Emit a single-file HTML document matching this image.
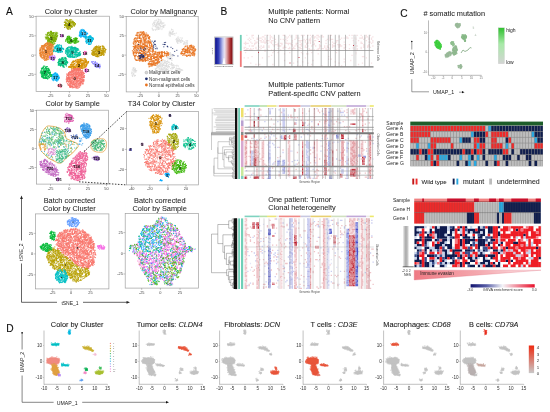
<!DOCTYPE html>
<html><head><meta charset="utf-8"><style>
html,body{margin:0;padding:0;background:#fff;width:550px;height:412px;overflow:hidden}
svg{display:block;font-family:"Liberation Sans", sans-serif;filter:blur(0.4px)}
</style></head><body>
<svg width="550" height="412" viewBox="0 0 550 412">
<text x="5.9" y="15.3" font-size="10.2" text-anchor="start" fill="#111" stroke="#111" stroke-width="0.12">A</text>
<text x="71.1" y="13.9" font-size="7.35" text-anchor="middle" fill="#222"  stroke="#222" stroke-width="0.05">Color by Cluster</text>
<rect x="36.1" y="16.2" width="73.3" height="75.2" fill="none" stroke="#a0a0a0" stroke-width="0.7"/>
<line x1="50.5" y1="91.4" x2="50.5" y2="93.2" stroke="#777" stroke-width="0.45" />
<text x="50.5" y="96.8" font-size="3.9" text-anchor="middle" fill="#444" >-25</text>
<line x1="69.4" y1="91.4" x2="69.4" y2="93.2" stroke="#777" stroke-width="0.45" />
<text x="69.4" y="96.8" font-size="3.9" text-anchor="middle" fill="#444" >0</text>
<line x1="87.9" y1="91.4" x2="87.9" y2="93.2" stroke="#777" stroke-width="0.45" />
<text x="87.9" y="96.8" font-size="3.9" text-anchor="middle" fill="#444" >25</text>
<line x1="106.5" y1="91.4" x2="106.5" y2="93.2" stroke="#777" stroke-width="0.45" />
<text x="106.5" y="96.8" font-size="3.9" text-anchor="middle" fill="#444" >50</text>
<line x1="34.3" y1="16.5" x2="36.1" y2="16.5" stroke="#777" stroke-width="0.45" />
<text x="33.7" y="17.9" font-size="3.9" text-anchor="end" fill="#444" >50</text>
<line x1="34.3" y1="35.8" x2="36.1" y2="35.8" stroke="#777" stroke-width="0.45" />
<text x="33.7" y="37.1" font-size="3.9" text-anchor="end" fill="#444" >25</text>
<line x1="34.3" y1="55.1" x2="36.1" y2="55.1" stroke="#777" stroke-width="0.45" />
<text x="33.7" y="56.5" font-size="3.9" text-anchor="end" fill="#444" >0</text>
<line x1="34.3" y1="74.3" x2="36.1" y2="74.3" stroke="#777" stroke-width="0.45" />
<text x="33.7" y="75.6" font-size="3.9" text-anchor="end" fill="#444" >-25</text>
<path stroke="#A3A500" stroke-width="9" stroke-linecap="square" transform="scale(.1)" d="M658 195h0m14 1h0m37 1h0m-45 2h0m0-1h0m37 1h0m-6 1h0m14 1h0m8-1h0m-16 3h0m-22 3h0m-16 1h0m20 0h0m-6 1h0m20 2h0m-45 0h0m26 1h0m49 1h0m-57 1h0m32 1h0m22 0h0m5-1h0m-29 3h0m22 0h0m4 0h0m-28 0h0m11 1h0m11 1h0m11 0h0m-49 1h0m15 0h0m-43 1h0m29 0h0m31 0h0m20 0h0m-89 2h0m7 1h0m39 0h0m-48 1h0m56-1h0m2 1h0m-43 1h0m71-1h0m-36 2h0m6-1h0m11 0h0m11 0h0m6 0h0m18 0h0m-89 2h0m38 0h0m9-1h0m34 1h0m3 0h0m-44 1h0m5 0h0m18-1h0m23 1h0m-14 1h0m-62 0h0m21 0h0m10 0h0m0 0h0m40 0h0m-53 2h0m48-1h0m3 1h0m-54 1h0m27 0h0m11-1h0m11 2h0m-66 1h0m36 0h0m2 0h0m-35 0h0m20 1h0m64 1h0m-95 0h0m2 0h0m12 1h0m4 1h0m47 0h0m30 0h0m-2 0h0m5 1h0m-99 0h0m57 1h0m-49 0h0m87 1h0m-95 0h0m2 1h0m78-1h0m-55 1h0m3 1h0m-1 1h0m11-1h0m-15 1h0m24 1h0m-30 0h0m14 0h0m7 1h0m-49 0h0m11 0h0m37 1h0m31-1h0m-69 1h0m19 0h0m6 0h0m0 1h0m26 0h0m28-1h0m12 1h0m8 0h0m-74 1h0m17-1h0m42 0h0m-92 2h0m6-1h0m34 1h0m14 0h0m36 0h0m-39 1h0m-41 1h0m18 0h0m8 1h0m34 0h0m-67 1h0m8-1h0m20 0h0m14 1h0m9-1h0m2 0h0m-37 2h0m-10 0h0m3 2h0m42-1h0m3 0h0m-57 1h0m12 0h0m5 1h0m82-1h0m-82 1h0m30 0h0m12 1h0m6-1h0m4 0h0m23 0h0m-63 2h0m46-1h0m8 0h0m16 1h0m-31 1h0m-27 1h0m7 0h0m18 0h0m-39 0h0m5 1h0m-16 1h0m44-1h0m8 1h0m-23 0h0m20 2h0m-6 1h0m-20 0h0m11 1h0m30-1h0m-4 2h0m-51 0h0m15 0h0m13 0h0m-4 1h0m7 0h0m16 2h0m-58 0h0m56 1h0m-71 2h0m39 0h0m-15 1h0m1 3h0m12-1h0m11 0h0m-19 4h0m-2 0h0m33 0h0m-30 2h0m14 0h0m16 1h0m-29 1h0m24 1h0m-17 2h0m-5 4h0m9 0h0m15 0h0"/>
<path stroke="#7CAE00" stroke-width="9" stroke-linecap="square" transform="scale(.1)" d="M509 312h0m2 1h0m-5 3h0m8 0h0m-11 2h0m7 1h0m4-1h0m44 5h0m-72 0h0m1 1h0m81 0h0m-53 2h0m17 0h0m-25 0h0m9 1h0m20 0h0m-58 0h0m66 0h0m-70 2h0m29-1h0m-7 1h0m67 1h0m-71 1h0m28-1h0m10 0h0m7 0h0m-54 1h0m45 1h0m0-1h0m43 0h0m6 1h0m-48 0h0m6 1h0m18 0h0m8 1h0m-80 1h0m30 0h0m19 1h0m-52 1h0m27-1h0m10 1h0m45 0h0m-83 1h0m48 0h0m6 4h0m13 0h0m8 0h0m11-1h0m-49 2h0m-53 0h0m94 1h0m-58 0h0m33 1h0m-58 1h0m94 0h0m-90 1h0m37-1h0m-12 2h0m-4 1h0m72-1h0m-110 1h0m36 0h0m16 1h0m1-1h0m1 1h0m-22 1h0m40-1h0m-57 1h0m12 2h0m19 0h0m15-1h0m28 1h0m29 0h0m-42 0h0m-36 1h0m5 0h0m21 0h0m44 2h0m-43 1h0m15-1h0m14 1h0m-88 1h0m57 0h0m30 0h0m8 1h0m-80 0h0m23 1h0m43-1h0m-70 2h0m47 0h0m27-1h0m20 0h0m3 1h0m-50 0h0m-48 2h0m26 0h0m15 0h0m-14 2h0m39-1h0m20 1h0m-56 0h0m6 0h0m51 0h0m2 0h0m-28 2h0m-22 0h0m0 0h0m-1 1h0m-62 2h0m72 1h0m-63 0h0m4 0h0m56 1h0m13 0h0m2 0h0m21-1h0m1 0h0m12 0h0m-34 2h0m5 0h0m6 0h0m-77 2h0m4 0h0m61 0h0m8-1h0m0 1h0m-34 0h0m15 1h0m-17 0h0m-21 2h0m50 0h0m-81 0h0m7 1h0m4 0h0m17-1h0m2 1h0m47 0h0m-19 0h0m43 1h0m-95 1h0m23 0h0m2 0h0m24-1h0m38 0h0m14 1h0m-88 1h0m26 0h0m4-1h0m38 0h0m11 0h0m9 0h0m-40 1h0m23 1h0m21-1h0m-50 1h0m11 0h0m24 2h0m3-1h0m-60 1h0m-3 2h0m-28 1h0m16-1h0m16 0h0m35 1h0m3 0h0m-62 0h0m72 1h0m-84 1h0m26 1h0m2-1h0m67 0h0m5 1h0m-49 0h0m15 0h0m-10 2h0m7-1h0m18 0h0m1 1h0m13-1h0m-81 1h0m20 0h0m23 0h0m34 0h0m11 1h0m-22 1h0m7 0h0m-52 0h0m37 1h0m31 0h0m-65 1h0m15 0h0m-29 0h0m9 1h0m19-1h0m-15 1h0m8 1h0m10 0h0m-29 1h0m47-1h0m-49 1h0m6 1h0m4-1h0m28 1h0m-23 1h0m14 0h0m31-1h0m-9 2h0m-58 0h0m17 1h0m63-1h0m-69 1h0m6 1h0m28 0h0m10-1h0m3 0h0m-55 2h0m47-1h0m19 0h0m5 1h0m-72 2h0m1 0h0m12-1h0m41 1h0m12 0h0m-31 2h0m20-1h0m24 0h0m-20 1h0m-49 1h0m48 0h0m-58 2h0m12 0h0m-11 0h0m12 1h0m5-1h0m6 1h0m35 1h0m17 0h0m-37 1h0m37 0h0m-39 0h0m1 1h0m-13 0h0m7 1h0m4 0h0m-15 1h0m8-1h0m34 1h0m0-1h0m-5 2h0m-57 2h0m0-1h0m13 1h0m35-1h0m-5 2h0m-26 1h0m26 1h0m-23 0h0m8 1h0m14 0h0m-3 0h0m-37 2h0m37 1h0m9 0h0m14 3h0m-42 0h0m2 1h0m25 1h0m21 1h0m-65 1h0m12 1h0m18 0h0m20 3h0m-8 2h0m-14 1h0m0 3h0m28-1h0m-42 2h0m33 0h0m-41 1h0m33 0h0m-1 1h0m9-1h0m-46 2h0m45-1h0m-12 2h0m-7 3h0m-19 0h0m5 2h0m4-1h0"/>
<path stroke="#E76BF3" stroke-width="9" stroke-linecap="square" transform="scale(.1)" d="M620 347h0m0 0h0m-10 1h0m10 2h0m10 5h0m2 1h0m-16 1h0m-2 1h0m15 1h0m-20 0h0m13 1h0m5-1h0m2 3h0m-7 3h0m-15 1h0m21 1h0m-9 4h0"/>
<path stroke="#39B600" stroke-width="9" stroke-linecap="square" transform="scale(.1)" d="M689 360h0m-9 4h0m-1 0h0m18 0h0m-20 2h0m-3 2h0m22 0h0m-7 4h0m0 0h0m-18 1h0m25 0h0m15 1h0m-21 2h0m-4 3h0m22-1h0m48 0h0m-82 1h0m4 2h0m17 0h0m2 1h0m51-1h0m17 1h0m-4 0h0m-85 2h0m15 0h0m69-1h0m-82 1h0m0 0h0m17 1h0m9-1h0m33 1h0m26-1h0m2 1h0m9-1h0m-107 1h0m9 0h0m75 0h0m17 0h0m-97 1h0m24 0h0m62 2h0m-54 0h0m40 1h0m-53 2h0m20-1h0m44 2h0m-81 1h0m2 0h0m1-1h0m3 0h0m83 0h0m-4 2h0m-71 2h0m12 0h0m41-1h0m21 1h0m4 0h0m-72 1h0m9 0h0m52 0h0m-93 0h0m88 1h0m-84 1h0m47-1h0m57 1h0m-110 0h0m13 0h0m37 1h0m37 0h0m15 0h0m7 0h0m-79 1h0m31 0h0m31 0h0m-37 1h0m2 0h0m47 0h0m-60 1h0m2 1h0m27 0h0m7 1h0m18 0h0m-18 1h0m7-1h0m9 1h0m-80 1h0m16 0h0m45-1h0m-80 2h0m95-1h0m21 1h0m-57 1h0m43 0h0m-67 2h0m19-1h0m22 1h0m-56 0h0m0 1h0m47 0h0m2 0h0m60 1h0m3-1h0m-98 1h0m30 1h0m37 0h0m-56 1h0m52 0h0m-94 0h0m48 1h0m-13 1h0m33-1h0m9 1h0m13-1h0m13 0h0m-73 1h0m67 0h0m-72 2h0m30 0h0m7 0h0m38 0h0m17 1h0m2 0h0m-69 0h0m34 0h0m11 1h0m26-1h0m-106 3h0m57 1h0m-38 1h0m2 1h0m2-1h0m21 1h0m26-1h0m-67 1h0m83 1h0m2 0h0m-74 2h0m16 0h0m8 1h0m48-1h0m-14 2h0m-39 1h0m-15 0h0m-2 1h0m52 0h0m11 0h0"/>
<path stroke="#00B0F6" stroke-width="9" stroke-linecap="square" transform="scale(.1)" d="M823 293h0m-9 6h0m-2 1h0m27-1h0m-16 1h0m12 0h0m-24 2h0m26-1h0m-26 2h0m33 2h0m-17 0h0m-8 2h0m22 0h0m-6 2h0m-26 2h0m-8 0h0m42 1h0m4 0h0m-36 3h0m2-1h0m4 1h0m24 0h0m-30 2h0m30-1h0m-2 1h0m16 1h0m-57 1h0m21-1h0m36 0h0m-39 2h0m25 0h0m19 1h0m-11 2h0m7 2h0m0 0h0m-58 2h0m3 0h0m10 1h0m57 1h0m-66 0h0m0 1h0m70 1h0m-54 0h0m9 0h0m8 0h0m6 1h0m-36 1h0m3 1h0m14 1h0m49 1h0m-63 0h0m67 1h0m-77 0h0m19 1h0m44 0h0m-50 1h0m66-1h0m-73 2h0m0 0h0m19 1h0m43 1h0m-4 1h0m-49 1h0m10-1h0m18 0h0m-30 2h0m32 1h0m-12 2h0m-28 1h0m10-1h0m36 1h0m1 0h0m15-1h0m-72 2h0m27-1h0m-22 1h0m2 1h0m14 0h0m39 1h0m-56 1h0m19 0h0m10 1h0m-17 2h0m50 1h0m-62 0h0m39 1h0m-44 1h0m17-1h0m17 1h0m-29 0h0m53 0h0m-52 1h0m56 0h0m4 2h0m-37 0h0m19 1h0m-32 1h0m29-1h0m6 0h0m10 0h0m-18 1h0m5 0h0m-7 1h0m3 1h0m13-1h0m-32 1h0m32 2h0m-14 1h0m-27 1h0m1 3h0m-257 353h0m7 2h0m-14 5h0m5 3h0m6 0h0m13 1h0m-21 2h0m6 0h0m-15 1h0m26 1h0m7 0h0m0 1h0m-40 0h0m7 1h0m31 1h0m0 1h0m1 0h0m3 0h0m-48 1h0m31 1h0m-30 1h0m9-1h0m-3 2h0m8 0h0m22 0h0m13 1h0m1 0h0m-10 1h0m-22 0h0m36 0h0m-11 1h0m-4 1h0m8 1h0m-51 3h0m40-1h0m-8 2h0m-18 1h0m32 0h0m18-1h0m-38 2h0m22 0h0m-42 0h0m22 0h0m-29 2h0m26 1h0m35 0h0m-42 2h0m9-1h0m-31 1h0m15 1h0m25 0h0m13 0h0m-48 2h0m38-1h0m27 0h0m-50 1h0m29 0h0m-25 2h0m13 0h0m-21 1h0m48 1h0m-62 1h0m68 1h0m-15 1h0m15 1h0m5 2h0m-52 1h0m9 0h0m17-1h0m-29 3h0m-2 0h0m6 1h0m-25 1h0m43 0h0m-28 1h0m13 1h0m21 0h0m-20 1h0m32 0h0m5 0h0m2-1h0m5 1h0m-41 1h0m35 1h0m-17 0h0m-47 3h0m45 1h0m-39 0h0m3 1h0m35-1h0m12 2h0m-4 0h0m-32 2h0m29 0h0m7 0h0m-41 0h0m15 1h0m10 0h0m17 2h0m4 0h0m-15 1h0m9 0h0m-36 1h0m-12 1h0m26-1h0m1 0h0m9 5h0m-30 1h0m32 3h0m6 0h0"/>
<path stroke="#00BAE0" stroke-width="9" stroke-linecap="square" transform="scale(.1)" d="M899 358h0m1 1h0m4 2h0m6 1h0m-20 2h0m4 0h0m9-1h0m-36 3h0m17 0h0m11-1h0m-5 1h0m-27 2h0m34 0h0m0 0h0m10-1h0m-54 2h0m60 0h0m-50 2h0m5-1h0m10 0h0m5 0h0m-5 4h0m20-1h0m-38 1h0m2 0h0m22 1h0m12 0h0m15 0h0m10 0h0m-69 0h0m5 1h0m45-1h0m7 0h0m11 1h0m-72 1h0m74 0h0m-39 0h0m27 1h0m-53 0h0m39 2h0m24 1h0m13 0h0m-24 1h0m-55 1h0m79 1h0m-72 0h0m65 1h0m-43 0h0m5 0h0m24 1h0m-51 1h0m23 0h0m-12 1h0m19-1h0m9 1h0m28 0h0m-17 2h0m19 0h0m-38 1h0m38 2h0m-16 0h0m0 1h0m15-1h0m-33 1h0m-36 2h0m21 0h0m19-1h0m-20 2h0m24 0h0m29 0h0m-59 1h0m27 1h0m11 0h0m-19 1h0m2 0h0m-9 2h0m4 0h0m7-1h0m-34 2h0m17 0h0m-12 1h0m21-1h0m17 1h0m2 1h0m17-1h0m-65 5h0m50-1h0m5 1h0m7-1h0m-44 1h0m24 1h0m5 0h0m13 0h0m-40 0h0m7 1h0m7-1h0m31 1h0m-55 0h0m45 0h0m-20 1h0m-33 2h0m6-1h0m44 1h0m2 1h0m-58 3h0m12 1h0m45 0h0m-19 1h0m3 0h0m-16 1h0m-16 2h0m50 1h0m-41 1h0m7 1h0m16-1h0m-8 3h0m19 0h0m-44 2h0m47-1h0m-44 4h0m14-1h0m6 1h0m25 4h0m-18 3h0m0 1h0m5 0h0m7 3h0m-22 0h0m3 1h0m5 0h0"/>
<path stroke="#EA8331" stroke-width="9" stroke-linecap="square" transform="scale(.1)" d="M473 425h0m2 3h0m-11 2h0m32 0h0m-14 1h0m16 0h0m-1 2h0m1 0h0m-45 2h0m13-1h0m9 0h0m-17 2h0m18 1h0m2-1h0m5 1h0m19-1h0m7 2h0m-38 1h0m21-1h0m-22 2h0m40 1h0m-51 0h0m11 1h0m32 1h0m3 0h0m-48 1h0m17-1h0m2 0h0m1 1h0m36 0h0m-36 0h0m34 1h0m11-1h0m6 1h0m-82 0h0m65 1h0m2 0h0m1 0h0m-35 1h0m6 0h0m15 0h0m14 0h0m10 1h0m-71 0h0m61 1h0m15 1h0m-83 1h0m55 1h0m24-1h0m-84 1h0m5 1h0m9 0h0m11 1h0m-45 1h0m15-1h0m26 0h0m1 1h0m-31 1h0m26-1h0m22 0h0m24 1h0m0 0h0m22 0h0m-101 0h0m33 0h0m48 0h0m-59 1h0m64 0h0m-63 2h0m0 0h0m-34 1h0m29-1h0m23 1h0m-29 0h0m34 1h0m20 0h0m5 0h0m17 0h0m-98 0h0m15 1h0m2 0h0m93 0h0m-97 1h0m49 0h0m11 0h0m-12 0h0m8 1h0m-54 0h0m50 1h0m16-1h0m16 0h0m0 0h0m-89 2h0m6 0h0m21 0h0m82 1h0m-89 1h0m65 0h0m-92 0h0m1 1h0m16 0h0m23-1h0m27 1h0m28 0h0m-76 2h0m86 0h0m9-1h0m2 0h0m-92 1h0m28 1h0m7 1h0m7-1h0m4 1h0m7-1h0m6 1h0m-34 2h0m47 0h0m-94 1h0m51-1h0m24 0h0m-80 2h0m10 0h0m25 0h0m-10 1h0m53-1h0m-88 2h0m16 0h0m51 0h0m28-1h0m7 1h0m8-1h0m-96 2h0m52 0h0m43-1h0m-83 2h0m35 0h0m27-1h0m28 0h0m-35 1h0m11 0h0m-84 2h0m34 0h0m-43 0h0m30 1h0m74-1h0m15 1h0m-94 1h0m49 0h0m-43 0h0m46 0h0m7 1h0m27 0h0m-78 1h0m35 1h0m10-1h0m25 1h0m-29 1h0m26-1h0m15 0h0m-89 1h0m49 1h0m1-1h0m6 0h0m1 0h0m6 1h0m-68 1h0m14-1h0m77 0h0m21 1h0m-134 1h0m27-1h0m51 1h0m12-1h0m8 0h0m1 0h0m3 0h0m-65 4h0m58 0h0m39-1h0m-132 2h0m18 0h0m27-1h0m24 0h0m5 0h0m16 1h0m-90 0h0m44 1h0m5 0h0m27-1h0m19 0h0m-95 2h0m8-1h0m34 1h0m24 0h0m5 0h0m56-1h0m-103 2h0m73-1h0m25 1h0m-99 1h0m84-1h0m2 0h0m-107 1h0m34 0h0m40 1h0m-13 1h0m4 1h0m-62 1h0m88 1h0m-97 0h0m2 1h0m133-1h0m-51 2h0m38 0h0m8 0h0m-107 0h0m28 1h0m16-1h0m-18 2h0m37-1h0m27 0h0m-63 1h0m9 1h0m-55 1h0m26 0h0m16-1h0m36 0h0m25 1h0m18-1h0m14 0h0m-141 2h0m15 0h0m50 1h0m49-1h0m-87 1h0m86 0h0m24 0h0m-59 1h0m25 0h0m-17 1h0m48 1h0m-93 1h0m19-1h0m33 1h0m11-1h0m-82 1h0m48 1h0m32-1h0m-52 1h0m14 1h0m7-1h0m-46 2h0m90 0h0m-105 0h0m23 0h0m21 1h0m2 0h0m33-1h0m-55 1h0m20 0h0m21 0h0m20 0h0m-35 1h0m4 0h0m49 0h0m-73 1h0m-26 2h0m60-1h0m19 0h0m-87 2h0m17-1h0m4 1h0m29-1h0m-18 1h0m54 1h0m-25 0h0m2 1h0m-64 0h0m0 1h0m22 0h0m-22 0h0m4 1h0m11-1h0m65 1h0m27-1h0m13 0h0m3 1h0m2 0h0m-99 0h0m39 0h0m32 0h0m22 0h0m-118 2h0m76-1h0m45 0h0m-117 1h0m48 1h0m21-1h0m-77 2h0m9-1h0m34 0h0m52 0h0m-90 2h0m0-1h0m22 0h0m48 0h0m15 1h0m-45 1h0m71-1h0m-73 2h0m20-1h0m-52 2h0m16-1h0m69 1h0m-93 0h0m89 1h0m17-1h0m-53 1h0m13 1h0m13-1h0m35 1h0m-81 0h0m7 0h0m22 1h0m-65 1h0m39 0h0m28-1h0m-11 1h0m48 1h0m-30 0h0m20 1h0m-78 0h0m7 1h0m32 0h0m69 0h0m-106 2h0m82-1h0m-92 2h0m9 0h0m45-1h0m8 0h0m20 0h0m24 0h0m3 1h0m12 0h0m-123 0h0m50 1h0m52 0h0m-91 2h0m82-1h0m7 1h0m-101 0h0m3 1h0m25-1h0m9 1h0m34 0h0m19 0h0m12-1h0m-72 1h0m11 1h0m44 0h0m-13 1h0m45 0h0m-108 1h0m21 0h0m-32 0h0m50 2h0m-26 1h0m-24 1h0m34 0h0m4-1h0m18 1h0m14 1h0m-8 1h0m12-1h0m10 0h0m-81 1h0m71 0h0m1 0h0m13 0h0m-56 2h0m-23 0h0m32 1h0m49-1h0m-79 2h0m83-1h0m24 1h0m-108 1h0m102 0h0m5-1h0m-75 2h0m13 0h0m1 0h0m16-1h0m21 1h0m-30 2h0m-56 1h0m38-1h0m67 0h0m-76 2h0m38-1h0m25 1h0m9 0h0m-64 1h0m-25 1h0m61-1h0m7 1h0m-45 0h0m66 0h0m-90 2h0m12 0h0m1-1h0m73 0h0m-46 2h0m30-1h0m8 0h0m7 0h0m-59 2h0m29 0h0m15-1h0m-50 2h0m0 0h0m-23 1h0m27 1h0m59-1h0m-58 1h0m18 0h0m48 1h0m-1 1h0m-86 0h0m82 1h0m-65 0h0m27 1h0m1 0h0m-39 2h0m34-1h0m41 2h0m-48 0h0m43 1h0m-55 0h0m21 1h0m13-1h0m27 2h0m-20 0h0m-21 2h0m-27 2h0m20 0h0m15 2h0m8 0h0m-31 1h0m3 0h0m17 1h0m-13 5h0m7-1h0m-18 3h0"/>
<path stroke="#00BFC4" stroke-width="9" stroke-linecap="square" transform="scale(.1)" d="M594 448h0m-19 1h0m23 1h0m-18 1h0m-13 2h0m14-1h0m4 1h0m29 0h0m-4 2h0m-44 1h0m19 2h0m13 0h0m-28 1h0m-7 1h0m9 0h0m-13 1h0m54 1h0m-40 3h0m43-1h0m-50 1h0m-6 1h0m5 1h0m-15 0h0m36 0h0m2 2h0m27 1h0m-49 0h0m49 1h0m-63 0h0m22 1h0m25-1h0m-45 1h0m0 2h0m34-1h0m27 3h0m-42 0h0m2 0h0m12 0h0m-3 1h0m16 0h0m-54 1h0m38 1h0m34-1h0m-22 1h0m0 1h0m19-1h0m-6 1h0m5 0h0m-72 1h0m73 0h0m-31 2h0m19-1h0m4 0h0m-21 1h0m5 0h0m7 0h0m26 0h0m3 1h0m-77 0h0m12 0h0m31 0h0m35 0h0m4 0h0m-8 1h0m4 1h0m-72 1h0m31-1h0m18 1h0m14 0h0m-48 1h0m-21 2h0m87 1h0m-27 0h0m4 1h0m-48 0h0m16 1h0m10-1h0m5 0h0m15 1h0m-44 1h0m34-1h0m34 1h0m-46 1h0m7 0h0m-29 1h0m0 1h0m19-1h0m15 0h0m28 0h0m-34 2h0m-53 1h0m39-1h0m19 0h0m7 1h0m-31 1h0m11-1h0m8 1h0m11 0h0m3 1h0m-17 0h0m-20 1h0m-32 2h0m46 1h0m28 1h0m-49 2h0m4 0h0m24-1h0m-59 2h0m24 0h0m27 0h0m6 0h0m23 1h0m-38 0h0m3 1h0m6-1h0m-41 1h0m18 1h0m23 0h0m-27 2h0m27 0h0m15 0h0m23 0h0m-51 1h0m17 0h0m35-1h0m-20 1h0m-69 1h0m20 1h0m12 0h0m49 2h0m-37 2h0m13-1h0m-17 2h0m46-1h0m-19 1h0m-17 1h0m21 2h0m-18 1h0"/>
<path stroke="#00C1A3" stroke-width="9" stroke-linecap="square" transform="scale(.1)" d="M718 462h0m-6 4h0m-10 2h0m-13 1h0m33 1h0m-34 2h0m26 1h0m13-1h0m-31 1h0m23 0h0m29 0h0m1 0h0m3 1h0m-46 0h0m5 0h0m15 1h0m16 0h0m1 0h0m-69 2h0m3-1h0m61 1h0m-50 1h0m30 0h0m2 0h0m16 0h0m11 1h0m14 0h0m-85 1h0m12 0h0m60-1h0m8 1h0m-83 1h0m42-1h0m20 0h0m7 0h0m14 1h0m-78 0h0m42 1h0m19 0h0m18 0h0m-35 2h0m11-1h0m14 1h0m21-1h0m-95 1h0m31 0h0m20 1h0m17-1h0m10 0h0m5 0h0m19 1h0m-107 0h0m1 0h0m2 1h0m50-1h0m-48 2h0m46 0h0m37-1h0m10 1h0m-42 2h0m26-1h0m12 1h0m17 0h0m-76 1h0m51 0h0m10 0h0m1 0h0m16-1h0m-76 1h0m64 0h0m6 1h0m-105 1h0m98 0h0m-108 0h0m31 1h0m-20 1h0m64 2h0m19 0h0m26 0h0m-94 0h0m13 1h0m21 0h0m28 0h0m-75 0h0m8 1h0m65-1h0m-40 1h0m8 1h0m62-1h0m-58 2h0m3-1h0m17 0h0m29 0h0m-106 2h0m48-1h0m17 1h0m59-1h0m-71 2h0m75 0h0m-54 2h0m22-1h0m-96 2h0m66-1h0m35 1h0m7 0h0m6-1h0m-100 2h0m9-1h0m4 0h0m5 1h0m25-1h0m18 1h0m24 0h0m-103 0h0m64 0h0m-55 1h0m84 0h0m-73 1h0m44 0h0m-31 2h0m11 0h0m57 0h0m0-1h0m-97 1h0m37 0h0m11 1h0m3 0h0m8-1h0m51 2h0m-108 0h0m56 1h0m-48 2h0m11-1h0m54 1h0m-44 1h0m19 0h0m53-1h0m37 0h0m-64 1h0m-70 2h0m59 0h0m-68 0h0m8 0h0m13 0h0m72 0h0m0 0h0m8 0h0m-106 1h0m34 1h0m7 0h0m16 0h0m42 0h0m13 0h0m-89 1h0m23-1h0m33 0h0m-54 2h0m3-1h0m45 1h0m3 0h0m2-1h0m21 1h0m-49 0h0m10 1h0m40 1h0m20 0h0m-64 1h0m58-1h0m13 1h0m-61 0h0m28 0h0m47 0h0m2 0h0m-116 2h0m63-1h0m11 0h0m-90 2h0m133 0h0m-122 1h0m2 0h0m12 0h0m107 1h0m-140 0h0m64 0h0m65 1h0m15-1h0m-116 2h0m57-1h0m49 0h0m-135 1h0m102 1h0m4 1h0m23 0h0m-104 2h0m22 0h0m4-1h0m92 0h0m-130 3h0m35-1h0m5 1h0m100 0h0m-85 1h0m61 0h0m2 0h0m-41 1h0m-31 1h0m66-1h0m-105 2h0m1-1h0m41 1h0m58-1h0m30 1h0m-110 0h0m16 0h0m45 0h0m29 1h0m10 0h0m-69 1h0m17 0h0m16-1h0m-54 2h0m3 0h0m61-1h0m6 1h0m26 0h0m-53 0h0m53 1h0m-119 1h0m78 0h0m-94 0h0m31 1h0m10-1h0m18 0h0m38 0h0m-59 2h0m28-1h0m31 0h0m22 0h0m18 0h0m-35 1h0m2 0h0m-93 2h0m3-1h0m22 0h0m91 0h0m8 0h0m-107 1h0m5 1h0m50 0h0m-41 0h0m55 0h0m34 0h0m-106 1h0m99 0h0m-69 2h0m70 0h0m7 0h0m-69 1h0m-36 0h0m11 0h0m71 1h0m14-1h0m7 1h0m-45 0h0m33 0h0m-83 3h0m21 0h0m65 0h0m-114 0h0m18 0h0m11 1h0m55-1h0m18 0h0m-100 2h0m10 0h0m36-1h0m1 0h0m5 0h0m47 0h0m1 1h0m-99 0h0m11 1h0m23 1h0m58-1h0m5 0h0m-90 1h0m10 1h0m13 1h0m16 0h0m28 1h0m-3 0h0m-41 1h0m2 0h0m8 1h0m26-1h0m-56 2h0m17 0h0m29 0h0m34 0h0m-76 0h0m27 0h0m16 1h0m-27 0h0m22 1h0m-31 1h0m29 0h0m10 0h0m7 1h0m0 1h0m16-1h0"/>
<path stroke="#C09B00" stroke-width="9" stroke-linecap="square" transform="scale(.1)" d="M988 458h0m-21 1h0m54 1h0m9 0h0m-3 1h0m-22 3h0m0 2h0m20 0h0m-65 0h0m22 0h0m25 0h0m-54 1h0m12 0h0m1 0h0m9 1h0m61 0h0m3 0h0m-86 0h0m12 0h0m37 0h0m4 1h0m-42 0h0m9 1h0m25-1h0m36 1h0m-42 0h0m-31 2h0m-6 0h0m8 1h0m30 0h0m-14 0h0m11 0h0m38 1h0m-60 2h0m19-1h0m8 0h0m-51 1h0m50 1h0m2 0h0m3 1h0m-45 2h0m24 0h0m63 0h0m-80 0h0m46 1h0m37 0h0m-104 2h0m1 0h0m30-1h0m-18 1h0m32 1h0m45 0h0m8 0h0m8 0h0m-66 0h0m64 0h0m-85 2h0m85 0h0m-93 0h0m45 1h0m-46 1h0m4-1h0m45 0h0m42 0h0m-77 1h0m60 1h0m5-1h0m1 1h0m23 0h0m-45 1h0m3-1h0m-76 2h0m64-1h0m32 0h0m-31 2h0m5 0h0m25 0h0m-97 1h0m16 0h0m9 1h0m11 0h0m-38 2h0m49-1h0m81 1h0m-120 0h0m26 0h0m22 0h0m47 0h0m-42 2h0m61-1h0m-61 2h0m2 0h0m1 0h0m-35 0h0m0 0h0m3 1h0m89-1h0m-106 1h0m27 1h0m12-1h0m-15 1h0m10 0h0m5 0h0m2 0h0m29 2h0m27-1h0m-59 1h0m29 0h0m-74 2h0m14 1h0m9 0h0m6-1h0m3 1h0m29 0h0m26 0h0m-111 0h0m6 1h0m72 0h0m3-1h0m18 1h0m13 0h0m6-1h0m-105 1h0m51 0h0m8 0h0m61 0h0m2 1h0m-37 1h0m14-1h0m-8 1h0m13 0h0m-103 2h0m75-1h0m-24 1h0m2 1h0m67 0h0m-80 1h0m-39 2h0m28 0h0m84 0h0m-69 0h0m25 1h0m-64 0h0m13 1h0m1 0h0m4-1h0m42 1h0m37-1h0m-93 1h0m16 1h0m72-1h0m-51 2h0m5 0h0m45 0h0m3 0h0m-105 0h0m112 0h0m-92 1h0m5 0h0m42 1h0m60 0h0m-110 1h0m30 0h0m8-1h0m3 0h0m11 1h0m23-1h0m9 0h0m4 0h0m-93 1h0m28 1h0m54 0h0m14 0h0m-113 1h0m94 0h0m-81 1h0m77-1h0m-19 1h0m18 1h0m-83 1h0m8 0h0m90-1h0m-34 1h0m18 1h0m-2 1h0m45-1h0m-109 2h0m4 0h0m51-1h0m17 1h0m21 0h0m11-1h0m-112 2h0m20 1h0m36 0h0m17 0h0m4 1h0m-21 2h0m24-1h0m13 1h0m-109 1h0m21-1h0m23 1h0m5 0h0m51 0h0m-88 1h0m26 0h0m10-1h0m45 1h0m22 0h0m-86 0h0m33 1h0m-59 0h0m9 1h0m13-1h0m37 0h0m18 0h0m-66 2h0m4 0h0m56 0h0m25 0h0m11-1h0m-2 2h0m8-1h0m-105 2h0m17-1h0m46 0h0m-69 2h0m98-1h0m-68 2h0m14-1h0m3 0h0m2 1h0m48 0h0m22 0h0m-122 1h0m25 0h0m21-1h0m14 0h0m34 0h0m-87 2h0m18 1h0m8 0h0m-27 1h0m25-1h0m30 0h0m50 1h0m-85 1h0m73 0h0m-48 0h0m6 1h0m8-1h0m25 1h0m-51 1h0m14 0h0m-27 1h0m16-1h0m37 1h0m38-1h0m-100 1h0m66 0h0m5 0h0m-78 2h0m41-1h0m7 1h0m-44 0h0m104 0h0m-27 1h0m1 0h0m-35 3h0m21-1h0m-45 3h0m24 0h0m1 1h0m-12 2h0m-9 0h0m15 0h0m3 1h0m-10 1h0m19 0h0m-10 2h0m-2 1h0m17 0h0"/>
<path stroke="#FF62BC" stroke-width="9" stroke-linecap="square" transform="scale(.1)" d="M849 514h0m-1 1h0m-4 0h0m14 1h0m5 2h0m-9 2h0m-16 5h0m13 6h0m10 1h0m-25 1h0m2-1h0m18 1h0m-7 1h0m-3 2h0m18-1h0m-29 3h0m19 0h0m-11 1h0m9 0h0m4 5h0m-11 3h0m0-1h0"/>
<path stroke="#C77CFF" stroke-width="9" stroke-linecap="square" transform="scale(.1)" d="M523 558h0m23-1h0m-19 3h0m-3 1h0m14 2h0m-40 0h0m2 1h0m-2 1h0m23 2h0m1 0h0m-14 1h0m-9 1h0m46 0h0m-21 2h0m28-1h0m-43 2h0m11-1h0m3 1h0m-26 0h0m18 1h0m25 0h0m0 1h0m13 0h0m-58 1h0m39-1h0m1 1h0m-25 0h0m32 2h0m9 1h0m-16 0h0m-8 2h0m17 0h0m-20 0h0m23 1h0m-21 2h0m-13 0h0m18 0h0m-32 1h0m47 1h0m-17 1h0m-10 3h0m-7 2h0m6 2h0m18-1h0m-28 2h0m27 2h0m-22 1h0m17 2h0m-5 5h0m0 0h0m4 0h0m12-1h0m-4 3h0"/>
<path stroke="#00BF7D" stroke-width="9" stroke-linecap="square" transform="scale(.1)" d="M651 574h0m-11 0h0m-19 2h0m35 1h0m-30 3h0m-5 1h0m0 0h0m6 0h0m27-1h0m-12 2h0m15 1h0m1 1h0m3 0h0m-48 0h0m7 1h0m28 1h0m-22 1h0m-27 2h0m-2 1h0m38 0h0m22 0h0m-11 2h0m-26 1h0m-28 1h0m23-1h0m52 0h0m-73 1h0m19 0h0m0 0h0m-25 2h0m17 0h0m27 0h0m-26 2h0m27-1h0m22 1h0m-29 0h0m-20 2h0m25 0h0m-36 3h0m11-1h0m-16 2h0m43 0h0m12 0h0m5 1h0m7-1h0m4 0h0m4 1h0m-54 2h0m0 1h0m12 0h0m33 0h0m-58 0h0m0 2h0m22 0h0m-35 2h0m16 1h0m20 0h0m-33 0h0m7 2h0m21-1h0m31 1h0m-8 1h0m1 0h0m4 0h0m17-1h0m-71 2h0m14-1h0m8 0h0m53 0h0m-79 2h0m16 0h0m13-1h0m55 0h0m-19 2h0m-22 1h0m0-1h0m0 1h0m40 0h0m0 0h0m4 0h0m-53 2h0m7 0h0m-36 1h0m81 0h0m-47 0h0m28 0h0m0 1h0m24-1h0m0 1h0m-99 0h0m7 0h0m49 2h0m-15 1h0m17 0h0m22 0h0m-26 0h0m32 1h0m2-1h0m-41 1h0m38 1h0m-73 1h0m65-1h0m-74 1h0m21 0h0m34 1h0m-14 1h0m24 0h0m-60 1h0m26-1h0m41 1h0m-51 1h0m51 0h0m21-1h0m-79 2h0m11-1h0m8 1h0m3 0h0m41 0h0m-63 0h0m42 0h0m-25 2h0m34 1h0m-29 1h0m33-1h0m-63 2h0m12 0h0m-4 1h0m31-1h0m18 1h0m-60 0h0m30 1h0m23 1h0m12 0h0m9 0h0m-56 0h0m7 1h0m11-1h0m35 1h0m9-1h0m-79 1h0m15 2h0m14 0h0m50 1h0m-78 1h0m56 0h0m12 0h0m8 0h0m-55 2h0m-25 1h0m46-1h0m1 1h0m32-1h0m-29 2h0m-41 1h0m23 0h0m-22 1h0m39 0h0m-27 1h0m21 1h0m-21 2h0m2 0h0m-1 0h0m17 0h0m3 2h0m39 1h0m-27 2h0m1-1h0m-2 1h0m-1 1h0m-2 5h0m0 2h0m11 2h0"/>
<path stroke="#D89000" stroke-width="9" stroke-linecap="square" transform="scale(.1)" d="M831 586h0m14 1h0m-36 2h0m47 0h0m-44 1h0m39 1h0m5 0h0m-50 1h0m3-1h0m-13 1h0m-14 2h0m14 2h0m9 0h0m43-1h0m-85 3h0m14-1h0m11 0h0m-13 1h0m12 3h0m44-1h0m27 1h0m6 0h0m-47 0h0m4 1h0m29-1h0m-32 2h0m0 0h0m4 0h0m-67 0h0m109 1h0m-43 0h0m-18 1h0m10 0h0m11 0h0m8 0h0m6 1h0m18 0h0m-58 0h0m-45 1h0m5 1h0m24-1h0m7 0h0m13 1h0m6-1h0m-3 1h0m0 0h0m17 1h0m-59 1h0m14-1h0m68 0h0m-111 1h0m15 1h0m-18 0h0m40 1h0m6 0h0m31 0h0m28 1h0m28-1h0m-123 1h0m116 0h0m9 1h0m-125 0h0m3 1h0m18-1h0m19 1h0m76 0h0m29 0h0m-104 1h0m2-1h0m10 0h0m0 0h0m11 0h0m51 0h0m-77 2h0m40 0h0m24-1h0m38 1h0m-96 0h0m13 1h0m70 0h0m-143 1h0m11-1h0m-12 1h0m55 0h0m101 1h0m-30 1h0m33 0h0m-147 1h0m1-1h0m32 1h0m26 1h0m42 0h0m-60 1h0m17-1h0m1 1h0m8-1h0m53 0h0m-133 2h0m60 0h0m64-1h0m35 1h0m-164 1h0m44 0h0m93 0h0m-69 0h0m7 0h0m68 2h0m3-1h0m6 0h0m-80 2h0m54-1h0m35 0h0m-122 2h0m18 0h0m94 0h0m-94 1h0m31 0h0m11-1h0m19 0h0m-56 1h0m41 0h0m4 0h0m7 1h0m49-1h0m-77 2h0m12-1h0m8 1h0m19-1h0m6 1h0m-32 0h0m-72 2h0m94-1h0m32 0h0m-47 1h0m13 1h0m-61 1h0m1-1h0m-58 1h0m62 0h0m92 1h0m-128 1h0m43-1h0m-75 1h0m82 0h0m-65 3h0m3-1h0m53 1h0m0-1h0m55 1h0m-110 0h0m36 1h0m25 0h0m-64 1h0m11-1h0m48 0h0m3 0h0m31 0h0m5 1h0m22 0h0m9-1h0m-74 1h0m37 0h0m-112 2h0m6 0h0m2 0h0m64 0h0m17-1h0m29 0h0m-10 2h0m1-1h0m2 0h0m-59 1h0m57 1h0m49-1h0m3 1h0m-35 0h0m7 0h0m25 1h0m-159 1h0m4-1h0m25 0h0m29 0h0m14 0h0m18 0h0m69 1h0m-161 0h0m69 0h0m48 1h0m26 0h0m-127 1h0m16-1h0m53 1h0m29-1h0m13 0h0m28 1h0m-97 1h0m14-1h0m16 1h0m19 1h0m11-1h0m-32 1h0m37 0h0m-31 2h0m10-1h0m4 1h0m3-1h0m-94 2h0m125-1h0m19 1h0m-136 1h0m64 0h0m2-1h0m15 1h0m6 0h0m-93 0h0m37 0h0m29 1h0m40 0h0m-46 0h0m7 1h0m71 0h0m-161 1h0m60-1h0m39 0h0m-65 2h0m9-1h0m38 0h0m15 1h0m20 0h0m17 0h0m19-1h0m6 1h0m-44 1h0m34-1h0m13 1h0m-141 0h0m3 1h0m20-1h0m-12 2h0m98 0h0m-136 0h0m4 1h0m49 0h0m24 0h0m1-1h0m51 0h0m-129 1h0m18 0h0m4 0h0m9 1h0m50 0h0m43 0h0m-81 0h0m2 1h0m59-1h0m-105 2h0m9 0h0m1-1h0m91 1h0m12 0h0m38 0h0m-152 1h0m15 0h0m45-1h0m60 0h0m-121 1h0m24 0h0m38 1h0m2-1h0m56 1h0m5 0h0m45-1h0m-121 2h0m42-1h0m19 0h0m12 0h0m5 1h0m31 0h0m8-1h0m-142 2h0m18-1h0m13 0h0m10 0h0m38 1h0m-88 1h0m45-1h0m76 0h0m-135 1h0m31 0h0m67 0h0m8 0h0m-59 2h0m15-1h0m9 1h0m-51 1h0m69-1h0m61 1h0m-103 0h0m104 1h0m-88 0h0m25 0h0m51 1h0m-68 0h0m77 1h0m-80 1h0m41 0h0m9-1h0m-71 3h0m3-1h0m41 1h0m12 0h0m-76 1h0m12-1h0m10 1h0m16 0h0m31-1h0m9 1h0m3 0h0m21 1h0m1 0h0m-46 0h0m8 1h0m-42 0h0m41 1h0m38-1h0m-74 1h0m50 1h0m31 1h0m-46 1h0m4-1h0m19 1h0m-83 1h0m12-1h0m7 1h0m6 0h0m40 3h0m-43 0h0m39 0h0m-20 1h0m17 0h0m-36 2h0m32-1h0m9 0h0m17 1h0m-18 0h0m10 0h0m-45 2h0m12-1h0m5 0h0m6 0h0m1 1h0m10-1h0m16 0h0m3 0h0m-37 2h0m41 1h0"/>
<path stroke="#9590FF" stroke-width="9" stroke-linecap="square" transform="scale(.1)" d="M936 615h0m-16 2h0m35 0h0m-35 1h0m-1 2h0m-3 0h0m12 0h0m19 1h0m6-1h0m-28 1h0m31 2h0m-1 0h0m0 1h0m-4 2h0m-3 1h0m14 2h0m12 2h0m-49 2h0m6 0h0m30 0h0m-25 2h0m37 0h0m-31 2h0m5 1h0m33-1h0m-48 2h0m16 0h0m6 0h0m7 1h0m5 0h0m7 1h0m-23 0h0m-13 1h0m62 1h0m-31 0h0m26 1h0m-12 1h0m1-1h0m13 1h0m-41 0h0m35 1h0m-26 1h0m22-1h0m-25 1h0m2 1h0m-17 2h0m8-1h0m21 0h0m7 1h0m-26 1h0m-9 1h0m22 2h0m9 0h0m16 1h0m3 0h0m-50 3h0m53 0h0m-36 1h0m5-1h0m-13 2h0m8 0h0m4 2h0m27-1h0m6 0h0m-49 2h0m1-1h0m26 1h0m6 1h0m14-1h0m-46 2h0m18-1h0m-6 2h0m27 0h0m5 0h0m-28 0h0m31 1h0m2 0h0m-37 2h0m33-1h0m-21 1h0m20 0h0m-36 2h0m9 2h0m9 0h0m-16 0h0m21 0h0m12 1h0m1 8h0"/>
<path stroke="#FA62DB" stroke-width="9" stroke-linecap="square" transform="scale(.1)" d="M858 687h0m3 0h0m1 5h0m7 1h0m-4 1h0m10 0h0m-26 3h0m19 0h0m-2 7h0m-4 1h0m-1 1h0m-11 1h0m-1 1h0m33 2h0m-28 2h0m16 0h0m4 0h0m-12 1h0m-4 5h0m0 0h0m9 2h0m-4 2h0"/>
<path stroke="#00BB4E" stroke-width="9" stroke-linecap="square" transform="scale(.1)" d="M440 659h0m-2 4h0m11 0h0m21 2h0m2 1h0m-9 1h0m-27 3h0m-7 2h0m24-1h0m14 2h0m-35 1h0m4 2h0m19 0h0m-23 4h0m23 0h0m-41 2h0m10 0h0m33 0h0m-30 0h0m59 1h0m-25 1h0m22 0h0m-58 1h0m39 0h0m9-1h0m-55 1h0m28 1h0m24 0h0m0 1h0m-7 0h0m-33 2h0m-15 2h0m15 0h0m27 1h0m31-1h0m-21 1h0m-34 1h0m49 0h0m10 1h0m-10 0h0m6 2h0m-44 1h0m22 2h0m-51 1h0m52-1h0m-6 1h0m6 0h0m15 2h0m-33 0h0m35 1h0m2 0h0m-75 1h0m45 0h0m21 1h0m12-1h0m5 0h0m-58 2h0m16-1h0m44 0h0m-32 1h0m-12 2h0m16 0h0m-35 1h0m18-1h0m32 0h0m-60 2h0m16-1h0m37 1h0m-30 1h0m7-1h0m20 0h0m-64 2h0m65 0h0m8 0h0m-16 1h0m35 0h0m-70 1h0m1 1h0m10 0h0m25 0h0m-58 1h0m32-1h0m-26 2h0m30 1h0m-22 0h0m59 1h0m-34 1h0m16 0h0m23-1h0m-58 1h0m19 0h0m-5 1h0m27 0h0m5 0h0m8 1h0m10 0h0m-85 1h0m29 0h0m12 0h0m3-1h0m39 1h0m-66 1h0m47 0h0m-27 0h0m3 0h0m8 0h0m44 1h0m5 0h0m-90 2h0m22 0h0m7-1h0m41 1h0m7 0h0m0 0h0m-89 1h0m16 0h0m8-1h0m20 1h0m0-1h0m41 1h0m13-1h0m-54 1h0m21 1h0m4-1h0m18 1h0m-50 1h0m15 0h0m41 0h0m-75 1h0m29 1h0m33 0h0m-73 1h0m8-1h0m49 1h0m-44 1h0m8 1h0m7-1h0m-14 1h0m9 1h0m67-1h0m-73 1h0m19 0h0m24 1h0m12 0h0m8 0h0m12 1h0m-87 2h0m27-1h0m15 0h0m0 1h0m41-1h0m-78 1h0m0 0h0m13 0h0m12 1h0m1 0h0m1-1h0m-10 2h0m29 0h0m31-1h0m-52 1h0m19 0h0m-11 2h0m17 1h0m39 0h0m5 1h0m-91 0h0m25 0h0m14 1h0m8 0h0m26-1h0m-62 1h0m40 0h0m31 1h0m-49 0h0m-43 1h0m37 0h0m52 1h0m-55 1h0m63-1h0m-93 3h0m12 0h0m33-1h0m30 0h0m22 1h0m5 0h0m-90 0h0m5 1h0m15-1h0m64 0h0m-90 2h0m41-1h0m-25 2h0m19 0h0m7 0h0m26 1h0m-42 0h0m28 2h0m13 1h0m-27 1h0m46 0h0m-81 1h0m43 0h0m37-1h0m-81 3h0m56 0h0m28-1h0m-96 2h0m65 0h0m31 0h0m-59 0h0m33 1h0m15 0h0m9 0h0m-86 2h0m4-1h0m9 1h0m18 0h0m-33 1h0m8 1h0m4-1h0m19 1h0m-31 3h0m34 0h0m-19 1h0m32-1h0m-10 1h0m-21 2h0m41 0h0m17-1h0m-46 3h0m43 0h0m-51 1h0m17 0h0m29 0h0m-56 1h0m33-1h0m1 0h0m-28 1h0m21 1h0m-20 0h0m25 1h0m-15 0h0m4 0h0m26 2h0m-26 1h0m14 0h0m11 3h0m-1 1h0"/>
<path stroke="#F8766D" stroke-width="9" stroke-linecap="square" transform="scale(.1)" d="M783 683h0m3 1h0m-37 1h0m21-1h0m12 0h0m4 1h0m14 0h0m-30 2h0m20-1h0m-46 1h0m19 1h0m13-1h0m8 1h0m-35 1h0m10 0h0m46 0h0m-54 1h0m39-1h0m-58 2h0m59 0h0m-57 0h0m40 2h0m11-1h0m11 0h0m-28 1h0m34 2h0m-45 2h0m5 0h0m-46 0h0m24 0h0m50 0h0m13 0h0m-55 2h0m22 0h0m31 1h0m-45 0h0m23 0h0m19 1h0m-78 2h0m60 0h0m5 1h0m-69 0h0m7 1h0m43 0h0m-26 0h0m41 1h0m5 0h0m10 0h0m22 0h0m-48 1h0m17 0h0m24-1h0m-73 1h0m8 1h0m4 0h0m75-1h0m-100 2h0m62-1h0m-52 1h0m7 1h0m15 0h0m34 0h0m-57 1h0m89-1h0m-103 1h0m32 2h0m29-1h0m-72 1h0m18 0h0m5 1h0m6-1h0m26 1h0m52-1h0m-118 2h0m17 0h0m67 1h0m-58 0h0m42 2h0m26-1h0m13 1h0m18 0h0m7 1h0m-108 0h0m-15 2h0m11-1h0m19 1h0m41-1h0m31 1h0m-49 1h0m46 0h0m-104 1h0m25 0h0m22 0h0m8 0h0m-59 1h0m4-1h0m4 0h0m2 1h0m41 0h0m61-1h0m-123 2h0m30 0h0m22-1h0m64 1h0m15-1h0m1 1h0m-48 0h0m19 0h0m44 1h0m-136 0h0m58 0h0m13 0h0m15 0h0m33 1h0m-93 1h0m57-1h0m45 0h0m7 1h0m-125 1h0m119-1h0m-141 2h0m87 0h0m19 1h0m26-1h0m6 1h0m-75 1h0m23 0h0m20 0h0m2 0h0m19-1h0m-123 2h0m45-1h0m66 0h0m-44 1h0m12 0h0m69 0h0m1 0h0m-121 2h0m18 0h0m7-1h0m76 1h0m24-1h0m-158 2h0m11 1h0m55-1h0m46 0h0m18 1h0m-130 1h0m49-1h0m19 1h0m61-1h0m-109 1h0m59 1h0m6 0h0m13 0h0m6-1h0m4 0h0m19 1h0m24-1h0m-167 2h0m22 0h0m80-1h0m0 1h0m30 0h0m15-1h0m-99 1h0m16 0h0m40 1h0m13-1h0m-110 2h0m51 0h0m81-1h0m-139 1h0m13 1h0m5-1h0m33 0h0m27 1h0m12 0h0m-73 0h0m43 1h0m17-1h0m10 1h0m9 0h0m33 0h0m15-1h0m6 1h0m-104 0h0m9 1h0m36 0h0m27 0h0m-85 1h0m68-1h0m29 0h0m26 1h0m9 0h0m-138 1h0m37-1h0m39 1h0m-47 1h0m77 0h0m12 0h0m11 0h0m-122 1h0m95-1h0m-81 2h0m86 0h0m10 0h0m-32 1h0m-84 1h0m4-1h0m7 0h0m5 0h0m-30 1h0m51 1h0m90 0h0m-155 0h0m16 1h0m2 0h0m45 0h0m5-1h0m69 1h0m9-1h0m29 1h0m-166 0h0m51 0h0m65 1h0m3-1h0m-44 2h0m32-1h0m1 0h0m5 1h0m-114 1h0m76 0h0m65-1h0m-140 2h0m91 0h0m24 0h0m50 1h0m-127 1h0m52-1h0m60 1h0m3-1h0m9 1h0m-100 1h0m18-1h0m5 1h0m46 0h0m-101 0h0m40 1h0m41-1h0m1 1h0m-69 1h0m38-1h0m41 1h0m33-1h0m-84 2h0m28-1h0m-91 2h0m42 1h0m87-1h0m-150 2h0m96-1h0m-63 2h0m30 0h0m5-1h0m12 1h0m22-1h0m70 0h0m4 0h0m-101 1h0m6 0h0m35 0h0m26 0h0m-113 2h0m83-1h0m7 0h0m27 1h0m13 0h0m-72 1h0m5 0h0m34 0h0m40 0h0m5 0h0m-113 1h0m44-1h0m9 1h0m5 0h0m-61 1h0m9 0h0m85 0h0m-143 1h0m14-1h0m27 1h0m2-1h0m43 1h0m56 0h0m12-1h0m-126 1h0m-15 2h0m2 0h0m28 0h0m121-1h0m1 0h0m4 0h0m2 1h0m-160 0h0m84 0h0m51 1h0m0-1h0m10 0h0m-155 1h0m101 0h0m28 0h0m35 0h0m-159 2h0m11 0h0m5-1h0m5 1h0m2-1h0m1 1h0m14 0h0m12-1h0m37 1h0m16 0h0m-89 1h0m75 0h0m-90 0h0m88 1h0m60-1h0m-159 1h0m29 1h0m44-1h0m-69 1h0m20 1h0m9-1h0m53 1h0m43-1h0m-100 1h0m5 1h0m34 0h0m43 0h0m25-1h0m-108 1h0m42 2h0m41-1h0m4 0h0m14 1h0m12-1h0m-132 1h0m12 1h0m24-1h0m18 0h0m0 1h0m2-1h0m13 0h0m63 1h0m1-1h0m-134 1h0m11 0h0m34 0h0m11 1h0m52-1h0m14 0h0m15 0h0m-122 2h0m9-1h0m58 0h0m4 0h0m6 1h0m27-1h0m-121 2h0m10 0h0m15 0h0m128 0h0m-79 1h0m25-1h0m32 0h0m18 1h0m-158 1h0m34 0h0m60 0h0m19 0h0m-74 1h0m41 1h0m5-1h0m69 1h0m16 0h0m2-1h0m-156 1h0m11 0h0m111 0h0m-91 2h0m30-1h0m100 1h0m-164 1h0m21-1h0m2 1h0m6-1h0m26 1h0m60-1h0m19 1h0m2 0h0m-141 0h0m18 0h0m47 0h0m-64 1h0m36 0h0m-43 2h0m31 0h0m73 0h0m55 0h0m3-1h0m-131 1h0m48 0h0m55 1h0m37 0h0m-26 1h0m30-1h0m-116 2h0m49 0h0m-70 1h0m14-1h0m51 1h0m51 0h0m14-1h0m-153 2h0m66 0h0m2 0h0m12-1h0m6 0h0m59 1h0m10-1h0m-112 1h0m60 1h0m3 0h0m13 0h0m28-1h0m0 0h0m-39 2h0m43 0h0m7-1h0m-160 1h0m149 2h0m-159 0h0m29 1h0m58-1h0m21 1h0m20-1h0m-107 2h0m13 0h0m14-1h0m18 1h0m29 0h0m12 0h0m31-1h0m35 1h0m-163 1h0m157-1h0m-164 1h0m35 0h0m76 0h0m30 1h0m-106 1h0m30 0h0m-52 0h0m17 0h0m-15 2h0m9 0h0m35-1h0m86 1h0m-123 1h0m22 0h0m89 0h0m5 0h0m5 0h0m1 0h0m16 0h0m-163 0h0m5 0h0m42 1h0m26 0h0m0-1h0m36 0h0m12 0h0m22 1h0m-78 0h0m32 0h0m66 1h0m-120 0h0m40 1h0m19 0h0m10-1h0m10 1h0m11 0h0m5 0h0m1 0h0m17-1h0m1 0h0m10 0h0m-170 1h0m70 1h0m26 0h0m3-1h0m11 0h0m38 1h0m-102 0h0m21 0h0m28 0h0m-48 2h0m33-1h0m-11 2h0m1 0h0m36 0h0m36 1h0m3-1h0m-100 2h0m94-1h0m-119 2h0m20-1h0m17 0h0m13 1h0m63-1h0m20 1h0m-101 1h0m93 0h0m-79 0h0m61 1h0m15 1h0m-110 1h0m5 0h0m19 1h0m47 0h0m0 0h0m-63 1h0m74 0h0m29 0h0m-95 0h0m96 1h0m-106 0h0m53 0h0m42 0h0m28 0h0m-151 2h0m40 0h0m40-1h0m52 1h0m23-1h0m-130 2h0m89-1h0m7 1h0m-66 1h0m18 0h0m-69 1h0m56-1h0m86 1h0m12-1h0m-103 1h0m17 0h0m16 1h0m24-1h0m-68 2h0m57 0h0m14 0h0m39-1h0m-105 2h0m65-1h0m-97 1h0m19 0h0m25 0h0m6 1h0m8-1h0m-24 1h0m13 0h0m29 1h0m-38 0h0m11 0h0m59 0h0m-111 2h0m12 0h0m43-1h0m19 1h0m47 0h0m-4 2h0m-126 1h0m108-1h0m-58 2h0m-25 0h0m48 1h0m-48 0h0m32 0h0m24 0h0m18 0h0m-90 2h0m1 0h0m0-1h0m10 0h0m49 1h0m-48 0h0m81 0h0m15 0h0m4 1h0m-77 0h0m28 0h0m12 1h0m44 1h0m-107 1h0m1 1h0m11-1h0m-14 1h0m19 2h0m29-1h0m43 0h0m-10 2h0m20 0h0m-29 1h0m-74 0h0m66 0h0m-44 2h0m-15 1h0m13 1h0m10 0h0m28-1h0m-29 1h0m1 0h0m5 1h0m28 0h0m11-1h0m0 1h0m-74 1h0m9-1h0m17 1h0m25 0h0m10-1h0m-35 1h0m55 1h0m12-1h0m-87 1h0m3 0h0m-6 3h0m3-1h0m28 1h0m35 0h0m32-1h0m-80 1h0m-11 1h0m31 1h0m54 0h0m-47 2h0m-10 1h0m23 0h0m4 2h0m3 0h0m-40 0h0m59 1h0m-12 1h0m6 0h0"/>
<path stroke="#FF6C91" stroke-width="9" stroke-linecap="square" transform="scale(.1)" d="M602 838h0m-8 5h0m8 3h0m5 1h0m-14 2h0m13 0h0m-9 2h0m-11 2h0m-4 1h0m-4 1h0m29 1h0m4 1h0m-19 1h0m-1 0h0m2 0h0m-12 2h0m18 1h0m-14 0h0m12 4h0m2 1h0m-9 2h0m24-1h0m-4 5h0m-3 1h0"/>
<text x="69.2" y="26.1" font-size="4.3" text-anchor="middle" fill="#111" font-weight="bold">4</text>
<text x="51.5" y="39.9" font-size="4.3" text-anchor="middle" fill="#111" font-weight="bold">5</text>
<text x="61.8" y="37.1" font-size="4.3" text-anchor="middle" fill="#111" font-weight="bold">16</text>
<text x="71.5" y="42.1" font-size="4.3" text-anchor="middle" fill="#111" font-weight="bold">6</text>
<text x="83.5" y="35.4" font-size="4.3" text-anchor="middle" fill="#111" font-weight="bold">13</text>
<text x="89.5" y="41.8" font-size="4.3" text-anchor="middle" fill="#111" font-weight="bold">11</text>
<text x="46.0" y="52.6" font-size="4.3" text-anchor="middle" fill="#111" font-weight="bold">1</text>
<text x="59.0" y="50.8" font-size="4.3" text-anchor="middle" fill="#111" font-weight="bold">10</text>
<text x="72.5" y="54.1" font-size="4.3" text-anchor="middle" fill="#111" font-weight="bold">9</text>
<text x="99.0" y="53.8" font-size="4.3" text-anchor="middle" fill="#111" font-weight="bold">3</text>
<text x="85.0" y="54.6" font-size="4.3" text-anchor="middle" fill="#111" font-weight="bold">18</text>
<text x="52.6" y="59.6" font-size="4.3" text-anchor="middle" fill="#111" font-weight="bold">15</text>
<text x="62.8" y="64.1" font-size="4.3" text-anchor="middle" fill="#111" font-weight="bold">8</text>
<text x="79.0" y="66.6" font-size="4.3" text-anchor="middle" fill="#111" font-weight="bold">2</text>
<text x="97.0" y="66.6" font-size="4.3" text-anchor="middle" fill="#111" font-weight="bold">14</text>
<text x="87.0" y="72.2" font-size="4.3" text-anchor="middle" fill="#111" font-weight="bold">12</text>
<text x="45.0" y="73.6" font-size="4.3" text-anchor="middle" fill="#111" font-weight="bold">7</text>
<text x="55.5" y="79.0" font-size="4.3" text-anchor="middle" fill="#111" font-weight="bold">17</text>
<text x="74.7" y="79.6" font-size="4.3" text-anchor="middle" fill="#111" font-weight="bold">0</text>
<text x="60.0" y="87.4" font-size="4.3" text-anchor="middle" fill="#111" font-weight="bold">19</text>
<text x="163.8" y="13.9" font-size="7.35" text-anchor="middle" fill="#222"  stroke="#222" stroke-width="0.05">Color by Malignancy</text>
<rect x="126.2" y="16.5" width="72.0" height="75.4" fill="none" stroke="#a0a0a0" stroke-width="0.7"/>
<line x1="140.3" y1="91.9" x2="140.3" y2="93.7" stroke="#777" stroke-width="0.45" />
<text x="140.3" y="97.3" font-size="3.9" text-anchor="middle" fill="#444" >-25</text>
<line x1="158.9" y1="91.9" x2="158.9" y2="93.7" stroke="#777" stroke-width="0.45" />
<text x="158.9" y="97.3" font-size="3.9" text-anchor="middle" fill="#444" >0</text>
<line x1="177.6" y1="91.9" x2="177.6" y2="93.7" stroke="#777" stroke-width="0.45" />
<text x="177.6" y="97.3" font-size="3.9" text-anchor="middle" fill="#444" >25</text>
<line x1="196.5" y1="91.9" x2="196.5" y2="93.7" stroke="#777" stroke-width="0.45" />
<text x="196.5" y="97.3" font-size="3.9" text-anchor="middle" fill="#444" >50</text>
<line x1="124.4" y1="16.5" x2="126.2" y2="16.5" stroke="#777" stroke-width="0.45" />
<text x="123.8" y="17.9" font-size="3.9" text-anchor="end" fill="#444" >50</text>
<line x1="124.4" y1="35.8" x2="126.2" y2="35.8" stroke="#777" stroke-width="0.45" />
<text x="123.8" y="37.1" font-size="3.9" text-anchor="end" fill="#444" >25</text>
<line x1="124.4" y1="55.1" x2="126.2" y2="55.1" stroke="#777" stroke-width="0.45" />
<text x="123.8" y="56.5" font-size="3.9" text-anchor="end" fill="#444" >0</text>
<line x1="124.4" y1="74.3" x2="126.2" y2="74.3" stroke="#777" stroke-width="0.45" />
<text x="123.8" y="75.6" font-size="3.9" text-anchor="end" fill="#444" >-25</text>
<path stroke="#dcdcdc" stroke-width="9" stroke-linecap="square" transform="scale(.1)" d="M1581 190h0m4 6h0m7 1h0m10 0h0m-39 3h0m46 4h0m-49 1h0m29 4h0m-44 0h0m35 1h0m-22 1h0m28 3h0m27 1h0m-36 3h0m26 1h0m2 1h0m-67 1h0m40-1h0m-27 4h0m61 0h0m-37 1h0m-33 1h0m29 0h0m35 0h0m3 1h0m-66 1h0m80 1h0m-37 0h0m12 1h0m41-1h0m-19 2h0m-85 0h0m11 1h0m27-1h0m63 1h0m-38 1h0m23 0h0m-38 1h0m-53 1h0m80 1h0m11 0h0m-23 1h0m-28 0h0m14 1h0m12 0h0m-51 2h0m22-1h0m4 1h0m15-1h0m-24 2h0m29 0h0m3 1h0m-9 1h0m-14 2h0m-26 0h0m-19 2h0m92 0h0m-58 1h0m5 0h0m7 1h0m-19 1h0m97 0h0m-113 2h0m55-1h0m38 1h0m-37 1h0m56-1h0m-46 1h0m1 1h0m37 0h0m-6 1h0m-71 1h0m39 4h0m30-1h0m-104 2h0m11-1h0m17 0h0m4 0h0m19 1h0m-19 0h0m75 0h0m-57 2h0m59-1h0m-7 1h0m-79 1h0m3 3h0m0-1h0m57 1h0m5 0h0m8 0h0m12 0h0m-33 1h0m-34 1h0m14 4h0m16 0h0m-28 2h0m66 0h0m-57 2h0m51-1h0m-48 2h0m-22 1h0m15 1h0m11 0h0m-21 0h0m17 0h0m5 1h0m-67 0h0m99 3h0m-98 1h0m48 3h0m26 1h0m4-1h0m114 4h0m-130 2h0m-46 2h0m49-1h0m-64 2h0m38-1h0m57 0h0m101 0h0m-148 1h0m-19 1h0m176 1h0m-12 1h0m-162 1h0m-23 0h0m0 2h0m168 8h0m35 1h0m-9 3h0m0 3h0m-33 1h0m36 0h0m-20 2h0m-10 2h0m6 1h0m19-1h0m-18 1h0m-9 3h0m5-1h0m10 1h0m-7 0h0m-11 1h0m2 1h0m67 2h0m-69 1h0m26 2h0m1 0h0m20 0h0m-35 1h0m-1 1h0m44 1h0m-41 0h0m11 1h0m20-1h0m-51 4h0m26 2h0m12 0h0m4 3h0m-1 0h0m-29 2h0m0 0h0m48 4h0m-56 4h0m13 3h0m-5 3h0m81 6h0m-2 10h0m23 0h0m-23 3h0m39 0h0m5 0h0m-58 3h0m17 0h0m9 7h0m-27 1h0m33 2h0m-37 2h0m16 2h0m17 1h0m21 0h0m-50 1h0m29 0h0m24 0h0m-45 0h0m18 0h0m-18 3h0m3 0h0m24 1h0m-15 0h0m4 1h0m22 0h0m17 1h0m34 0h0m-40 0h0m50 2h0m5 0h0m-72 0h0m3 1h0m-38 0h0m8 1h0m-3 1h0m28 1h0m-34 1h0m28 0h0m34 1h0m-45 2h0m85 0h0m-48 0h0m-51 2h0m-3 1h0m34 0h0m39 1h0m-28 1h0m32 0h0m11 2h0m-50 0h0m-31 3h0m34 1h0m62-1h0m-27 3h0m24 0h0m-1 1h0m-79 1h0m-12 3h0m65 2h0m10 0h0m-11 2h0m34 0h0m-40 1h0m39 1h0m-23 1h0m-13 2h0m22 6h0m10 3h0m-168 75h0m3 2h0m-17 9h0m16 0h0m7 2h0m7 5h0m-16 1h0m-11 2h0m16 0h0m9 5h0m8 1h0m-5 1h0m-13 3h0m-27 4h0m20 2h0m25 2h0m-34 3h0m-16 0h0m36 0h0m-31 3h0m33 1h0m-38 0h0m-1 3h0m26 2h0m-13 2h0m17 2h0m-20 4h0m13 1h0m25-1h0m-11 2h0m-29 1h0m28 0h0m-3 0h0m4 1h0m-8 2h0m-1 1h0m18 7h0m-68 4h0m69 1h0m-100 3h0m23 0h0m-43 2h0m78-1h0m-26 1h0m-38 3h0m62-1h0m-47 1h0m-21 2h0m65 0h0m-6 1h0m-14 1h0m-62 0h0m17 0h0m57 0h0m-54 2h0m35 2h0m23-1h0m20 0h0m-109 2h0m111 0h0m-111 0h0m19 1h0m-8 1h0m56 2h0m36 0h0m-26 0h0m-68 3h0m2 0h0m5 0h0m5 0h0m23 0h0m23-1h0m47 1h0m-105 0h0m46 1h0m80-1h0m-160 2h0m159 0h0m-134 0h0m6 0h0m29 2h0m60 0h0m-15 0h0m57 1h0m4 0h0m-55 2h0m-57 0h0m64 1h0m-69 0h0m30 1h0m88-1h0m-73 1h0m-38 3h0m25 0h0m3 2h0m65 0h0m-80 2h0m-47 1h0m33-1h0m17 1h0m39-1h0m24 0h0m9 1h0m-128 2h0m55-1h0m109 1h0m-142 0h0m122 1h0m1-1h0m-115 2h0m9-1h0m104 1h0m13-1h0m-129 1h0m88 2h0m55-1h0m29 1h0m-186 1h0m73 1h0m9-1h0m60 1h0m-158 1h0m103-1h0m110 1h0m-186 0h0m28 0h0m8 0h0m5 0h0m32 1h0m65 0h0m20 0h0m-162 1h0m29 0h0m41 0h0m-74 1h0m18-1h0m19 1h0m24 0h0m2-1h0m77 1h0m-155 0h0m23 0h0m54 0h0m119 0h0m-197 1h0m13 0h0m1 0h0m38 1h0m61 2h0m57-1h0m1 0h0m-143 2h0m0 1h0m9 0h0m62 0h0m113 0h0m-119 1h0m-42 0h0m65 0h0m-59 2h0m67 0h0m-119 1h0m2 0h0m77 1h0m6-1h0m32 0h0m-115 2h0m0 1h0m5 0h0m91-1h0m-109 1h0m200 0h0m-178 2h0m132-1h0m3 2h0m21 0h0m-16 0h0m19 1h0m-407 1h0m310 0h0m89 0h0m-61 0h0m-67 1h0m-269 2h0m276 0h0m25 0h0m48-1h0m42 0h0m-95 1h0m8 1h0m88 1h0m-402 0h0m3 1h0m263 0h0m3 0h0m29-1h0m162 1h0m-220 1h0m160 1h0m-378 0h0m308 0h0m132 1h0m-228 0h0m78 1h0m64-1h0m86 0h0m-457 2h0m282 0h0m148 0h0m-177 1h0m124-1h0m63 1h0m26 0h0m-449 0h0m200 1h0m4 0h0m228-1h0m-174 1h0m2 1h0m4 0h0m64 0h0m45-1h0m32 1h0m20 0h0m-120 0h0m7 1h0m4-1h0m-43 2h0m40 0h0m0 2h0m-318 0h0m209 0h0m65 1h0m19 0h0m173 0h0m-458 0h0m268 1h0m46-1h0m-346 2h0m25-1h0m327 1h0m115-1h0m-198 2h0m68-1h0m162 1h0m-476 0h0m273 1h0m41 0h0m17 0h0m83 0h0m45-1h0m5 1h0m-207 0h0m31 0h0m26 1h0m134-1h0m-456 1h0m1 0h0m2 1h0m323 0h0m47 0h0m-382 1h0m233-1h0m91 0h0m-50 1h0m24 0h0m131 1h0m-183 0h0m65 0h0m18 1h0m169 0h0m-475 1h0m1 1h0m2 0h0m426 0h0m-414 0h0m252 1h0m43-1h0m35 0h0m119 0h0m-170 1h0m10 1h0m-308 1h0m10-1h0m294 0h0m-288 1h0m287 0h0m7 0h0m147 1h0m-485 2h0m36 1h0m245 0h0m9 0h0m177 0h0m-448 1h0m11 2h0m453-1h0m-21 4h0m15 1h0m9 0h0m-23 1h0m17 2h0m-442 1h0m403 0h0m-419 0h0m451 0h0m-471 4h0m-6 0h0m12 1h0m10 6h0m-21 1h0m18 3h0m-1 7h0m13 4h0m-27 0h0m7 0h0m28 5h0m-26 1h0m17 1h0m5 0h0m-28 2h0m22 1h0m-18 5h0"/>
<path stroke="#E8731F" stroke-width="9" stroke-linecap="square" transform="scale(.1)" d="M1402 318h0m31-1h0m1 2h0m-19 2h0m9 0h0m19 1h0m-67 2h0m11 0h0m23-1h0m21 1h0m-40 3h0m15 0h0m19-1h0m-49 3h0m56 0h0m30 0h0m-96 2h0m65 2h0m14 0h0m-28 1h0m9 2h0m-47 0h0m61 4h0m10 0h0m-56 1h0m43 1h0m33 0h0m-59 1h0m26 0h0m25 0h0m-28 1h0m8 1h0m-31 0h0m21 0h0m-66 4h0m54 0h0m32-1h0m-78 1h0m29 1h0m13-1h0m-21 1h0m-12 2h0m16 0h0m76 0h0m9 0h0m-125 0h0m77 0h0m16 0h0m33 1h0m-82 1h0m54 0h0m10 0h0m-106 0h0m6 0h0m84 3h0m27 0h0m-105 1h0m28-1h0m-25 1h0m51 0h0m22 1h0m25 0h0m-84 1h0m66 0h0m-32 3h0m33 1h0m3 4h0m17 0h0m-82 1h0m5 0h0m42 0h0m-46 0h0m46 1h0m49 0h0m7 0h0m-116 0h0m59 0h0m14 0h0m36 1h0m3-1h0m-31 2h0m34 0h0m-59 1h0m52 0h0m-117 0h0m23 2h0m40 0h0m-13 1h0m-33 2h0m94-1h0m-84 3h0m-46 0h0m7 1h0m37 1h0m85 0h0m-128 0h0m25 1h0m-35 0h0m28 1h0m25-1h0m88 1h0m-93 0h0m7 0h0m95 0h0m-127 2h0m49 0h0m20-1h0m25 1h0m-61 0h0m50 1h0m8 0h0m-23 2h0m-92 0h0m140 0h0m11 1h0m-29 1h0m-120 0h0m96 2h0m-11 0h0m13 0h0m-33 1h0m44 2h0m46 2h0m-163 1h0m21 0h0m8 0h0m7 3h0m37 0h0m-1 1h0m41 0h0m-102 1h0m60 0h0m40 1h0m1 0h0m-99 0h0m28 0h0m16 1h0m45 0h0m-33 0h0m36 1h0m-71 0h0m35 0h0m63 2h0m17-1h0m16 1h0m-103 1h0m80-1h0m3 1h0m-112 1h0m15-1h0m23 1h0m9-1h0m13 1h0m23 0h0m-49 1h0m37 0h0m49 0h0m-111 0h0m-25 2h0m23-1h0m85 1h0m-123 1h0m15 0h0m18-1h0m115 1h0m-135 1h0m11 1h0m23 0h0m28 0h0m30 0h0m57 1h0m-159 0h0m60 1h0m94-1h0m-94 3h0m71 0h0m-17 0h0m33 0h0m-35 2h0m22-1h0m28 1h0m-166 0h0m48 1h0m22 0h0m76-1h0m9 1h0m4 0h0m8 0h0m-119 1h0m22-1h0m99 0h0m2 0h0m-62 1h0m18 1h0m-104 0h0m66 1h0m-29 1h0m-50 0h0m14 0h0m26 0h0m54 1h0m37 1h0m-148 0h0m76 1h0m-74 2h0m105 0h0m3 0h0m-88 0h0m135 0h0m18 1h0m-77 1h0m62 1h0m-38 1h0m-116 0h0m69 0h0m92 0h0m17 0h0m-46 1h0m-48 2h0m51 0h0m-95 2h0m67 0h0m-57 1h0m41 0h0m4 1h0m-82 1h0m84 0h0m80 0h0m-177 1h0m181-1h0m-72 2h0m47 1h0m-123 1h0m125-1h0m-123 2h0m30 0h0m91 0h0m-102 0h0m14 1h0m49 0h0m461 0h0m-490 1h0m31 1h0m16-1h0m-91 1h0m65 1h0m72-1h0m387 0h0m5 2h0m-558 0h0m6 2h0m31-1h0m21 0h0m44 1h0m65-1h0m382 1h0m8 0h0m20 0h0m-416 0h0m395 0h0m-558 1h0m113 0h0m32 0h0m400 1h0m-538 1h0m112 0h0m408 0h0m-503 0h0m38 1h0m48 0h0m2 0h0m10 0h0m24-1h0m10 0h0m353 1h0m14 0h0m-508 0h0m32 0h0m15 0h0m28 0h0m2 0h0m77 1h0m-116 0h0m448 1h0m44-1h0m7 1h0m13 0h0m-577 1h0m19-1h0m22 0h0m32 1h0m52 0h0m394 0h0m83 0h0m-532 1h0m49-1h0m17 1h0m40-1h0m-80 1h0m13 1h0m473-1h0m-589 1h0m6 1h0m49-1h0m6 1h0m18-1h0m27 0h0m479 0h0m-567 2h0m4-1h0m58 1h0m13 0h0m3 0h0m36-1h0m4 0h0m11 1h0m-132 1h0m11-1h0m75 1h0m7-1h0m81 0h0m-121 2h0m2 0h0m17-1h0m107 0h0m414 1h0m-492 1h0m23-1h0m52 0h0m-98 1h0m453 0h0m-517 2h0m1 0h0m12-1h0m474 0h0m50 1h0m37-1h0m-592 2h0m57 0h0m104 0h0m398 0h0m-558 0h0m7 1h0m72-1h0m65 1h0m385-1h0m40 0h0m14 0h0m-545 2h0m52 0h0m1-1h0m483 1h0m11 0h0m-579 1h0m142-1h0m18 1h0m426 0h0m-512 1h0m8-1h0m73 1h0m380 1h0m55-1h0m-507 2h0m1-1h0m11 1h0m435-1h0m-509 2h0m40-1h0m21 1h0m64 0h0m-121 1h0m6 0h0m38-1h0m53 0h0m-52 2h0m456 0h0m9 0h0m-537 1h0m55-1h0m52 1h0m53 0h0m331 0h0m51-1h0m44 0h0m-593 2h0m581 0h0m-570 1h0m149 0h0m389 0h0m46 0h0m-550 0h0m140 1h0m309 1h0m15 0h0m21-1h0m-482 1h0m80 0h0m436 1h0m39 0h0m9 0h0m-613 0h0m138 1h0m37-1h0m13 1h0m307-1h0m-481 2h0m35 0h0m39 0h0m17 0h0m430 0h0m-436 0h0m62 0h0m332 0h0m42 1h0m73 0h0m-581 0h0m70 1h0m16-1h0m39 0h0m330 1h0m79-1h0m5 1h0m-542 1h0m509 0h0m40-1h0m40 1h0m-456 1h0m328-1h0m23 0h0m77 0h0m-436 1h0m42 1h0m297 0h0m-493 0h0m122 1h0m396-1h0m8 0h0m57 0h0m40 0h0m-79 2h0m-420 0h0m398 0h0m32 0h0m45 1h0m-447 0h0m337 0h0m2 0h0m-480 2h0m53-1h0m9 0h0m441 1h0m10 0h0m10-1h0m24 0h0m-407 2h0m7 0h0m1 0h0m0-1h0m402 1h0m3 0h0m-527 1h0m71 0h0m89 0h0m328 0h0m20 0h0m69 0h0m-600 1h0m16-1h0m162 1h0m327 0h0m64-1h0m-511 1h0m32 1h0m-40 1h0m16-1h0m-91 2h0m72 0h0m135-1h0m337 0h0m4 0h0m17 0h0m66 1h0m-549 0h0m31 0h0m491 0h0m15 0h0m-437 1h0m365 0h0m-494 2h0m456-1h0m-474 1h0m119 1h0m55-1h0m400 0h0m0 0h0m-509 1h0m19 1h0m386-1h0m30 1h0m88-1h0m-607 2h0m11 0h0m109 0h0m59-1h0m333 0h0m0 0h0m27 1h0m-547 0h0m91 1h0m34 0h0m484 0h0m-457 0h0m1 0h0m48 0h0m24 0h0m284 0h0m12 0h0m-491 2h0m53-1h0m16 0h0m117 1h0m74-1h0m-130 2h0m153 0h0m175-1h0m26 1h0m51 0h0m-507 1h0m47 0h0m65-1h0m19 0h0m98 1h0m49-1h0m183 1h0m32 0h0m18 0h0m-289 0h0m241 0h0m19 0h0m-347 1h0m72 1h0m274 0h0m20 0h0m4-1h0m3 1h0m-525 1h0m210 0h0m234 0h0m1-1h0m-487 2h0m96 0h0m60 0h0m42 0h0m144 0h0m175 0h0m12-1h0m63 1h0m11-1h0m13 1h0m-472 0h0m95 1h0m47 0h0m2-1h0m249 0h0m8 0h0m1 1h0m45-1h0m-532 1h0m209 0h0m35 0h0m7 1h0m170 0h0m48-1h0m37 0h0m-560 1h0m223 0h0m86 0h0m224 1h0m57 0h0m-570 0h0m16 0h0m22 1h0m13-1h0m36 0h0m5 0h0m21 0h0m107 0h0m17 1h0m267 0h0m-515 0h0m17 0h0m74 0h0m59 1h0m56-1h0m58 0h0m6 1h0m8-1h0m59 0h0m192 0h0m15 0h0m17 1h0m28 0h0m-353 1h0m2 0h0m63-1h0m-310 1h0m42 0h0m11 0h0m55 1h0m6-1h0m142 0h0m31 1h0m-217 1h0m470-1h0m61 0h0m-601 1h0m26 0h0m193 0h0m41 1h0m81 0h0m143-1h0m-488 2h0m103-1h0m224 1h0m28 0h0m-281 1h0m45 0h0m77-1h0m22 1h0m44 0h0m2-1h0m59 1h0m187-1h0m-502 1h0m45 0h0m19 1h0m62-1h0m-103 2h0m0 0h0m180 0h0m76-1h0m26 0h0m1 0h0m33 1h0m142 0h0m2-1h0m17 1h0m60-1h0m15 0h0m-581 1h0m164 0h0m9 1h0m43 0h0m270-1h0m7 0h0m-410 1h0m12 0h0m6 1h0m228-1h0m147 0h0m33 0h0m8 1h0m96-1h0m-534 1h0m208 1h0m47 0h0m3-1h0m5 1h0m136-1h0m32 0h0m97 1h0m-556 0h0m34 0h0m3 0h0m24 1h0m6 0h0m88 0h0m55 0h0m19 0h0m196-1h0m6 1h0m103 0h0m17-1h0m-366 2h0m5 0h0m84 0h0m19 0h0m162-1h0m74 0h0m11 0h0m5 0h0m18 1h0m-587 1h0m207-1h0m45 1h0m268 0h0m-542 1h0m197 0h0m6-1h0m43 0h0m85 0h0m0 1h0m19-1h0m-220 2h0m36 0h0m426 0h0m-386 0h0m9 1h0m24-1h0m-105 1h0m94 0h0m26 0h0m-175 1h0m73 0h0m28 1h0m104 0h0m-129 1h0m10 0h0m334 0h0m104 0h0m-608 0h0m112 0h0m34 1h0m164 0h0m43 0h0m-221 1h0m58-1h0m375 1h0m48-1h0m-476 2h0m55-1h0m87 1h0m251 1h0m34 0h0m-473 0h0m29 1h0m34-1h0m2 0h0m337 1h0m4-1h0m17 1h0m-497 1h0m66-1h0m17 0h0m172 0h0m77 1h0m174 0h0m66-1h0m-387 1h0m127 1h0m222 0h0m6 0h0m16-1h0m16 0h0m-583 2h0m64-1h0m39 1h0m142-1h0m93 0h0m207 1h0m-475 0h0m33 1h0m8-1h0m119 0h0m37 1h0m11 0h0m6-1h0m1 0h0m37 1h0m-308 1h0m514 0h0m12-1h0m-531 2h0m11-1h0m1 0h0m147 0h0m67 0h0m38 1h0m256 0h0m33 0h0m35-1h0m-543 1h0m29 1h0m12 0h0m41-1h0m36 0h0m132 0h0m19 1h0m281-1h0m-559 1h0m99 1h0m58-1h0m124 0h0m-320 2h0m129-1h0m16 1h0m2 0h0m44 0h0m61-1h0m16 1h0m287 0h0m-511 0h0m224 0h0m257 1h0m-490 1h0m40 0h0m14 0h0m86 0h0m20 0h0m31 0h0m23 0h0m-243 1h0m251 0h0m29 0h0m2-1h0m-232 1h0m20 1h0m92 0h0m10 0h0m344-1h0m-393 2h0m4-1h0m9 0h0m132 0h0m2 0h0m3 1h0m-279 1h0m31 0h0m131-1h0m51 0h0m-163 1h0m155 1h0m23 0h0m13 0h0m33-1h0m-201 1h0m150 0h0m27 1h0m6-1h0m3 1h0m-227 0h0m28 0h0m131 0h0m29 0h0m40 0h0m4 0h0m-208 2h0m16-1h0m53 1h0m118-1h0m-138 1h0m118 0h0m46 1h0m-215 1h0m28-1h0m23 1h0m150-1h0m-127 2h0m74 0h0m59 0h0m-135 1h0m0-1h0m63 0h0m19 1h0m52 0h0m2-1h0m7 0h0m-265 2h0m72 0h0m44 0h0m10 0h0m66-1h0m10 0h0m13 0h0m5 0h0m-143 2h0m19 0h0m-11 1h0m72-1h0m3 0h0m0 1h0m41-1h0m-82 1h0m44 1h0m56 0h0m-180 0h0m8 1h0m12-1h0m189 0h0m-173 1h0m89 1h0m-125 0h0m0 0h0m65 0h0m81 0h0m47 0h0m24 0h0m-126 2h0m62 0h0m38 0h0m-101 1h0m135-1h0m-265 1h0m84 1h0m29-1h0m81 0h0m-61 2h0m-86 0h0m143 0h0m1 0h0m-86 1h0m-11 1h0m1 1h0m79-1h0m-29 2h0m84-1h0m37 0h0m-264 2h0m30-1h0m57 1h0m67-1h0m42 0h0m36 0h0m3 1h0m-139 1h0m65 0h0m-57 1h0m61 0h0m45 0h0m2-1h0m12 0h0m-131 1h0m59 0h0m12 1h0m47 0h0m-155 1h0m6-1h0m85 0h0m13 1h0m53 0h0m25-1h0m-230 2h0m68 0h0m67 0h0m61-1h0m-147 2h0m68 0h0m112 0h0m-195 1h0m87 0h0m-70 0h0m47 0h0m100 0h0m71 1h0m-273 1h0m101-1h0m-73 1h0m14 1h0m19-1h0m-49 2h0m3 0h0m22-1h0m13 1h0m46-1h0m0 1h0m105 0h0m-134 1h0m35 0h0m8 0h0m-100 1h0m66-1h0m19 0h0m164 0h0m-236 2h0m81 0h0m23-1h0m57 1h0m74 0h0m-46 0h0m-141 1h0m83 1h0m10-1h0m4 1h0m28 0h0m33 0h0m-151 0h0m38 0h0m65 0h0m45 0h0m-184 2h0m16 0h0m17 0h0m144 0h0m-175 1h0m38 0h0m13 0h0m127 2h0m-122 1h0m91-1h0m-37 2h0m-2 0h0m-79 1h0m103 0h0m48 0h0m-85 1h0m99 0h0m-72 2h0m11 0h0m-15 0h0m76 1h0m-69 0h0m9 1h0m45 0h0m-33 2h0m18 0h0m-70 0h0m99 1h0m-20 1h0m-31 3h0m43 0h0m-49 1h0m38 1h0m-9 0h0m13 0h0m2 0h0m-27 2h0m-64 1h0m20 1h0m8 0h0m44-1h0m1 0h0m-11 1h0m-59 2h0m42 0h0m26-1h0m-56 1h0m53 0h0m-14 2h0m31 0h0m-79 1h0m22-1h0m34 2h0m-66 0h0m42 0h0m-39 1h0m47 1h0m-52 0h0m24 1h0m64 0h0m-80 0h0m37 1h0m0 0h0m15 0h0m-27 1h0m22 0h0m-34 2h0m23 1h0m-4 1h0m30-1h0m-57 2h0m17 1h0m8 0h0m2-1h0m-34 1h0m25 0h0m15 1h0m11 0h0m19 1h0m-4 1h0m-11 0h0m-32 6h0m-4 2h0m13 1h0m-31 6h0m6-1h0"/>
<path stroke="#1F2F6E" stroke-width="9" stroke-linecap="square" transform="scale(.1)" d="M1555 411h0m-34 1h0m24-1h0m-1 6h0m112 7h0m-12 2h0m-109 2h0m7 15h0m6 0h0m83 1h0m-78 1h0m91 0h0m5-1h0m-263 1h0m263 1h0m-112 12h0m-1 3h0m22 0h0m115 2h0m1 1h0m-36 4h0m40 1h0m32 4h0m-173 3h0m-90 4h0m122 0h0m-163 1h0m148 6h0m173-1h0m-156 2h0m-115 1h0m76 1h0m-121 2h0m25 4h0m-56 4h0m388 3h0m-325 0h0m304 11h0m-350 18h0m57 8h0m-36 5h0m1 2h0m0 1h0m310 0h0m-322 3h0m28 2h0m-27 1h0m26 0h0m-43 1h0m349 1h0m-343 1h0m13 0h0m11 1h0m358 2h0m-354 0h0m-16 3h0m27-1h0m-1 2h0m-6 1h0m9 0h0m-46 0h0m34 1h0m16 2h0m-27 1h0m-13 1h0m5 1h0m29-1h0m-3 4h0m-5 2h0m-21 1h0m-6 1h0m5 3h0m296 4h0m-308 1h0m7 1h0m19 3h0"/>
<circle cx="146.4" cy="72.6" r="1.4" fill="#d8d8d8" stroke="#888" stroke-width="0.35"/>
<circle cx="146.4" cy="78.8" r="1.4" fill="#1F2F6E"/>
<circle cx="146.4" cy="85.0" r="1.4" fill="#E8731F"/>
<text x="149.0" y="74.3" font-size="4.7" text-anchor="start" fill="#333" >Malignant cells</text>
<text x="149.0" y="80.5" font-size="4.7" text-anchor="start" fill="#333" >Non-malignant cells</text>
<text x="149.0" y="86.7" font-size="4.7" text-anchor="start" fill="#333" >Normal epithelial cells</text>
<text x="72.6" y="106.0" font-size="7.35" text-anchor="middle" fill="#222"  stroke="#222" stroke-width="0.05">Color by Sample</text>
<rect x="36.4" y="110.2" width="72.0" height="73.9" fill="none" stroke="#a0a0a0" stroke-width="0.7"/>
<line x1="50.5" y1="184.1" x2="50.5" y2="185.9" stroke="#777" stroke-width="0.45" />
<text x="50.5" y="189.5" font-size="3.9" text-anchor="middle" fill="#444" >-25</text>
<line x1="69.4" y1="184.1" x2="69.4" y2="185.9" stroke="#777" stroke-width="0.45" />
<text x="69.4" y="189.5" font-size="3.9" text-anchor="middle" fill="#444" >0</text>
<line x1="87.9" y1="184.1" x2="87.9" y2="185.9" stroke="#777" stroke-width="0.45" />
<text x="87.9" y="189.5" font-size="3.9" text-anchor="middle" fill="#444" >25</text>
<line x1="106.5" y1="184.1" x2="106.5" y2="185.9" stroke="#777" stroke-width="0.45" />
<text x="106.5" y="189.5" font-size="3.9" text-anchor="middle" fill="#444" >50</text>
<line x1="34.6" y1="110.5" x2="36.4" y2="110.5" stroke="#777" stroke-width="0.45" />
<text x="34.0" y="111.8" font-size="3.9" text-anchor="end" fill="#444" >50</text>
<line x1="34.6" y1="129.5" x2="36.4" y2="129.5" stroke="#777" stroke-width="0.45" />
<text x="34.0" y="130.8" font-size="3.9" text-anchor="end" fill="#444" >25</text>
<line x1="34.6" y1="148.5" x2="36.4" y2="148.5" stroke="#777" stroke-width="0.45" />
<text x="34.0" y="149.8" font-size="3.9" text-anchor="end" fill="#444" >0</text>
<line x1="34.6" y1="167.5" x2="36.4" y2="167.5" stroke="#777" stroke-width="0.45" />
<text x="34.0" y="168.8" font-size="3.9" text-anchor="end" fill="#444" >-25</text>
<path d="M39.6,139.8 L42.1,132.6 C44,129 46,126 48.5,125.9 L54.2,126.5 L60.3,128.3 L64.5,132 L66.3,138.6 L77.3,143.5 C78.5,145 78.3,146.5 77.9,147.1 L72.4,153.2 L66.3,158 L61.5,162.9 C59,163.5 57.5,163 56.6,162.3 L48.1,158 L40.9,150.8 L39,144.7Z" fill="none" stroke="#E8A040" stroke-width="0.8" stroke-linejoin="round"/>
<path d="M91,144 C91,139 98,138 104,139 C108,141 107,150 103,152 C97,153 91,151 91,147Z" fill="none" stroke="#E8A040" stroke-width="0.7"/>
<path stroke="#E05FB0" stroke-width="9" stroke-linecap="square" transform="scale(.1)" d="M668 1133h0m5 6h0m-16 3h0m30 1h0m-3 3h0m11-1h0m5 2h0m-46 1h0m47 1h0m-10 2h0m-27 1h0m13 0h0m32 0h0m6 1h0m-31 0h0m8 1h0m10 0h0m8 1h0m8 1h0m-7 2h0m-55 2h0m12-1h0m-2 2h0m32 0h0m2 0h0m12 0h0m3-1h0m8 1h0m-43 0h0m18 1h0m20 3h0m0 1h0m-3 1h0m3 0h0m-59 3h0m1 0h0m30 0h0m25 0h0m-67 1h0m39 1h0m19 1h0m-43 0h0m11 2h0m52-1h0m-56 1h0m8 0h0m12 0h0m22 1h0m-53 1h0m58 0h0m-74 1h0m21 1h0m65 0h0m-57 1h0m8 0h0m49 2h0m-59 0h0m10 0h0m57 2h0m-17 1h0m-49 2h0m-6 3h0m20 0h0m1 1h0m-1 1h0m-2 1h0m-32 2h0m48 2h0m1 0h0m-34 1h0m36 0h0m-24 1h0m47 0h0m-72 2h0m36 1h0m5 0h0m1 1h0m40 1h0m-17 2h0m12 1h0m-85 1h0m62 1h0m-48 0h0m19 0h0m18 1h0m5 1h0m1-1h0m2 0h0m-29 2h0m29 0h0m5 0h0m-16 1h0m2 0h0m-50 1h0m57 1h0m16-1h0m9 1h0m-56 1h0m15-1h0m21 0h0m-59 2h0m0 0h0m40 1h0m9-1h0m-29 2h0m-6 3h0m25 9h0m1-1h0"/>
<path stroke="#3C9EEA" stroke-width="9" stroke-linecap="square" transform="scale(.1)" d="M839 1229h0m24 7h0m-24 2h0m2 0h0m29 1h0m9 0h0m-16 1h0m-17 3h0m26 1h0m-34 1h0m42 1h0m-53 0h0m46 1h0m-47 1h0m-12 1h0m15 1h0m25-1h0m24 0h0m-12 1h0m12 1h0m14 0h0m-71 2h0m17 1h0m3 0h0m53 0h0m-66 1h0m59-1h0m7 0h0m-79 2h0m36 0h0m-22 0h0m29 0h0m38 1h0m-76 0h0m5 1h0m18-1h0m21 1h0m-56 0h0m25 0h0m4 1h0m3-1h0m-26 2h0m1-1h0m28 1h0m56 0h0m-89 1h0m18 0h0m8 0h0m37 1h0m-54 0h0m1 1h0m45-1h0m-35 2h0m47 0h0m-35 1h0m55 0h0m-92 0h0m75 1h0m13 0h0m-55 1h0m4-1h0m10 1h0m22 1h0m5 0h0m1 1h0m-68 0h0m60 1h0m26 0h0m-45 1h0m17-1h0m-11 3h0m32-1h0m6 0h0m-91 1h0m58 1h0m-24 0h0m10 1h0m-23 1h0m44 1h0m-40 0h0m9 1h0m-14 2h0m12 0h0m45 1h0m-26 0h0m4 1h0m30 0h0m-84 1h0m20 1h0m17 0h0m38-1h0m-52 1h0m15 1h0m3 0h0m7 0h0m16-1h0m-26 1h0m25 0h0m-4 2h0m26 1h0m5 0h0m-10 1h0m19 0h0m-91 0h0m21 0h0m31 1h0m38 0h0m-26 1h0m12 0h0m-67 2h0m9-1h0m26 1h0m5-1h0m25 0h0m19 1h0m-80 0h0m26 1h0m25 0h0m36-1h0m-80 3h0m-21 1h0m30 0h0m19-1h0m-52 1h0m8 1h0m49 0h0m6 0h0m-23 0h0m-29 2h0m8 1h0m6-1h0m6 1h0m71-1h0m-55 2h0m13 0h0m24 0h0m-23 0h0m-33 2h0m-13 1h0m47-1h0m10 0h0m6 2h0m16-1h0m-78 1h0m8 1h0m-19 0h0m16 3h0m76 0h0m-67 3h0m13 1h0m62 0h0m-99 1h0m38-1h0m36 1h0m-49 0h0m47 2h0m26 0h0m-54 1h0m19 0h0m8 0h0m-63 1h0m52 0h0m1 0h0m-53 2h0m5-1h0m63 1h0m-29 1h0m10 0h0m26 0h0m-18 0h0m17 1h0m-67 1h0m10-1h0m12 2h0m35-1h0m20 0h0m-65 1h0m44 0h0m-35 2h0m18 1h0m-23 1h0m28 0h0m33 2h0m-85 0h0m58 0h0m12 1h0m13-1h0m-82 2h0m39 0h0m43 0h0m2 2h0m-36 2h0m26 0h0m-22 1h0m7 0h0m14-1h0m2 0h0m-68 2h0m34 0h0m40 0h0m-59 1h0m55 2h0m-51 0h0m-19 2h0m54-1h0m11 1h0m-41 0h0m18 0h0m-22 1h0m27 0h0m-2 1h0m15 2h0m-36 1h0m2-1h0m7 2h0m7 0h0m-32 2h0m45-1h0m-48 2h0m15 1h0m-2 0h0m34 0h0m16 0h0m5 1h0m-69 1h0m28 1h0m-25 1h0m7-1h0m53 1h0m-15 0h0m-6 2h0m-32 1h0m8-1h0m41 0h0m-23 2h0m-26 2h0m9 1h0m3-1h0m14 1h0m2 0h0m-10 0h0m5 0h0m-14 2h0m4 1h0m7 1h0m21 0h0m-35 1h0m43-1h0m-12 2h0m0-1h0m-52 3h0m19 0h0m33 2h0m-4 0h0m-16 2h0m12 0h0m-18 2h0m30 0h0m-93 2h0m4 3h0m15 0h0m56 1h0m-5 1h0m-46 14h0m-13 2h0m-7 5h0m9 8h0m-9 1h0m29 20h0m-36 3h0m9 3h0m-9 3h0m27 5h0"/>
<path stroke="#3AA9D8" stroke-width="9" stroke-linecap="square" transform="scale(.1)" d="M582 1281h0m-39 15h0m-49 0h0m-10 10h0m68 3h0m-61 4h0m-64 14h0m205 0h0m-110 7h0m110 3h0m-90 3h0m59 0h0m-54 3h0m-19 2h0m63 4h0m7 5h0m25 10h0m-132 7h0m4 3h0m-72 1h0m55 0h0m-8 2h0m-60 10h0m23 2h0m184 1h0m-118 10h0m105 2h0m-8 2h0m17 1h0m49 0h0m-72 2h0m-169 2h0m220 1h0m-38 2h0m-204 0h0m11 3h0m25 1h0m268 0h0m-110 3h0m-5 0h0m-127 1h0m-68 1h0m193 1h0m-18 3h0m50 2h0m-73 2h0m37 0h0m134 1h0m-210 3h0m-26 5h0m96 1h0m55 1h0m-196 0h0m225 2h0m-146 2h0m197 1h0m-217 1h0m-94 2h0m116 5h0m186-1h0m-230 8h0m123 5h0m63 2h0m29 1h0m-51 1h0m-73 10h0m184 1h0m-94 6h0m31 21h0m-267 7h0m28 2h0m71 41h0m-10 14h0m21 21h0"/>
<path stroke="#9AC25A" stroke-width="9" stroke-linecap="square" transform="scale(.1)" d="M564 1272h0m-27 0h0m-7 8h0m-2 4h0m-75 2h0m44 6h0m75 0h0m9 0h0m-87 2h0m67 9h0m-27 2h0m93 3h0m-163 9h0m141 4h0m-158 4h0m108 2h0m72 4h0m-5 3h0m-48 2h0m37 2h0m-10 2h0m-8 4h0m-76 5h0m-18 0h0m100 4h0m23 1h0m-191 7h0m162 6h0m-9 1h0m-90 12h0m125 7h0m-101 1h0m67 1h0m-166 2h0m215 0h0m-176 1h0m67 2h0m27 6h0m21 1h0m362 3h0m19 0h0m-462 1h0m-22 2h0m230 6h0m-257 2h0m14 1h0m202 1h0m-171 2h0m20-1h0m501 2h0m-51 2h0m11 2h0m-341 6h0m352 2h0m-36 1h0m-527 2h0m564 1h0m-360 2h0m18 3h0m350 0h0m-499 3h0m519 0h0m-516 5h0m480 1h0m77 6h0m-548 4h0m37 10h0m439 7h0m-507 1h0m216 6h0m242-1h0m-167 2h0m272-1h0m-77 3h0m34 1h0m-378 7h0m413 2h0m-68 1h0m68 2h0m-314 6h0m-3 11h0m-21 38h0m-210 13h0m48 8h0"/>
<path stroke="#2FAF9E" stroke-width="9" stroke-linecap="square" transform="scale(.1)" d="M508 1272h0m8 13h0m73 0h0m-48 4h0m10 6h0m-15 3h0m-71 2h0m141 10h0m12 7h0m-150 2h0m56 2h0m-77 1h0m71 7h0m50 8h0m28 8h0m-134 5h0m-47 7h0m196 2h0m-19 2h0m63 7h0m-136 7h0m50 0h0m-74 4h0m-14 7h0m16 4h0m99 9h0m6 4h0m-178 4h0m243 2h0m-215 2h0m-14 3h0m52 1h0m93 3h0m133-1h0m-131 2h0m19 3h0m-189 1h0m331 2h0m-246 3h0m39 6h0m41 5h0m48 3h0m-203 4h0m180 4h0m-26 3h0m5 12h0m5 9h0m124 0h0m-42 16h0m9 0h0m-36 5h0m-3 8h0m-72 5h0m55 0h0m-27 2h0m21 0h0m10 4h0m15 2h0m12 0h0m-50 7h0m-39 2h0m40 1h0m44 0h0m-46 3h0m67-1h0m-51 4h0m-36 1h0m62 9h0m9 1h0m-189 0h0m100 6h0m97 3h0m-47 5h0m58 2h0m-46 2h0m-36 0h0m61 4h0m-83 2h0m50 0h0m7 1h0m34 11h0m-9 2h0m-48 2h0m33 0h0m-14 0h0m6 1h0m-67 2h0m17 7h0m46 6h0m-34 22h0m18 4h0"/>
<path stroke="#55C08A" stroke-width="9" stroke-linecap="square" transform="scale(.1)" d="M571 1276h0m-94 6h0m40 3h0m23 1h0m-15 7h0m44 1h0m-88 22h0m65 1h0m-26 1h0m36 2h0m8 4h0m35 11h0m-6 2h0m-95 3h0m98 0h0m-93 3h0m-28 14h0m-43 4h0m100 4h0m-76 1h0m62 3h0m12 3h0m105 2h0m-173 13h0m166 2h0m6-1h0m-124 2h0m18 1h0m56 3h0m-73 5h0m45 0h0m-105 0h0m-17 6h0m136 0h0m19 1h0m-26 3h0m73 1h0m-62 5h0m3 1h0m-50 4h0m-88 2h0m199-1h0m-104 7h0m11 1h0m-16 1h0m-59 1h0m138 3h0m163 8h0m-237 6h0m153 7h0m80 18h0m-124 1h0m-104 2h0m-9 4h0m-58 1h0m159 20h0m-7 4h0m46 5h0m-28 1h0m0 5h0m-49 0h0m19 0h0m20 1h0m-53 2h0m99-1h0m-117 2h0m25 0h0m4 5h0m77 4h0m-39 1h0m-44 2h0m11 1h0m-12 3h0m72 1h0m10 5h0m-94 4h0m52 0h0m-27 1h0m-125 5h0m199 0h0m24-1h0m-233 2h0m26 3h0m90 3h0m20 1h0m51-1h0m17 6h0m-42 1h0m35 1h0m4 2h0m-7 2h0m-57 1h0m39 3h0m24 2h0m-58 1h0m20 1h0m-43 0h0m49 2h0m-30 0h0m57 0h0m-65 3h0m-8 1h0m29 1h0m5-1h0m25 5h0m-50 1h0m27 6h0m-40 1h0m-13 1h0m52 0h0m-5 1h0m-22 2h0m-29 4h0m30 4h0m37 5h0"/>
<path stroke="#D98BD0" stroke-width="9" stroke-linecap="square" transform="scale(.1)" d="M506 1482h0m-13 3h0m27-1h0m-8 4h0m46-1h0m-76 5h0m5 2h0m7-1h0m30 0h0m-6 2h0m35 1h0m-65 1h0m49 2h0m0 0h0m1 1h0m4 6h0m-58 2h0m46 3h0m-40 1h0m22 0h0m46 2h0m-43 2h0m5 4h0m-16 0h0m37 0h0m-60 2h0m27 1h0m-24 1h0m39 2h0m18 0h0m-29 1h0m22 3h0m-30 4h0m-7 0h0m40 1h0m19 2h0m-30 3h0m-1 4h0m12 1h0m10 1h0m-28 1h0m-32 2h0m0 1h0m12 0h0"/>
<path stroke="#3DBB7A" stroke-width="9" stroke-linecap="square" transform="scale(.1)" d="M538 1272h0m28 3h0m-59 5h0m46 6h0m-72 7h0m109 9h0m-104 8h0m57-1h0m-48 10h0m37 2h0m58 8h0m-170 4h0m130 0h0m-55 7h0m66 0h0m-64 3h0m129 28h0m-30 2h0m-124 6h0m148 0h0m4 4h0m-16 3h0m-8 5h0m-128 1h0m43 1h0m85 0h0m40 1h0m-216 1h0m18 0h0m128 5h0m99 0h0m-185 2h0m34 4h0m121 0h0m-93 4h0m-93 7h0m103 1h0m-74 7h0m108 0h0m-90 1h0m-10 3h0m103 0h0m22-1h0m-24 8h0m50 1h0m-29 2h0m71 5h0m-137 34h0m176 14h0m-92 3h0m28 0h0m-4 2h0m-83 7h0m92 0h0m-63 2h0m29 7h0m-50 2h0m34 0h0m-8 3h0m70-1h0m-58 6h0m79 2h0m-127 2h0m79 4h0m-71 10h0m63-1h0m40 0h0m-73 7h0m6 2h0m-19 1h0m-16 6h0m105 2h0m-5 5h0m-162 1h0m103 0h0m-27 3h0m73 5h0m-70 5h0m30 7h0m-28 1h0m-22 6h0m33 1h0m-33 6h0m-11 0h0m37 7h0m-36 2h0m47 6h0m11 4h0m-29 0h0m-15 7h0m30 2h0"/>
<path stroke="#E8A33D" stroke-width="9" stroke-linecap="square" transform="scale(.1)" d="M645 1322h0m-1 37h0m92 64h0m-88 11h0m42 0h0m-236 3h0m-52 1h0m28 0h0m298 1h0m-290 2h0m-39 0h0m16 0h0m2 0h0m9 0h0m0 0h0m-21 2h0m35 0h0m283 1h0m-320 1h0m36 0h0m220 1h0m-232 0h0m31 4h0m-54 1h0m206 0h0m-217 2h0m7 0h0m43 1h0m7 2h0m210-1h0m-202 10h0m-55 2h0m46 2h0m131 0h0m87 0h0m-227 2h0m4-1h0m-39 6h0m25 0h0m22 7h0m255 0h0m-248 1h0m247-1h0m-303 1h0m40 4h0m-31 1h0m41 4h0m-44 0h0m40 3h0m-4 3h0m3 3h0m271 27h0m-242 5h0m205 19h0m-161 16h0m-9 24h0m25 9h0"/>
<path stroke="#6CC06A" stroke-width="9" stroke-linecap="square" transform="scale(.1)" d="M475 1272h0m98 16h0m-10 2h0m-97 5h0m109 2h0m26 5h0m-26 1h0m-42 3h0m44 0h0m9-1h0m0 6h0m-96 2h0m109 5h0m4 1h0m9-1h0m-140 6h0m24 0h0m120 1h0m-157 5h0m42 1h0m-23 2h0m3 2h0m109 1h0m24 1h0m-68 14h0m-3 3h0m-93 0h0m109 0h0m69 7h0m-9 1h0m-176 3h0m165 7h0m12 3h0m-108 3h0m91 0h0m-184 6h0m85 0h0m79 2h0m-183 11h0m219 2h0m-173 6h0m172 1h0m-102 2h0m72 3h0m-45 3h0m93 2h0m80 0h0m-23 2h0m-11 0h0m-117 1h0m37 2h0m-192 8h0m125 1h0m13 2h0m46 2h0m-75 4h0m-37 1h0m100 1h0m-27 1h0m-141 2h0m42 0h0m150 0h0m134 3h0m-136 0h0m-101 3h0m107 2h0m-73 13h0m102 1h0m-89 1h0m135 4h0m29 15h0m-123 13h0m66 0h0m53 21h0m-271 16h0m245 2h0m-129 31h0m-62 13h0"/>
<path stroke="#9A6ACB" stroke-width="9" stroke-linecap="square" transform="scale(.1)" d="M676 1276h0m0 5h0m-11 2h0m26 0h0m-24 1h0m29 1h0m-15 3h0m-25 5h0m7 0h0m-8 2h0m1-1h0m37 1h0m10 2h0m-49 0h0m29 4h0m8 1h0m6-1h0m-9 2h0m2 0h0m6 3h0m-26 0h0m16 2h0m18-1h0m-4 1h0m-16 2h0m10 0h0m12 1h0m-39 0h0m40 1h0m-27 3h0m5 0h0m2 1h0m3 1h0m10 0h0m-38 4h0m28-1h0"/>
<path stroke="#3A4FA8" stroke-width="9" stroke-linecap="square" transform="scale(.1)" d="M763 1349h0m-28 2h0m24 4h0m-47 0h0m6 15h0m52 3h0m-53 2h0m25 0h0m7 0h0m2 8h0m25 1h0m-21 1h0m-7 0h0m0 3h0"/>
<path stroke="#6C8FD8" stroke-width="9" stroke-linecap="square" transform="scale(.1)" d="M772 1351h0m-20 4h0m8-1h0m-24 11h0m32 0h0m1 0h0m-14 2h0m-17 5h0m8 1h0m-23 15h0"/>
<path stroke="#44B87A" stroke-width="9" stroke-linecap="square" transform="scale(.1)" d="M967 1396h0m54 1h0m-34 3h0m8 1h0m-43 0h0m0 3h0m56 0h0m25 1h0m-87 1h0m16 0h0m55 1h0m17 0h0m-8 2h0m-84 1h0m44-1h0m-56 3h0m92 1h0m17-1h0m-103 1h0m17 1h0m-30 2h0m33 0h0m45 0h0m-48 2h0m54 0h0m10 1h0m-96 1h0m45 1h0m22-1h0m-19 1h0m22 2h0m-45 0h0m37 0h0m24 0h0m-88 3h0m12-1h0m40 0h0m18 1h0m-72 0h0m18 1h0m65 0h0m12 1h0m-28 2h0m-64 2h0m96 0h0m-91 2h0m95-1h0m-3 1h0m-60 2h0m58 0h0m2 0h0m5 0h0m5 0h0m-83 1h0m100-1h0m-66 2h0m69-1h0m-61 3h0m15 0h0m28 0h0m2-1h0m-103 1h0m30 1h0m64-1h0m19 0h0m-108 1h0m40 1h0m29 0h0m28 1h0m-65 1h0m10-1h0m57 0h0m-66 6h0m-33 1h0m1 0h0m16 1h0m-32 1h0m85 1h0m-49 1h0m4 1h0m75 0h0m-91 1h0m13 0h0m17-1h0m40 2h0m-47 4h0m11 0h0m16 0h0m13 2h0m-50 0h0m82 0h0m-113 2h0m29 0h0m46 0h0m-75 2h0m117 0h0m3 0h0m-108 0h0m60 1h0m-53 1h0m101 0h0m-65 2h0m31 1h0m-62 2h0m8 0h0m21 0h0m7 1h0m4-1h0m-6 2h0m24 0h0m-34 2h0m8-1h0m44 1h0m4 1h0m-81 1h0m5 0h0m6 3h0m26 0h0m-45 3h0m15 2h0m60 0h0m5-1h0m-70 2h0m7 0h0m6 1h0m49-1h0m-71 2h0m71 3h0m-6 2h0m-39 1h0m52 0h0m-75 4h0m23 1h0m12 3h0m29 0h0m5 1h0m-15 1h0"/>
<path stroke="#8C5FB5" stroke-width="9" stroke-linecap="square" transform="scale(.1)" d="M951 1563h0m9 0h0m14 0h0m-2 1h0m-11 2h0m1 0h0m19-1h0m-41 4h0m31 0h0m-19 1h0m12 0h0m7 1h0m-30 0h0m16 3h0m-23 0h0m12 0h0m11 1h0m29-1h0m-50 1h0m27 1h0m27 0h0m-45 3h0m25-1h0m15 1h0m-42 0h0m-21 1h0m66 1h0m-13 1h0m-21 1h0m29 0h0m4 2h0m-47 2h0m15 2h0m27 0h0m-45 2h0m26 0h0m-20 1h0m46 1h0m-2 2h0m-22 0h0m23 1h0m-30 1h0m12 0h0m-23 1h0m3-1h0m5 1h0m19-1h0m11 2h0m2 0h0m-20 4h0m12 0h0m-6 3h0"/>
<path stroke="#EE5E95" stroke-width="9" stroke-linecap="square" transform="scale(.1)" d="M853 1505h0m-9 6h0m-40 6h0m-2 0h0m2 4h0m-4 1h0m47 2h0m-21 1h0m-9 3h0m44 0h0m-74 2h0m27 1h0m40-1h0m11 0h0m-75 1h0m2 1h0m48 1h0m0 0h0m-20 2h0m27 1h0m23 0h0m-42 0h0m16 1h0m-64 1h0m27 1h0m60-1h0m-74 2h0m17 0h0m-16 0h0m41 1h0m-13 0h0m-31 1h0m70 1h0m0 0h0m-35 2h0m-25 2h0m-15 0h0m29 1h0m20 1h0m-67 0h0m97 2h0m-93 0h0m7 0h0m70 1h0m-8 2h0m-36 0h0m17 0h0m34 1h0m13 0h0m-98 1h0m66 0h0m-38 2h0m37-1h0m-40 1h0m25 1h0m-55 1h0m24 0h0m3 0h0m69 2h0m3 0h0m-108 1h0m32 0h0m-36 0h0m27 1h0m25-1h0m16 1h0m-17 0h0m68 1h0m-12 0h0m-32 1h0m4 1h0m-54 0h0m34 0h0m28 0h0m-60 2h0m77 0h0m-65 0h0m61 1h0m3 1h0m20 0h0m-113 1h0m-8 2h0m42 0h0m-49 1h0m50 0h0m24 0h0m4 0h0m51 0h0m-105 0h0m32 2h0m46 1h0m-31 2h0m-87 2h0m6 0h0m79-1h0m11 0h0m14 1h0m-78 1h0m64 0h0m-25 1h0m10-1h0m39 0h0m-80 2h0m15 1h0m15-1h0m16 0h0m41 1h0m0 2h0m-130 0h0m14 0h0m54 0h0m6 1h0m42-1h0m-66 2h0m-24 1h0m5-1h0m116 1h0m0 0h0m-133 0h0m17 1h0m13 0h0m9-1h0m79 1h0m-101 2h0m19 0h0m8 0h0m0 0h0m9 2h0m33 0h0m-42 1h0m87 0h0m-37 0h0m22 0h0m-13 1h0m13 3h0m-79 0h0m38 1h0m34-1h0m-88 1h0m1 0h0m-31 1h0m46 1h0m54 1h0m1 0h0m25 0h0m8-1h0m-30 2h0m-118 0h0m36 1h0m64-1h0m35 0h0m-48 2h0m-39 0h0m4 1h0m90 0h0m-144 2h0m64-1h0m70 0h0m-133 2h0m20 0h0m57 1h0m-82 1h0m10 1h0m45-1h0m59 2h0m-105 1h0m114-1h0m-83 2h0m1-1h0m89 1h0m-86 1h0m37 0h0m-32 4h0m-44 2h0m24 0h0m19-1h0m25 1h0m23 0h0m45-1h0m-144 1h0m87 1h0m46 0h0m-132 2h0m3 0h0m51-1h0m16 0h0m6 2h0m22 0h0m39-1h0m0 1h0m-28 0h0m-71 2h0m-30 0h0m30 1h0m-25 1h0m4-1h0m5 1h0m9-1h0m12 0h0m39 0h0m41 0h0m-98 2h0m27 0h0m25 0h0m-91 1h0m129-1h0m35 0h0m0 0h0m-159 2h0m110-1h0m-98 2h0m45 0h0m81-1h0m21 0h0m-139 2h0m90-1h0m10 0h0m7 0h0m0 2h0m-16 1h0m20 0h0m-130 1h0m106 1h0m19-1h0m-126 2h0m54 0h0m62 0h0m-122 1h0m10 1h0m62-1h0m12 0h0m14 2h0m50 0h0m-130 0h0m53 0h0m16 1h0m19-1h0m-109 2h0m69-1h0m9 0h0m36 1h0m-29 1h0m17-1h0m29 0h0m39 1h0m0 0h0m-45 1h0m-119 4h0m115 0h0m-100 0h0m17 1h0m47-1h0m1 0h0m18 0h0m-47 2h0m10-1h0m80 1h0m-54 2h0m-55 1h0m31 0h0m48 0h0m23 1h0m-118 0h0m19 1h0m50 0h0m32 0h0m19 0h0m6 0h0m-131 0h0m85 0h0m-105 1h0m8 1h0m78 0h0m9 1h0m-46 0h0m118 0h0m-132 1h0m72 0h0m-19 1h0m32 1h0m-123 0h0m12 0h0m46 1h0m13-1h0m81 1h0m11 0h0m-120 0h0m17 1h0m19 0h0m25 1h0m-99 0h0m12 0h0m103 0h0m40 0h0m-155 2h0m41 0h0m47-1h0m28 1h0m25 0h0m-141 0h0m128 1h0m-66 0h0m-10 1h0m15 1h0m5 1h0m57-1h0m12 1h0m-157 0h0m71 1h0m24 0h0m1 1h0m12-1h0m-104 1h0m44 0h0m128 2h0m-42 1h0m3 0h0m-41 2h0m-10 1h0m52 0h0m-45 0h0m21 0h0m12 1h0m28 1h0m-115 0h0m23 1h0m21 0h0m30 0h0m-77 2h0m142-1h0m-173 2h0m122-1h0m52 0h0m-21 1h0m-123 1h0m82 0h0m-110 2h0m85 1h0m5-1h0m-83 2h0m30 0h0m53 1h0m37-1h0m-127 2h0m139 0h0m-82 1h0m4-1h0m15 0h0m26 1h0m-100 2h0m9-1h0m118 1h0m35-1h0m-167 1h0m9 0h0m75 0h0m95 0h0m-135 1h0m53 0h0m60 0h0m-144 1h0m43 0h0m67 0h0m13 1h0m2 0h0m2 0h0m-106 0h0m44 1h0m62-1h0m-109 3h0m1 1h0m53 0h0m84 0h0m-131 0h0m-22 1h0m13 0h0m8 1h0m-20 3h0m129 0h0m9 0h0m-93 0h0m66 1h0m44-1h0m5 1h0m-53 0h0m8 1h0m21-1h0m19 1h0m-173 0h0m117 0h0m9 0h0m44 0h0m-85 1h0m29 0h0m17 0h0m45 1h0m-183 0h0m75 1h0m105 0h0m-31 2h0m-152 1h0m42 0h0m0-1h0m87 1h0m37-1h0m12 1h0m-43 0h0m21 1h0m-119 0h0m22 0h0m55 1h0m39-1h0m-9 3h0m34-1h0m-173 2h0m51-1h0m82 0h0m-94 2h0m56 1h0m62 0h0m-133 1h0m5 0h0m30-1h0m-28 2h0m13 0h0m15-1h0m13 1h0m-50 0h0m12 0h0m104 1h0m-114 0h0m31 1h0m15 0h0m-41 0h0m144 0h0m-149 2h0m40-1h0m8 1h0m11 0h0m58 1h0m-65 1h0m3 0h0m-42 0h0m38 2h0m1-1h0m39 0h0m22 1h0m10 0h0m-117 1h0m3 0h0m1-1h0m71 0h0m21 0h0m16 1h0m-108 0h0m-10 1h0m16 1h0m135-1h0m-130 1h0m69 0h0m19 1h0m3-1h0m-86 2h0m-14 3h0m119 0h0m-82 1h0m64 0h0m5-1h0m-118 1h0m106 0h0m30 2h0m-147 0h0m4 1h0m27-1h0m37 1h0m73-1h0m12 0h0m-97 1h0m12 0h0m-3 2h0m10 0h0m16-1h0m31 2h0m7 0h0m-71 0h0m33 1h0m-44 1h0m51 0h0m23-1h0m-72 2h0m32 0h0m9 0h0m18-1h0m-45 1h0m15 0h0m13 1h0m-86 1h0m16 0h0m124-1h0m-137 1h0m94 1h0m53-1h0m-113 2h0m87 1h0m-40 1h0m13 0h0m-67 0h0m28 0h0m38 2h0m37-1h0m1 1h0m-68 0h0m17 0h0m10 0h0m-59 2h0m51 0h0m-66 1h0m41 2h0m10 0h0m61-1h0m18 1h0m5-1h0m-54 2h0m31 0h0m-104 1h0m33 1h0m27-1h0m18 0h0m29 1h0m-106 2h0m5-1h0m28 1h0m2 0h0m29-1h0m30 1h0m7 1h0m-51 0h0m19 0h0m21 0h0m5 1h0m-85 0h0m29 0h0m14 1h0m7 0h0m5 0h0m64 0h0m-23 1h0m-20 1h0m-18 0h0m-24 2h0m10 0h0m-46 0h0m114 1h0m-48 0h0m47 1h0m2 0h0m-22 1h0m-112 0h0m12 1h0m0 0h0m31 0h0m1 1h0m18 0h0m1 0h0m57 2h0m-7 2h0m-110 1h0m24-1h0m5 1h0m45-1h0m-51 3h0m68 0h0m-60 2h0m57 0h0m20 1h0m-23 1h0m-35 1h0m42 0h0m-61 1h0m13 1h0m14 1h0m9 0h0m1 0h0m12 3h0m-23 1h0m7 2h0m4 0h0"/>
<path stroke="#C063C0" stroke-width="9" stroke-linecap="square" transform="scale(.1)" d="M449 1592h0m-2 4h0m2 0h0m5 5h0m2 0h0m13 1h0m-30 1h0m3 0h0m3 5h0m-3 1h0m22 1h0m-47 1h0m49 0h0m-20 0h0m-7 1h0m31 1h0m2 0h0m-28 0h0m-5 3h0m-37 1h0m12 0h0m20 0h0m43 0h0m-72 1h0m70 1h0m-75 1h0m39 1h0m40 0h0m28-1h0m0 2h0m-37 1h0m-54 2h0m-6 5h0m86 0h0m-4 2h0m-89 0h0m37 1h0m11-1h0m68 1h0m-81 0h0m52 0h0m-63 2h0m18-1h0m13 1h0m8 1h0m36 1h0m21 0h0m1 1h0m-32 1h0m-85 1h0m101 0h0m-108 1h0m28 1h0m49 1h0m16 1h0m-91 0h0m49 1h0m-39 1h0m41-1h0m-49 3h0m4-1h0m50 1h0m51-1h0m18 1h0m-112 2h0m8 0h0m5 0h0m106 0h0m-38 1h0m43-1h0m-73 1h0m-51 1h0m23 1h0m79 0h0m31-1h0m-137 2h0m8-1h0m31 2h0m18-1h0m-62 2h0m5-1h0m127 1h0m-89 2h0m-34 1h0m51 0h0m11 0h0m-72 0h0m34 1h0m41 0h0m-56 0h0m24 1h0m2 0h0m-22 2h0m34-1h0m22 1h0m-7 2h0m-25 0h0m8 1h0m12-1h0m75 1h0m-86 1h0m-13 1h0m33 1h0m15 0h0m16 0h0m-95 1h0m22 0h0m84 0h0m-87 1h0m7-1h0m83 1h0m-48 0h0m19 1h0m11 0h0m55 0h0m-137 2h0m-17 0h0m77 1h0m13-1h0m-69 2h0m61-1h0m9 0h0m22 1h0m-29 0h0m19 0h0m12 0h0m20 1h0m-48 1h0m-49 0h0m30 1h0m6 1h0m1 0h0m-20 1h0m93 1h0m-118 1h0m60 1h0m-11 1h0m2-1h0m60 1h0m-92 1h0m76-1h0m19 1h0m-4 3h0m16 0h0m-99 0h0m1 0h0m16 0h0m-36 2h0m50-1h0m11 1h0m48 0h0m0 0h0m-125 1h0m30 0h0m51-1h0m28 1h0m6-1h0m-120 2h0m49-1h0m-47 2h0m98 0h0m14-1h0m13 0h0m6 0h0m-85 1h0m-46 1h0m34 1h0m52 0h0m60 0h0m-148 1h0m110 1h0m24 0h0m-101 0h0m110 1h0m-137 0h0m34 1h0m97 0h0m-126 1h0m62 0h0m39 0h0m-58 1h0m48 1h0m13 0h0m-99 0h0m76 1h0m-85 0h0m43 0h0m103 0h0m-87 2h0m42 1h0m-39 1h0m33 0h0m10 0h0m18-1h0m-84 2h0m16-1h0m78 0h0m-102 1h0m9 1h0m8-1h0m85 1h0m-89 0h0m87 1h0m-58 2h0m-47 1h0m31-1h0m30 2h0m29 1h0m19 0h0m-84 2h0m61-1h0m-60 2h0m-33 1h0m39 0h0m69 1h0m-9 1h0m-87 1h0m108 0h0m-1 0h0m-109 2h0m10 0h0m25 0h0m-9 1h0m-16 2h0m112-1h0m-60 2h0m26-1h0m8 1h0m30-1h0m-95 1h0m22 1h0m16 0h0m-26 2h0m30 0h0m-45 0h0m64 1h0m-15 2h0m-18 3h0m0 2h0m-11 0h0m-28 1h0m44 1h0m22 0h0m-58 3h0m12-1h0m41 0h0m38 0h0m-45 1h0m15 0h0m-36 2h0m47 0h0m14 1h0m-64 1h0m43 0h0m13 1h0m-45 0h0m39 0h0m24 0h0m-76 2h0m-1 0h0m24 3h0m1 2h0m-5 1h0m7 1h0m23 0h0m-4 2h0m-13 1h0"/>
<path stroke="#B657C8" stroke-width="9" stroke-linecap="square" transform="scale(.1)" d="M576 1778h0m9 2h0m-9 3h0m2 1h0m7 0h0m3 0h0m-9 1h0m5 3h0m4 1h0m-12 1h0m21 2h0m-5 0h0m-27 1h0m1 2h0m19 0h0m-9 1h0m-11 1h0m5 3h0m13 2h0m-5 4h0m6 0h0m-6 3h0"/>
<text x="68.8" y="119.9" font-size="3.8" text-anchor="middle" fill="#111" font-weight="bold">T30</text>
<text x="67.5" y="132.0" font-size="3.8" text-anchor="middle" fill="#111" font-weight="bold">T28</text>
<text x="86.0" y="132.5" font-size="3.8" text-anchor="middle" fill="#111" font-weight="bold">T18</text>
<text x="75.0" y="139.0" font-size="3.8" text-anchor="middle" fill="#111" font-weight="bold">T19</text>
<text x="96.5" y="160.0" font-size="3.8" text-anchor="middle" fill="#111" font-weight="bold">T20</text>
<text x="76.5" y="168.3" font-size="3.8" text-anchor="middle" fill="#111" font-weight="bold">T34</text>
<text x="50.0" y="170.0" font-size="3.8" text-anchor="middle" fill="#111" font-weight="bold">T26</text>
<text x="58.5" y="181.0" font-size="3.8" text-anchor="middle" fill="#111" font-weight="bold">T31</text>
<text x="161.5" y="106.0" font-size="7.35" text-anchor="middle" fill="#222"  stroke="#222" stroke-width="0.05">T34 Color by Cluster</text>
<rect x="126.6" y="111.6" width="72.0" height="73.3" fill="none" stroke="#a0a0a0" stroke-width="0.7"/>
<line x1="131.7" y1="184.9" x2="131.7" y2="186.7" stroke="#777" stroke-width="0.45" />
<text x="131.7" y="190.3" font-size="3.9" text-anchor="middle" fill="#444" >-40</text>
<line x1="149.8" y1="184.9" x2="149.8" y2="186.7" stroke="#777" stroke-width="0.45" />
<text x="149.8" y="190.3" font-size="3.9" text-anchor="middle" fill="#444" >-20</text>
<line x1="167.9" y1="184.9" x2="167.9" y2="186.7" stroke="#777" stroke-width="0.45" />
<text x="167.9" y="190.3" font-size="3.9" text-anchor="middle" fill="#444" >0</text>
<line x1="186.0" y1="184.9" x2="186.0" y2="186.7" stroke="#777" stroke-width="0.45" />
<text x="186.0" y="190.3" font-size="3.9" text-anchor="middle" fill="#444" >20</text>
<line x1="124.8" y1="128.6" x2="126.6" y2="128.6" stroke="#777" stroke-width="0.45" />
<text x="124.2" y="129.9" font-size="3.9" text-anchor="end" fill="#444" >20</text>
<line x1="124.8" y1="149.4" x2="126.6" y2="149.4" stroke="#777" stroke-width="0.45" />
<text x="124.2" y="150.8" font-size="3.9" text-anchor="end" fill="#444" >0</text>
<line x1="124.8" y1="169.5" x2="126.6" y2="169.5" stroke="#777" stroke-width="0.45" />
<text x="124.2" y="170.8" font-size="3.9" text-anchor="end" fill="#444" >-20</text>
<path stroke="#D89000" stroke-width="9" stroke-linecap="square" transform="scale(.1)" d="M1533 1148h0m26 1h0m4 1h0m3 1h0m20 0h0m-50 1h0m45 1h0m-5 1h0m-52 2h0m6-1h0m9 1h0m33 2h0m4 1h0m27 2h0m-79 1h0m44 0h0m-9 2h0m35 1h0m-70 1h0m-11 0h0m12 0h0m23 0h0m8 1h0m26-1h0m16 1h0m-35 0h0m18 1h0m8-1h0m-30 2h0m-39 1h0m53-1h0m-29 2h0m56-1h0m-84 1h0m88 4h0m-79 0h0m48 1h0m4 0h0m-40 0h0m66 0h0m5 1h0m-103 2h0m12 2h0m64 0h0m-48 0h0m-6 1h0m94 0h0m-131 2h0m18-1h0m60 1h0m21 0h0m-54 2h0m25 1h0m25 0h0m0 0h0m-48 0h0m53 1h0m-80 0h0m42 3h0m22 0h0m10 1h0m33 0h0m-102 0h0m1 0h0m19 3h0m9-1h0m24 0h0m6 0h0m10 3h0m-13 0h0m-23 2h0m17 2h0m5 1h0m7 0h0m-69 2h0m33 0h0m10 0h0m-4 1h0m5 1h0m50-1h0m-46 2h0m53 0h0m-65 3h0m48-1h0m3 0h0m-60 2h0m80 1h0m-102 4h0m1-1h0m-18 2h0m9-1h0m16 1h0m28 0h0m25 1h0m9 0h0m17 1h0m12-1h0m-11 1h0m5 1h0m-101 1h0m97-1h0m-13 5h0m-59 1h0m29-1h0m-36 2h0m-24 0h0m30 1h0m68 0h0m20 1h0m-109 2h0m44 0h0m31 0h0m14 1h0m2 0h0m-86 1h0m10 0h0m17 1h0m0 0h0m-33 2h0m61 0h0m38-1h0m-50 2h0m0-1h0m51 0h0m-38 2h0m53-1h0m-92 3h0m55 1h0m-85 1h0m65 0h0m21 0h0m3 0h0m-62 1h0m-26 1h0m55 0h0m19 1h0m-59 0h0m37 2h0m25-1h0m21 1h0m-77 1h0m27 0h0m28-1h0m16 0h0m-52 2h0m-34 3h0m46 0h0m20-1h0m-64 2h0m78 1h0m-89 2h0m25-1h0m90 1h0m-103 1h0m5 0h0m33 1h0m-36 1h0m1 0h0m23 0h0m34 0h0m28 1h0m-55 0h0m1 1h0m13-1h0m6 1h0m-1 2h0m20 0h0m14 0h0m-85 2h0m38 0h0m-13 1h0m20 1h0m2-1h0m-21 2h0m3 0h0m-31 3h0m11-1h0m39 1h0m18 0h0m-29 1h0m-28 1h0m3-1h0m69 0h0m-79 2h0m63 1h0m9 0h0m-34 2h0m31 0h0m-11 2h0m19 0h0m4 2h0m-51 1h0m35 0h0m-33 3h0m57 0h0m-91 2h0m42 0h0m3 1h0m33-1h0m-52 2h0m49-1h0m-66 1h0m80 3h0m-76 1h0m31 0h0m5 0h0m26 1h0m13 2h0m-62 1h0m22 0h0m19 0h0m14 1h0m-25 0h0m1 1h0m-42 1h0m1 2h0m16 0h0m46 3h0m-44 2h0m22 5h0m21-1h0m-56 2h0m44 0h0m-49 2h0m15 1h0m5 0h0m25 2h0m18 0h0m-45 1h0m32 2h0m-42 1h0m38 0h0m-26 1h0m36 1h0m-37 2h0m2 0h0m35 0h0m-14 1h0m-9 1h0m-34 1h0m11 2h0m25 1h0"/>
<path stroke="#6A50B0" stroke-width="9" stroke-linecap="square" transform="scale(.1)" d="M1701 1146h0m-2 1h0m4 0h0m-8 3h0m-6 1h0m6 1h0m0 2h0m14 5h0m-17 0h0m16 0h0m-13 2h0"/>
<path stroke="#00BFC4" stroke-width="9" stroke-linecap="square" transform="scale(.1)" d="M1743 1243h0m-11 2h0m4 2h0m10 5h0m17 2h0m-23 2h0m2 0h0m10 1h0m-29 1h0m36 0h0m-30 2h0m25-1h0m11 0h0m-31 3h0m14-1h0m-22 3h0m35 1h0m-31 0h0m29 2h0m15-1h0m-40 1h0m16 0h0m24 1h0m-14 1h0m6 0h0m-44 1h0m-4 0h0m1 0h0m7 3h0m1 1h0m24 1h0m10-1h0m-25 2h0m43 2h0m-14 1h0m-40 2h0m-6 2h0m34-1h0m30 0h0m-57 2h0m18 0h0m-17 0h0m45 2h0m-52 2h0m39 2h0m-32 1h0m28 2h0m-23 2h0m22-1h0m-34 2h0m10 1h0m-4 2h0"/>
<path stroke="#A3A500" stroke-width="9" stroke-linecap="square" transform="scale(.1)" d="M1735 1334h0m22 2h0m-3 1h0m-2 1h0m-26 2h0m15-1h0m-52 2h0m63 0h0m-60 1h0m11 0h0m26 0h0m-28 1h0m53 0h0m-65 1h0m4 1h0m33 0h0m15-1h0m13 1h0m-36 2h0m48 0h0m-76 1h0m21 0h0m-4 1h0m-6 4h0m12 1h0m38 1h0m16 0h0m-39 2h0m-14 1h0m34-1h0m21 0h0m-73 2h0m36 1h0m-59 2h0m40 2h0m13 0h0m30 1h0m-82 2h0m55-1h0m13 1h0m15 0h0m-83 0h0m52 1h0m46-1h0m-13 1h0m-45 2h0m55 2h0m-89 1h0m26-1h0m42 2h0m20 0h0m-36 3h0m2 0h0m15 1h0m19-1h0m-50 2h0m32 0h0m-67 3h0m34 0h0m17 2h0m30 1h0m-70 1h0m32-1h0m8 1h0m17-1h0m-35 3h0m-42 0h0m26 0h0m48 0h0m30 1h0m-81 1h0m62 5h0m-17 0h0m7 0h0m-69 2h0m101 0h0m-79 1h0m39 0h0m0 0h0m22 1h0m5 2h0m-49 1h0m67-1h0m-99 2h0m49-1h0m9 2h0m7 0h0m-80 2h0m67-1h0m-43 2h0m49-1h0m-58 2h0m2 3h0m12-1h0m49 0h0m7 1h0m14 0h0m12 1h0m-64 1h0m13 0h0m50 0h0m-47 2h0m6-1h0m30 1h0m-85 1h0m89 0h0m-10 1h0m5 2h0m-81 1h0m14 0h0m28 1h0m50 0h0m-63 1h0m-22 0h0m31 0h0m-32 2h0m-5 0h0m-7 2h0m50 2h0m0-1h0m-2 1h0m10 1h0m46-1h0m-18 1h0m-32 3h0m-8 2h0m47 0h0m-23 1h0m23 0h0m-87 2h0m47-1h0m-49 1h0m10 1h0m87 1h0m-70 1h0m-26 1h0m-8 1h0m31 1h0m6 0h0m45 0h0m3 0h0m-9 0h0m-14 1h0m-52 2h0m83 0h0m-57 1h0m19-1h0m-50 2h0m4 0h0m-11 0h0m60 1h0m41 2h0m-95 0h0m48 2h0m2 0h0m9 0h0m-39 1h0m34 4h0m3 0h0m9 1h0m-32 0h0m-19 1h0m25 1h0m19 3h0m40 1h0m-51 3h0m28 2h0m-9 1h0m17-1h0m-21 2h0m7-1h0m-26 2h0m47 0h0m-36 1h0m-3 4h0m17 0h0m-21 1h0m-16 1h0m4 0h0m-7 4h0m28 0h0m17 0h0m-40 2h0m9 1h0m26 1h0m-16 2h0m24 0h0m-21 2h0m0-1h0m10 3h0m-22 4h0m9 6h0"/>
<path stroke="#00C08B" stroke-width="9" stroke-linecap="square" transform="scale(.1)" d="M1885 1376h0m-10 3h0m11 4h0m22 1h0m-38 5h0m22 3h0m16 1h0m-31 2h0m49 1h0m-3 1h0m1-1h0m-66 2h0m12 1h0m19-1h0m5 2h0m-56 0h0m24 0h0m50 1h0m-32 1h0m54 2h0m-4 0h0m-21 1h0m12 1h0m9 1h0m-57 2h0m3-1h0m-27 2h0m30-1h0m-1 3h0m11-1h0m57 2h0m5 1h0m-44 2h0m-68 1h0m40 1h0m12 1h0m19-1h0m-10 8h0m-11 0h0m18 2h0m9 2h0m-58 1h0m61-1h0m-41 3h0m58 2h0m18 0h0m-90 1h0m19-1h0m-25 1h0m8 0h0m42 1h0m-70 1h0m96 0h0m5 1h0m11 0h0m-106 0h0m107 0h0m-102 2h0m44 0h0m-10 1h0m29 1h0m28 0h0m-67 1h0m2-1h0m25 0h0m-32 3h0m34 0h0m-66 1h0m84 0h0m8 2h0m-82 1h0m70 1h0m10-1h0m-84 1h0m29 1h0m76-1h0m-103 1h0m19 0h0m15 1h0m25 1h0m24 0h0m-76 2h0m-12 0h0m54 1h0m16-1h0m13 1h0m30-1h0m-113 2h0m77-1h0m-77 2h0m18 3h0m75 1h0m22 0h0m-49 1h0m-5 1h0m-46 1h0m46 0h0m-54 2h0m32 2h0m15 2h0m43 2h0m-3 2h0m-80 1h0m73 2h0m-12 1h0m4 0h0m20-1h0m-20 3h0m7 0h0m-29 3h0m-12 3h0m14 2h0m9 2h0m4 3h0m-20 1h0"/>
<path stroke="#9B6BA0" stroke-width="9" stroke-linecap="square" transform="scale(.1)" d="M1421 1430h0m8 5h0m-15 2h0m6 3h0m7 0h0m-15 2h0m11 2h0m6 4h0m-6 2h0m-7 0h0m12 1h0"/>
<path stroke="#5048B0" stroke-width="9" stroke-linecap="square" transform="scale(.1)" d="M1305 1487h0m-6 4h0m12-1h0m2 2h0m-11 3h0m-6 3h0m-3 2h0m16-1h0m3 2h0m1 2h0m-15 2h0"/>
<path stroke="#F8766D" stroke-width="9" stroke-linecap="square" transform="scale(.1)" d="M1624 1394h0m-52 4h0m10 1h0m67 2h0m-6 2h0m-73 2h0m41 0h0m27 0h0m1 1h0m-10 3h0m-67 2h0m40 0h0m53 1h0m-112 1h0m43 0h0m49 0h0m5 1h0m-24 1h0m46 0h0m-103 0h0m17 1h0m-2 1h0m76 2h0m-83 1h0m91 3h0m5-1h0m-34 2h0m45 0h0m-140 1h0m26 1h0m-24 1h0m36 0h0m67 1h0m25 2h0m-96 1h0m85 2h0m-115 0h0m91 0h0m19 1h0m-90 1h0m16 1h0m4-1h0m37 1h0m30-1h0m-111 2h0m122 0h0m-1 1h0m-36 0h0m48 0h0m12 1h0m9 1h0m8 0h0m-117 1h0m29 0h0m47 0h0m40 0h0m-9 2h0m-36 0h0m40 1h0m-89 1h0m-65 1h0m93 0h0m71-1h0m-89 2h0m61-1h0m31 1h0m-134 0h0m37 0h0m1 0h0m-57 1h0m104 1h0m-105 1h0m100 1h0m21-1h0m-104 2h0m30 0h0m95-1h0m-99 2h0m45 0h0m56 1h0m2 0h0m-193 3h0m27 0h0m57 1h0m74 0h0m-155 0h0m81 1h0m42 0h0m-14 1h0m19 0h0m8 1h0m-155 0h0m89 0h0m33 1h0m-93 1h0m84 0h0m20-1h0m1 1h0m-122 0h0m155 0h0m46 0h0m-153 1h0m-11 2h0m2 0h0m-38 0h0m61 3h0m59 0h0m22 0h0m78 0h0m-127 2h0m25 2h0m8-1h0m37 0h0m32 0h0m-197 2h0m63 0h0m89 3h0m32-1h0m-138 3h0m38 1h0m75 0h0m-158 1h0m228-1h0m-111 2h0m77-1h0m-15 2h0m-34 2h0m36 0h0m-47 1h0m76 2h0m-186 2h0m35 0h0m13-1h0m-69 1h0m2 0h0m150 0h0m1 1h0m-136 0h0m144 1h0m-167 1h0m219-1h0m-244 1h0m162 0h0m-154 1h0m41 0h0m12 0h0m26 0h0m-94 2h0m74-1h0m20 1h0m-101 0h0m13 1h0m6 0h0m258 0h0m-219 1h0m222 0h0m-162 1h0m46-1h0m26 0h0m45 2h0m36 0h0m-91 0h0m10 0h0m0 0h0m84 0h0m-264 1h0m27 1h0m-25 0h0m97 0h0m6 0h0m2 2h0m-11 0h0m8 1h0m127 0h0m-184 0h0m205 0h0m-197 2h0m17 0h0m147 0h0m-201 0h0m-17 1h0m168 1h0m12 0h0m20-1h0m13 2h0m28-1h0m-221 2h0m178-1h0m55 1h0m-99 1h0m37-1h0m-178 1h0m118 1h0m17-1h0m-44 2h0m4 0h0m154-1h0m-160 1h0m-61 2h0m76-1h0m-99 2h0m66 0h0m-101 1h0m174 0h0m15 0h0m17-1h0m34 1h0m35 0h0m-269 2h0m49 0h0m15-1h0m75 0h0m70 0h0m28 1h0m-18 0h0m-165 1h0m52 1h0m114-1h0m24 1h0m-131 1h0m40 2h0m47 0h0m-50 1h0m83 1h0m35-1h0m-268 2h0m160-1h0m30 0h0m29 1h0m-185 1h0m43 0h0m18-1h0m-8 2h0m49-1h0m109 1h0m-63 0h0m-155 1h0m56 1h0m15 0h0m24-1h0m9 1h0m76 0h0m-211 1h0m38 1h0m53 0h0m185 0h0m-252 0h0m12 0h0m244 0h0m0 1h0m-240 1h0m53-1h0m189 0h0m-232 1h0m57 1h0m-60 1h0m125 0h0m123 0h0m-221 2h0m159-1h0m3 1h0m-29 1h0m34 1h0m-228 1h0m162 1h0m15-1h0m94 0h0m-222 1h0m43 1h0m-120 0h0m149 0h0m114 0h0m1 0h0m-202 1h0m179 1h0m44 0h0m-174 1h0m46 0h0m66-1h0m30 0h0m34 1h0m-254 1h0m139 0h0m72-1h0m-165 2h0m33-1h0m132 0h0m-102 1h0m-71 2h0m46 1h0m65-1h0m20 0h0m-193 2h0m181 0h0m-124 0h0m26 0h0m126 0h0m39 0h0m11 1h0m15 2h0m-164 2h0m-56 0h0m18 0h0m51 0h0m48 1h0m89-1h0m-262 1h0m94 0h0m-9 3h0m183 1h0m-155 0h0m192 1h0m-82 0h0m12 2h0m27 0h0m26-1h0m-27 2h0m-225 0h0m23 2h0m147 0h0m-110 0h0m5 1h0m32 0h0m-135 1h0m139-1h0m67 1h0m6-1h0m56 1h0m-216 1h0m-4 0h0m120 1h0m3 0h0m7 1h0m2-1h0m-83 1h0m202 0h0m-172 2h0m-88 1h0m13-1h0m101 1h0m8 2h0m-6 1h0m41-1h0m-141 2h0m32 0h0m74 1h0m131 0h0m-219 3h0m146 0h0m-49 0h0m48 0h0m72 1h0m-129 0h0m77 0h0m77 1h0m-200 1h0m-92 1h0m18 0h0m44 0h0m48-1h0m155 1h0m-131 1h0m10 0h0m-162 0h0m174 1h0m58-1h0m13 1h0m-95 0h0m-141 1h0m30 1h0m238 1h0m-52 1h0m-203 1h0m237 0h0m-168 1h0m145 1h0m-152 1h0m182 0h0m-64 1h0m-13 2h0m33 0h0m-170 2h0m237-1h0m-195 2h0m61 1h0m21 0h0m124 1h0m-198 1h0m161-1h0m43 1h0m-282 1h0m263 0h0m-208 1h0m42 0h0m142 0h0m0 0h0m-77 1h0m-156 1h0m-7 1h0m72 0h0m16 0h0m44-1h0m46 0h0m103 1h0m-32 1h0m27-1h0m-93 2h0m82 1h0m-280 1h0m23-1h0m62 0h0m26 0h0m67 0h0m-170 1h0m7 0h0m50 0h0m199 0h0m7 1h0m-205 0h0m21 1h0m5-1h0m-65 2h0m255-1h0m-231 2h0m8 0h0m15 0h0m-83 3h0m276-1h0m-265 1h0m149 1h0m51 0h0m31 0h0m-224 0h0m74 0h0m44 1h0m72 0h0m54-1h0m6 0h0m12 0h0m-173 1h0m72 0h0m2 1h0m-59 2h0m56-1h0m-131 1h0m6 1h0m4 0h0m4-1h0m86 0h0m164 0h0m-289 1h0m17 1h0m209-1h0m-219 2h0m226-1h0m40 1h0m-276 1h0m216 1h0m4-1h0m10 1h0m-96 1h0m67-1h0m81 0h0m-285 2h0m12-1h0m167 1h0m-172 1h0m53 0h0m12 0h0m89 0h0m55 0h0m39 0h0m-200 0h0m12 0h0m86 0h0m78 0h0m49 1h0m-262 1h0m18-1h0m206 1h0m-219 0h0m193 1h0m-192 0h0m137 1h0m103 0h0m-7 0h0m-262 1h0m82 0h0m12 1h0m116 1h0m79 0h0m-124 3h0m72-1h0m42 0h0m11 0h0m-257 2h0m105-1h0m83 0h0m66 1h0m-267 1h0m72 0h0m145 0h0m-112 3h0m55 0h0m59 0h0m10 0h0m-215 0h0m250 1h0m-189 1h0m68-1h0m20 1h0m-28 0h0m71 1h0m-224 1h0m171 0h0m20 0h0m48-1h0m-97 3h0m122 1h0m8-1h0m-208 1h0m30 1h0m37 0h0m92 0h0m-160 0h0m160 2h0m-137 0h0m1 0h0m-68 1h0m6 1h0m14 1h0m10 0h0m20-1h0m60 1h0m90-1h0m-205 1h0m27 2h0m10-1h0m121 0h0m85 0h0m-241 2h0m94-1h0m65 1h0m1-1h0m12 2h0m-152 1h0m102-1h0m88 1h0m-184 0h0m77 0h0m65 1h0m-52 1h0m147 0h0m-51 0h0m-206 2h0m129 0h0m-92 3h0m29-1h0m15 0h0m5 1h0m2 0h0m16-1h0m20 0h0m79 1h0m-88 0h0m4 2h0m29-1h0m18 0h0m22 1h0m22-1h0m5 0h0m-8 1h0m-25 1h0m50 1h0m-173 1h0m68-1h0m6 1h0m60 0h0m-19 1h0m-45 0h0m-103 3h0m47 0h0m16 0h0m-63 2h0m167 0h0m-64 3h0m-77 0h0m186 0h0m-227 2h0m50-1h0m79 1h0m52 1h0m-112 1h0m37 1h0m-58 0h0m23 0h0m9 1h0m-57 0h0m68 1h0m-19 1h0m58 0h0m34-1h0m-105 2h0m44-1h0m35 1h0m48-1h0m-172 2h0m90-1h0m32 1h0m-86 0h0m6 0h0m34 0h0m3 0h0m46 0h0m-100 1h0m-30 2h0m12 0h0m75 0h0m39 0h0m51 1h0m-161 2h0m54-1h0m36 1h0m47 2h0m4 1h0m12 0h0m-97 2h0m43 0h0m-29 1h0m73-1h0m-59 1h0m30 0h0m23 2h0m-59 1h0m44-1h0m2 1h0m-1 2h0m13 1h0m10 0h0m2-1h0m24 0h0m-95 1h0m17 3h0m-23 2h0m86 0h0m-119 1h0m57 0h0m24 1h0m28 1h0m-98 0h0m-7 2h0m32 0h0m-37 1h0m29 0h0m-8 2h0m0 0h0m36 3h0m19 1h0m-27 2h0m3 0h0m-3 1h0m-5 4h0m23 1h0m-7 0h0"/>
<path stroke="#39B600" stroke-width="9" stroke-linecap="square" transform="scale(.1)" d="M1781 1598h0m-13 3h0m25 0h0m-20 1h0m33 1h0m5 3h0m-30 1h0m26 0h0m-54 1h0m10 0h0m37 6h0m17 1h0m-22 0h0m47 2h0m-71 1h0m-5 2h0m34 1h0m-47 2h0m57-1h0m-38 1h0m64 0h0m-86 2h0m53 0h0m27 1h0m-36 2h0m-44 2h0m47-1h0m-51 2h0m6 0h0m-27 4h0m18-1h0m57 2h0m28-1h0m-71 1h0m70 0h0m8 1h0m-27 0h0m46 1h0m-89 1h0m-1 2h0m-8 1h0m96 1h0m-78 1h0m57-1h0m-27 1h0m27 0h0m-3 1h0m-53 2h0m71-1h0m-60 2h0m63 0h0m-105 0h0m44 1h0m-3 0h0m2 0h0m-51 3h0m5 0h0m34 1h0m28 0h0m3 0h0m17 0h0m33-1h0m-128 1h0m70 1h0m11-1h0m53 1h0m2 1h0m-140 0h0m41 0h0m6 1h0m22 0h0m-63 1h0m25 1h0m24-1h0m8 2h0m26-1h0m20 1h0m-38 1h0m37 0h0m22 2h0m-59 0h0m29 1h0m-86 2h0m47 0h0m3 0h0m-46 2h0m42-1h0m13 0h0m43 1h0m-78 0h0m94 1h0m-97 0h0m89 1h0m-124 0h0m58 1h0m2-1h0m65 0h0m-63 2h0m67 1h0m-61 1h0m35 0h0m-18 1h0m35-1h0m20 0h0m-131 1h0m42 1h0m31 2h0m-42 1h0m-29 2h0m76 0h0m1-1h0m-59 2h0m8-1h0m55 0h0m1 1h0m19 0h0m-40 1h0m7-1h0m28 0h0m28 1h0m-131 2h0m45-1h0m57 0h0m-59 2h0m58 0h0m-89 0h0m38 1h0m15-1h0m18 1h0m31-1h0m10 2h0m-95 1h0m67-1h0m-85 2h0m32 0h0m1 0h0m73-1h0m-97 2h0m6 0h0m-24 1h0m33 2h0m31 0h0m-71 1h0m4 1h0m87 0h0m-53 1h0m51 2h0m22 0h0m8-1h0m-77 3h0m-21 1h0m-3 0h0m84 1h0m-73 0h0m77 1h0m18 0h0m-34 4h0m-72 0h0m24 0h0m44 1h0m37 0h0m-62 1h0m14 1h0m-29 2h0m44 1h0m-65 3h0m44-1h0m-33 2h0m25-1h0m50 1h0m-57 0h0m3 1h0m-3 0h0m27 0h0m36 0h0m-52 2h0m31 0h0m23 0h0m-29 0h0m4 1h0m-66 3h0m6 0h0m62 0h0m-21 3h0m-27 0h0m27 1h0m-14 1h0m-23 1h0m7 1h0m-1 1h0m4 2h0m-6 3h0"/>
<path stroke="#00A9FF" stroke-width="9" stroke-linecap="square" transform="scale(.1)" d="M1682 1733h0m-23 1h0m18 0h0m-15 0h0m17 0h0m3 0h0m-17 1h0m-8 2h0m29 5h0m8 0h0m-45 0h0m20 1h0m5 0h0m14 1h0m-3 0h0m3 1h0m-17 0h0m7 0h0m-25 2h0m38 2h0m-32 1h0m8 1h0m1 0h0m24 1h0m-30 3h0m3 0h0m10 1h0m-14 1h0m1 0h0m7 1h0m5 2h0m-11 1h0m10 0h0m0 0h0m11 10h0m2 0h0m-81 24h0m6 8h0m7 0h0m-8 1h0m10 0h0m-12 0h0m-6 1h0m-2 2h0m16 1h0m2 0h0"/>
<text x="156.0" y="125.1" font-size="4.3" text-anchor="middle" fill="#111" font-weight="bold">1</text>
<text x="170.0" y="117.1" font-size="4.3" text-anchor="middle" fill="#111" font-weight="bold">8</text>
<text x="176.0" y="129.1" font-size="4.3" text-anchor="middle" fill="#111" font-weight="bold">6</text>
<text x="174.0" y="142.6" font-size="4.3" text-anchor="middle" fill="#111" font-weight="bold">2</text>
<text x="190.0" y="146.1" font-size="4.3" text-anchor="middle" fill="#111" font-weight="bold">4</text>
<text x="142.2" y="146.0" font-size="4.3" text-anchor="middle" fill="#111" font-weight="bold">5</text>
<text x="130.5" y="151.4" font-size="4.3" text-anchor="middle" fill="#111" font-weight="bold">7</text>
<text x="160.2" y="158.6" font-size="4.3" text-anchor="middle" fill="#111" font-weight="bold">0</text>
<text x="180.0" y="169.6" font-size="4.3" text-anchor="middle" fill="#111" font-weight="bold">3</text>
<text x="167.4" y="176.6" font-size="4.3" text-anchor="middle" fill="#111" font-weight="bold">5</text>
<path d="M126.6,111.6 L83,152.5 M79,181.8 L126.6,184.9" stroke="#333" stroke-width="0.95" stroke-dasharray="1.5,1.5" fill="none"/>
<text x="69.4" y="202.6" font-size="7.35" text-anchor="middle" fill="#222"  stroke="#222" stroke-width="0.05">Batch corrected</text>
<text x="69.4" y="211.2" font-size="7.35" text-anchor="middle" fill="#222"  stroke="#222" stroke-width="0.05">Color by Cluster</text>
<rect x="35.5" y="213.9" width="73.4" height="75.0" fill="none" stroke="#a0a0a0" stroke-width="0.7"/>
<line x1="52.6" y1="288.9" x2="52.6" y2="290.7" stroke="#777" stroke-width="0.45" />
<text x="52.6" y="294.3" font-size="3.9" text-anchor="middle" fill="#444" >-25</text>
<line x1="71.0" y1="288.9" x2="71.0" y2="290.7" stroke="#777" stroke-width="0.45" />
<text x="71.0" y="294.3" font-size="3.9" text-anchor="middle" fill="#444" >0</text>
<line x1="90.5" y1="288.9" x2="90.5" y2="290.7" stroke="#777" stroke-width="0.45" />
<text x="90.5" y="294.3" font-size="3.9" text-anchor="middle" fill="#444" >25</text>
<line x1="33.7" y1="233.4" x2="35.5" y2="233.4" stroke="#777" stroke-width="0.45" />
<text x="33.1" y="234.8" font-size="3.9" text-anchor="end" fill="#444" >25</text>
<line x1="33.7" y1="253.9" x2="35.5" y2="253.9" stroke="#777" stroke-width="0.45" />
<text x="33.1" y="255.2" font-size="3.9" text-anchor="end" fill="#444" >0</text>
<line x1="33.7" y1="274.8" x2="35.5" y2="274.8" stroke="#777" stroke-width="0.45" />
<text x="33.1" y="276.2" font-size="3.9" text-anchor="end" fill="#444" >-25</text>
<path stroke="#F8766D" stroke-width="9" stroke-linecap="square" transform="scale(.1)" d="M740 2283h0m15 1h0m-23 5h0m-17 1h0m47 0h0m6-1h0m-63 2h0m51 1h0m-43 1h0m78 0h0m-83 1h0m11 0h0m7 0h0m9 0h0m-33 2h0m54-1h0m-6 2h0m22-1h0m-115 1h0m20 1h0m43 0h0m55 1h0m50 0h0m-119 1h0m2-1h0m29 0h0m8 0h0m-64 2h0m-31 0h0m25 0h0m50 0h0m-64 1h0m68 0h0m53 0h0m-143 1h0m13 1h0m44 0h0m12-1h0m35 0h0m17 1h0m35 0h0m39-1h0m-188 3h0m24 0h0m-22 1h0m16 1h0m-28 1h0m35 0h0m109 0h0m29 1h0m20 0h0m-126 0h0m75 0h0m36 0h0m12 0h0m-49 2h0m-124 0h0m41 1h0m61 0h0m48 1h0m-109 0h0m62 1h0m-110 0h0m50 1h0m154 0h0m-149 1h0m24 0h0m69 1h0m30-1h0m-192 2h0m30-1h0m9 0h0m86 0h0m7 0h0m1 0h0m58 1h0m-175 0h0m24 0h0m11 0h0m16 1h0m18-1h0m27 0h0m13 0h0m50 0h0m34 0h0m2 1h0m-117 0h0m19 1h0m1-1h0m89 0h0m-222 2h0m32-1h0m14 0h0m65 1h0m-102 1h0m211 0h0m9 0h0m-96 1h0m93-1h0m-180 2h0m4 0h0m160-1h0m32 1h0m-244 1h0m36 0h0m157 0h0m47-1h0m-256 1h0m166 1h0m67-1h0m22 1h0m-9 1h0m-239 1h0m35-1h0m80 0h0m29 0h0m34 0h0m-20 1h0m32 1h0m6-1h0m37 0h0m9 1h0m-188 1h0m89 0h0m32-1h0m85 2h0m-219 0h0m103 1h0m53-1h0m44 1h0m-234 1h0m14 0h0m147-1h0m26 0h0m13 0h0m-178 2h0m94-1h0m14 1h0m44 0h0m17 0h0m-199 1h0m1 0h0m85 0h0m9 0h0m8-1h0m21 1h0m20-1h0m-125 2h0m54-1h0m13 1h0m36 0h0m40 0h0m47-1h0m-218 2h0m90 0h0m21-1h0m55 0h0m99 0h0m-263 1h0m32 0h0m52 0h0m59 0h0m-134 1h0m36 0h0m39 0h0m37 1h0m102 0h0m-193 0h0m90 1h0m-41 0h0m107 1h0m89 0h0m18 0h0m-61 0h0m48 1h0m-289 0h0m54 1h0m40-1h0m103 1h0m75 0h0m2 0h0m-201 0h0m13 1h0m16-1h0m74 1h0m89-1h0m18 0h0m7 0h0m-290 2h0m32-1h0m3 1h0m105-1h0m11 1h0m-123 0h0m91 1h0m110 0h0m22-1h0m16 0h0m-233 2h0m75-1h0m34 0h0m159 0h0m-114 1h0m-78 1h0m80 0h0m-173 2h0m2 0h0m3 0h0m14 0h0m24-1h0m60 1h0m78-1h0m35 0h0m-241 1h0m28 0h0m235 1h0m4-1h0m-251 2h0m51 0h0m26-1h0m7 1h0m221 0h0m-312 0h0m34 0h0m71 1h0m145-1h0m18 0h0m-170 2h0m64-1h0m12 0h0m118 1h0m5 0h0m-210 1h0m14-1h0m81 0h0m47 1h0m56-1h0m-290 2h0m70-1h0m31 0h0m17 0h0m58 1h0m10 0h0m81 0h0m12 0h0m-199 0h0m190 1h0m-246 0h0m23 0h0m13 0h0m156 1h0m75 0h0m-24 1h0m5 0h0m13-1h0m-288 2h0m55 0h0m78 0h0m95 0h0m-184 1h0m47 0h0m37-1h0m-135 2h0m11 0h0m15-1h0m19 0h0m23 0h0m202 1h0m11 0h0m-259 0h0m16 0h0m53 1h0m5 0h0m6 0h0m90 0h0m74 0h0m46-1h0m-245 1h0m34 0h0m64 0h0m7 1h0m14 0h0m-170 1h0m122 0h0m33 0h0m4 0h0m58 0h0m42-1h0m19 1h0m-215 1h0m56 0h0m117 0h0m14-1h0m-143 2h0m20-1h0m58 0h0m14 0h0m-211 2h0m19-1h0m53 0h0m-22 2h0m127 0h0m26 0h0m42 0h0m93-1h0m-314 1h0m8 0h0m78 1h0m123 0h0m62 0h0m13-1h0m-67 2h0m27-1h0m47 1h0m-303 1h0m128 0h0m50 0h0m33-1h0m36 1h0m-203 1h0m143 0h0m87-1h0m4 1h0m38 0h0m-272 0h0m2 0h0m30 0h0m25 0h0m17 1h0m28-1h0m17 0h0m32 0h0m24 1h0m25-1h0m-183 2h0m71-1h0m-79 2h0m72-1h0m59 0h0m10 1h0m70-1h0m6 1h0m44-1h0m-269 1h0m38 0h0m108 1h0m64-1h0m4 0h0m52 1h0m7 0h0m-283 1h0m42-1h0m77 0h0m71 0h0m35 1h0m-206 1h0m31-1h0m19 0h0m116 0h0m29 1h0m44-1h0m29 1h0m5-1h0m-311 2h0m9-1h0m12 1h0m31-1h0m42 1h0m85 0h0m70-1h0m48 1h0m8 0h0m-281 1h0m11 0h0m18-1h0m37 0h0m62 0h0m-193 2h0m40-1h0m35 1h0m217-1h0m-145 1h0m54 1h0m28 0h0m14-1h0m2 0h0m-222 1h0m25 0h0m36 0h0m8 0h0m94 1h0m41 0h0m120 0h0m-18 0h0m-259 1h0m5 0h0m-29 2h0m55 0h0m60-1h0m89 1h0m38 0h0m-224 1h0m160 0h0m1-1h0m-194 1h0m57 1h0m1-1h0m21 0h0m52 0h0m74 0h0m56 0h0m26 0h0m-166 1h0m63 1h0m121 0h0m-281 0h0m9 0h0m75 1h0m41 0h0m30-1h0m106 1h0m4-1h0m18 1h0m9-1h0m-334 2h0m109 0h0m108-1h0m21 1h0m50-1h0m42 1h0m-321 1h0m56-1h0m27 0h0m115 0h0m11 0h0m126 1h0m-354 0h0m62 1h0m130-1h0m1 0h0m23 0h0m66 0h0m51 1h0m-329 1h0m228 0h0m52 0h0m1 0h0m26 0h0m-305 0h0m222 1h0m41-1h0m13 1h0m27 0h0m44-1h0m-256 2h0m44-1h0m14 0h0m61 1h0m3-1h0m7 1h0m-202 1h0m96-1h0m1 0h0m59 0h0m126 1h0m-254 0h0m30 1h0m41 0h0m2-1h0m12 0h0m162 0h0m12 1h0m-263 0h0m11 0h0m3 1h0m40-1h0m96 0h0m63 1h0m1-1h0m24 1h0m27-1h0m-302 1h0m111 0h0m68 0h0m8 0h0m27 0h0m76 0h0m-278 1h0m122 0h0m77 0h0m76 0h0m56 0h0m-364 2h0m15 0h0m95 0h0m21-1h0m47 0h0m33 0h0m39 1h0m98 0h0m14 0h0m-346 1h0m51 0h0m12 0h0m47-1h0m58 0h0m55 1h0m27-1h0m39 1h0m4 0h0m49-1h0m-241 1h0m107 1h0m77 0h0m34-1h0m-325 1h0m10 0h0m135 0h0m61 1h0m12-1h0m45 1h0m69-1h0m-315 2h0m16-1h0m40 1h0m82-1h0m148 1h0m36-1h0m-309 1h0m32 0h0m116 1h0m7-1h0m41 0h0m10 1h0m43-1h0m68 0h0m-360 1h0m92 0h0m56 0h0m57 0h0m64 0h0m7 0h0m71 0h0m-269 1h0m72 0h0m13 0h0m114 0h0m48 0h0m-264 2h0m27 0h0m98-1h0m89 1h0m77 0h0m-249 1h0m7-1h0m26 0h0m69 1h0m19 0h0m47 0h0m73-1h0m32 0h0m-341 1h0m5 0h0m32 0h0m16 1h0m53-1h0m97 1h0m27 0h0m99-1h0m-333 1h0m120 0h0m93 0h0m14 1h0m36 0h0m15-1h0m41 0h0m33 0h0m-345 1h0m191 1h0m21-1h0m34 1h0m-233 0h0m32 1h0m9-1h0m176 1h0m83 0h0m25 0h0m-283 0h0m9 1h0m6 0h0m40-1h0m88 1h0m13 0h0m84-1h0m-139 1h0m13 0h0m38 0h0m14 1h0m6-1h0m-194 1h0m181 0h0m95 0h0m-278 1h0m110 1h0m86-1h0m91 1h0m-326 1h0m52-1h0m78 1h0m65 0h0m47-1h0m10 0h0m-202 2h0m74-1h0m3 0h0m20 1h0m90-1h0m45 0h0m46 0h0m15 0h0m-218 2h0m23-1h0m94 0h0m83 1h0m3-1h0m-333 2h0m31-1h0m112 0h0m121 0h0m-157 1h0m138 1h0m37 0h0m28 0h0m1 1h0m7-1h0m21 1h0m-298 0h0m44 0h0m14 0h0m18 1h0m156-1h0m67 1h0m3-1h0m-331 1h0m213 1h0m46 0h0m36-1h0m-193 2h0m107-1h0m7 1h0m27-1h0m22 1h0m20-1h0m2 1h0m3-1h0m-291 2h0m103 0h0m165 0h0m45-1h0m-286 1h0m89 1h0m90 0h0m8-1h0m34 1h0m-166 1h0m20 0h0m63 0h0m75 0h0m79 0h0m28-1h0m-325 1h0m17 1h0m44 0h0m101-1h0m-131 1h0m21 0h0m72 0h0m116 1h0m7-1h0m30 1h0m20-1h0m-325 2h0m22-1h0m62 0h0m11 1h0m9 0h0m69 0h0m2-1h0m23 0h0m17 0h0m33 0h0m106 1h0m-368 0h0m65 1h0m19 0h0m80-1h0m78 0h0m94 0h0m27 1h0m11-1h0m-363 2h0m20-1h0m174 0h0m3 0h0m48 0h0m42 1h0m-270 0h0m186 0h0m57 0h0m55 1h0m1-1h0m39 1h0m-335 1h0m60 0h0m81 0h0m66 0h0m74 0h0m25-1h0m41 1h0m-287 1h0m69 0h0m30 0h0m129-1h0m9 0h0m4 0h0m-214 2h0m193-1h0m41 0h0m-244 1h0m154 1h0m15-1h0m-237 2h0m6 0h0m68 0h0m93 0h0m38-1h0m-241 2h0m18-1h0m30 1h0m101-1h0m66 0h0m31 1h0m6 0h0m114 0h0m-273 0h0m92 2h0m106 0h0m24-1h0m36 1h0m11 0h0m-373 0h0m73 1h0m0 0h0m26 0h0m72 0h0m10 0h0m1 0h0m36 0h0m65 0h0m82-1h0m-262 2h0m30 0h0m23 0h0m70-1h0m-215 2h0m96 0h0m97-1h0m105 0h0m-269 1h0m18 1h0m40 0h0m9-1h0m7 1h0m17 0h0m72 0h0m80 0h0m14 0h0m28 0h0m23 0h0m-295 0h0m18 1h0m102 0h0m-162 1h0m9-1h0m65 1h0m51-1h0m70 1h0m40 0h0m19-1h0m109 0h0m-347 2h0m11-1h0m97 0h0m117 1h0m36 0h0m93 0h0m-325 0h0m227 1h0m65-1h0m-238 2h0m52-1h0m51 0h0m-155 2h0m154-1h0m27 1h0m101 0h0m14 1h0m-313 0h0m117 1h0m17 0h0m37 0h0m108-1h0m1 1h0m51-1h0m-353 1h0m223 0h0m39 0h0m-251 1h0m3 0h0m29 0h0m10 0h0m5 1h0m55 0h0m27 0h0m58-1h0m90 0h0m-282 1h0m80 1h0m63 0h0m147 0h0m31-1h0m6 0h0m-321 2h0m8 0h0m150-1h0m-73 1h0m11 0h0m187 0h0m-187 1h0m52 0h0m30 0h0m113 1h0m55-1h0m-352 1h0m20 0h0m184 1h0m61 0h0m83 0h0m-325 0h0m3 1h0m122 0h0m70-1h0m28 1h0m6 0h0m33-1h0m5 1h0m28-1h0m-308 2h0m19-1h0m24 1h0m55-1h0m31 1h0m43-1h0m38 0h0m74 0h0m-236 1h0m30 0h0m236 0h0m19 1h0m-281 1h0m35-1h0m54 0h0m14 1h0m44 0h0m22-1h0m33 0h0m59 0h0m-254 1h0m42 0h0m94 0h0m150 0h0m-237 2h0m14 0h0m71-1h0m115 1h0m17-1h0m11 1h0m1 0h0m-312 0h0m53 1h0m64 0h0m188-1h0m-310 2h0m14 0h0m151-1h0m34 1h0m21 0h0m77-1h0m35 0h0m-314 1h0m33 1h0m17-1h0m200 0h0m9 1h0m13 0h0m-304 0h0m47 0h0m2 0h0m62 0h0m38 1h0m43-1h0m46 1h0m60 0h0m-277 0h0m4 1h0m69-1h0m38 0h0m87 1h0m89-1h0m8 1h0m2 0h0m14-1h0m-291 1h0m42 0h0m-24 2h0m42-1h0m46 1h0m15 0h0m108 0h0m14 0h0m23 0h0m-256 0h0m150 1h0m3-1h0m43 0h0m-272 1h0m46 1h0m33-1h0m40 1h0m38-1h0m84 0h0m20 0h0m61 1h0m36-1h0m-213 2h0m108 0h0m-202 1h0m66-1h0m43 0h0m86 1h0m17 0h0m76 0h0m-135 1h0m-201 1h0m156 0h0m10-1h0m26 1h0m98-1h0m40 1h0m-228 0h0m28 1h0m-116 0h0m11 1h0m27-1h0m10 1h0m281-1h0m13 0h0m-363 2h0m60 0h0m301 0h0m1-1h0m-349 1h0m43 1h0m197 0h0m19 0h0m-179 2h0m0-1h0m9 0h0m11 0h0m59 1h0m18-1h0m14 0h0m137 1h0m-335 0h0m29 1h0m21-1h0m54 1h0m25 0h0m7 0h0m62-1h0m2 1h0m29-1h0m44 0h0m80 1h0m-321 1h0m9-1h0m243 0h0m-281 1h0m153 0h0m46 1h0m3 0h0m50 0h0m-205 1h0m41-1h0m57 0h0m1 1h0m-66 0h0m142 0h0m7 0h0m-154 2h0m21 0h0m111 0h0m69 0h0m-148 0h0m67 1h0m39 0h0m112-1h0m-218 2h0m2 0h0m55 0h0m13-1h0m36 0h0m71 1h0m2-1h0m-232 1h0m13 0h0m61 1h0m20-1h0m-116 2h0m223 0h0m4 0h0m-222 1h0m239-1h0m55 1h0m-281 0h0m23 0h0m2 0h0m41 1h0m4-1h0m23 1h0m45-1h0m156 0h0m-339 1h0m96 0h0m29 0h0m115 0h0m58 0h0m46 1h0m-187 1h0m98 0h0m-228 1h0m3 0h0m163-1h0m26 1h0m41-1h0m49 1h0m-302 0h0m5 1h0m25-1h0m48 1h0m21 0h0m134-1h0m26 0h0m33 1h0m-254 0h0m4 0h0m5 1h0m147 0h0m107 0h0m-243 1h0m1-1h0m74 0h0m60 0h0m33 1h0m1 0h0m18 0h0m-226 0h0m192 1h0m15-1h0m-216 2h0m150-1h0m22 1h0m31 0h0m18-1h0m58 0h0m41 1h0m-300 0h0m18 0h0m26 0h0m29 0h0m8 0h0m185 1h0m-239 0h0m9 0h0m134 0h0m16 1h0m8 0h0m3 0h0m31 0h0m29-1h0m-218 2h0m137-1h0m38 0h0m44 1h0m-242 1h0m69-1h0m1 1h0m133 0h0m-100 0h0m-41 2h0m15 0h0m158 0h0m-261 1h0m30 0h0m7-1h0m53 1h0m96 0h0m54-1h0m31 1h0m-112 1h0m-70 0h0m1 0h0m16 0h0m57 1h0m6-1h0m113 1h0m30-1h0m-208 1h0m1 0h0m29 0h0m53 1h0m28-1h0m11 1h0m-146 0h0m26 1h0m14 0h0m37 0h0m42-1h0m-217 1h0m36 0h0m10 0h0m172 0h0m42 0h0m-146 1h0m23 1h0m6 0h0m7-1h0m25 1h0m-104 1h0m17-1h0m8 0h0m19 1h0m31 0h0m111-1h0m-202 1h0m23 1h0m151-1h0m90 0h0m-329 2h0m8 0h0m40-1h0m27 1h0m144 0h0m30-1h0m40 1h0m22 0h0m33-1h0m-322 2h0m50 0h0m64 0h0m36 0h0m28 0h0m81 0h0m51-1h0m-308 2h0m7-1h0m17 1h0m180 0h0m26 0h0m49-1h0m-281 1h0m39 0h0m55 0h0m3 1h0m18-1h0m174 1h0m19 0h0m-298 0h0m213 1h0m4 0h0m-213 1h0m182 0h0m9-1h0m44 1h0m38-1h0m33 1h0m-268 0h0m59 1h0m71 0h0m3 0h0m60 0h0m-108 1h0m-83 1h0m10-1h0m63 1h0m112 0h0m15-1h0m-226 2h0m44 0h0m76 0h0m65 0h0m14 0h0m-160 1h0m5 0h0m24-1h0m10 1h0m59 0h0m138 0h0m-230 0h0m28 1h0m127-1h0m12 0h0m1 1h0m20 0h0m-197 0h0m17 1h0m207-1h0m-261 1h0m299 0h0m-248 1h0m20 1h0m7 0h0m78 0h0m32 0h0m6 0h0m10 0h0m31 0h0m-206 1h0m4 0h0m87-1h0m57 0h0m-176 1h0m78 1h0m60-1h0m35 0h0m47 0h0m-161 2h0m26-1h0m114 1h0m21 0h0m17-1h0m61 1h0m-212 1h0m27 0h0m98 0h0m-183 1h0m216-1h0m-16 2h0m57-1h0m12 1h0m-312 0h0m225 0h0m7 1h0m7 0h0m32-1h0m-246 1h0m98 0h0m3 1h0m34-1h0m7 0h0m76 0h0m47 0h0m-212 2h0m239 0h0m-279 0h0m98 1h0m15 0h0m95 1h0m-211 1h0m73-1h0m120 1h0m-193 0h0m92 0h0m34 0h0m18 1h0m67 0h0m-157 1h0m52 0h0m67-1h0m77 0h0m-179 1h0m32 1h0m-77 1h0m61 0h0m26-1h0m-27 2h0m24-1h0m4 0h0m37 1h0m-76 0h0m43 0h0m42 1h0m10 0h0m-113 1h0m73 0h0m-167 0h0m57 0h0m67 1h0m15 0h0m94-1h0m21 1h0m-245 0h0m285 0h0m-277 2h0m139 0h0m3 0h0m36 0h0m108 0h0m-163 1h0m125-1h0m-251 2h0m116-1h0m99 1h0m-141 1h0m95 0h0m-24 1h0m74 0h0m-214 1h0m208 0h0m13-1h0m-220 2h0m147 0h0m13 0h0m13 0h0m94-1h0m-267 1h0m6 0h0m117 0h0m14 0h0m-58 2h0m2 0h0m50-1h0m17 0h0m1 0h0m1 0h0m91 0h0m13 0h0m-167 1h0m69 0h0m-117 1h0m88 1h0m21 0h0m41-1h0m78 1h0m12 0h0m-246 0h0m51 1h0m39-1h0m123 1h0m-205 0h0m3 0h0m5 0h0m8 1h0m45-1h0m39 1h0m70 0h0m39-1h0m-160 2h0m15-1h0m18 1h0m65 0h0m58-1h0m-200 1h0m55 1h0m47-1h0m142 0h0m3 0h0m-154 1h0m38 0h0m17 0h0m8 1h0m36-1h0m-74 1h0m64 1h0m-120 0h0m51 0h0m22 0h0m-63 2h0m43 0h0m49 0h0m61 0h0m-250 0h0m1 1h0m91-1h0m1 0h0m18 1h0m16 0h0m49-1h0m-34 1h0m51 0h0m-35 1h0m12 1h0m8-1h0m-179 1h0m91 1h0m-26 0h0m114 1h0m-135 1h0m94 0h0m18-1h0m16 1h0m78 0h0m-228 1h0m5 0h0m7-1h0m63 1h0m68-1h0m27 1h0m-106 1h0m116-1h0m9 0h0m39 1h0m-150 1h0m66-1h0m23 0h0m55 1h0m-198 0h0m2 1h0m49 0h0m13 0h0m-67 1h0m69 0h0m-51 1h0m168 0h0m-101 1h0m31-1h0m4 0h0m-33 2h0m28 0h0m-109 0h0m194 1h0m-9 0h0m-81 1h0m63 0h0m-195 1h0m21 2h0m50 0h0m162-1h0m-233 1h0m21 1h0m128-1h0m89 0h0m-205 1h0m11 0h0m-46 2h0m56-1h0m46 0h0m139 0h0m-129 1h0m11 1h0m16 0h0m52-1h0m-84 2h0m3-1h0m3 1h0m73 0h0m40-1h0m-10 1h0m-6 1h0m-213 1h0m42 1h0m5-1h0m8 1h0m29 0h0m25 1h0m0 0h0m79 0h0m45-1h0m-197 1h0m48 1h0m110 0h0m33 0h0m8 0h0m-195 0h0m39 0h0m83 1h0m15 0h0m33 0h0m-174 1h0m39 1h0m82 0h0m-107 0h0m30 0h0m33 0h0m98 1h0m-159 1h0m107-1h0m-102 2h0m6 0h0m10 1h0m0-1h0m19 0h0m64 0h0m82 1h0m2-1h0m-171 1h0m36 1h0m46-1h0m10 0h0m27 0h0m18 1h0m4 0h0m-161 0h0m61 1h0m119-1h0m17 0h0m-105 1h0m88 1h0m-140 1h0m14 0h0m46 0h0m9 0h0m60-1h0m23 0h0m-53 2h0m13 0h0m1-1h0m30 0h0m14 1h0m-185 1h0m17 0h0m-15 1h0m14 1h0m46 0h0m45 0h0m72 0h0m4-1h0m-122 2h0m100-1h0m-59 1h0m22 0h0m48 0h0m-176 1h0m2 1h0m161 0h0m-109 0h0m61 1h0m-126 0h0m126 1h0m48-1h0m-29 2h0m-140 1h0m11 0h0m52-1h0m8 0h0m14 1h0m2-1h0m85 1h0m-25 2h0m-140 0h0m66 0h0m69 1h0m-104 1h0m29-1h0m12 0h0m47 0h0m18 0h0m43 1h0m-169 0h0m21 1h0m102-1h0m43 0h0m-158 2h0m143 0h0m-98 0h0m0 0h0m18 0h0m17 1h0m32 0h0m7 0h0m27 1h0m6 0h0m-167 0h0m68 0h0m21 1h0m71-1h0m-97 2h0m64 0h0m33-1h0m-116 2h0m38-1h0m42 1h0m-33 0h0m41 0h0m52 0h0m-176 2h0m103 0h0m-95 0h0m60 1h0m6 0h0m78-1h0m3 0h0m-146 1h0m57 1h0m-5 2h0m35 1h0m9-1h0m34 1h0m-110 1h0m132-1h0m-47 2h0m-90 0h0m18 1h0m76-1h0m8 1h0m11 0h0m-82 1h0m9-1h0m19 1h0m-62 0h0m47 1h0m63-1h0m23 1h0m-144 1h0m42-1h0m20 0h0m-64 2h0m36-1h0m16 0h0m51 0h0m53 0h0m-102 1h0m29 1h0m34 0h0m11 2h0m-64 0h0m25 2h0m21-1h0m-23 1h0m-62 1h0m27 2h0m63-1h0m12 0h0m-69 1h0m44 0h0m20 0h0m-10 1h0m-75 1h0m59 2h0m5 0h0m-10 3h0m1 0h0m-15 1h0m-27 1h0m18 0h0m3 1h0m39 0h0m-64 1h0m64-1h0m-48 1h0m11 3h0m29-1h0m3 1h0m13 0h0m-10 4h0m-36 0h0m15 1h0m18 0h0m-9 2h0m13 0h0m-30 2h0"/>
<path stroke="#B8A000" stroke-width="9" stroke-linecap="square" transform="scale(.1)" d="M548 2469h0m-17 10h0m10 3h0m-28 8h0m19 0h0m-23 2h0m21 0h0m5 0h0m10 0h0m30 1h0m-79 1h0m26 0h0m-30 0h0m43 0h0m-19 1h0m35 0h0m-63 2h0m9 0h0m24 2h0m2 0h0m-20 1h0m28 1h0m19 1h0m4 0h0m-21 2h0m33-1h0m7 2h0m10 0h0m-48 1h0m0-1h0m26 1h0m20-1h0m-95 2h0m28-1h0m-4 1h0m83 0h0m-39 1h0m22 1h0m-46 0h0m42 1h0m21 0h0m-63 0h0m-54 1h0m9 0h0m59 1h0m14 0h0m-27 0h0m54 2h0m-32 1h0m30 1h0m-83 2h0m72-1h0m-66 2h0m47 0h0m-68 1h0m61 1h0m-11 0h0m38 0h0m19 0h0m-95 1h0m64 1h0m25 0h0m15 0h0m4 1h0m-85 0h0m16 2h0m-41 0h0m85 0h0m11 0h0m-109 3h0m5 0h0m-9 1h0m8-1h0m88 0h0m29 2h0m-65 0h0m16 1h0m-69 1h0m65-1h0m35 1h0m-104 1h0m8 1h0m0 0h0m66-1h0m43 1h0m13-1h0m-61 3h0m32 0h0m8 0h0m-70 1h0m40-1h0m10 0h0m-48 1h0m58 1h0m-86 1h0m105 0h0m-6 0h0m-64 3h0m29 0h0m-86 1h0m162 1h0m-127 0h0m25 1h0m65 0h0m22-1h0m-137 3h0m53 0h0m30-1h0m10 1h0m4 0h0m30 0h0m14 2h0m-131 1h0m96 2h0m-94 0h0m14 0h0m11 1h0m26-1h0m14 0h0m9 1h0m22-1h0m26 1h0m-134 0h0m51 0h0m38 0h0m37 1h0m-41 1h0m-91 0h0m156 1h0m-134 0h0m30 1h0m47 1h0m-103 0h0m125 0h0m26 1h0m-133 0h0m5 0h0m23 1h0m-28 0h0m30 0h0m21 1h0m2-1h0m-70 2h0m117 0h0m51-1h0m-173 2h0m74-1h0m-37 2h0m15 0h0m84 0h0m16-1h0m3 1h0m5 0h0m-86 2h0m57 0h0m-109 1h0m43 0h0m4 0h0m14-1h0m30 0h0m77 0h0m-149 1h0m3 1h0m78 0h0m-122 1h0m30 0h0m25-1h0m26 1h0m16 0h0m25-1h0m5 0h0m12 0h0m-136 2h0m94-1h0m-48 1h0m85 0h0m7 1h0m46 0h0m-68 1h0m27-1h0m1 1h0m51-1h0m-169 2h0m35 1h0m52 0h0m1-1h0m4 1h0m53-1h0m33 0h0m-197 1h0m148 1h0m14 0h0m-127 1h0m96-1h0m30 0h0m18 1h0m-99 1h0m48-1h0m-56 2h0m-83 0h0m29 1h0m70 1h0m-81 0h0m5 1h0m23 0h0m42 1h0m7-1h0m15 0h0m25 1h0m34-1h0m-160 1h0m188 1h0m6 1h0m-98 0h0m9 0h0m33 0h0m3 0h0m63 0h0m-194 2h0m128 0h0m-107 1h0m13 0h0m44 0h0m103-1h0m-68 2h0m66 0h0m-184 2h0m1-1h0m10 1h0m36 0h0m1-1h0m37 1h0m-25 0h0m66 0h0m44 0h0m-107 2h0m9 0h0m13-1h0m0 1h0m63 1h0m9 0h0m36 0h0m-58 1h0m-50 1h0m32 0h0m29-1h0m24 3h0m-111 1h0m62-1h0m-123 2h0m3 0h0m5 0h0m6-1h0m24 1h0m9-1h0m-21 1h0m49 1h0m152 0h0m-102 1h0m8 0h0m26-1h0m8 1h0m47-1h0m-192 1h0m33 0h0m67 0h0m26 0h0m35 0h0m37 1h0m-191 1h0m6-1h0m22 1h0m159-1h0m3 0h0m-153 1h0m62 0h0m78 0h0m-160 2h0m40-1h0m122 1h0m19-1h0m-170 1h0m9 1h0m0-1h0m65 0h0m7 0h0m-48 1h0m31 1h0m16-1h0m65 0h0m-129 1h0m83 1h0m-103 0h0m-26 1h0m9 1h0m24-1h0m127 1h0m-167 1h0m103 0h0m106-1h0m-187 1h0m18 1h0m45 0h0m51-1h0m86 1h0m-195 1h0m5 1h0m2-1h0m39 1h0m-38 0h0m50 0h0m-68 1h0m-27 2h0m115 0h0m43 1h0m43-1h0m-153 1h0m47 1h0m26 0h0m17-1h0m-101 2h0m22 0h0m25 0h0m105-1h0m-189 1h0m129 1h0m-74 1h0m25-1h0m107 0h0m39 1h0m-172 1h0m68 0h0m73 0h0m-196 0h0m33 1h0m84-1h0m16 1h0m103 0h0m-226 0h0m167 1h0m60 0h0m-17 0h0m-220 2h0m53 0h0m69 0h0m8 1h0m2 0h0m27-1h0m51 0h0m-180 2h0m10-1h0m6 1h0m66 0h0m66-1h0m-152 2h0m199 0h0m-30 0h0m4 1h0m9 0h0m32 0h0m-217 0h0m133 0h0m22 1h0m26-1h0m-129 3h0m164 0h0m-223 0h0m165 0h0m56 1h0m-221 1h0m37 0h0m169 0h0m23-1h0m-153 3h0m86-1h0m25 1h0m-161 1h0m26 0h0m31-1h0m8 0h0m56 1h0m4 0h0m-6 0h0m54 1h0m21-1h0m-218 1h0m8 1h0m96 0h0m12 0h0m73-1h0m23 1h0m-201 0h0m0 0h0m9 1h0m115 0h0m37 0h0m15 1h0m14 1h0m2 0h0m30 0h0m-119 1h0m4-1h0m24 1h0m22 0h0m-160 1h0m17-1h0m61 2h0m14-1h0m69 0h0m80 1h0m-139 0h0m14 1h0m113 0h0m-23 1h0m-175 1h0m68-1h0m19 1h0m14 0h0m29-1h0m13 1h0m-178 1h0m29 0h0m72 0h0m156-1h0m-246 1h0m72 0h0m16 1h0m24-1h0m-102 2h0m95-1h0m109 1h0m-230 0h0m128 1h0m73 0h0m22 0h0m5 0h0m-199 1h0m119-1h0m83 0h0m-180 2h0m2-1h0m102 1h0m57-1h0m46 0h0m-225 2h0m63-1h0m26 1h0m31 0h0m11 0h0m53 0h0m-118 1h0m40-1h0m33 1h0m59-1h0m-165 2h0m105 0h0m29-1h0m50 0h0m-216 1h0m28 1h0m58-1h0m91 0h0m13 0h0m40 1h0m21 0h0m-200 0h0m62 2h0m59-1h0m-172 2h0m8-1h0m38 1h0m108 0h0m25-1h0m36 0h0m26 1h0m-131 1h0m36-1h0m-106 1h0m98 1h0m-144 1h0m131 0h0m107 0h0m-40 1h0m-18 0h0m-147 1h0m40 1h0m33 0h0m44-1h0m7 0h0m58 0h0m-136 2h0m35 0h0m129-1h0m-228 1h0m52 0h0m7 0h0m100 0h0m-46 1h0m16 0h0m44 1h0m51-1h0m-241 2h0m12 0h0m25-1h0m141 0h0m-99 1h0m84 0h0m-121 2h0m113 0h0m136 0h0m-227 0h0m3 0h0m43 1h0m-57 1h0m68-1h0m15 1h0m14 0h0m4 0h0m165 0h0m-51 0h0m-197 2h0m2 0h0m130 0h0m-184 2h0m13-1h0m77 0h0m5 1h0m133 0h0m-218 0h0m25 1h0m200-1h0m-251 1h0m59 0h0m36 1h0m75 0h0m3-1h0m11 0h0m140 1h0m17-1h0m-328 1h0m3 0h0m154 1h0m117-1h0m-211 2h0m60 0h0m18 0h0m27 0h0m22 0h0m43 0h0m93-1h0m-285 1h0m13 0h0m88 0h0m3 1h0m96 0h0m-110 0h0m71 1h0m135 0h0m-340 0h0m106 0h0m218 0h0m-262 1h0m20 1h0m133-1h0m37 0h0m-241 2h0m35-1h0m89 0h0m108 1h0m22-1h0m23 2h0m-262 0h0m51 1h0m10 0h0m24-1h0m112 1h0m108-1h0m-325 1h0m239 0h0m24 1h0m-160 1h0m42 0h0m18-1h0m14 0h0m150 0h0m-259 1h0m165 0h0m45 1h0m33-1h0m-281 3h0m179-1h0m86 0h0m12 0h0m-277 2h0m14 0h0m57 0h0m9 0h0m207-1h0m-205 1h0m13 0h0m21 3h0m71-1h0m34 1h0m5 0h0m-223 1h0m35 0h0m13-1h0m40 1h0m25 0h0m2 0h0m46 0h0m28 0h0m79-1h0m-265 2h0m25-1h0m45 0h0m146 1h0m4 0h0m0 0h0m19-1h0m34 0h0m-273 1h0m33 0h0m36 1h0m1 0h0m173-1h0m52 0h0m-250 1h0m79 1h0m83 0h0m97-1h0m-236 1h0m38 1h0m109-1h0m-107 2h0m66 0h0m13-1h0m31 0h0m84 1h0m-301 0h0m23 1h0m102-1h0m42 1h0m44 0h0m13 0h0m-197 1h0m63-1h0m3 0h0m48 0h0m90 1h0m19 0h0m-225 0h0m28 1h0m12 0h0m6 0h0m-29 1h0m210 0h0m20 0h0m10 0h0m-267 0h0m93 1h0m47 0h0m14 0h0m-128 2h0m94-1h0m25 0h0m50 1h0m-71 1h0m27 0h0m12 0h0m91 0h0m18 0h0m-173 1h0m144 1h0m13 0h0m-231 0h0m181 0h0m3 0h0m8 0h0m67 1h0m-268 1h0m44 0h0m93-1h0m123 1h0m22 0h0m-225 1h0m0 0h0m140-1h0m44 1h0m-185 1h0m86 0h0m10-1h0m114 0h0m-120 2h0m35-1h0m-74 1h0m111 0h0m-183 1h0m65 1h0m108-1h0m64 1h0m-150 0h0m155 0h0m-215 1h0m7 0h0m161 1h0m42-1h0m-125 2h0m-69 0h0m113 0h0m49 1h0m-189 1h0m17-1h0m62 0h0m3 0h0m-88 2h0m193 0h0m33-1h0m-176 1h0m62 0h0m94 1h0m16 0h0m4 0h0m-237 1h0m123 0h0m28-1h0m7 0h0m-113 1h0m119 1h0m81 0h0m-229 0h0m67 1h0m26-1h0m116 1h0m-175 1h0m83 0h0m47-1h0m-150 1h0m11 1h0m73-1h0m15 0h0m10 1h0m35-1h0m-162 2h0m59 0h0m2-1h0m-20 2h0m35-1h0m60 0h0m-91 2h0m43-1h0m46 1h0m25 0h0m6-1h0m63 1h0m-196 1h0m173-1h0m-166 1h0m40 1h0m4-1h0m16 0h0m2 1h0m10 0h0m46-1h0m39 1h0m28-1h0m8 0h0m-193 1h0m53 1h0m41-1h0m7 1h0m-84 1h0m39-1h0m66 0h0m-167 2h0m36 0h0m0-1h0m32 1h0m55-1h0m80 1h0m-78 1h0m109 0h0m-220 0h0m197 0h0m26 0h0m-31 1h0m-145 1h0m4 0h0m-7 1h0m91 1h0m-126 1h0m5-1h0m200 1h0m-121 0h0m120 1h0m-199 0h0m10 1h0m3 0h0m56-1h0m22 0h0m16 0h0m22 0h0m-135 2h0m33 1h0m-2 1h0m12-1h0m85 0h0m53 1h0m-118 1h0m3 0h0m107 0h0m12 0h0m-139 1h0m46-1h0m24 0h0m63 0h0m-40 2h0m-95 1h0m58 0h0m15 0h0m76-1h0m1 1h0m-168 1h0m95 0h0m2 0h0m4 0h0m59 0h0m-24 2h0m-117 1h0m144-1h0m-139 2h0m103-1h0m-20 1h0m-54 1h0m-27 1h0m10 0h0m9 1h0m28 0h0m87-1h0m-116 2h0m106 0h0m-91 1h0m57 0h0m4-1h0m29 0h0m-106 1h0m56 1h0m-75 1h0m-30 0h0m19 0h0m-11 2h0m14 0h0m6 0h0m59 1h0m-63 2h0m-12 1h0m7-1h0m41 0h0m30 0h0m-6 2h0m6 0h0m22-1h0m37 1h0m-139 0h0m4 0h0m19 1h0m-11 0h0m59 3h0m-16 0h0m75 1h0m-133 2h0m48 0h0m34 2h0m38 2h0m-87 1h0m-4 0h0m39 1h0m-27 1h0m40 1h0m-2 2h0m-21 0h0m-32 1h0m12 0h0m29 0h0m37 2h0m0 0h0m-56 3h0m-8 1h0m25-1h0m41 1h0m1 0h0m-31 1h0m-2 0h0m20 0h0m-39 3h0m-31 1h0m47 0h0m-6 2h0m-29 1h0m28 1h0m19 2h0m-34 0h0m9 5h0m2 2h0"/>
<path stroke="#619CFF" stroke-width="9" stroke-linecap="square" transform="scale(.1)" d="M720 2177h0m-8 2h0m15-1h0m1 0h0m-8 6h0m27 1h0m14-1h0m-20 3h0m15 2h0m-24 1h0m7-1h0m-18 1h0m0 1h0m34 2h0m-21 3h0m-41 0h0m39 1h0m37-1h0m-38 1h0m-30 2h0m52 0h0m26 0h0m-52 1h0m27-1h0m-39 1h0m21 1h0m17-1h0m-6 1h0m23 1h0m-83 0h0m50 1h0m9 0h0m17 0h0m-56 0h0m33 0h0m30 0h0m14 1h0m-60 0h0m37 2h0m19 0h0m-93 1h0m26-1h0m16 1h0m48-1h0m2 0h0m-64 1h0m18 0h0m14 0h0m3 1h0m35 0h0m-38 1h0m-12 0h0m2 0h0m-60 1h0m14 1h0m9 0h0m20-1h0m-47 2h0m6 1h0m7 0h0m11 0h0m87 0h0m-81 2h0m16-1h0m-33 2h0m67 0h0m4-1h0m-81 1h0m1 1h0m53-1h0m11 1h0m44-1h0m-37 2h0m-11 1h0m37-1h0m-86 2h0m51 0h0m-64 1h0m20 1h0m-22 0h0m27 0h0m36 1h0m-16 0h0m50 1h0m-40 1h0m66 1h0m-93 0h0m71 0h0m-49 2h0m36-1h0m30 1h0m-45 0h0m-38 1h0m51 0h0m7 1h0m22-1h0m-114 2h0m91 0h0m18 1h0m-81 1h0m31 0h0m5 0h0m-49 1h0m29 0h0m-21 2h0m50 0h0m34-1h0m-86 4h0m21-1h0m37 0h0m-23 2h0m17 0h0m0-1h0m16 1h0m21 0h0m-76 2h0m-33 1h0m102 0h0m-89 1h0m37 0h0m-35 2h0m59-1h0m-67 2h0m100-1h0m-72 1h0m-9 2h0m13 1h0m64 0h0m-5 1h0m2 1h0m-82 1h0m0 0h0m4 1h0m42-1h0m-39 2h0m46 1h0m-26 1h0m-23 1h0m15 2h0m55-1h0m3 2h0m-74 1h0m20-1h0m1 1h0m2 0h0m-4 0h0m43 0h0m-20 3h0m22 0h0m-33 0h0m28 1h0m0 0h0m7 4h0"/>
<path stroke="#00BA38" stroke-width="9" stroke-linecap="square" transform="scale(.1)" d="M516 2311h0m-9 7h0m4 1h0m3 0h0m11 0h0m14 2h0m-22 2h0m22 1h0m-8 0h0m-17 2h0m18 0h0m-20 2h0m29 0h0m-36 1h0m47 0h0m-38 2h0m-19 2h0m14 0h0m-6 0h0m2 0h0m1 1h0m9 3h0m20 2h0m5 1h0m-20 2h0m-9 0h0m40 1h0m-15 0h0m7 3h0m-32 2h0m11 0h0m22-1h0m-18 4h0m19 0h0m3 0h0m-6 1h0m0 0h0m5 4h0m1 1h0m-40 1h0m9 0h0m33 1h0m-47 1h0m23-1h0m-15 2h0m16-1h0m6 3h0m-6 2h0m13 0h0m8 0h0m-47 0h0m50 1h0m-24 0h0m2 1h0m1-1h0m2 1h0m2 2h0m6-1h0m-31 1h0m11 1h0m22 2h0m-21 3h0m-10 1h0m33 1h0m-24 1h0m-18 1h0m7 0h0m28 0h0m-18 1h0m8 0h0m18 0h0m-40 2h0m7 0h0m-10 0h0m6 1h0m5 0h0m11 3h0m0 2h0m7 2h0m-3 1h0m8 2h0m11 0h0m-21 1h0m4 0h0m15 2h0m-29 2h0m21 6h0m-69 29h0m-10 0h0m12 1h0m5 2h0m-13 1h0m-8 1h0m18 1h0m-39 0h0m4 1h0m40 1h0m-17 3h0m-26 1h0m15 0h0m-25 3h0m80-1h0m-70 2h0m36 0h0m20 0h0m-16 1h0m-51 1h0m72-1h0m18 0h0m-68 2h0m15-1h0m18 0h0m-47 1h0m9 0h0m30 1h0m15-1h0m-52 2h0m-10 0h0m70 1h0m-36 0h0m-30 2h0m11 0h0m72 0h0m-55 1h0m4 1h0m3 0h0m-52 1h0m60 0h0m14 1h0m-71 2h0m4 1h0m61-1h0m19 1h0m-87 0h0m93 1h0m-75 0h0m22 1h0m8-1h0m43 0h0m-56 1h0m-44 1h0m94 1h0m-14 1h0m12 1h0m-87 1h0m15 0h0m22-1h0m1 1h0m51-1h0m10 0h0m-90 1h0m56 1h0m4 0h0m-70 0h0m33 1h0m3-1h0m46 0h0m-72 2h0m5 0h0m90 0h0m-92 2h0m-5 1h0m54-1h0m47 1h0m-63 1h0m34 0h0m-76 0h0m27 0h0m42 1h0m24 0h0m-82 1h0m22 0h0m24 1h0m15-1h0m39 0h0m-42 2h0m26 1h0m-49 1h0m2 0h0m-27 1h0m-14 1h0m2-1h0m74 0h0m4 1h0m-86 2h0m64-1h0m-55 1h0m14 1h0m10-1h0m32 0h0m7 0h0m20 1h0m-68 1h0m58-1h0m18 0h0m-76 2h0m19 1h0m-10 1h0m75-1h0m-97 2h0m57 1h0m-32 1h0m62-1h0m-44 1h0m3 1h0m-7 1h0m30 1h0m-18 1h0m39 0h0m-83 2h0m22 0h0m23-1h0m9 0h0m-25 2h0m24-1h0m-47 1h0m59 2h0m-38 2h0m1 1h0m19-1h0m-25 3h0m13-1h0m-4 2h0m6 0h0m15 1h0m-12 2h0m9-1h0m-9 2h0"/>
<path stroke="#F564E3" stroke-width="9" stroke-linecap="square" transform="scale(.1)" d="M1007 2451h0m3 2h0m-17 3h0m6-1h0m-5 2h0m-12 2h0m10-1h0m-14 2h0m15-1h0m5 1h0m17-1h0m20 0h0m-58 3h0m2 0h0m51-1h0m-15 5h0m-33 0h0m14 1h0m5 1h0m43 0h0m-31 0h0m-6 2h0m-12 0h0m23 0h0m30 2h0m-14 2h0m-24 1h0m11 0h0m-3 1h0m-34 0h0m59 1h0m-56 2h0m-7 1h0m19 1h0m33-1h0m-46 2h0m27 0h0m27 1h0m-29 1h0m13 0h0m16 0h0m-17 4h0m17 1h0m-1 1h0m-8 2h0m-13 0h0m-21 1h0"/>
<path stroke="#00BFC4" stroke-width="9" stroke-linecap="square" transform="scale(.1)" d="M591 2696h0m45 2h0m-31 0h0m41 4h0m-41 1h0m29 0h0m-37 3h0m52 1h0m-68 2h0m65-1h0m-33 3h0m-39 2h0m18 0h0m58 0h0m3 2h0m-80 1h0m5 0h0m22-1h0m14 2h0m3-1h0m30 0h0m-1 2h0m-75 1h0m4 0h0m43-1h0m30 1h0m-75 2h0m42 1h0m22-1h0m7 0h0m-28 2h0m3-1h0m-42 1h0m14 1h0m66-1h0m-74 1h0m2 2h0m-14 0h0m17 2h0m25-1h0m28 1h0m17 1h0m-90 1h0m8 0h0m52 0h0m27 1h0m-93 0h0m12 1h0m47 1h0m43 0h0m-98 1h0m4 0h0m95 1h0m-102 1h0m27-1h0m62 2h0m-69 1h0m24 0h0m-50 3h0m23 0h0m76-1h0m-93 2h0m25-1h0m20 1h0m10-1h0m-57 1h0m58 0h0m-11 1h0m32 1h0m-75 0h0m5 0h0m37 1h0m50 1h0m-75 1h0m-28 1h0m73-1h0m23 0h0m-32 1h0m22 0h0m-86 1h0m17 0h0m37 0h0m15 1h0m-46 1h0m23 2h0m41-1h0m27 0h0m-59 1h0m14 0h0m15 0h0m-82 2h0m60 0h0m48-1h0m1 0h0m-72 1h0m26 1h0m3 0h0m34 0h0m-97 1h0m31 0h0m9 0h0m-25 1h0m19 1h0m4 0h0m38-1h0m14 0h0m26 0h0m-50 2h0m2 0h0m2 1h0m14-1h0m14 1h0m-100 1h0m49 1h0m33-1h0m28 0h0m7 1h0m-113 0h0m4 0h0m39 0h0m16 1h0m17 0h0m-35 0h0m60 1h0m-72 0h0m-10 2h0m7-1h0m27 1h0m42-1h0m19 1h0m-26 1h0m-40 0h0m13 0h0m-50 1h0m16 1h0m36-1h0m26 1h0m19 0h0m-64 1h0m-30 1h0m86 0h0m18 0h0m-96 2h0m6 0h0m63-1h0m-81 2h0m66 0h0m-12 1h0m18-1h0m-84 1h0m80 1h0m9-1h0m-61 2h0m40-1h0m10 0h0m-81 2h0m25-1h0m39 1h0m6 0h0m-13 2h0m9-1h0m44 0h0m9 1h0m-118 0h0m6 1h0m83 1h0m-87 1h0m27-1h0m13 0h0m54 2h0m16 0h0m-17 0h0m-96 2h0m69 0h0m-29 1h0m75-1h0m-96 2h0m8-1h0m10 1h0m31 1h0m24 0h0m18 0h0m-44 1h0m15 0h0m15-1h0m-71 1h0m4 1h0m83 0h0m-78 1h0m74 1h0m-71 1h0m-10 0h0m36 0h0m-25 2h0m-5 0h0m1 1h0m18-1h0m32 0h0m11 0h0m-83 1h0m3 0h0m38 0h0m36 0h0m2 1h0m5-1h0m-81 2h0m77 1h0m-79 1h0m28 1h0m58 2h0m-38 1h0m17 0h0m32 0h0m-61 0h0m-24 1h0m9 0h0m57 1h0m-19 1h0m28 2h0m-32 1h0m8-1h0m24 1h0m-10 1h0m-60 1h0m66 2h0m-60 1h0m16 0h0m25-1h0m12 0h0m-4 1h0m-39 2h0m55-1h0m-8 1h0m7 1h0m-65 1h0m22 2h0m14 1h0m19 1h0m-43 0h0m7 0h0m8 1h0m-22 1h0m-2 0h0m4 0h0m53 0h0"/>
<circle cx="77.5" cy="247.8" r="0.9" fill="#333"/><circle cx="65.5" cy="265" r="0.7" fill="#333"/><circle cx="61.5" cy="277.5" r="0.7" fill="#333"/><circle cx="73" cy="222" r="0.6" fill="#333"/>
<text x="159.8" y="202.6" font-size="7.35" text-anchor="middle" fill="#222"  stroke="#222" stroke-width="0.05">Batch corrected</text>
<text x="159.7" y="211.2" font-size="7.35" text-anchor="middle" fill="#222"  stroke="#222" stroke-width="0.05">Color by Sample</text>
<rect x="125.2" y="213.4" width="73.4" height="74.7" fill="none" stroke="#a0a0a0" stroke-width="0.7"/>
<line x1="141.7" y1="288.1" x2="141.7" y2="289.9" stroke="#777" stroke-width="0.45" />
<text x="141.7" y="293.5" font-size="3.9" text-anchor="middle" fill="#444" >-25</text>
<line x1="160.4" y1="288.1" x2="160.4" y2="289.9" stroke="#777" stroke-width="0.45" />
<text x="160.4" y="293.5" font-size="3.9" text-anchor="middle" fill="#444" >0</text>
<line x1="180.0" y1="288.1" x2="180.0" y2="289.9" stroke="#777" stroke-width="0.45" />
<text x="180.0" y="293.5" font-size="3.9" text-anchor="middle" fill="#444" >25</text>
<line x1="123.4" y1="232.6" x2="125.2" y2="232.6" stroke="#777" stroke-width="0.45" />
<text x="122.8" y="233.9" font-size="3.9" text-anchor="end" fill="#444" >25</text>
<line x1="123.4" y1="253.4" x2="125.2" y2="253.4" stroke="#777" stroke-width="0.45" />
<text x="122.8" y="254.8" font-size="3.9" text-anchor="end" fill="#444" >0</text>
<line x1="123.4" y1="274.0" x2="125.2" y2="274.0" stroke="#777" stroke-width="0.45" />
<text x="122.8" y="275.4" font-size="3.9" text-anchor="end" fill="#444" >-25</text>
<path stroke="#F564E3" stroke-width="9" stroke-linecap="square" transform="scale(.1)" d="M1648 2191h0m-34 4h0m-5 26h0m-28 7h0m112 8h0m-27 8h0m6 2h0m36 4h0m-122 3h0m-132 11h0m156 5h0m39 1h0m-188 1h0m60 4h0m39 4h0m157 3h0m-193 5h0m246 11h0m-272 1h0m238 4h0m-302 3h0m305 1h0m25 1h0m-305 3h0m219 8h0m-157 4h0m100 1h0m81 0h0m-41 1h0m100 2h0m20 4h0m-31 4h0m-232 2h0m248 0h0m-66 1h0m-7 0h0m18 1h0m85 3h0m-121 0h0m125 4h0m-105 2h0m-63 1h0m57 3h0m97 0h0m-62 4h0m34 2h0m-121 6h0m31 4h0m140 0h0m-194 2h0m37 1h0m-6 2h0m-82 1h0m261-1h0m-8 2h0m-8 4h0m9 0h0m-142 3h0m-33 2h0m165 0h0m-113 1h0m-37 1h0m76 0h0m77 1h0m-92 4h0m16 0h0m-98 2h0m10 0h0m86 1h0m35 1h0m52 0h0m-161 3h0m141 0h0m-52 2h0m-76 1h0m159 0h0m-133 1h0m52 2h0m-118 2h0m57 1h0m91 0h0m-307 1h0m370 4h0m-74 2h0m-4 1h0m-65 2h0m68-1h0m-105 2h0m169 0h0m-161 3h0m35 3h0m66 1h0m-9 1h0m-99 0h0m120 0h0m-220 2h0m-182 3h0m464 1h0m-112 2h0m-111 1h0m15-1h0m73 0h0m-13 3h0m49-1h0m-97 1h0m15 2h0m16 7h0m166 1h0m-144 1h0m-259 0h0m51 0h0m218 0h0m-304 2h0m328-1h0m83 0h0m-167 4h0m-330 0h0m52 1h0m262 0h0m9 2h0m21 0h0m162 1h0m-488 1h0m34 0h0m-70 0h0m369 0h0m18 10h0m66 0h0m85 1h0m-1 1h0m-78 2h0m-191 2h0m85-1h0m-51 1h0m76 1h0m105 0h0m77-1h0m-352 2h0m268 1h0m97 1h0m-139 0h0m-429 1h0m505 1h0m41 1h0m-224 2h0m162 2h0m-173 1h0m40 0h0m187 0h0m-54 0h0m-155 1h0m-11 1h0m11 1h0m145 1h0m-2 1h0m-49 1h0m-90 1h0m101 0h0m167 0h0m-144 2h0m37 2h0m-132 0h0m11 0h0m8 0h0m197 1h0m-143 2h0m-80 1h0m168 2h0m-225 3h0m246-1h0m-30 2h0m-47 1h0m-143 1h0m13 2h0m126 2h0m135 0h0m-179 0h0m37 4h0m-118 1h0m-48 0h0m189 1h0m-55 0h0m92 1h0m-31 3h0m68 0h0m-70 2h0m-73 1h0m21 1h0m-309 1h0m338 1h0m-306 5h0m202 0h0m30-1h0m-9 1h0m113 1h0m-253 0h0m136 1h0m75-1h0m-143 2h0m57-1h0m-326 3h0m275 0h0m7 1h0m34 0h0m-317 1h0m408-1h0m-23 2h0m67 1h0m-17 0h0m20 1h0m46-1h0m-197 2h0m18 1h0m84 0h0m-81 1h0m50 0h0m-17 2h0m101 1h0m-17 3h0m-165 0h0m197 0h0m-123 3h0m2 1h0m26 1h0m7-1h0m8 0h0m79 2h0m-217 2h0m224 0h0m-113 2h0m29 1h0m26 0h0m70 1h0m-161 1h0m-11 1h0m184-1h0m-39 2h0m-168 2h0m153 3h0m-135 2h0m82 2h0m-113 0h0m-163 6h0m-6 1h0m176 1h0m-39 1h0m111 2h0m-191 1h0m-46 3h0m324-1h0m-297 3h0m-107 2h0m301 2h0m-54 1h0m175 3h0m-11 3h0m-187 5h0m195 0h0m-86 6h0m-124 2h0m229 2h0m-198 1h0m1 0h0m201 3h0m-186 1h0m91 1h0m-97 3h0m174 0h0m20 0h0m-367 2h0m223 7h0m-280 2h0m389 0h0m-362 4h0m382-1h0m-387 3h0m149 0h0m-8 2h0m72 10h0m-97 7h0m-46 6h0m268 5h0m37 5h0m-258 2h0m212 5h0m-130 1h0m-75 9h0m197 6h0m-189 11h0m-22 0h0m-105 7h0m212 1h0m-13 3h0m-194 4h0m62 3h0m-58 12h0m239 1h0m-168 8h0m170 16h0m-140 7h0m133 5h0m56 8h0m-111 5h0m61 2h0m-51 5h0m12 1h0m63 0h0m7 0h0m-23 3h0m-178 13h0m156 2h0m-164 20h0"/>
<path stroke="#35A2FF" stroke-width="9" stroke-linecap="square" transform="scale(.1)" d="M1629 2181h0m18 0h0m-19 5h0m-60 18h0m85 13h0m-31 11h0m5 3h0m-52 13h0m4 8h0m128 10h0m-229 3h0m57 13h0m174 9h0m-237 1h0m-2 0h0m-41 2h0m320 1h0m-321 2h0m97 1h0m-99 1h0m96 0h0m-26 2h0m68 0h0m40 0h0m-36 1h0m-46 2h0m231 1h0m-315 1h0m151 4h0m116 2h0m-231 1h0m43 1h0m54-1h0m-48 2h0m75 0h0m-82 2h0m240 2h0m-342 2h0m166 0h0m68-1h0m88 1h0m-265 0h0m30 1h0m91-1h0m-21 6h0m-72 1h0m65 1h0m-147 0h0m201 2h0m-182 4h0m107 1h0m-26 3h0m-86 1h0m305 1h0m-199 0h0m-99 2h0m45 2h0m4 1h0m69 1h0m-140 1h0m75 2h0m-54 2h0m84 0h0m-23 1h0m-56 1h0m172 1h0m-84 1h0m37 3h0m-151 1h0m43 3h0m309 0h0m-375 3h0m37 0h0m169 0h0m-173 2h0m9 0h0m101 0h0m50 0h0m22 0h0m78 1h0m-184 2h0m-33 2h0m53 2h0m0 0h0m79 6h0m-101 1h0m-100 1h0m42 0h0m126 0h0m255 0h0m-155 1h0m-276 2h0m104 0h0m1 1h0m58 1h0m98 0h0m-150 1h0m96 0h0m-163 2h0m149 0h0m-84 0h0m-29 2h0m-50 0h0m-33 2h0m71-1h0m96 1h0m-126 1h0m107 1h0m-55 1h0m3 6h0m64 0h0m-127 3h0m39 0h0m57 0h0m11 1h0m20 1h0m-113 4h0m162 0h0m-2 2h0m240 4h0m-425 0h0m-15 2h0m193 0h0m-134 0h0m80 2h0m-153 0h0m86 0h0m93 6h0m-105 2h0m40-1h0m94 0h0m-76 2h0m77 2h0m228-1h0m-381 1h0m76 3h0m-119 1h0m62 0h0m74 1h0m56 2h0m-21 1h0m275-1h0m-223 3h0m-202 1h0m170 1h0m-188 1h0m101 0h0m-57 1h0m-22 1h0m105 3h0m79 0h0m81-1h0m-274 1h0m-1 2h0m143 1h0m27 1h0m-192 1h0m134 1h0m-87 5h0m70 0h0m-175 2h0m-32 2h0m227 0h0m24-1h0m-57 2h0m128 1h0m-177 1h0m28 3h0m52 0h0m-87 1h0m-46 1h0m88 1h0m-63 1h0m68 2h0m100 0h0m6 0h0m319-1h0m-600 1h0m102 0h0m48 1h0m159 0h0m292 0h0m-446 1h0m51-1h0m88 3h0m-37 5h0m-113 1h0m466 0h0m-396 1h0m-67 2h0m-41 0h0m1 0h0m3 2h0m17 0h0m76 0h0m321 0h0m26 2h0m-424 1h0m-62 2h0m302 2h0m-238 3h0m-103 0h0m10 0h0m226 1h0m36 0h0m-54 0h0m362 0h0m-333 4h0m-40 1h0m41 1h0m-148 2h0m37 0h0m146-1h0m-153 2h0m135 0h0m254 7h0m-353 1h0m94 0h0m244 0h0m38-1h0m-276 2h0m146 3h0m-186 2h0m-130 4h0m251 5h0m-251 2h0m249 10h0m37 0h0m-168 0h0m71 2h0m-94 8h0m-53 2h0m147 8h0m-56 12h0m188 7h0m-66 2h0m-123 2h0m64 2h0m73 8h0m98 5h0m-29 0h0m-272 3h0m66 0h0m178-1h0m-50 2h0m-227 10h0m-25 1h0m316 6h0m-43 3h0m-198 5h0m304 15h0m8 12h0m-258 5h0m-92 3h0m127 7h0m93 4h0m-94 3h0m-171 3h0m243 1h0m132-1h0m-356 8h0m366 8h0m-395 2h0m27 0h0m84 2h0m275 7h0m-146 2h0m17 0h0m84 3h0m-81 1h0m7 0h0m-51 6h0m1 1h0m28 0h0m-187 5h0m297 4h0m-208 3h0m-111 2h0m174 2h0m11 1h0m-52 3h0m154 0h0m28 2h0m-279 2h0m-15 5h0m133 2h0m139 2h0m-43 1h0m-192 2h0m103 0h0m13 7h0m36 1h0m66-1h0m-122 2h0m-54 4h0m175 8h0m-126 8h0m-57 18h0m130 2h0m-31 3h0m-77 7h0m-8 12h0m142 0h0m-57 2h0m-147 13h0"/>
<path stroke="#FF61C3" stroke-width="9" stroke-linecap="square" transform="scale(.1)" d="M1626 2180h0m-21 2h0m-13 6h0m23 9h0m41 0h0m18 14h0m-64 2h0m4 5h0m-20 0h0m89 16h0m-135 8h0m162 2h0m-152 1h0m4 2h0m143 1h0m-223 10h0m246 0h0m-72 4h0m-31 4h0m0 3h0m-13 9h0m-35 5h0m12 12h0m190 3h0m-237 10h0m165 1h0m-28 3h0m-209 5h0m204 3h0m14 6h0m-6 3h0m12 4h0m100 4h0m-75 7h0m47 0h0m-88 6h0m-118 1h0m229 0h0m-24 1h0m-68 6h0m87 1h0m-86 0h0m-23 1h0m70 1h0m-91 3h0m-75 2h0m51 0h0m5 1h0m23 1h0m158 3h0m-47 4h0m-35 6h0m41 1h0m38 0h0m-100 2h0m-307 1h0m247 1h0m153 1h0m-110 2h0m88 4h0m-142 2h0m61 4h0m-30 2h0m46-1h0m-86 9h0m203 1h0m-32 6h0m7 1h0m-59 0h0m-60 3h0m78 1h0m24 0h0m-127 0h0m-38 2h0m17 0h0m24 1h0m112-1h0m-72 2h0m-26 6h0m68 0h0m-81 3h0m15 0h0m-239 4h0m259-1h0m12 1h0m-82 2h0m171 0h0m-431 1h0m265-1h0m-274 2h0m284 2h0m100 1h0m59-1h0m-274 1h0m178 1h0m14 0h0m85 0h0m41 2h0m-503 4h0m332 1h0m-39 1h0m157 1h0m-58 3h0m-94 3h0m-39 3h0m164-1h0m-385 3h0m459 1h0m-175 4h0m101-1h0m-211 1h0m283 1h0m-109 0h0m49 0h0m-95 7h0m65 2h0m41 2h0m-1 0h0m-27 3h0m-40 1h0m43 1h0m151 0h0m-254 2h0m162 0h0m-472 0h0m393 2h0m62-1h0m-32 2h0m-426 0h0m419 2h0m117 0h0m20 2h0m-71 2h0m-270 5h0m186 0h0m-85 1h0m13 2h0m91 1h0m89 1h0m3 2h0m-459 0h0m297 4h0m130 5h0m-346 2h0m-160 1h0m67 0h0m268 1h0m113-1h0m-18 3h0m-193 2h0m245 0h0m-383 1h0m158 1h0m61 0h0m-236 2h0m54-1h0m325 0h0m23 1h0m-313 2h0m-157 1h0m299 0h0m-240 2h0m107 0h0m132 1h0m56 0h0m-319 2h0m354 0h0m20 2h0m89 0h0m-178 1h0m154-1h0m-231 2h0m252 1h0m-467 1h0m126-1h0m-72 2h0m1 0h0m26 1h0m-82 0h0m195 3h0m269 0h0m-462 1h0m481 1h0m-423 0h0m405 2h0m-13 3h0m-123 3h0m-181 2h0m-76 1h0m232 3h0m-269 2h0m176-1h0m25 4h0m126 1h0m87-1h0m-366 2h0m82 0h0m143-1h0m92 1h0m26 0h0m-409 1h0m2 2h0m361 2h0m-356 3h0m48 4h0m63 1h0m295 1h0m-211 0h0m205 0h0m-295 2h0m8 0h0m61 2h0m-173 2h0m24 0h0m0 0h0m201 2h0m209 1h0m-152 1h0m116 1h0m-310 4h0m80 2h0m-22 1h0m-95 0h0m46 2h0m-115 2h0m91 0h0m-63 3h0m124 6h0m104-1h0m-206 2h0m-37 1h0m156 0h0m248-1h0m-319 1h0m46 1h0m-90 2h0m-25 1h0m193 2h0m183 2h0m11-1h0m-387 1h0m55 2h0m338 0h0m-330 1h0m112 0h0m11 1h0m234 0h0m-415 1h0m161 2h0m-46 0h0m275 0h0m-317 1h0m-93 2h0m119 0h0m1 1h0m235 0h0m-304 4h0m-52 2h0m216 5h0m-178 1h0m387 2h0m-262 2h0m262 0h0m-319 2h0m56 0h0m-137 4h0m26 0h0m118 1h0m253-1h0m-354 2h0m-19 1h0m138 8h0m-153 1h0m116 2h0m49-1h0m-166 1h0m297 2h0m-168 1h0m242 3h0m-300 3h0m90 3h0m-17 0h0m-48 3h0m-81 1h0m110 0h0m154 1h0m-208 2h0m-72 0h0m387 1h0m-370 1h0m129 0h0m-28 3h0m-48 5h0m-52 3h0m119-1h0m-97 3h0m3 0h0m93 0h0m-64 6h0m32-1h0m-58 4h0m87 0h0m-93 1h0m57 2h0m11 4h0m-43 3h0m150 8h0m89 2h0m-170 6h0m173 2h0m6 1h0m-164 6h0m-54 6h0m187 7h0m-110 1h0m-105 2h0m-3 1h0m156 11h0m-23 1h0m92 1h0m-121 4h0m126 3h0m-167 2h0m-49 12h0m6 2h0m207 4h0m-42 23h0m-121 3h0m133 5h0m-7 5h0"/>
<path stroke="#00BFC4" stroke-width="9" stroke-linecap="square" transform="scale(.1)" d="M1620 2172h0m42 10h0m2 20h0m-77 5h0m85 0h0m-67 11h0m28 11h0m41 4h0m38 2h0m-123 4h0m-49 9h0m84 0h0m46 2h0m-110 2h0m78 0h0m-65 4h0m182 1h0m-249 7h0m-63 1h0m92 1h0m-61 5h0m46 6h0m-82 9h0m52 0h0m12 1h0m25-1h0m-12 2h0m59 0h0m-108 2h0m56 1h0m78 3h0m-165 1h0m100 2h0m-62 1h0m15-1h0m-19 3h0m302-1h0m-287 1h0m220 0h0m-138 3h0m-118 2h0m300 0h0m-282 2h0m-42 2h0m60 0h0m165 2h0m-117 2h0m-96 8h0m125 2h0m-131 2h0m25 3h0m129-1h0m-1 2h0m-81 1h0m23 1h0m-119 3h0m7 0h0m322 0h0m-244 3h0m23 0h0m248 0h0m-232 1h0m138 1h0m-242 1h0m113-1h0m-48 1h0m-18 2h0m-62 2h0m10 3h0m113 3h0m-38 1h0m68 0h0m35 2h0m3-1h0m-187 1h0m89 0h0m65 0h0m184 1h0m-275 3h0m-39 0h0m44 2h0m-34 4h0m103 0h0m-165 1h0m64 0h0m52 0h0m49 1h0m46 1h0m-148 1h0m15 1h0m155 2h0m-139 2h0m97 0h0m22 3h0m-83 1h0m-23 6h0m-30 2h0m137 3h0m202 2h0m-241 2h0m239 1h0m29 0h0m-343 2h0m140-1h0m-204 1h0m45 0h0m-65 3h0m198 4h0m-148 5h0m268 0h0m-207 3h0m-121 1h0m144-1h0m305 3h0m-216 5h0m-161 1h0m61 2h0m73-1h0m-183 2h0m-17 2h0m-12 1h0m157-1h0m-143 2h0m73 0h0m-63 1h0m116 2h0m35 0h0m45 1h0m-123 1h0m13 0h0m-3 0h0m45 2h0m-115 1h0m105 0h0m-110 2h0m-1 1h0m31-1h0m156 5h0m-17 0h0m-138 2h0m380 2h0m-431 2h0m3 5h0m23 0h0m29 1h0m-52 1h0m243 3h0m-106 2h0m-62 3h0m302 3h0m127 3h0m-436 1h0m64 1h0m-104 2h0m57 0h0m-20 2h0m147 1h0m-62 0h0m60 4h0m-13 0h0m-208 6h0m97 2h0m86 1h0m-240 0h0m-26 1h0m644 2h0m-567 2h0m509 0h0m-192 2h0m173 1h0m-425 1h0m-67 1h0m466-1h0m-385 1h0m-2 2h0m-33 0h0m137 0h0m355 1h0m-344 2h0m-102 2h0m65 0h0m-246 2h0m410 1h0m-217 2h0m-123 2h0m112-1h0m375 2h0m-348 1h0m204 1h0m-118 1h0m325 0h0m-438 0h0m20 0h0m104 0h0m-150 2h0m-19 1h0m12 1h0m41-1h0m-138 2h0m250 0h0m-6 4h0m184 8h0m2 5h0m43-1h0m-394 3h0m425 2h0m-372 11h0m234 0h0m45 3h0m35 2h0m-330 6h0m292 4h0m2 4h0m-38 4h0m-177 7h0m-17 2h0m-129 1h0m429 8h0m-24 12h0m-206 4h0m144 14h0m-298 5h0m186 3h0m184 1h0m-151 1h0m-240 4h0m124 5h0m222 0h0m50 7h0m-233 1h0m234 3h0m-171 3h0m-77 5h0m1 8h0m48 1h0m-102 4h0m9 13h0m235 1h0m-150 6h0m-151 1h0m303 5h0m-329 4h0m52 4h0m-56 1h0m198 8h0m-93 7h0m-34 7h0m-50 3h0m124 0h0m179 0h0m-221 1h0m-70 5h0m171 7h0m-94 1h0m-46 1h0m272 3h0m-111 25h0m-91 9h0m-84 0h0m98 1h0m-57 2h0m-8 3h0m201 5h0m-162 6h0m114 3h0m-85 1h0m-21 5h0m-20 0h0m18 15h0m-41 0h0m152 7h0m-104 1h0m156 2h0m-11 5h0m-186 3h0m178 8h0"/>
<path stroke="#C77CFF" stroke-width="9" stroke-linecap="square" transform="scale(.1)" d="M1618 2183h0m24 17h0m-54 9h0m20 11h0m-19 4h0m2 0h0m28 4h0m-64 4h0m123-1h0m26 18h0m-55 2h0m-93 0h0m68 1h0m-19 1h0m-58 6h0m-70 1h0m30 1h0m-25 4h0m232 3h0m-214 3h0m-25 4h0m281-1h0m-310 4h0m58 2h0m12 2h0m232 0h0m-94 2h0m3 1h0m-24 0h0m4 2h0m34 8h0m40 0h0m-89 4h0m6 2h0m-173 14h0m3 1h0m205 8h0m-111 3h0m-14 3h0m18 18h0m57 5h0m-168 1h0m336 2h0m-284 2h0m-11 2h0m58 2h0m134 7h0m70 3h0m14-1h0m-289 7h0m212 6h0m-124 13h0m12 0h0m86 10h0m132 9h0m-265 12h0m99 0h0m82-1h0m-128 3h0m-155 1h0m231 3h0m-252 1h0m106 2h0m345 1h0m-187 0h0m128 0h0m-423 6h0m-1 4h0m482 9h0m-180 2h0m-214 1h0m58 8h0m93 0h0m-279 3h0m22 0h0m45 1h0m-2 4h0m334 2h0m-388 3h0m141 5h0m-37 4h0m369-1h0m-481 8h0m491 0h0m88 4h0m-15 3h0m-563 4h0m15 4h0m292 0h0m-14 0h0m255 1h0m-528 12h0m17 3h0m453 1h0m-455 1h0m247 0h0m-105 1h0m-76 6h0m417 4h0m-267 5h0m-21 2h0m26-1h0m176 4h0m27 0h0m-43 1h0m-93 2h0m56 4h0m-217 7h0m291 4h0m-180 2h0m-157 2h0m336-1h0m-103 1h0m-202 8h0m-60 5h0m342 1h0m-313 1h0m380-1h0m-384 6h0m20 5h0m339 2h0m-355 2h0m-32 1h0m331 0h0m-122 1h0m144 6h0m-78 3h0m86 13h0m-274 1h0m207-1h0m-36 9h0m157 3h0m-304 2h0m104 4h0m101 5h0m-158 12h0m170 11h0m-52 2h0m-77 2h0m191-1h0m-189 3h0m6 10h0m87 5h0m-215 15h0m144 1h0m-163 4h0m152 7h0m-140 7h0m19 2h0m19 5h0m-10 1h0m193 6h0m-97 1h0m128 4h0m-154 1h0m135 1h0m-141 5h0m-38 0h0m88 1h0m-91 2h0m-22 3h0m-14 2h0m212 0h0m-209 1h0m144 0h0m30 4h0m93 4h0m-110 2h0m-146 1h0m-27 2h0m117 3h0m31 2h0m-67 3h0m34 5h0m-45 1h0m193 4h0m-39 16h0m-40 19h0m-6 7h0m24 0h0m21 4h0m-45 12h0"/>
<path stroke="#00A9FF" stroke-width="9" stroke-linecap="square" transform="scale(.1)" d="M1628 2174h0m40 52h0m-42 11h0m-21 8h0m11 7h0m130 2h0m-189 0h0m-27 2h0m149-1h0m-234 6h0m102 3h0m30 1h0m-9 3h0m39 0h0m-11 5h0m42 0h0m42 0h0m-173 5h0m-52 0h0m213 7h0m-126 1h0m210 17h0m-53 1h0m37-1h0m-155 20h0m58 1h0m40 4h0m-79 3h0m-48 9h0m146 12h0m-99 1h0m-146 1h0m64 17h0m51 0h0m53 1h0m-144 11h0m3 4h0m46 8h0m155 7h0m-231 7h0m133 3h0m-182 5h0m269 2h0m-146 1h0m-38 8h0m131 14h0m-21 13h0m132 1h0m-420 8h0m256 1h0m321 1h0m-471 0h0m476 1h0m-124 1h0m54 9h0m-206 2h0m248 1h0m-566 5h0m419-1h0m-224 4h0m397 2h0m-324 2h0m34 4h0m244-1h0m39 2h0m-87 3h0m-70 7h0m-249 4h0m441 4h0m-588 3h0m177 1h0m252 0h0m-27 4h0m-202 6h0m-108 11h0m362 3h0m-14 2h0m-260 3h0m279 11h0m-334 7h0m28 1h0m239 0h0m29 4h0m-121 11h0m101 3h0m-90 1h0m-216 3h0m367 2h0m-324 3h0m257 2h0m-60 0h0m-242 5h0m350 1h0m-40 1h0m-317 3h0m154 2h0m75 6h0m-175 3h0m277 3h0m-215 7h0m-118 1h0m290 1h0m-289 2h0m226 1h0m-124 2h0m187 5h0m-265 7h0m201 9h0m78 0h0m-219 1h0m223 4h0m-1 4h0m101 3h0m-171 3h0m29 23h0m-193 7h0m-36 6h0m164 6h0m132 0h0m28 4h0m-67 1h0m-76 9h0m-27 19h0m150 11h0m-272 2h0m191 0h0m-12 0h0m-150 4h0m123 2h0m-29 3h0m25 9h0m-80 5h0m119 0h0m-191 1h0m254 8h0m-172 0h0m111 1h0m8 1h0m41-1h0m10 6h0m-183 8h0m163 14h0m-48 12h0m-109 3h0m-8 4h0m-29 8h0m168 1h0m27 2h0"/>
<path stroke="#7CAE00" stroke-width="9" stroke-linecap="square" transform="scale(.1)" d="M1589 2194h0m23 17h0m-26 8h0m117 12h0m21 12h0m-11 9h0m-79 1h0m-104 1h0m-67 3h0m60 1h0m156-1h0m-173 2h0m27 1h0m-42 3h0m194 7h0m48 6h0m37 5h0m-1 4h0m-93 2h0m59 8h0m-66 1h0m-169 5h0m49 7h0m93 2h0m-148 2h0m53 2h0m248 1h0m-159 1h0m-201 13h0m136 1h0m52 14h0m39 0h0m-8 9h0m-87 6h0m-134 9h0m152 0h0m61 19h0m-40 20h0m-42 2h0m-154 6h0m266 3h0m93 5h0m-160 5h0m97 4h0m-68 5h0m44 2h0m-179 2h0m-131 11h0m-42 5h0m520 2h0m-533 1h0m147 8h0m16 0h0m54 1h0m242 9h0m-161 2h0m297 0h0m-547 1h0m469 3h0m-277 5h0m-69 1h0m278 2h0m-304 4h0m403 10h0m-406 5h0m-34 0h0m234 3h0m94 0h0m85 2h0m-438 4h0m462 1h0m-123 2h0m-377 11h0m492 1h0m-301 4h0m-64 8h0m296 7h0m-267 4h0m-84 6h0m238 3h0m162 5h0m-202 2h0m32 4h0m74 3h0m-81 0h0m73 2h0m65 2h0m-107 1h0m1 2h0m18 0h0m89-1h0m-70 1h0m33 1h0m-306 2h0m334 1h0m-39 7h0m-342 2h0m235 0h0m57 8h0m10 4h0m118 0h0m-91 4h0m8 4h0m14 0h0m30 0h0m-104 0h0m64 3h0m-87 2h0m101 3h0m-24 3h0m-17 0h0m-107 2h0m35-1h0m60 2h0m38-1h0m-69 3h0m-249 3h0m294 0h0m68 1h0m-4 1h0m-388 0h0m288 4h0m57 2h0m-140 1h0m47 2h0m83 5h0m-77 2h0m-5 2h0m107 0h0m-4 4h0m-202 1h0m60 1h0m84 3h0m-46 3h0m33 0h0m9 0h0m-87 2h0m140-1h0m-88 2h0m62 0h0m-21 0h0m16 1h0m-218 2h0m-14 2h0m266 1h0m-84 1h0m28-1h0m43 0h0m14 2h0m-47 1h0m31 5h0m15 2h0m12 0h0m-61 0h0m10 2h0m-53 1h0m101 0h0m-38 6h0m77 0h0m-39 1h0m-35 6h0m-59 2h0m139 0h0m-349 1h0m131 0h0m122 2h0m-24 1h0m104-1h0m-21 5h0m-156 2h0m169 3h0m11 0h0m-98 1h0m83 2h0m-94 0h0m35 1h0m85-1h0m-268 5h0m124 0h0m73-1h0m-159 3h0m172 1h0m30 0h0m27-1h0m-100 1h0m18 7h0m-271 2h0m55-1h0m179 1h0m-23 1h0m67 0h0m43 1h0m-162 2h0m-2 4h0m147 0h0m-135 5h0m-48 5h0m131 1h0m-220 2h0m-9 0h0m128 0h0m121 3h0m-64 7h0m-86 1h0m-30 1h0m242 1h0m-3 1h0m-237 2h0m124 3h0m34 1h0m-188 3h0m35 3h0m-61 7h0m198 13h0m-111 1h0m17 6h0m93 0h0m-152 8h0m14 0h0m-2 6h0m159 6h0m-143 2h0m91 2h0m-127 6h0m179 8h0"/>
<path stroke="#00BA38" stroke-width="9" stroke-linecap="square" transform="scale(.1)" d="M1587 2183h0m63 11h0m4 12h0m-83 3h0m-8 8h0m14 2h0m-17 15h0m-16 25h0m-7 12h0m151 10h0m49 6h0m-34 0h0m-11 8h0m-79 2h0m4 7h0m102 0h0m53 0h0m-348 2h0m169 5h0m40 13h0m-57 11h0m140 3h0m75 4h0m-148 2h0m-251 18h0m378 2h0m-295 3h0m83 5h0m-43 11h0m284 1h0m-332 6h0m-69 5h0m49 2h0m175 0h0m32 0h0m56 7h0m51 9h0m41 1h0m-185 3h0m90 4h0m-25 4h0m-33 14h0m-200 9h0m-40 2h0m-59 2h0m283-1h0m-324 2h0m-3 5h0m546 6h0m-448 1h0m-48 4h0m225 7h0m192 2h0m-469 2h0m588 1h0m-311 2h0m321 0h0m-292 7h0m-70 5h0m113 1h0m59 3h0m212 0h0m-7 2h0m-332 7h0m-55 2h0m276 1h0m-247 1h0m291 5h0m-26 0h0m62 1h0m-88 12h0m-166 2h0m-288 1h0m457 7h0m0 2h0m-382 5h0m66 1h0m193 3h0m-111 3h0m-44 6h0m-126 2h0m364 4h0m-11 2h0m17 4h0m-292 1h0m134-1h0m136 2h0m-361 6h0m161 3h0m296 1h0m-78 0h0m-192 5h0m-155 3h0m55 1h0m-38 5h0m180 4h0m63 2h0m-119 7h0m-132 17h0m385 1h0m-213 2h0m228 1h0m-65 1h0m58 5h0m-186 7h0m-135 9h0m185 7h0m-191 10h0m-47 4h0m203 1h0m-213 2h0m125-1h0m191 5h0m-21 10h0m31 0h0m50 9h0m-34 4h0m13 4h0m-258 7h0m78 9h0m-149 2h0m94 1h0m229-1h0m-49 3h0m-214 2h0m138 8h0m-206 7h0m35 1h0m281 10h0m-95 2h0m-209 4h0m23 2h0m225 1h0m-66 9h0m-1 3h0m50 12h0m36 2h0m-210 2h0m31 3h0m131 1h0m-153 3h0m183-1h0m-122 15h0m80 24h0m10 4h0m37 5h0"/>
<path stroke="#39B600" stroke-width="9" stroke-linecap="square" transform="scale(.1)" d="M1612 2183h0m-37 44h0m112 4h0m-84 4h0m151 25h0m-297 0h0m159 1h0m103 2h0m-186 3h0m89 1h0m-73 1h0m95 1h0m38 9h0m-135 0h0m-80 8h0m306-1h0m-334 2h0m291 3h0m-107 2h0m-57 2h0m108 5h0m-179 0h0m246 10h0m-62 6h0m-235 2h0m84 8h0m-68 2h0m239 3h0m-108 19h0m-151 3h0m268 7h0m-169 6h0m74 1h0m-176 2h0m253 3h0m-102 8h0m227 2h0m-305 5h0m196 4h0m23 5h0m37 21h0m-270 4h0m-44 3h0m162 0h0m-32 0h0m120 3h0m83 0h0m68 7h0m-161 1h0m-346 10h0m20 1h0m285 5h0m108 5h0m1 10h0m-300 2h0m187 1h0m249 0h0m-167 1h0m165 2h0m-552 5h0m36 1h0m465 2h0m52 1h0m-597 2h0m4 1h0m60 1h0m564 0h0m-561 3h0m354 0h0m-152 3h0m171 1h0m-375 7h0m542 5h0m-1 1h0m-278 0h0m-238 2h0m113 5h0m-124 8h0m362 1h0m27 0h0m-239 3h0m198 6h0m-316 20h0m416 1h0m-116 1h0m-284 3h0m192 1h0m-245 4h0m309-1h0m1 2h0m98-1h0m-347 2h0m21 0h0m112 7h0m44 4h0m-159 3h0m187 3h0m21 2h0m-25 6h0m49 1h0m-59 0h0m207 2h0m-105 12h0m-114 3h0m224 4h0m-273 5h0m266 4h0m-72 2h0m85 0h0m-430 2h0m260 1h0m-240 0h0m224 1h0m73 2h0m-306 6h0m70 0h0m235 4h0m92 5h0m-368 1h0m30-1h0m167 1h0m150 4h0m-66 4h0m-213 2h0m209 4h0m-83 1h0m-51 10h0m-16 0h0m-81 4h0m-90 11h0m264 2h0m140 3h0m-175 2h0m-212 2h0m73 0h0m253 0h0m-142 19h0m198 1h0m-349 11h0m172 0h0m-55 2h0m-112 7h0m139 11h0m-67 1h0m102 0h0m-92 6h0m97 6h0m-87 3h0m166 0h0m-160 7h0m-20 2h0m246 0h0m-21 4h0m14 0h0m-69 10h0m-178 4h0m137 6h0m54 9h0m-242 6h0m216 2h0m-43 1h0m-169 5h0m47 0h0m30 3h0m79 4h0m-94 2h0m111 3h0m19 2h0m-109 2h0m136 3h0m-40 3h0m-117 3h0m151 0h0m-146 2h0m20 0h0m-5 3h0m0 5h0"/>
<path stroke="#E76BF3" stroke-width="9" stroke-linecap="square" transform="scale(.1)" d="M1614 2170h0m24 18h0m-50 18h0m-12 33h0m20 3h0m121 3h0m-34 2h0m-90 4h0m-56 10h0m-64 8h0m-9 2h0m7 2h0m238 2h0m-3 6h0m20 5h0m-3 2h0m38 5h0m-14 5h0m38 2h0m-138 2h0m14 2h0m97 6h0m-46 2h0m-188 2h0m112 1h0m98 3h0m17-1h0m44 1h0m-170 2h0m49 3h0m-68 2h0m183 2h0m-344 9h0m223 4h0m-206 9h0m23 5h0m-46 18h0m372 0h0m-311 3h0m-71 11h0m138 4h0m235 1h0m-150 7h0m42 0h0m22 4h0m56 2h0m-268 8h0m93 2h0m-162 3h0m312 4h0m-41 4h0m21 21h0m112 5h0m-119 10h0m184 3h0m-241 2h0m-19 2h0m185 2h0m-129 2h0m-20 2h0m40 0h0m80 1h0m72 0h0m-226 7h0m219 2h0m43 4h0m21 2h0m-329 5h0m343 0h0m-127 1h0m-142 8h0m200 4h0m-510 1h0m469 1h0m27 2h0m-526 2h0m222 0h0m58 0h0m-11 1h0m318 4h0m-354 0h0m308 0h0m-481 1h0m474 1h0m-351 2h0m11-1h0m-19 2h0m-88 1h0m128 1h0m310 0h0m-462 2h0m1 0h0m265 0h0m193 2h0m-465 0h0m55 4h0m62 1h0m209-1h0m43 0h0m-347 4h0m364 3h0m-382 2h0m134 0h0m-66 2h0m119 5h0m-128 0h0m5 0h0m-88 3h0m23 1h0m130-1h0m73 2h0m-58 4h0m-151 2h0m72 0h0m123 3h0m-173 0h0m-17 2h0m165 1h0m-135 2h0m8-1h0m179 1h0m209 0h0m-318 2h0m118 4h0m133 5h0m59 0h0m-312 2h0m169 0h0m-217 4h0m208-1h0m-120 2h0m242-1h0m-275 1h0m97 4h0m-67 2h0m-113 0h0m5 1h0m365 0h0m-383 1h0m169 0h0m-18 2h0m193 0h0m-88 1h0m-152 3h0m-22 2h0m39 0h0m236 1h0m-178 3h0m188 0h0m-37 1h0m-338 2h0m178 2h0m191 1h0m48 2h0m-282 1h0m22 3h0m-107 1h0m122 1h0m-56 1h0m36 1h0m-110 0h0m6 1h0m72 0h0m136 1h0m-127 0h0m85 1h0m-132 1h0m-54 0h0m128 1h0m-83 1h0m-1 3h0m32 4h0m287 0h0m-183 2h0m-203 2h0m341 0h0m-10 1h0m-169 1h0m-74 8h0m105 1h0m-162 1h0m343 1h0m-381 1h0m175 1h0m-5 2h0m-170 1h0m130 1h0m29 0h0m97 1h0m-141 2h0m6 0h0m56 3h0m-113 2h0m55-1h0m252 1h0m-304 4h0m113 1h0m27-1h0m-171 3h0m65 1h0m269 1h0m-324 0h0m150 1h0m-172 1h0m25 1h0m75 1h0m196 2h0m-89 1h0m142 0h0m-297 3h0m42 3h0m-32 1h0m-12 5h0m231 3h0m-186 2h0m6 4h0m3 0h0m16 1h0m41 0h0m-126 1h0m128 2h0m-122 1h0m280 3h0m64 5h0m-240 0h0m123 2h0m-247 1h0m43 4h0m314 1h0m-322 5h0m31 2h0m98 0h0m-100 14h0m250 5h0m-164 2h0m146 1h0m-73 2h0m-165 2h0m2 0h0m195 7h0m-235 4h0m128 5h0m78 0h0m4 3h0m-97 1h0m151 1h0m-154 2h0m82 0h0m-136 2h0m-38 7h0m32 3h0m160 2h0m29 34h0m15 1h0m-180 7h0m-9 4h0m197 0h0m-36 3h0m10 12h0"/>
<path d="M21.5,302.3 L21.5,198 M21.5,302.3 L128,302.3" stroke="#222" stroke-width="0.7" fill="none"/>
<path d="M21.5,195.5 L20.1,199 L22.9,199Z M130,302.3 L126.5,300.9 L126.5,303.7Z" fill="#222"/>
<rect x="57.00" y="299.50" width="26.00" height="6.00" fill="#fff" />
<text x="70.0" y="304.9" font-size="5.0" text-anchor="middle" fill="#222" >tSNE_1</text>
<rect x="18.50" y="240.50" width="6.00" height="23.00" fill="#fff" />
<text x="23.3" y="252.0" font-size="5.0" text-anchor="middle" fill="#222" transform="rotate(-90 23.3 252.0)">tSNE_2</text>
<text x="220.5" y="15.4" font-size="10.2" text-anchor="start" fill="#111" stroke="#111" stroke-width="0.12">B</text>
<text x="268.3" y="14.2" font-size="7.35" text-anchor="start" fill="#222"  stroke="#222" stroke-width="0.05">Multiple patients: Normal</text>
<text x="268.3" y="22.7" font-size="7.35" text-anchor="start" fill="#222"  stroke="#222" stroke-width="0.05">No CNV pattern</text>
<text x="268.3" y="87.4" font-size="7.35" text-anchor="start" fill="#222"  stroke="#222" stroke-width="0.05">Multiple patients:Tumor</text>
<text x="268.3" y="95.6" font-size="7.35" text-anchor="start" fill="#222"  stroke="#222" stroke-width="0.05">Patient-specific CNV pattern</text>
<text x="268.3" y="202.0" font-size="7.35" text-anchor="start" fill="#222"  stroke="#222" stroke-width="0.05">One patient: Tumor</text>
<text x="268.3" y="210.4" font-size="7.35" text-anchor="start" fill="#222"  stroke="#222" stroke-width="0.05">Clonal heterogeneity</text>
<defs><linearGradient id="gk" x1="0" x2="1" y1="0" y2="0"><stop offset="0" stop-color="#0c108a"/><stop offset="0.2" stop-color="#3440b8"/><stop offset="0.45" stop-color="#c4c8f0"/><stop offset="0.55" stop-color="#e8e0ee"/><stop offset="0.65" stop-color="#e0b0b4"/><stop offset="0.85" stop-color="#b03838"/><stop offset="1" stop-color="#7a0a10"/></linearGradient></defs>
<rect x="214.6" y="37.0" width="18.4" height="27.6" fill="none" stroke="#bbb" stroke-width="0.9"/>
<rect x="215.1" y="37.6" width="17.4" height="26.5" fill="url(#gk)"/>
<path d="M222.6 64.1 L223.7 58 L224.3 58 L225.4 64.1Z" fill="#fff"/>
<text x="212.6" y="51.0" font-size="2.4" text-anchor="middle" fill="#555" transform="rotate(-90 212.6 51)">Count</text>
<text x="223.8" y="67.0" font-size="2.1" text-anchor="middle" fill="#444" >Modified Expression</text>
<path stroke="#f6e2e4" stroke-width="13" transform="scale(.1)" d="M2462 354h13m39 0h26m104 0h13m13 0h13m13 0h13m117 0h26m39 0h13m52 0h13m39 0h13m13 0h13m26 0h13m12 0h13m13 0h13m26 0h26m26 0h13m65 0h26m169 0h13m13 0h13m13 0h13m13 0h13m26 0h13m39 0h13m26 0h13m-1195 14h13m91 0h26m52 0h26m130 0h13m13 0h13m13 0h13m39 0h13m52 0h13m77 0h13m13 0h26m13 0h26m13 0h26m52 0h13m78 0h13m65 0h13m143 0h13m26 0h26m39 0h13m-1247 13h13m26 0h13m26 0h13m13 0h26m26 0h13m39 0h13m13 0h13m130 0h13m78 0h13m13 0h13m103 0h13m26 0h13m13 0h13m117 0h13m104 0h13m13 0h13m13 0h26m26 0h13m13 0h26m26 0h39m13 0h13m26 0h13m13 0h13m-1247 13h13m13 0h13m52 0h26m26 0h13m13 0h13m39 0h13m39 0h13m39 0h13m13 0h13m13 0h13m78 0h13m78 0h13m13 0h13m13 0h26m64 0h13m78 0h13m13 0h39m65 0h13m143 0h13m65 0h13m39 0h13m13 0h13m-1234 13h13m39 0h13m39 0h26m13 0h13m13 0h39m13 0h26m104 0h13m13 0h13m39 0h13m52 0h52m13 0h13m26 0h26m25 0h26m91 0h13m26 0h13m52 0h26m143 0h13m39 0h13m65 0h13m52 0h13m-1286 14h13m39 0h13m39 0h26m26 0h65m26 0h26m26 0h13m91 0h13m52 0h13m65 0h13m39 0h13m13 0h13m12 0h13m13 0h13m65 0h13m104 0h13m26 0h13m65 0h13m104 0h13m39 0h13m65 0h26m13 0h13m-1299 13h52m26 0h13m13 0h26m13 0h13m52 0h13m13 0h13m26 0h13m52 0h13m13 0h26m26 0h65m39 0h26m26 0h13m39 0h26m12 0h13m26 0h13m104 0h13m65 0h26m195 0h13m39 0h26m78 0h13m-1273 13h13m78 0h13m169 0h13m13 0h39m26 0h13m52 0h13m13 0h26m26 0h13m26 0h26m39 0h13m51 0h26m39 0h13m91 0h13m13 0h13m39 0h39m26 0h26m26 0h13m39 0h13m78 0h13m39 0h13m-1208 13h13m13 0h26m39 0h13m13 0h13m13 0h13m39 0h13m39 0h13m26 0h39m26 0h13m65 0h13m13 0h13m13 0h13m26 0h13m26 0h13m13 0h13m25 0h13m26 0h13m26 0h26m26 0h13m13 0h13m39 0h39m26 0h39m26 0h13m91 0h26m52 0h13m26 0h26m26 0h13m-1299 13h26m91 0h13m26 0h13m13 0h26m39 0h13m130 0h39m26 0h13m26 0h13m39 0h26m39 0h26m116 0h13m39 0h13m13 0h26m26 0h13m52 0h13m39 0h26m65 0h26m52 0h13m13 0h13m26 0h13m13 0h13m-1273 14h13m13 0h26m13 0h13m13 0h13m13 0h13m39 0h13m156 0h13m39 0h13m39 0h26m13 0h39m39 0h26m65 0h13m77 0h26m13 0h26m13 0h13m26 0h13m130 0h13m39 0h13m26 0h26m13 0h13m26 0h13m-1169 13h26m13 0h39m39 0h13m13 0h13m39 0h13m13 0h13m26 0h13m13 0h13m52 0h13m104 0h13m52 0h13m91 0h39m12 0h13m13 0h26m65 0h26m13 0h13m52 0h13m13 0h13m52 0h13m78 0h13m13 0h13m-935 13h13m78 0h13m-299 13h13m260 0h13m39 0h13m104 0h13m104 0h13m90 0h13m234 0h13m182 0h13m-727 13h13m169 0h13m26 0h26m90 0h13m364 0h13m-857 14h13m792 0h13m-1013 13h13m156 0h13m584 0h13m325 0h26m-1208 13h13m26 0h13m130 0h13m416 0h13m597 0h13m-390 13h13m13 0h13m117 0h13m-610 13h13m272 0h13m364 0h13m-545 14h13m39 0h13m311 0h13m78 0h13m-948 13h13m416 0h13m130 0h13m298 0h13m221 0h13m78 0h13m-1169 13h13m13 0h26m117 0h13m376 0h13m455 0h13m-623 13h13m13 0h13m207 0h13m117 0h13m52 0h13"/>
<rect x="353.10" y="34.80" width="3.40" height="31.80" fill="#d8d8d8" opacity="0.7"/>
<path stroke="#8e8e8e" stroke-width="0.6" fill="none" d="M258.5 34.8V66.6M267.1 34.8V66.6M274.4 34.8V66.6M278.8 34.8V66.6M284.8 34.8V66.6M291.9 34.8V66.6M297.9 34.8V66.6M302.7 34.8V66.6M307.6 34.8V66.6M312.9 34.8V66.6M321.2 34.8V66.6M328.3 34.8V66.6M330.5 34.8V66.6M335.3 34.8V66.6M339.1 34.8V66.6M345.5 34.8V66.6M364.8 34.8V66.6M369.3 34.8V66.6"/>
<line x1="243.6" y1="50.5" x2="373.5" y2="50.5" stroke="#8a8a8a" stroke-width="0.7" />
<line x1="243.6" y1="66.9" x2="373.5" y2="66.9" stroke="#7a7a7a" stroke-width="1.1" />
<rect x="239.90" y="34.90" width="1.80" height="16.00" fill="#6fcfb7" />
<rect x="239.90" y="50.90" width="1.80" height="16.00" fill="#f07a7a" />
<text x="376.8" y="51.0" font-size="2.8" text-anchor="middle" fill="#555" transform="rotate(90 376.8 51)">Reference Cells</text>
<rect x="289.50" y="62.50" width="1.00" height="1.00" fill="#c04050" />
<rect x="298.50" y="57.00" width="1.00" height="1.00" fill="#c04050" />
<rect x="353.00" y="45.00" width="1.00" height="1.00" fill="#c04050" />
<rect x="318.70" y="41.00" width="1.00" height="1.00" fill="#c04050" />
<rect x="258.00" y="52.00" width="1.00" height="1.00" fill="#c04050" />
<rect x="244.60" y="105.20" width="15.20" height="1.60" fill="#7fd3c0" />
<rect x="259.80" y="105.20" width="7.20" height="1.60" fill="#b8e0a8" />
<rect x="267.00" y="105.20" width="9.60" height="1.60" fill="#ece47a" />
<rect x="276.60" y="105.20" width="2.40" height="1.60" fill="#e8e8e8" />
<rect x="279.00" y="105.20" width="21.60" height="1.60" fill="#f08a86" />
<rect x="300.60" y="105.20" width="9.90" height="1.60" fill="#c8c8e0" />
<rect x="310.50" y="105.20" width="21.00" height="1.60" fill="#e8d070" />
<rect x="331.50" y="105.20" width="14.80" height="1.60" fill="#d0e0c0" />
<rect x="346.30" y="105.20" width="19.70" height="1.60" fill="#c0a8d8" />
<rect x="366.00" y="105.20" width="3.80" height="1.60" fill="#ececec" />
<rect x="369.80" y="105.20" width="4.00" height="1.60" fill="#ede86a" />
<rect x="241.00" y="108.00" width="2.50" height="9.50" fill="#efe06a" />
<rect x="241.00" y="117.50" width="2.50" height="2.90" fill="#e8e8e8" />
<rect x="241.00" y="120.40" width="2.50" height="5.90" fill="#b9a0d0" />
<rect x="241.00" y="126.30" width="2.50" height="5.70" fill="#f0b8c8" />
<rect x="241.00" y="132.00" width="2.50" height="3.00" fill="#888888" />
<rect x="241.00" y="135.00" width="2.50" height="5.80" fill="#f07a6a" />
<rect x="241.00" y="140.80" width="2.50" height="26.20" fill="#d7a8d0" />
<rect x="241.00" y="167.00" width="2.50" height="8.90" fill="#c8e89a" />
<rect x="241.00" y="175.90" width="2.50" height="3.10" fill="#7fd3c0" />
<rect x="238.20" y="108.00" width="1.80" height="71.00" fill="#6fcfb7" />
<rect x="235.00" y="108.00" width="2.30" height="71.00" fill="#111" />
<path fill="none" stroke="#666" stroke-width="0.3" d="M213.4 108.6H235M214.0 110.2H235M215.3 111.8H235M212.3 113.0H235M213.5 114.8H235M217.2 116.2H235M216.4 117.7H235M215.4 119.2H235M215.4 120.4H235M214.8 122.3H235M215.6 124.1H235M216.0 125.3H235M213.7 126.9H235M216.5 128.0H235M215.8 129.5H235M215.8 131.4H235M212.2 108.6V132.5M211.3 132.30H235M211.3 132.75H235M211.3 133.20H235M211.3 133.65H235M211.3 134.10H235M211.3 134.55H235M211.3 135.00H235"/>
<path fill="none" stroke="#555" stroke-width="0.3" d="M235.0 136.4H234.0V137.1H235.0M234.0 136.7H233.6V137.8H235.0M235.0 139.9H234.0V140.7H235.0M235.0 141.4H234.0V142.1H235.0M235.0 142.8H234.1V143.5H235.0M234.0 141.7H233.0V143.2H234.1M234.0 140.3H232.3V142.5H233.0M232.3 141.4H231.7V144.2H235.0M235.0 139.2H231.4V142.8H231.7M235.0 138.5H230.8V141.0H231.4M233.6 137.3H229.6V139.8H230.8M229.6 138.5H229.4V145.0H235.0M235.0 145.7H233.9V146.4H235.0M235.0 147.8H233.9V148.5H235.0M235.0 147.1H233.6V148.2H233.9M233.9 146.0H232.8V147.6H233.6M235.0 149.3H234.0V150.0H235.0M235.0 151.4H233.9V152.1H235.0M233.9 151.8H233.5V152.8H235.0M235.0 153.6H233.9V154.3H235.0M233.9 153.9H233.6V155.0H235.0M233.5 152.3H232.4V154.5H233.6M235.0 150.7H232.1V153.4H232.4M235.0 157.9H234.0V158.6H235.0M235.0 159.3H234.0V160.0H235.0M234.0 158.2H233.0V159.6H234.0M235.0 157.1H232.5V158.9H233.0M235.0 156.4H232.2V158.0H232.5M235.0 161.4H233.9V162.2H235.0M235.0 164.3H234.0V165.0H235.0M235.0 165.7H234.1V166.5H235.0M234.0 164.7H233.2V166.1H234.1M235.0 163.6H232.7V165.4H233.2M235.0 162.9H232.4V164.5H232.7M233.9 161.8H231.6V163.7H232.4M235.0 160.7H231.1V162.7H231.6M232.2 157.2H228.7V161.7H231.1M235.0 155.7H228.4V159.5H228.7M232.1 152.0H226.0V157.6H228.4M234.0 149.6H224.5V154.8H226.0M224.5 152.2H224.0V167.2H235.0M232.8 146.8H222.7V159.7H224.0M229.4 141.7H218.0V153.3H222.7M235.0 168.6H234.1V169.3H235.0M235.0 170.0H233.9V170.8H235.0M234.1 169.0H233.2V170.4H233.9M235.0 167.9H232.5V169.7H233.2M218.0 147.5H217.8V168.8H232.5M235.0 171.5H234.0V172.2H235.0M235.0 172.9H233.9V173.6H235.0M234.0 171.8H233.1V173.3H233.9M233.1 172.5H232.6V174.3H235.0M217.8 158.1H214.1V173.4H232.6M235.0 176.5H234.0V177.2H235.0M235.0 177.9H234.0V178.6H235.0M234.0 176.9H233.0V178.3H234.0M235.0 175.8H232.7V177.6H233.0M235.0 175.1H232.2V176.7H232.7M214.1 165.8H213.8V175.9H232.2"/>
<line x1="211.5" y1="132.8" x2="211.5" y2="150.0" stroke="#555" stroke-width="0.3" />
<path stroke="#e5a7ac" stroke-width="13" transform="scale(.1)" d="M2498 1086h13m627 0h13m91 0h26m-130 13h13m470 0h13m-379 13h13m-248 13h13m-13 13h13m105 0h13m91 0h26m261 0h13m-1044 13h13m731 0h26m353 0h13m-379 13h13m-770 13h13m627 0h13m91 0h13m65 0h13m288 0h13m-379 13h13m353 0h13m-392 13h26m353 0h13m-1057 13h13m430 0h13m209 0h26m353 0h13m-1057 12h13m652 0h13m-678 13h13m652 0h13m65 0h13m-756 13h13m652 13h13m-13 13h13m65 0h13m-78 26h13m-248 13h13m209 0h13m-757 13h13m509 0h13m-78 13h13m287 0h13m431 0h13m-470 13h26m52 0h13m353 0h13m-809 12h13m339 0h13m-313 13h26m274 0h13m-13 13h13m-796 13h13m26 0h13m509 0h13m105 0h13m261 0h26m91 0h13m13 0h13m118 0h26m-1266 13h26m26 0h13m26 0h13m13 0h13m744 0h13m183 0h39m66 0h13m52 0h13m-1240 13h13m26 0h13m26 0h26m692 0h13m52 0h13m79 0h26m78 0h26m144 0h13m-1162 13h39m53 0h13m613 0h13m144 0h13m78 0h13m13 0h39m39 0h26m53 0h13m-1253 13h13m39 0h13m379 0h13m235 0h13m274 0h13m78 0h13m13 0h13m131 0h26m-1266 13h26m26 0h13m39 0h26m666 0h13m157 0h13m78 0h13m13 0h13m-1096 13h26m144 0h13m391 0h13m379 0h13m78 0h26m26 0h13m39 0h26m53 0h26m-1266 13h13m78 0h13m588 0h13m91 0h26m52 0h13m79 0h26m65 0h52m131 0h13m-1240 12h13m78 0h26m836 0h13m91 0h39m66 0h13m65 0h13m-1266 13h26m666 0h13m352 0h13m13 0h13m144 0h13m-1253 13h26m26 0h13m26 0h13m79 0h13m235 0h13m248 0h13m91 0h13m170 0h13m104 0h13m52 0h13m66 0h26m-1266 13h13m78 0h13m13 0h13m40 0h13m509 0h13m91 0h26m157 0h13m78 0h65m105 0h13m-1240 13h13m26 0h13m52 0h13m562 0h13m91 0h26m157 0h13m78 0h52m53 0h13m-1188 13h13m39 0h13m26 0h13m13 0h26m27 0h13m626 0h13m235 0h13m13 0h13m26 0h13m-1018 13h13m679 0h13m248 0h39m131 0h13m-1201 13h13m52 0h13m53 0h13m770 0h13m78 0h13m39 0h13m-1109 13h13m666 0h13m261 0h26m91 0h26m13 0h13m105 0h13m-1253 13h26m26 0h13m52 0h13m562 0h13m274 0h13m65 0h26m170 0h13m-1266 13h26m940 0h13m78 0h39m-1044 12h13m914 0h13m91 0h13m157 0h13m-209 13h65m-939 13h13m926 0h13m118 0h13m-1149 13h13m588 0h13m391 0h13m105 0h13m-822 13h13m274 0h13m378 0h13m118 0h13m-1136 13h13m301 0h13m352 0h13m300 0h26m105 0h26m-157 13h13m118 0h13m-1136 13h13m301 0h13m-327 13h13m992 0h13m105 0h13m-1083 13h13m770 0h13m-783 13h13m926 0h13m118 0h13"/>
<path stroke="#eec4c8" stroke-width="13" transform="scale(.1)" d="M2590 1086h13m78 0h13m326 0h13m287 0h13m209 0h13m66 0h13m13 0h13m39 0h13m-1214 13h13m79 0h26m404 0h13m144 0h13m52 0h26m52 0h13m131 0h13m39 0h39m-1057 13h13m509 0h13m52 0h13m40 0h13m26 0h13m26 0h13m13 0h13m65 0h13m66 0h13m26 0h13m52 0h39m79 0h26m-1149 13h13m300 0h13m314 0h13m39 0h13m39 0h26m52 0h13m131 0h13m39 0h39m66 0h13m26 0h13m-1227 13h13m39 0h13m809 0h13m170 0h13m26 0h13m39 0h39m-1030 13h13m287 0h13m104 0h13m105 0h13m169 0h13m274 0h13m-1122 13h13m274 0h13m105 0h13m104 0h13m105 0h13m91 0h13m65 0h13m353 0h13m-822 13h13m13 0h26m13 0h13m13 0h13m39 0h13m222 0h13m196 0h13m117 0h13m-1109 13h13m196 0h13m300 0h13m105 0h13m91 0h13m65 0h13m40 0h13m287 0h13m-1188 13h13m496 0h26m39 0h13m53 0h13m117 0h13m39 0h13m248 0h13m-1096 13h13m627 0h13m39 0h13m117 0h13m27 0h13m52 0h13m-940 12h13m627 0h13m104 0h13m52 0h13m53 0h13m222 0h13m52 0h13m-1201 13h13m222 0h13m52 0h13m144 0h13m117 0h13m40 0h13m104 0h13m65 0h13m275 0h13m13 0h13m-1162 13h13m627 0h13m91 0h13m-757 13h13m183 0h13m313 0h13m79 0h13m13 0h13m104 0h13m52 0h13m105 0h13m13 0h13m13 0h13m118 0h13m-1005 13h13m378 0h13m79 0h13m13 0h13m104 0h13m-770 13h13m209 0h13m39 0h13m235 0h13m105 0h13m91 0h26m52 0h13m248 0h13m-1109 13h26m509 0h13m105 0h13m91 0h13m65 0h13m13 0h13m92 0h13m91 0h13m79 0h13m-1162 13h26m183 0h13m379 0h13m26 0h13m104 0h13m39 0h39m144 0h13m-926 13h26m169 0h13m248 0h13m92 0h13m91 0h26m52 0h13m-874 13h13m170 0h13m378 0h13m196 0h13m65 0h26m-665 13h13m405 0h13m104 0h13m-574 12h13m209 0h13m365 0h13m52 0h13m261 0h13m-1096 13h13m79 0h13m143 0h13m483 0h13m52 0h13m222 0h13m-1096 13h13m105 0h13m91 0h13m222 0h13m222 0h13m78 0h13m39 0h26m-887 13h13m65 0h13m26 0h26m40 0h13m104 0h13m118 0h26m261 0h13m65 0h26m222 0h13m13 0h13m13 0h13m13 0h13m26 0h26m79 0h13m-1148 13h13m26 0h26m235 0h26m261 0h13m65 0h26m170 0h13m52 0h13m39 0h26m66 0h13m-1214 13h13m52 0h13m39 0h26m27 0h26m235 0h13m274 0h13m65 0h13m248 0h13m39 0h26m26 0h26m-1187 13h26m26 0h13m105 0h13m261 0h13m143 0h13m105 0h13m65 0h13m65 0h13m183 0h13m39 0h13m-1122 13h13m78 0h39m27 0h26m522 0h13m39 0h13m13 0h26m52 0h13m170 0h13m39 0h26m26 0h26m-1122 13h13m53 0h13m26 0h26m143 0h13m92 0h13m261 0h13m78 0h13m52 0h13m209 0h52m13 0h26m53 0h13m-1201 13h13m26 0h26m14 0h13m39 0h13m235 0h26m261 0h13m65 0h26m52 0h13m144 0h13m39 0h26m13 0h13m79 0h13m-1214 13h13m26 0h13m52 0h13m40 0h26m182 0h13m40 0h26m196 0h13m52 0h13m91 0h13m26 0h13m40 0h13m65 0h13m104 0h26m26 0h39m-1200 12h13m118 0h13m26 0h26m235 0h26m261 0h13m65 0h26m235 0h13m39 0h26m26 0h13m-1057 13h26m27 0h26m235 0h26m65 0h13m144 0h13m104 0h26m248 0h13m26 0h26m26 0h13m-1070 13h26m14 0h13m13 0h13m261 0h13m196 0h13m52 0h13m78 0h13m261 0h13m13 0h26m40 0h13m39 0h13m-1227 13h13m26 0h13m66 0h13m39 0h13m235 0h26m261 0h13m261 0h13m52 0h13m91 0h26m-1187 13h13m26 0h13m52 0h13m14 0h13m26 0h26m156 0h13m66 0h26m261 0h13m91 0h13m222 0h13m52 0h13m26 0h13m79 0h13m-1253 13h13m157 0h13m130 0h13m92 0h26m261 0h13m65 0h13m261 0h13m157 0h13m-1253 13h26m26 0h13m66 0h13m13 0h26m248 0h26m235 0h13m13 0h13m13 0h13m39 0h13m222 0h13m65 0h26m26 0h13m-1174 13h26m105 0h13m26 0h13m248 0h26m261 0h13m209 0h13m78 0h13m39 0h26m13 0h13m118 0h13m-1266 13h13m39 0h13m52 0h39m14 0h26m104 0h13m118 0h26m130 0h13m118 0h13m274 0h13m52 0h13m170 0h13m-1135 13h13m26 0h26m248 0h13m78 0h13m105 0h13m52 0h13m352 0h13m13 0h26m105 0h13m-1136 13h26m27 0h39m78 0h13m131 0h26m65 0h13m157 0h13m13 0h13m91 0h13m196 0h13m52 0h39m-1135 12h26m91 0h26m27 0h26m13 0h13m209 0h26m235 0h13m13 0h13m326 0h13m26 0h26m92 0h13m39 0h13m-1162 13h13m40 0h26m248 0h13m143 0h13m105 0h13m52 0h13m65 0h13m105 0h26m117 0h13m92 0h13m-1240 13h13m104 0h13m40 0h13m91 0h13m144 0h26m652 0h13m118 0h13m-1083 13h26m235 0h26m52 0h13m313 0h13m261 0h13m131 0h26m-1162 13h13m53 0h13m248 0h13m274 0h13m91 0h13m274 0h13m-965 13h26m26 0h13m209 0h13m235 0h26m65 0h13m91 0h13m-822 13h13m26 0h13m40 0h26m248 0h13m261 0h13m169 0h13m209 0h13m13 0h13m40 0h13m-1044 13h26m143 0h13m92 0h13m652 0h26m105 0h26m-1122 13h13m13 0h26m143 0h13m79 0h26m78 0h13m13 0h13m144 0h26m365 0h13m13 0h13m-965 13h13m522 0h13m52 0h13m326 0h13m66 0h26m13 0h13m-1083 13h13m417 0h13m40 0h13m39 0h26m274 0h13m91 0h13m118 0h13"/>
<path stroke="#cacdf0" stroke-width="13" transform="scale(.1)" d="M2694 1086h13m13 0h13m91 0h13m327 0h13m104 0h26m-835 13h13m92 0h13m104 0h13m78 0h13m26 0h26m444 0h13m-483 13h26m431 0h39m53 0h13m-562 13h13m562 0h39m-901 13h13m274 0h26m379 0h13m39 0h26m-483 13h26m27 0h13m391 0h26m105 0h13m13 0h13m-796 13h13m156 0h26m444 0h13m-744 13h13m14 0h13m221 0h26m431 0h13m-470 13h26m431 0h26m-496 13h39m105 0h13m313 0h39m-678 13h13m117 0h13m39 0h26m262 0h13m156 0h39m-496 12h26m105 0h13m78 0h13m222 0h26m92 0h13m-588 13h26m444 0h13m-483 13h26m222 0h13m92 0h13m-705 13h13m326 0h26m431 0h26m-483 13h26m431 0h26m-417 13h13m156 0h26m209 0h13m-796 13h13m92 0h13m195 0h26m235 0h13m183 0h13m-600 13h13m131 0h13m430 0h26m-744 13h13m248 0h26m744 0h13m-900 13h13m352 0h13m275 0h39m169 0h13m-848 13h13m861 0h13m-926 12h13m91 0h13m196 0h13m653 0h13m39 0h13m-1214 13h13m105 0h13m39 0h13m117 0h13m379 0h13m39 0h13m79 0h13m104 0h13m-927 13h13m875 0h13m-770 13h13m352 0h26m118 0h13m65 0h13m105 0h13m-731 13h26m352 0h39m196 0h13m26 0h13m27 0h13m78 0h13m-796 13h26m13 0h13m326 0h39m366 0h26m235 0h13m-1057 13h13m39 0h13m235 0h13m65 0h39m366 0h13m-796 13h26m352 0h39m196 0h13m157 0h13m-796 13h26m39 0h13m13 0h13m274 0h39m27 0h13m143 0h13m-613 13h13m378 0h26m27 0h13m-457 13h26m352 0h13m13 0h13m183 0h13m170 0h13m-966 12h26m144 0h26m196 0h13m143 0h39m105 0h13m78 0h13m353 0h13m-1162 13h26m287 0h13m222 0h26m379 0h13m-966 13h26m522 0h13m-561 13h13m170 0h13m352 0h26m209 0h13m-796 13h26m157 0h13m365 0h26m196 0h13m157 0h13m104 0h13m-1083 13h26m522 0h39m53 0h13m300 0h13m-966 13h26m535 0h26m196 0h13m53 0h13m91 0h13m-966 13h26m157 0h13m65 0h13m157 0h13m13 0h13m91 0h26m183 0h26m92 0h13m-901 13h13m157 0h26m91 0h13m27 0h13m65 0h13m130 0h13m13 0h13m196 0h13m157 0h13m-966 13h26m144 0h26m26 0h13m313 0h13m79 0h13m104 0h26m-783 13h26m157 0h13m13 0h13m222 0h13m91 0h39m196 0h13m-796 12h13m157 0h26m78 0h13m13 0h13m14 0h13m91 0h13m104 0h26m-404 13h26m365 0h26m40 0h13m-327 13h13m235 0h26m301 0h13m52 0h13m-783 13h13m352 0h13m13 0h13m27 0h13m274 0h26m26 0h13m-1018 13h13m600 0h26m248 0h13m53 0h26m26 0h13m-692 13h13m26 0h13m222 0h39m327 0h13m26 0h13m-418 13h13m13 0h13m314 0h26m26 0h13m-966 13h13m131 0h13m378 0h13m13 0h26m53 0h13m-235 13h13m117 0h26m-587 13h13m574 0h26m-443 13h13m391 0h13m40 0h13m535 0h13m26 0h13"/>
<path stroke="#e5e6f8" stroke-width="13" transform="scale(.1)" d="M2707 1086h13m118 0h13m561 0h13m-144 13h13m131 13h13m-600 13h13m208 13h13m405 13h13m-196 26h13m-365 13h13m-352 90h13m208 13h26m431 0h13m-470 26h13m-195 51h13m26 39h13m104 0h13m274 0h13m366 0h13m-809 39h13m13 0h13m496 13h13m-117 13h13m-418 13h13m352 0h13m0 13h13m-169 12h13m-235 13h13m378 0h13m301 0h13m-340 13h26m366 0h13m-953 13h13m548 0h13m366 0h13m-418 13h13m-287 13h13m261 13h13m653 0h13m-679 13h13m-548 13h13m535 0h13m-13 13h26m-417 13h13m-170 12h13m548 0h13m118 0h13m235 0h13m-418 13h13m274 0h13m-130 26h13m-639 13h13m52 0h13m209 65h13m156 0h13m392 0h13"/>
<path stroke="#ca4f5a" stroke-width="13" transform="scale(.1)" d="M2942 1099h13m65 129h13m-496 13h13m-13 26h13m392 26h13m-26 13h13m679 0h13m-692 13h13m-509 39h13m379 12h13m91 0h13m457 0h13m-587 13h13m469 155h13m-313 26h13m287 13h13m-783 13h13m757 0h13m-783 13h13m679 0h13m65 0h13m-796 13h13m1084 0h13m-392 13h13m52 0h13m288 0h13m-614 13h13m287 0h13m-13 12h13m-313 26h13m222 26h13m248 0h13m-26 13h13m26 0h13m-26 13h26m-535 13h13m209 0h26m131 0h13m104 0h13m-1070 26h13m470 0h26m-418 13h13m366 0h13"/>
<path stroke="#f6e2e4" stroke-width="13" transform="scale(.1)" d="M3503 1099h13m26 13h13m-52 13h13m0 13h13m-274 116h13m52 0h13m-835 26h13m105 129h13m691 0h13m274 13h13m-730 13h13m-326 13h13m287 0h13m-13 13h13m-13 13h13m-327 13h13m1 13h13m574 25h13m444 0h13m-1057 13h13m965 39h13m-939 13h13m913 26h13m-691 13h13m678 25h13m-704 13h13m274 13h13m-561 26h13m535 13h13m-300 13h13m274 13h13m378 26h13"/>
<path stroke="#b0b4e8" stroke-width="13" transform="scale(.1)" d="M2694 1112h13m-13 13h13m574 0h26m-613 13h13m574 26h13m-13 77h13m-13 13h26m-13 52h13m-26 26h26m-496 26h13m-13 12h13m-13 13h13m549 0h13m-105 52h13m0 13h13m157 26h13m-183 13h13m157 0h13m-196 25h13m170 0h13m-796 13h13m587 0h13m-613 13h26m574 0h26m-626 13h13m587 0h13m287 0h26m-926 13h13m587 0h13m300 0h13m-926 13h26m574 0h26m-626 13h26m-26 13h13m91 0h13m26 0h26m614 0h13m-196 13h13m-522 13h26m26 0h13m627 0h13m-705 13h26m26 0h26m614 0h13m-196 12h26m157 13h13m-796 13h13m365 0h13m-234 13h13m221 0h13m-261 13h26m209 0h13m-391 13h13m718 0h13m-744 13h26m117 0h26m222 0h13m-26 13h13m392 0h13m-796 13h13m391 0h13m366 0h13m-796 13h13m378 0h13m222 0h13m-326 13h13m457 0h13"/>
<path stroke="#dc8a91" stroke-width="13" transform="scale(.1)" d="M2942 1112h13m666 52h13m-692 64h13m78 0h13m-13 13h13m-13 13h13m575 0h13m-1057 13h13m-53 78h13m-91 13h13m470 0h26m-431 12h13m405 0h13m718 13h13m-757 13h26m718 0h13m-1162 13h26m940 0h13m-966 13h13m457 0h13m105 0h13m261 0h26m261 0h13m-692 13h13m105 0h13m391 0h13m144 0h13m-692 13h13m105 0h13m274 0h13m261 0h13m-1175 13h13m862 0h13m104 0h13m-1005 13h13m875 0h13m78 0h13m170 0h13m-574 13h13m274 0h13m-888 13h13m457 0h13m666 0h13m-1214 12h13m26 0h13m588 0h13m274 0h13m248 0h13m-1201 13h13m26 0h26m849 0h26m104 0h13m144 0h13m-300 13h13m78 0h26m-979 13h13m849 0h13m-888 13h13m770 0h13m79 0h13m261 0h13m-1149 13h13m575 0h13m261 0h26m104 0h13m-143 13h26m65 0h13m183 0h13m-574 13h13m274 0h13m78 0h13m157 0h13m-679 13h13m222 0h13m235 0h13m-104 13h13m117 0h13m79 0h13m-1149 13h13m39 0h13m679 0h13m170 0h13m248 0h26m-457 12h13m144 0h13m91 0h13m157 0h13m-457 13h26m144 0h13m261 0h26m-470 26h13m248 0h13m183 13h13m-183 13h13m157 13h13m-300 13h13m-13 13h13m274 0h13m-300 13h13m274 0h13m-757 13h13"/>
<path stroke="#b91423" stroke-width="13" transform="scale(.1)" d="M2577 1177h13m-53 39h13m-13 12h13m979 13h26m-1018 13h13m470 0h13m-91 52h13m-26 13h13m679 0h13m-222 26h13m-574 13h13m548 0h26m-587 25h13m548 0h26m183 194h13m0 13h13m-1110 52h13m1084 0h13m-627 12h13m509 39h13m-52 52h13m26 13h13m-1109 13h13m91 0h39m-143 13h13"/>
<path stroke="#c2313e" stroke-width="13" transform="scale(.1)" d="M2577 1190h13m926 51h13m-600 52h13m679 0h13m-1188 77h26m953 0h13m-118 142h13m-13 13h13m-313 26h13m-496 39h13m1071 13h13m-13 13h13m-1097 13h26m1058 13h13m-1097 12h26m679 26h13m-235 13h13m483 0h26m0 13h13m-535 13h13m-13 13h13m470 0h13m13 13h13m-39 13h13m13 0h13m-1005 13h13m-13 13h13m13 0h13m366 0h13"/>
<path stroke="#d36c76" stroke-width="13" transform="scale(.1)" d="M2942 1241h13m65 0h13m144 0h13m313 0h13m-574 104h13m470 0h13m248 0h13m-1162 13h13m288 0h13m39 0h13m796 0h13m-861 12h13m822 0h26m-822 13h13m796 0h13m-874 13h26m835 0h13m-692 65h13m-13 13h13m105 0h13m-131 38h13m-13 13h13m-13 13h13m287 13h13m366 0h13m-692 26h13m601 0h13m52 0h13m-692 13h13m588 0h13m-1097 13h13m470 0h13m222 0h13m366 0h13m-1097 13h13m679 0h13m65 0h13m-313 13h13m209 0h13m0 13h13m-26 12h13m0 26h13m-13 13h13m-248 13h13m209 0h13m248 0h13m13 0h13m-287 13h13m248 0h13m-287 13h26m248 0h13m13 13h13m-156 13h13m104 0h13m-600 13h13m-483 13h13m105 0h13"/>
<path stroke="#6269d2" stroke-width="13" transform="scale(.1)" d="M3360 1358h13"/>
<path stroke="#969be1" stroke-width="13" transform="scale(.1)" d="M3373 1358h13m-26 12h13m-79 39h13m-26 13h13m0 13h13m-26 13h13m-13 13h13m0 13h13m-26 13h13m0 13h13m-13 25h13m340 39h13m-13 13h13m-379 13h13m-522 26h26m26 0h13m1 13h13m443 0h13m-26 13h13m-522 12h13m39 0h13m-13 13h26m-156 13h13m131 0h13m-170 13h13m130 0h13m-156 13h26m-13 13h13m131 0h13m-170 26h26m-13 13h13m287 0h13m287 0h26m-626 13h13m287 0h13m-326 13h26"/>
<path stroke="#7c82da" stroke-width="13" transform="scale(.1)" d="M3373 1370h13m248 194h13m-353 207h13m-13 13h26"/>
<path stroke="#888" stroke-width="0.5" fill="none" d="M254.2 108.0V179.0M259 108.0V179.0M268.5 108.0V179.0M275.6 108.0V179.0M280.3 108.0V179.0M286.3 108.0V179.0M293.9 108.0V179.0M299.2 108.0V179.0M304.6 108.0V179.0M309.4 108.0V179.0M314.3 108.0V179.0M322.5 108.0V179.0M325.4 108.0V179.0M330 108.0V179.0M333 108.0V179.0M337.8 108.0V179.0M339.7 108.0V179.0M348.3 108.0V179.0M356.8 108.0V179.0M359.6 108.0V179.0M368.1 108.0V179.0M372.6 108.0V179.0"/>
<rect x="329.80" y="108.00" width="2.90" height="71.00" fill="#b8b8b8" opacity="0.5"/>
<line x1="244.6" y1="116.6" x2="373.8" y2="116.6" stroke="#8c8c8c" stroke-width="0.6" />
<line x1="244.6" y1="120.0" x2="373.8" y2="120.0" stroke="#8c8c8c" stroke-width="0.5" />
<line x1="244.6" y1="127.3" x2="373.8" y2="127.3" stroke="#8c8c8c" stroke-width="0.8" />
<line x1="244.6" y1="129.7" x2="373.8" y2="129.7" stroke="#8c8c8c" stroke-width="0.5" />
<line x1="244.6" y1="133.2" x2="373.8" y2="133.2" stroke="#7a7a7a" stroke-width="1.9" />
<line x1="244.6" y1="140.4" x2="373.8" y2="140.4" stroke="#8c8c8c" stroke-width="0.6" />
<line x1="244.6" y1="166.5" x2="373.8" y2="166.5" stroke="#8c8c8c" stroke-width="1.4" />
<line x1="244.6" y1="171.0" x2="373.8" y2="171.0" stroke="#8c8c8c" stroke-width="0.5" />
<line x1="244.6" y1="175.2" x2="373.8" y2="175.2" stroke="#8c8c8c" stroke-width="0.6" />
<text x="376.9" y="144.5" font-size="2.8" text-anchor="middle" fill="#555" transform="rotate(90 376.9 144.5)">Observation Cells</text>
<text x="309.6" y="183.2" font-size="2.8" text-anchor="middle" fill="#555" >Genomic Region</text>
<rect x="244.60" y="215.60" width="15.20" height="1.60" fill="#7fd3c0" />
<rect x="259.80" y="215.60" width="7.20" height="1.60" fill="#b8e0a8" />
<rect x="267.00" y="215.60" width="9.60" height="1.60" fill="#ece47a" />
<rect x="276.60" y="215.60" width="2.40" height="1.60" fill="#e8e8e8" />
<rect x="279.00" y="215.60" width="21.60" height="1.60" fill="#f08a86" />
<rect x="300.60" y="215.60" width="9.90" height="1.60" fill="#c8c8e0" />
<rect x="310.50" y="215.60" width="21.00" height="1.60" fill="#e8d070" />
<rect x="331.50" y="215.60" width="14.80" height="1.60" fill="#d0e0c0" />
<rect x="346.30" y="215.60" width="19.70" height="1.60" fill="#c0a8d8" />
<rect x="366.00" y="215.60" width="3.80" height="1.60" fill="#ececec" />
<rect x="369.80" y="215.60" width="4.00" height="1.60" fill="#ede86a" />
<rect x="241.00" y="218.40" width="2.20" height="70.60" fill="#6fcfb7" />
<rect x="238.20" y="218.40" width="1.80" height="70.60" fill="#6fcfb7" />
<rect x="233.60" y="218.40" width="3.60" height="70.60" fill="#111" />
<path fill="none" stroke="#222" stroke-width="0.3" d="M237.0 219.1H236.2V219.4H237.0M237.0 220.0H236.2V220.3H237.0M237.0 219.7H235.8V220.2H236.2M236.2 219.3H235.5V219.9H235.8M237.0 218.8H235.1V219.6H235.5M237.0 218.5H234.9V219.2H235.1M237.0 220.9H236.2V221.2H237.0M237.0 221.5H236.2V221.8H237.0M236.2 221.0H235.7V221.6H236.2M237.0 222.7H236.2V223.0H237.0M237.0 222.4H235.9V222.8H236.2M237.0 222.1H235.6V222.6H235.9M235.7 221.3H234.8V222.3H235.6M237.0 220.6H234.6V221.8H234.8M237.0 223.3H236.2V223.5H237.0M237.0 224.4H236.1V224.7H237.0M237.0 224.1H235.9V224.6H236.1M237.0 223.8H235.6V224.4H235.9M236.2 223.4H235.1V224.1H235.6M235.1 223.8H234.9V225.0H237.0M234.6 221.2H233.4V224.4H234.9M234.9 218.9H232.1V222.8H233.4M237.0 225.9H236.2V226.2H237.0M237.0 225.6H236.0V226.0H236.2M237.0 225.3H235.7V225.8H236.0M237.0 226.5H236.1V226.8H237.0M237.0 227.1H236.2V227.4H237.0M236.1 226.6H235.7V227.2H236.2M235.7 226.9H235.5V227.7H237.0M235.5 227.3H235.1V228.0H237.0M235.1 227.6H234.9V228.3H237.0M235.7 225.6H234.3V227.9H234.9M237.0 228.8H236.2V229.1H237.0M236.2 229.0H235.9V229.4H237.0M237.0 228.5H235.6V229.2H235.9M237.0 229.7H236.2V230.0H237.0M237.0 230.3H236.1V230.6H237.0M237.0 231.8H236.2V232.1H237.0M237.0 231.5H235.8V231.9H236.2M237.0 232.7H236.2V233.0H237.0M237.0 232.4H235.9V232.8H236.2M235.8 231.7H235.3V232.6H235.9M237.0 231.2H235.0V232.2H235.3M237.0 230.9H234.8V231.7H235.0M236.1 230.5H234.3V231.3H234.8M236.2 229.9H234.0V230.9H234.3M235.6 228.9H233.5V230.4H234.0M234.3 226.8H232.0V229.6H233.5M232.1 220.8H228.7V228.2H232.0M237.0 233.5H236.1V233.8H237.0M237.0 234.4H236.2V234.7H237.0M237.0 234.1H235.9V234.6H236.2M237.0 235.0H236.1V235.3H237.0M237.0 235.6H236.2V235.9H237.0M237.0 237.1H236.2V237.4H237.0M237.0 236.8H235.9V237.2H236.2M237.0 236.5H235.6V237.0H235.9M237.0 236.2H235.4V236.7H235.6M236.2 235.8H235.1V236.5H235.4M235.1 236.1H234.7V237.7H237.0M236.1 235.2H234.4V236.9H234.7M235.9 234.4H234.0V236.0H234.4M236.1 233.7H233.7V235.2H234.0M237.0 238.0H236.2V238.3H237.0M237.0 238.6H236.1V238.8H237.0M236.2 238.1H235.7V238.7H236.1M233.7 234.4H232.8V238.4H235.7M237.0 233.3H232.5V236.4H232.8M237.0 240.0H236.2V240.3H237.0M237.0 239.7H235.8V240.2H236.2M237.0 239.4H235.6V239.9H235.8M237.0 240.6H236.1V240.9H237.0M237.0 241.5H236.2V241.8H237.0M237.0 241.2H235.9V241.6H236.2M236.1 240.8H235.5V241.4H235.9M235.6 239.7H234.8V241.1H235.5M234.8 240.4H234.5V242.1H237.0M237.0 239.1H234.1V241.2H234.5M237.0 242.4H236.2V242.7H237.0M237.0 243.0H236.2V243.3H237.0M237.0 243.8H236.2V244.1H237.0M237.0 243.6H235.9V244.0H236.2M236.2 243.1H235.4V243.8H235.9M236.2 242.5H235.0V243.4H235.4M237.0 245.0H236.1V245.3H237.0M237.0 244.7H235.9V245.2H236.1M237.0 244.4H235.6V244.9H235.9M235.6 244.7H235.3V245.6H237.0M235.0 243.0H233.9V245.2H235.3M234.1 240.2H232.7V244.1H233.9M237.0 245.9H236.2V246.2H237.0M232.7 242.1H232.4V246.1H236.2M237.0 246.8H236.2V247.1H237.0M237.0 247.4H236.2V247.7H237.0M236.2 246.9H235.6V247.5H236.2M237.0 246.5H235.3V247.2H235.6M237.0 248.0H236.1V248.3H237.0M235.3 246.9H234.9V248.1H236.1M232.4 244.1H231.6V247.5H234.9M237.0 248.8H236.2V249.1H237.0M237.0 248.6H235.8V249.0H236.2M237.0 249.7H236.2V250.0H237.0M237.0 249.4H235.8V249.9H236.2M235.8 248.8H235.3V249.7H235.8M237.0 250.3H236.2V250.6H237.0M237.0 250.9H236.2V251.2H237.0M236.2 250.5H235.7V251.1H236.2M237.0 251.5H236.1V251.8H237.0M237.0 252.4H236.1V252.7H237.0M237.0 252.1H235.8V252.5H236.1M236.1 251.6H235.5V252.3H235.8M237.0 253.0H236.1V253.3H237.0M237.0 253.8H236.1V254.1H237.0M237.0 253.6H235.9V254.0H236.1M236.1 253.1H235.5V253.8H235.9M235.5 252.0H234.4V253.4H235.5M235.7 250.8H233.9V252.7H234.4M237.0 254.7H236.1V255.0H237.0M237.0 254.4H235.9V254.9H236.1M233.9 251.7H233.3V254.7H235.9M235.3 249.2H232.3V253.2H233.3M232.3 251.2H232.1V255.3H237.0M237.0 256.2H236.2V256.5H237.0M237.0 255.9H235.9V256.3H236.2M237.0 255.6H235.6V256.1H235.9M237.0 256.8H236.2V257.1H237.0M237.0 257.4H236.2V257.7H237.0M236.2 256.9H235.6V257.5H236.2M237.0 258.0H236.1V258.3H237.0M235.6 257.2H235.3V258.1H236.1M235.6 255.9H234.5V257.7H235.3M237.0 258.6H236.2V258.8H237.0M237.0 259.4H236.2V259.7H237.0M237.0 259.1H236.0V259.6H236.2M236.2 258.7H235.4V259.4H236.0M237.0 260.0H236.2V260.3H237.0M237.0 260.6H236.2V260.9H237.0M236.2 260.2H235.6V260.8H236.2M235.6 260.5H235.3V261.2H237.0M235.4 259.0H234.6V260.8H235.3M237.0 261.5H236.1V261.8H237.0M237.0 262.1H236.1V262.4H237.0M236.1 261.6H235.6V262.2H236.1M237.0 263.3H236.2V263.6H237.0M237.0 263.0H235.9V263.4H236.2M237.0 262.7H235.6V263.2H235.9M235.6 261.9H235.0V262.9H235.6M234.6 259.9H233.4V262.4H235.0M237.0 264.7H236.1V265.0H237.0M237.0 264.4H235.8V264.9H236.1M237.0 265.6H236.1V265.9H237.0M237.0 265.3H235.9V265.8H236.1M235.8 264.7H235.1V265.5H235.9M237.0 264.1H234.9V265.1H235.1M237.0 266.2H236.1V266.5H237.0M237.0 266.8H236.2V267.1H237.0M236.1 266.3H235.6V266.9H236.2M235.6 266.6H235.3V267.4H237.0M237.0 267.7H236.2V268.0H237.0M237.0 268.3H236.1V268.6H237.0M236.2 267.8H235.7V268.4H236.1M235.7 268.1H235.5V268.8H237.0M235.3 267.0H234.5V268.5H235.5M234.9 264.6H233.6V267.7H234.5M237.0 263.8H233.2V266.2H233.6M233.4 261.2H230.3V265.0H233.2M234.5 256.8H229.1V263.1H230.3M229.1 259.9H228.9V269.1H237.0M232.1 253.3H226.4V264.5H228.9M231.6 245.8H224.5V258.9H226.4M232.5 234.8H222.9V252.3H224.5M228.7 224.5H217.8V243.6H222.9M237.0 270.0H236.1V270.3H237.0M237.0 269.7H235.9V270.2H236.1M237.0 269.4H235.6V270.0H235.9M237.0 271.5H236.2V271.8H237.0M237.0 271.2H235.9V271.6H236.2M237.0 270.9H235.7V271.4H235.9M237.0 272.4H236.2V272.7H237.0M237.0 273.0H236.1V273.3H237.0M236.2 272.5H235.7V273.1H236.1M235.7 272.8H235.4V273.6H237.0M237.0 272.1H235.1V273.2H235.4M235.1 272.6H234.9V273.9H237.0M234.9 273.2H234.6V274.1H237.0M234.6 273.7H234.4V274.4H237.0M237.0 274.7H236.2V275.0H237.0M234.4 274.1H234.1V274.9H236.2M235.7 271.2H233.8V274.5H234.1M237.0 270.6H233.5V272.8H233.8M237.0 275.3H236.2V275.6H237.0M237.0 276.2H236.2V276.5H237.0M237.0 275.9H235.9V276.4H236.2M236.2 275.5H235.5V276.1H235.9M237.0 277.1H236.2V277.4H237.0M237.0 277.7H236.2V278.0H237.0M236.2 277.2H235.7V277.8H236.2M237.0 278.3H236.1V278.6H237.0M236.1 278.4H235.9V278.9H237.0M235.7 277.5H234.9V278.6H235.9M237.0 276.8H234.6V278.1H234.9M235.5 275.8H234.1V277.4H234.6M237.0 280.0H236.1V280.3H237.0M237.0 279.7H235.8V280.2H236.1M237.0 280.9H236.2V281.2H237.0M237.0 280.6H235.8V281.1H236.2M235.8 280.0H235.1V280.8H235.8M237.0 279.4H234.9V280.4H235.1M237.0 279.1H234.6V279.9H234.9M237.0 281.8H236.2V282.1H237.0M237.0 283.0H236.2V283.3H237.0M237.0 282.7H235.9V283.1H236.2M237.0 282.4H235.7V282.9H235.9M236.2 281.9H235.3V282.6H235.7M237.0 281.5H235.0V282.3H235.3M237.0 283.6H236.2V283.9H237.0M237.0 284.1H236.2V284.4H237.0M236.2 283.7H235.6V284.3H236.2M237.0 285.3H236.1V285.6H237.0M237.0 285.0H235.9V285.5H236.1M237.0 285.9H236.2V286.2H237.0M236.2 286.1H235.9V286.5H237.0M235.9 285.2H235.3V286.3H235.9M237.0 284.7H234.9V285.8H235.3M235.6 284.0H234.5V285.2H234.9M235.0 281.9H233.3V284.6H234.5M237.0 286.8H236.1V287.1H237.0M237.0 287.4H236.1V287.7H237.0M237.0 288.3H236.2V288.6H237.0M237.0 288.0H236.0V288.4H236.2M236.1 287.5H235.4V288.2H236.0M235.4 287.9H235.1V288.9H237.0M236.1 286.9H234.9V288.4H235.1M233.3 283.3H232.4V287.6H234.9M234.6 279.5H230.8V285.5H232.4M234.1 276.6H229.3V282.5H230.8M233.5 271.7H228.4V279.6H229.3M235.6 269.7H226.6V275.6H228.4M217.8 234.1H211.5V272.7H226.6"/>
<path stroke="#eec4c8" stroke-width="13" transform="scale(.1)" d="M2446 2190h26m274 0h13m39 0h26m118 0h13m144 0h13m117 0h26m235 0h26m13 0h13m26 0h13m40 0h13m39 0h26m-1240 14h13m222 0h13m235 0h26m131 0h13m117 0h26m65 0h13m157 0h65m13 0h13m26 0h13m40 0h26m-1240 13h13m483 0h26m131 0h13m65 0h13m26 0h39m274 0h13m79 0h13m39 0h26m-901 13h26m105 0h13m13 0h13m157 0h13m91 0h26m105 0h13m130 0h26m13 0h13m52 0h39m27 0h26m-1253 13h26m235 0h13m144 0h13m78 0h13m144 0h13m39 0h26m26 0h13m13 0h13m105 0h13m117 0h26m13 0h26m105 0h26m-1240 13h26m196 0h13m26 0h13m91 0h13m40 0h13m65 0h13m196 0h13m130 0h13m66 0h13m26 0h13m26 0h13m26 0h13m13 0h39m52 0h26m40 0h13m-1188 13h13m157 0h13m117 0h52m92 0h13m235 0h13m39 0h13m248 0h52m52 0h26m27 0h39m-1253 13h39m26 0h13m235 0h13m170 0h13m26 0h13m105 0h13m130 0h13m144 0h13m78 0h39m13 0h13m52 0h26m27 0h39m-1240 13h13m470 0h26m157 0h13m91 0h26m352 0h13m-1174 13h13m104 0h26m353 0h26m65 0h26m170 0h26m144 0h13m104 0h26m79 0h13m39 0h26m-1253 13h13m483 0h26m144 0h13m104 0h26m144 0h13m26 0h13m52 0h39m79 0h13m26 0h13m13 0h13m-1253 13h26m470 0h26m131 0h13m117 0h13m170 0h13m65 0h39m13 0h13m52 0h26m27 0h26m-1240 13h52m65 0h26m405 0h13m222 0h26m144 0h13m13 0h13m52 0h13m26 0h26m52 0h26m40 0h13m-1240 13h26m13 0h13m39 0h13m27 0h13m221 0h13m170 0h13m92 0h13m13 0h13m104 0h13m52 0h13m301 0h13m26 0h39m-1201 14h13m52 0h26m66 0h13m431 0h13m78 0h13m26 0h26m144 0h13m195 0h13m40 0h26m26 0h13m-1279 13h13m104 0h26m14 0h13m182 0h13m53 0h13m352 0h13m52 0h13m66 0h13m221 0h39m14 0h39m-1253 13h26m26 0h13m52 0h13m209 0h13m301 0h13m130 0h13m379 0h13m13 0h26m-1240 13h13m39 0h13m52 0h26m40 0h13m522 0h13m65 0h13m352 0h26m27 0h13m13 0h13m-1240 13h13m65 0h13m13 0h39m196 0h13m118 0h13m157 0h13m117 0h13m144 0h13m222 0h13m26 0h13m13 0h13m-1240 13h13m105 0h13m208 0h26m14 0h13m195 0h13m183 0h13m118 0h13m221 0h26m27 0h39m-1253 13h13m118 0h13m130 0h13m26 0h13m39 0h13m405 0h13m365 0h13m53 0h26m-1253 13h26m105 0h26m65 0h13m130 0h13m27 0h13m78 0h26m91 0h13m170 0h13m91 0h13m248 0h26m40 0h26m-1253 13h26m91 0h13m262 0h13m91 0h39m39 0h13m66 0h13m117 0h13m379 0h13m39 0h26m-1253 13h39m78 0h52m183 0h13m131 0h26m131 0h13m130 0h13m65 0h13m274 0h26m27 0h13m13 0h13m13 0h26m-1279 13h13m91 0h13m144 0h13m222 0h13m131 0h13m130 0h13m352 0h13m40 0h26m-1240 13h26m39 0h13m39 0h26m14 0h13m195 0h13m131 0h13m131 0h13m26 0h13m78 0h26m352 0h26m27 0h39m-1253 13h26m91 0h26m118 0h13m78 0h13m248 0h13m105 0h13m470 0h13m13 0h13m-1253 14h26m105 0h13m182 0h13m13 0h26m118 0h26m274 0h13m366 0h13m39 0h13m-1227 13h13m91 0h26m353 0h26m39 0h13m79 0h13m78 0h13m143 0h13m248 0h26m40 0h26m26 0h13m-1292 13h13m118 0h13m143 0h13m13 0h13m39 0h13m118 0h26m131 0h13m130 0h13m131 0h13m208 0h26m40 0h26m-1240 13h13m91 0h26m209 0h13m144 0h13m261 0h13m157 0h13m209 0h13m26 0h26m-1240 13h26m91 0h13m14 0h13m26 0h13m169 0h13m222 0h13m92 0h26m13 0h13m26 0h26m352 0h13m40 0h26m-1240 13h13m118 0h13m117 0h13m13 0h13m92 0h13m91 0h26m261 0h13m365 0h26m40 0h26m-1253 13h26m91 0h13m79 0h13m104 0h13m144 0h39m91 0h13m170 0h13m339 0h26m40 0h13m13 0h13m-1122 13h13m52 0h13m13 0h13m170 0h26m65 0h13m78 0h13m53 0h13m104 0h26m365 0h13m66 0h13m-1253 13h26m91 0h39m196 0h26m131 0h13m248 0h26m52 0h13m274 0h13m27 0h13m26 0h39m-1253 13h13m104 0h26m353 0h13m144 0h13m26 0h13m430 0h52m27 0h39m-1253 13h26m39 0h13m39 0h13m523 0h13m91 0h13m13 0h26m352 0h26m27 0h13m-1227 13h26m105 0h13m182 0h13m39 0h26m92 0h13m274 0h13m13 0h13m339 0h26m-1187 13h13m78 0h13m13 0h39m105 0h13m65 0h13m157 0h13m653 0h13m39 0h26m-1175 13h13m26 0h26m353 0h26m157 0h13m91 0h26m183 0h13m156 0h26m27 0h39m-1253 14h26m91 0h26m288 0h13m52 0h13m170 0h13m469 0h26m27 0h13m26 0h13m-1266 13h13m104 0h26m170 0h13m52 0h13m262 0h13m117 0h13m365 0h13m53 0h13m-1240 13h26m65 0h13m13 0h26m353 0h13m52 0h13m209 0h39m39 0h13m26 0h13m14 0h13m221 0h13m40 0h13m-1227 13h26m91 0h39m196 0h26m118 0h26m65 0h13m183 0h26m105 0h13m234 0h26m27 0h26m-1123 13h26m209 0h13m27 0h13m104 0h13m639 0h13m40 0h39m-1240 13h13m470 0h26m26 0h13m92 0h13m130 0h26m170 0h13m156 0h26m27 0h13m13 0h13m-1253 13h26m91 0h13m235 0h13m275 0h13m130 0h13m352 0h26m27 0h52m-1253 13h13m91 0h26m353 0h26m261 0h26m183 0h13m156 0h13m53 0h26m-1253 13h13m65 0h13m26 0h26m170 0h13m39 0h13m131 0h13m248 0h39m65 0h26m92 0h13m156 0h26m27 0h13m13 0h13m-1253 13h13m26 0h13m26 0h13m26 0h26m40 0h26m339 0h13m222 0h26m118 0h13m221 0h26m40 0h26m26 0h13m-1292 13h26m13 0h13m79 0h13m287 0h13m65 0h13m65 0h13m183 0h26m118 0h13m221 0h26m27 0h39m-1253 13h26m91 0h26m40 0h13m13 0h13m143 0h13m340 0h13m26 0h13m26 0h13m405 0h39m-1253 13h26m91 0h26m40 0h13m352 0h26m157 0h13m39 0h26m352 0h13m40 0h52"/>
<path stroke="#cacdf0" stroke-width="13" transform="scale(.1)" d="M2759 2190h13m118 0h13m13 0h13m156 0h13m157 0h26m300 0h13m-704 14h39m143 0h26m183 0h13m13 0h13m79 0h26m287 0h13m-835 13h39m143 0h26m40 0h13m130 0h13m-470 13h13m66 0h13m65 0h13m78 0h26m170 0h26m79 0h13m261 0h13m52 0h13m-1175 13h13m327 0h26m169 0h13m222 0h13m-743 13h13m287 0h39m143 0h26m79 0h13m78 0h26m-404 13h52m130 0h13m92 0h13m91 0h13m144 0h13m-561 13h26m156 0h26m340 0h13m-574 13h26m13 0h13m143 0h13m170 0h13m13 0h13m353 0h13m-1057 13h13m287 0h26m143 0h13m196 0h13m-430 13h13m13 0h13m13 0h13m156 0h13m170 0h13m-535 13h13m131 0h39m143 0h26m170 0h26m-404 13h26m169 0h13m170 0h13m131 0h13m-535 13h13m13 0h13m156 0h13m183 0h13m66 0h13m339 0h13m-1201 14h13m144 0h13m222 0h13m78 0h13m157 0h13m78 0h26m-665 13h13m39 0h26m209 0h13m156 0h13m170 0h26m170 0h13m-783 13h13m144 0h13m26 0h13m13 0h13m143 0h13m196 0h13m-691 13h13m65 0h13m209 0h26m143 0h13m-404 13h26m196 0h13m52 0h13m91 0h13m183 0h13m144 0h13m-535 13h26m143 0h26m170 0h13m313 0h13m-926 13h13m209 0h26m130 0h13m13 0h13m248 0h13m-743 13h13m52 0h26m183 0h26m156 0h26m170 0h13m52 0h13m-143 13h13m65 0h13m-404 13h39m156 0h13m170 0h26m79 0h13m-770 13h13m143 0h13m118 0h26m352 0h13m-822 13h13m157 0h13m235 0h13m169 0h26m170 0h26m118 0h13m156 0h13m-1057 13h13m66 0h13m117 0h13m313 0h13m196 0h13m52 0h13m340 0h13m-979 14h13m157 0h13m169 0h13m170 0h13m-796 13h13m52 0h13m183 0h13m144 0h26m143 0h13m-313 13h13m92 0h26m13 0h13m143 0h13m-195 13h13m13 0h13m156 0h13m353 0h13m-705 13h13m118 0h39m143 0h26m170 0h13m-731 13h13m340 0h13m156 0h13m196 0h13m-378 13h13m143 0h13m183 0h13m444 0h13m-979 13h13m131 0h13m78 0h13m78 0h13m483 0h13m-704 13h13m-261 13h13m169 0h13m79 0h13m156 0h13m183 0h13m-456 13h13m39 0h26m143 0h26m196 0h13m-404 13h26m169 0h13m183 0h13m-404 13h13m13 0h13m143 0h26m170 0h13m-809 13h13m353 0h13m52 0h39m365 0h13m79 0h13m-522 14h26m156 0h26m183 0h13m353 0h13m-1018 13h13m235 0h39m156 0h13m-208 13h13m13 0h13m143 0h26m183 0h13m-548 13h13m131 0h26m-13 13h26m39 0h13m91 0h26m-208 13h13m182 0h13m170 0h13m-509 13h13m79 0h13m13 0h13m13 0h13m143 0h26m183 0h13m-639 13h13m183 0h13m26 0h39m104 0h13m26 0h13m183 0h26m13 0h13m-822 13h13m379 0h39m156 0h13m170 0h13m-391 13h39m143 0h26m183 0h13m-822 13h13m405 0h13m13 0h13m352 0h13m-404 13h26m52 0h13m91 0h13m-195 13h13m13 0h13m130 0h26"/>
<path stroke="#b0b4e8" stroke-width="13" transform="scale(.1)" d="M2903 2190h13m156 0h13m-195 40h13m13 13h13m143 0h13m0 26h13m-195 26h13m169 0h13m366 0h13m-392 13h13m366 0h26m-587 13h13m156 0h13m-169 26h13m143 0h13m392 0h13m-587 13h13m156 0h13m-182 14h13m156 0h26m-208 13h26m156 0h13m-182 13h13m169 0h13m379 0h13m-405 13h13m-208 13h13m13 0h13m156 0h13m-208 13h13m169 13h13m-169 13h13m548 0h13m-796 13h13m183 0h13m13 0h13m143 0h26m379 0h13m-418 13h13m379 0h13m-783 13h13m365 0h26m379 0h13m-587 13h13m-26 13h39m156 0h13m-404 14h13m209 0h13m143 0h13m-195 13h13m182 0h13m366 0h13m-574 13h13m169 0h13m-26 13h13m-391 13h13m-26 13h13m222 0h13m156 0h13m366 0h13m-783 13h13m183 0h26m169 0h13m-208 13h13m13 0h13m143 0h13m392 0h13m-796 13h13m365 0h26m366 0h13m-796 13h26m183 0h26m156 0h13m-391 13h13m209 0h13m156 0h13m366 0h26m-796 13h13m209 0h13m535 0h26m-418 26h26m379 0h13m-574 14h13m535 0h13m-405 13h13m379 0h13m-13 13h13m-405 13h26m-208 13h13m0 13h26m143 0h13m379 0h26m-587 13h13m169 13h13m379 0h13m-796 13h13m365 0h13m392 0h13m-26 13h13m-796 13h13m378 0h26m-182 13h13m156 0h13m-13 13h13"/>
<path stroke="#f6e2e4" stroke-width="13" transform="scale(.1)" d="M2955 2190h13m548 0h13m-1083 14h13m339 0h26m-365 13h13m326 0h26m679 0h13m26 0h13m-1109 13h26m470 0h13m535 0h13m157 0h13m-875 13h26m118 0h13m666 0h13m52 0h13m-901 13h13m144 0h13m692 0h13m-1227 13h26m483 0h13m522 0h13m-705 13h26m705 0h13m-1096 13h13m104 0h26m209 0h26m679 0h13m157 0h13m-1227 13h13m326 0h26m679 0h13m26 0h13m52 0h13m-1161 13h13m91 0h13m222 0h26m666 0h13m39 0h13m52 0h13m53 0h13m-1123 13h26m209 0h26m705 0h13m-744 13h26m131 0h13m535 0h26m-966 13h13m222 0h13m-365 14h26m326 0h26m-365 13h13m339 0h13m-247 13h13m208 0h26m783 0h13m66 0h13m-1240 13h13m326 0h26m849 0h13m-1240 13h13m352 0h13m783 0h13m53 0h13m-1240 13h13m0 13h13m91 0h13m222 0h13m-13 13h13m-234 13h13m208 0h26m783 0h13m-809 13h13m-378 13h13m118 0h13m208 0h26m797 0h13m52 0h13m-901 13h13m0 13h13m118 0h13m652 0h13m-13 14h13m-1174 13h13m339 0h26m405 0h13m-783 13h13m91 0h13m222 0h13m-365 13h13m352 0h13m118 0h13m-378 13h13m208 0h13m131 0h13m666 0h13m-1175 13h13m326 0h26m-26 13h26m849 0h13m-1240 13h26m91 0h13m222 0h26m131 0h13m692 0h26m-1227 26h13m326 0h26m131 0h13m-170 13h26m118 0h13m718 0h13m-888 13h26m131 0h13m718 0h13m-1240 13h13m326 0h26m118 0h13m652 0h13m-1174 13h26m326 0h26m-26 14h26m849 0h13m-1227 13h13m326 0h26m-26 13h26m-378 26h26m339 0h13m797 0h13m-1188 13h13m104 0h13m222 0h26m849 0h13m-888 13h13m144 0h13m-522 13h13m339 0h26m-365 13h13m326 0h13m-352 13h13m326 0h26m118 0h13m705 0h13m-1110 13h13m222 0h26m-26 13h13m144 0h13m653 0h13m-836 13h26m797 0h13"/>
<path stroke="#e5e6f8" stroke-width="13" transform="scale(.1)" d="M3281 2190h13m-26 14h13m-13 13h13m-365 13h13m-300 13h13m626 0h26m-26 26h13m-365 13h13m339 0h26m-26 13h13m-391 13h13m365 0h13m0 13h13m-704 13h13m678 13h13m-613 13h26m561 0h13m-587 14h13m183 0h13m-274 26h13m39 0h13m574 0h13m-587 13h13m183 0h13m365 0h26m-261 13h13m235 0h13m-613 13h26m574 0h13m-652 13h13m39 0h13m183 0h13m365 0h26m-13 13h13m-391 13h13m352 0h13m-391 26h13m91 0h13m261 0h13m-365 13h13m-157 13h13m431 0h13m39 0h13m-391 14h13m378 0h13m-26 13h26m-26 13h26m-391 13h13m352 0h26m340 0h13m-366 13h13m13 0h13m-430 13h13m274 0h13m78 0h13m0 13h13m-796 13h13m757 0h26m13 0h13m-652 13h13m222 0h26m339 0h26m-744 13h13m470 0h13m222 0h13m-235 13h13m209 0h13m79 0h13m-301 13h13m183 0h13m-783 13h13m392 0h13m365 0h13m-404 13h13m365 0h26m-26 14h13m-13 13h26m-391 13h13m352 0h13m-365 13h13m339 0h26m-26 13h26m-313 13h13m65 0h13m209 0h13m-26 13h13m0 26h13m-26 13h13m105 0h13m-496 13h13m352 0h13m-509 13h13m209 0h13m261 0h26m-600 13h13m196 0h13m352 0h26"/>
<path stroke="#e5a7ac" stroke-width="13" transform="scale(.1)" d="M3542 2190h13m52 0h13m40 0h13m-52 14h13m52 0h13m-209 13h13m13 0h13m78 0h13m40 0h13m-574 13h13m417 0h13m-443 13h13m117 0h13m274 0h13m78 0h13m-521 13h13m117 0h26m248 0h13m170 0h13m-966 13h13m353 0h13m117 0h13m-509 13h13m209 0h13m261 0h13m248 13h13m13 0h39m66 0h13m26 0h13m13 0h13m-600 13h13m378 0h13m157 0h13m-1096 13h13m509 0h13m130 13h13m431 0h13m-757 13h13m144 0h13m548 0h13m13 0h13m-470 13h13m104 0h13m248 0h13m1 14h13m52 0h13m-457 13h13m78 0h13m-117 13h13m104 0h13m262 0h13m-535 13h13m117 0h13m0 13h13m-692 13h13m523 0h13m117 0h13m91 0h26m-260 13h13m130 0h13m366 0h13m26 0h13m-1110 13h13m523 0h13m52 0h26m39 0h13m418 0h13m-431 13h13m405 0h13m-444 13h13m431 0h13m-744 13h13m274 0h13m-300 13h13m0 13h13m131 0h13m117 0h26m366 0h13m39 0h13m-1123 14h13m523 0h13m117 0h13m418 0h13m13 0h13m-457 13h13m405 0h13m-444 13h13m418 0h13m-574 13h13m130 0h13m352 0h13m66 0h13m-744 13h13m131 0h13m574 0h13m-1136 13h13m523 0h13m130 0h13m405 0h13m-1096 13h13m509 0h13m117 0h13m379 0h13m-392 13h13m366 0h13m-692 13h13m144 0h13m130 0h13m352 0h13m-391 13h26m-678 13h13m365 0h13m718 0h13m-1136 13h13m666 0h13m405 0h26m-457 13h26m405 0h13m-574 13h13m-157 14h13m131 0h13m117 0h26m431 0h13m-757 13h26m274 0h13m366 0h13m26 0h13m13 0h13m-744 13h13m131 0h13m509 0h13m39 0h26m-600 13h13m574 0h13m-757 13h13m274 0h26m-678 13h13m639 0h13m-665 13h13m352 0h13m274 0h13m-143 13h13m509 0h13m26 0h13m-940 13h13m196 0h13m144 0h13m561 0h13m-731 13h13m-26 13h13m144 0h13m-170 13h13m144 0h13m117 0h13m365 0h13m-678 13h26m131 0h13"/>
<path stroke="#ca4f5a" stroke-width="13" transform="scale(.1)" d="M2524 2230h13m26 0h26m-26 39h13m-52 13h26m405 78h13m548 0h26m-13 14h26m-13 13h13m-26 13h13m-587 13h13m561 0h13m-52 13h13m13 0h39m-613 13h13m535 0h13m-13 26h13m-13 13h26m-13 13h13m-13 13h13m13 0h26m-65 40h13m26 0h13m0 26h13m-26 13h26m-65 26h52m-26 13h13m-26 13h39m-39 26h13m-26 39h13m39 0h13m-13 13h13m-65 14h13m0 13h39m-52 13h13m0 13h13m-26 13h13m39 13h13m-65 13h13m13 0h13m-13 26h13m-796 13h13m770 0h13m13 13h13"/>
<path stroke="#d36c76" stroke-width="13" transform="scale(.1)" d="M2537 2230h13m-26 26h13m26 0h26m144 0h13m-183 26h13m144 78h26m757 0h13m26 0h13m-222 14h13m157 0h13m-574 13h26m548 0h13m-39 13h13m-13 13h13m-170 13h26m144 0h13m0 13h13m13 0h13m-613 13h13m548 0h13m26 0h13m-26 13h13m-378 13h13m365 0h13m-39 26h13m-39 13h13m13 0h13m-26 13h13m26 0h13m-52 27h52m-39 13h26m-52 13h13m13 0h13m-26 13h39m-52 26h13m26 0h26m-13 13h13m-65 13h26m26 0h13m-13 13h13m-13 13h13m-39 13h13m0 13h13m-39 13h13m26 14h13m-13 13h13m-13 13h13m-39 13h13m0 13h26m-65 13h13m13 0h26m-39 13h13m-13 13h13m26 0h13m-65 13h26m13 0h13m-822 13h13m796 0h13m-52 13h39"/>
<path stroke="#6269d2" stroke-width="13" transform="scale(.1)" d="M3555 2230h26m-26 26h13m0 13h13m-887 26h13m848 13h26m-900 13h26m587 0h13m248 0h13m0 79h13m-26 39h13m0 13h13m-887 39h13m-26 13h13m0 13h13m848 0h13m-887 40h13m874 0h13m-26 13h13m-874 13h13m861 0h13m-13 13h13m-887 13h13m-26 39h13m861 13h13m-13 13h13m-887 13h13m874 0h13m-26 26h26m-26 14h13m-13 13h26m-900 26h26m-26 26h13m874 13h13m-887 13h13m848 0h26m-26 13h13m0 13h13m-26 13h26"/>
<path stroke="#b91423" stroke-width="13" transform="scale(.1)" d="M2524 2243h13m26 0h13m1 26h13m-13 13h13m352 92h13m-13 26h13m-13 26h26m-13 13h13m-13 13h13"/>
<path stroke="#dc8a91" stroke-width="13" transform="scale(.1)" d="M2537 2243h13m170 0h26m-209 13h13m170 0h13m-13 13h13m-13 13h13m366 13h13m221 65h13m-391 14h13m378 0h13m131 0h13m13 0h13m-430 13h13m234 0h13m131 0h26m13 0h13m-587 13h13m365 0h13m157 0h26m13 0h13m-613 13h13m378 0h26m144 0h26m13 0h13m-52 26h13m0 13h13m-378 13h13m339 0h13m26 0h13m-404 13h13m13 0h13m326 0h13m-39 13h13m26 0h13m-39 26h13m0 13h13m-13 14h13m13 0h13m-65 26h26m-13 13h13m-26 13h13m-13 39h13m-13 26h13m13 0h13m-39 13h26m-417 13h13m378 0h13m26 0h13m-443 13h13m404 13h26m-26 14h13m-39 13h13m0 13h39m-52 13h13m26 0h13m-443 13h13m391 0h26m13 26h13m-26 13h13m-822 13h13m366 13h13m378 0h26m26 0h13"/>
<path stroke="#c2313e" stroke-width="13" transform="scale(.1)" d="M2577 2243h13m-66 26h26m392 91h13m535 0h13m26 79h13m-52 13h13m26 0h13m-26 13h13m0 13h13m-26 13h13m13 0h13m-65 13h13m26 13h26m-65 13h13m26 0h13m-39 14h13m-26 13h13m39 39h13m-13 13h13m-52 13h13m0 26h26m-13 13h13m-26 13h26m-39 13h13m26 0h13m-52 13h26m-39 13h13m0 14h13m13 0h13m0 39h13m-52 26h13m13 13h13m-52 13h13m13 0h13m13 13h13m-26 26h13"/>
<path stroke="#7c82da" stroke-width="13" transform="scale(.1)" d="M3555 2243h13m-13 39h26m-900 13h13m783 0h13m-809 13h13m600 0h26m-13 26h13m144 0h26m-26 13h13m78 0h13m-104 13h13m78 0h13m-104 14h13m78 0h26m-26 26h13m0 13h13m-117 26h26m78 0h13m-117 26h13m-796 13h13m861 13h13m-104 13h13m78 0h13m-887 13h13m783 0h13m-26 13h26m-809 14h13m0 13h13m-26 13h13m-13 26h13m770 0h13m91 13h13m-900 13h13m0 13h13m770 13h13m-26 13h13m-796 13h13m770 26h13m-796 13h13m874 14h13m-887 13h13m-13 13h13m848 0h13m-91 26h13m-796 13h13m861 0h13m-887 13h13m848 0h13m-887 13h13m770 0h13m-796 13h13m770 0h13m91 0h13m-900 13h13m-13 26h13"/>
<path stroke="#969be1" stroke-width="13" transform="scale(.1)" d="M3568 2243h13m-13 13h13m-26 13h13m-261 26h13m144 26h26m65 13h26m-13 13h13m-104 13h13m-13 14h13m-13 13h13m65 0h26m-117 13h13m-13 13h26m-26 13h26m-26 26h26m65 0h13m-13 13h26m-117 13h13m-796 13h13m783 0h13m-26 26h13m-796 13h26m848 0h13m-104 14h26m65 0h13m-91 13h13m-796 13h13m757 0h26m-809 13h13m770 0h26m65 0h13m-91 13h13m65 0h13m-91 13h13m-26 13h26m65 0h13m-887 13h13m770 0h13m78 0h26m-26 13h26m-104 13h13m65 26h13m-887 13h26m770 0h13m-796 13h13m757 0h13m-796 14h26m770 0h13m-809 13h13m783 0h13m-809 13h13m783 0h13m78 0h13m-117 13h26m-809 13h26m757 0h13m78 0h26m-900 26h13m770 0h26m-796 39h13m770 0h13m-796 13h13m757 0h26m-796 13h13"/>
<path stroke="#2d37c3" stroke-width="13" transform="scale(.1)" d="M3294 2295h13m-613 13h13m600 13h13m-626 13h13m587 0h13m261 327h13"/>
<path stroke="#4750ca" stroke-width="13" transform="scale(.1)" d="M3555 2295h26m-13 26h13m-900 13h13m-13 13h26m861 13h13m-26 53h13m-13 13h26m-26 52h26m-13 13h13m-13 13h13m-13 13h13m-13 13h13m-13 14h13m-26 13h13m0 13h13m-26 39h13m0 13h13m-13 52h13m-26 26h26m-26 66h26m-26 26h13m-13 52h13"/>
<path stroke="#9a9a9a" stroke-width="0.5" fill="none" opacity="0.8" d="M259.5 218.4V289.0M264 218.4V289.0M269 218.4V289.0M279 218.4V289.0M284 218.4V289.0M290 218.4V289.0M299 218.4V289.0M304 218.4V289.0M313 218.4V289.0M320 218.4V289.0M327 218.4V289.0M334 218.4V289.0M338 218.4V289.0M345 218.4V289.0M359 218.4V289.0M365 218.4V289.0M369 218.4V289.0"/>
<line x1="244.6" y1="247.0" x2="373.8" y2="247.0" stroke="#aaa" stroke-width="0.4" />
<text x="375.9" y="254.7" font-size="2.8" text-anchor="middle" fill="#555" transform="rotate(90 375.9 254.7)">Observation Cells</text>
<text x="309.6" y="292.6" font-size="2.8" text-anchor="middle" fill="#555" >Genomic Region</text>
<text x="400.2" y="17.4" font-size="10.2" text-anchor="start" fill="#111" stroke="#111" stroke-width="0.12">C</text>
<text x="423.4" y="15.7" font-size="7.35" text-anchor="start" fill="#222"  stroke="#222" stroke-width="0.05"># somatic mutation</text>
<path d="M428.5 20.4V75.3H481.5" stroke="#777" stroke-width="0.5" fill="none"/>
<line x1="433.4" y1="75.3" x2="433.4" y2="76.3" stroke="#888" stroke-width="0.35" />
<text x="433.4" y="79.2" font-size="2.9" text-anchor="middle" fill="#777" >-10</text>
<line x1="443.1" y1="75.3" x2="443.1" y2="76.3" stroke="#888" stroke-width="0.35" />
<text x="443.1" y="79.2" font-size="2.9" text-anchor="middle" fill="#777" >-5</text>
<line x1="452.4" y1="75.3" x2="452.4" y2="76.3" stroke="#888" stroke-width="0.35" />
<text x="452.4" y="79.2" font-size="2.9" text-anchor="middle" fill="#777" >0</text>
<line x1="461.7" y1="75.3" x2="461.7" y2="76.3" stroke="#888" stroke-width="0.35" />
<text x="461.7" y="79.2" font-size="2.9" text-anchor="middle" fill="#777" >5</text>
<line x1="471.5" y1="75.3" x2="471.5" y2="76.3" stroke="#888" stroke-width="0.35" />
<text x="471.5" y="79.2" font-size="2.9" text-anchor="middle" fill="#777" >10</text>
<line x1="481.2" y1="75.3" x2="481.2" y2="76.3" stroke="#888" stroke-width="0.35" />
<text x="481.2" y="79.2" font-size="2.9" text-anchor="middle" fill="#777" >15</text>
<line x1="427.5" y1="32.6" x2="428.5" y2="32.6" stroke="#888" stroke-width="0.35" />
<text x="427.0" y="33.6" font-size="2.9" text-anchor="end" fill="#777" >10</text>
<line x1="427.5" y1="52.4" x2="428.5" y2="52.4" stroke="#888" stroke-width="0.35" />
<text x="427.0" y="53.4" font-size="2.9" text-anchor="end" fill="#777" >0</text>
<line x1="427.5" y1="72.0" x2="428.5" y2="72.0" stroke="#888" stroke-width="0.35" />
<text x="427.0" y="73.0" font-size="2.9" text-anchor="end" fill="#777" >-10</text>
<path d="M461 53L463 50L465 51.5L468 50L470 47.5L471.5 48" stroke="#98b898" stroke-width="1.0" fill="none"/>
<path d="M474.5 36L475.5 33.5L476.5 36Z" fill="#cfd8cf"/>
<path stroke="#3fcf3f" stroke-width="6" stroke-linecap="square" transform="scale(.1)" d="M4368 401h0m5 3h0m-2 1h0m3-1h0m-2 2h0m-5 1h0m8-1h0m3 0h0m-18 1h0m1 0h0m5 0h0m1 1h0m17 0h0m-18 1h0m5-1h0m-12 4h0m9 1h0m20-1h0m-28 2h0m17 0h0m5 0h0m-17 0h0m2 0h0m5 1h0m-8 1h0m4 1h0m24 1h0m-43 0h0m13 1h0m2 0h0m0 0h0m9 0h0m12 1h0m-25 1h0m30 0h0m-30 0h0m3 1h0m3 0h0m17-1h0m5 1h0m6-1h0m-44 1h0m1 0h0m5 0h0m2 1h0m22 0h0m9 0h0m-33 1h0m1-1h0m7 0h0m1 1h0m8 0h0m15-1h0m1 1h0m-43 0h0m27 0h0m-27 2h0m12-1h0m8 1h0m26-1h0m7 0h0m-37 2h0m11 0h0m0 0h0m-22 1h0m8 0h0m0-1h0m8 1h0m15-1h0m4 1h0m8 0h0m-26 1h0m1 0h0m23 0h0m1 1h0m-42 0h0m9 1h0m5 0h0m3-1h0m3 1h0m21 0h0m4-1h0m-39 1h0m27 1h0m-31 0h0m17 0h0m18 0h0m6 0h0m-45 1h0m12 1h0m8 0h0m7 0h0m21 0h0m-34 1h0m5-1h0m17 0h0m7 0h0m4 0h0m-39 1h0m13 1h0m16 0h0m5-1h0m5 1h0m6-1h0m0 0h0m-40 1h0m26 1h0m3 0h0m2-1h0m2 0h0m-14 2h0m15 0h0m7 0h0m-46 0h0m2 1h0m46-1h0m1 0h0m-47 1h0m11 1h0m11 0h0m16-1h0m-18 1h0m14 1h0m2 0h0m6 0h0m-22 0h0m9 1h0m-27 1h0m13 0h0m6 0h0m17 0h0m-44 0h0m8 1h0m34-1h0m13 0h0m-55 2h0m11-1h0m5 0h0m10 1h0m1-1h0m17 0h0m-24 2h0m4-1h0m8 0h0m-34 3h0m12 0h0m39-1h0m6 1h0m5-1h0m-52 2h0m8-1h0m3 0h0m3 0h0m7 0h0m2 0h0m1 1h0m7 0h0m-25 1h0m14 0h0m9-1h0m25 0h0m-59 1h0m24 0h0m18 0h0m0 1h0m-38 1h0m45 0h0m-55 0h0m23 0h0m12 1h0m5 0h0m7 0h0m-44 1h0m37 0h0m4 0h0m6 0h0m11 0h0m-27 0h0m-17 2h0m11 0h0m4 0h0m3-1h0m20 1h0m-47 1h0m6-1h0m24 1h0m1-1h0m14 1h0m1 0h0m-48 0h0m6 1h0m2-1h0m-2 1h0m20 0h0m4 2h0m17 0h0m5-1h0m6 0h0m-37 1h0m7 1h0m5 0h0m3 1h0m19 0h0m-50 1h0m2 1h0m5-1h0m12 1h0m18 0h0m14 0h0m-43 1h0m9-1h0m31 0h0m1 0h0m-43 2h0m9-1h0m4 1h0m19-1h0m12 1h0m-44 0h0m5 0h0m3 0h0m8 0h0m-12 2h0m8-1h0m13 1h0m4 0h0m10-1h0m-47 1h0m6 1h0m29-1h0m17 0h0m-44 2h0m17-1h0m8 0h0m-22 1h0m6 0h0m12 1h0m10-1h0m13 1h0m-37 1h0m7-1h0m18 0h0m7 0h0m-39 1h0m15 1h0m2 0h0m15-1h0m5 1h0m6-1h0m-37 2h0m3 0h0m15-1h0m0 1h0m4 0h0m2-1h0m6 1h0m6-1h0m-40 1h0m1 1h0m30-1h0m-13 2h0m10 0h0m4 0h0m2 0h0m5 1h0m-37 1h0m1-1h0m18 0h0m3 0h0m6 0h0m-18 1h0m10 1h0m-11 0h0m3 1h0m9 0h0m3-1h0m-21 2h0m9 0h0m16 0h0m0-1h0m3 0h0m-18 1h0m21 1h0m-24 1h0m17-1h0m1 0h0m3 1h0m-16 2h0m-3 0h0m5 1h0m1 2h0m13 2h0m1 1h0m2 0h0m-5 1h0m-1 2h0"/>
<path stroke="#9aba9a" stroke-width="6" stroke-linecap="square" transform="scale(.1)" d="M4572 233h0m3 0h0m0 1h0m-11 0h0m-2 1h0m8 0h0m18 1h0m15-1h0m-32 1h0m2 0h0m19 1h0m6 0h0m-33 1h0m5 0h0m9-1h0m-1 2h0m17 0h0m-38 1h0m12-1h0m-1 1h0m21 0h0m9 1h0m-43 1h0m8-1h0m23 1h0m14 0h0m-39 0h0m2 1h0m17 0h0m6-1h0m13 1h0m-39 0h0m2 0h0m7 0h0m8 1h0m9-1h0m2 1h0m-34 1h0m1-1h0m26 1h0m3-1h0m-28 1h0m15 1h0m10-1h0m4 2h0m-31 0h0m46 1h0m-39 1h0m7-1h0m4 0h0m9 0h0m5 0h0m5 1h0m12 0h0m-44 1h0m37 0h0m6-1h0m-46 1h0m6 0h0m8 0h0m10 1h0m0-1h0m-16 1h0m17 1h0m21 0h0m-44 2h0m3 0h0m23 0h0m6 0h0m-39 0h0m50 1h0m-31 0h0m13 0h0m-25 1h0m34 0h0m-34 1h0m10 1h0m12-1h0m-19 2h0m20 0h0m7-1h0m5 0h0m2 0h0m2 0h0m3 1h0m-28 1h0m1 0h0m1-1h0m14 1h0m6 0h0m3 0h0m1 0h0m-36 0h0m8 1h0m7-1h0m9 0h0m9 1h0m-36 1h0m1 0h0m9-1h0m1 0h0m0 1h0m2 0h0m7-1h0m3 0h0m8 0h0m-25 1h0m13 1h0m11-1h0m-26 2h0m5 0h0m4-1h0m3 1h0m-3 1h0m22 0h0m-27 1h0m-1 0h0m14 1h0m3-1h0m10 2h0m-13 3h0m2-1h0m-7 2h0m13 0h0m-20 0h0m1 0h0m5 1h0m10-1h0m6 1h0m-13 1h0m-7 1h0m5 0h0m17-1h0m-20 2h0m2 0h0m4 3h0m1 1h0"/>
<path stroke="#88b888" stroke-width="6" stroke-linecap="square" transform="scale(.1)" d="M4649 346h0m4 2h0m-34 0h0m12 0h0m2 1h0m-9 1h0m0-1h0m26 1h0m-26 0h0m8 0h0m4 2h0m13-1h0m-4 1h0m10 0h0m1 1h0m-30 1h0m6-1h0m1 0h0m22 1h0m-14 0h0m5 1h0m-26 3h0m38-1h0m-36 2h0m8 0h0m10-1h0m21 0h0m-33 2h0m15 0h0m12 0h0m-23 0h0m20 1h0m13 0h0m-26 1h0m26 0h0m-34 1h0m5-1h0m5 1h0m8 0h0m8 0h0m2-1h0m0 1h0m1-1h0m1 0h0m-30 1h0m9 1h0m9 0h0m-33 0h0m0 0h0m8 0h0m2 1h0m18-1h0m4 0h0m-26 1h0m17 0h0m3 0h0m22 0h0m2 0h0m-33 1h0m10 1h0m21 1h0m-28 0h0m23 0h0m4 0h0m-31 1h0m15 0h0m14 1h0m-24 1h0m1 0h0m-21 0h0m14 0h0m2 0h0m0 1h0m20-1h0m4 0h0m-43 1h0m1 1h0m29-1h0m4 1h0m-5 0h0m1 0h0m20 1h0m1-1h0m-50 2h0m14 0h0m29-1h0m7 1h0m-48 1h0m7 0h0m5 1h0m1 0h0m8 0h0m7-1h0m0 1h0m9-1h0m-22 2h0m23-1h0m-14 2h0m4-1h0m4 0h0m15 0h0m-4 1h0m-39 2h0m4 0h0m8 0h0m0-1h0m26 0h0m4 0h0m-28 1h0m2 0h0m7 0h0m2 1h0m-20 0h0m5 1h0m10-1h0m6 1h0m7-1h0m-31 1h0m13 1h0m-14 1h0m5 0h0m0 1h0m9-1h0m6 0h0m11 1h0m-26 0h0m5 0h0m12 0h0m8 1h0m-27 1h0m7-1h0m9 1h0m10-1h0m-17 2h0m3 0h0m7 0h0m5-1h0m-14 1h0m7 0h0m2 0h0m7 1h0m-19 3h0m12-1h0m-7 2h0m8 1h0m4 1h0m-1 1h0m-11 2h0m11 0h0m-5 0h0m7 1h0m4 0h0m-6 2h0m3-1h0m0 0h0m-4 4h0m5 2h0m2 0h0m2 0h0m-1 1h0m-1 1h0m2 0h0m-9 2h0m6 0h0m-7 0h0m5 0h0m-5 1h0m7 1h0m-2 1h0m-4 1h0"/>
<path stroke="#90c090" stroke-width="6" stroke-linecap="square" transform="scale(.1)" d="M4531 415h0m-12 0h0m17 1h0m-14 0h0m-8 2h0m6 0h0m10 0h0m-6 1h0m-3 1h0m3 1h0m-8 1h0m13 0h0m8-1h0m-24 2h0m6 0h0m6 0h0m-13 2h0m1-1h0m5 0h0m1 1h0m15 0h0m-23 1h0m16 0h0m6-1h0m-20 1h0m7 1h0m-11 1h0m-3 1h0m9 0h0m0-1h0m9 0h0m1 0h0m7 0h0m3 2h0m-25 1h0m1 0h0m8 1h0m4-1h0m12 0h0m1 1h0m0-1h0m-14 2h0m1-1h0m5 1h0m-16 0h0m22 0h0m1 0h0m1 0h0m-2 1h0m-18 2h0m15-1h0m1 0h0m1 0h0m-19 3h0m3-1h0m5 0h0m0 0h0m-4 2h0m21 0h0m2-1h0m-36 1h0m7 1h0m6 0h0m5 0h0m12-1h0m4 0h0m-2 1h0m-21 2h0m25-1h0m-1 1h0m-25 1h0m11 1h0m4 0h0m2-1h0m-17 1h0m3 0h0m-2 1h0m3 1h0m3 0h0m-3 0h0m10 0h0m7 0h0m-1 2h0m3 2h0m3 0h0m1-1h0m-14 2h0m3 1h0m8 0h0m1 0h0m-4 1h0m-6 2h0m-5 2h0m7 1h0m-2 1h0m0 1h0"/>
<path stroke="#90b890" stroke-width="6" stroke-linecap="square" transform="scale(.1)" d="M4553 458h0m2 2h0m7 1h0m1 0h0m-9 1h0m1 0h0m3 0h0m2 1h0m-11 2h0m1 0h0m-7 2h0m12 0h0m6 0h0m-16 1h0m5 0h0m16 0h0m-3 1h0m-4 1h0m-19 1h0m18 0h0m8 1h0m-33 2h0m4-1h0m24 0h0m3 0h0m-18 2h0m7 0h0m-16 1h0m4-1h0m10 0h0m7 0h0m-23 1h0m31 0h0m-22 3h0m10-1h0m8 0h0m-4 2h0m-17 1h0m2-1h0m19 1h0m4 0h0m1-1h0m-37 2h0m21-1h0m17 1h0m-19 1h0m5 1h0m0-1h0m11 1h0m-34 0h0m14 0h0m10 1h0m1-1h0m-23 1h0m10 0h0m12 1h0m3-1h0m-28 2h0m5-1h0m9 0h0m12 0h0m9 1h0m0-1h0m2 1h0m0 1h0m-30 0h0m13 3h0m8 0h0m8 0h0m-37 0h0m6 1h0m3-1h0m3 1h0m25 0h0m2 0h0m5-1h0m-43 2h0m15 0h0m19-1h0m-3 1h0m-29 1h0m25 0h0m12 1h0m-41 1h0m31-1h0m13 0h0m-31 2h0m10 0h0m-19 0h0m0 0h0m25 1h0m8-1h0m-41 1h0m7 1h0m4 0h0m3-1h0m5 1h0m28-1h0m-38 1h0m10 1h0m25 0h0m-35 1h0m8 0h0m6 0h0m17 0h0m-30 0h0m12 0h0m26 0h0m-42 2h0m16 0h0m20-1h0m2 0h0m4 1h0m-34 1h0m4 0h0m6 0h0m11-1h0m1 1h0m-30 0h0m14 1h0m1-1h0m12 0h0m7 1h0m2-1h0m6 1h0m-48 0h0m23 0h0m1 0h0m8 0h0m-23 1h0m8 1h0m4-1h0m4 1h0m-23 1h0m5-1h0m30 0h0m-25 2h0m0-1h0m7 1h0m2-1h0m9 1h0m11-1h0m-10 3h0m-27 0h0m14 0h0m7 0h0m-3 1h0m0 1h0m-9 1h0m16 0h0m-15 1h0m3 0h0m0 0h0m8 0h0m16 1h0m-9 0h0m8 1h0m1 0h0m3 0h0m-35 1h0m17-1h0m0 1h0m7 0h0m-27 2h0m12 0h0m0 0h0m4-1h0m4 0h0m-22 2h0m19 0h0m0-1h0m-6 2h0m-14 0h0m16 1h0m10 0h0m-16 0h0m24 1h0m3-1h0m-39 1h0m15 1h0m4-1h0m6 1h0m14 0h0m0-1h0m-42 2h0m7-1h0m26 1h0m-34 0h0m5 1h0m18-1h0m10 0h0m2 0h0m-6 2h0m16-1h0m-38 2h0m2 0h0m7 0h0m20 0h0m-31 1h0m10 0h0m11-1h0m-13 1h0m-9 1h0m13 0h0m30 0h0m-17 2h0m-21 1h0m1 0h0m4-1h0m35 1h0m-40 1h0m19-1h0m0 0h0m3 0h0m5 0h0m10 0h0m-32 1h0m13 0h0m0 0h0m3 1h0m-8 0h0m12 0h0m3 1h0m3 0h0m-1 0h0m-26 2h0m9 0h0m-7 1h0m3-1h0m7 1h0m6-1h0m14 1h0m-34 0h0m15 1h0m2 0h0m-17 0h0m11 1h0m4 0h0m-15 1h0m5 0h0m9 0h0m9-1h0m-5 1h0m-11 2h0m5 0h0m10-1h0m1 0h0m-1 1h0m-20 1h0m13 2h0m-7 0h0m-1 1h0m5 1h0m-6 3h0"/>
<path stroke="#98b898" stroke-width="6" stroke-linecap="square" transform="scale(.1)" d="M4500 514h0m9 1h0m-14 2h0m-9 3h0m7 0h0m-3 2h0m-8 1h0m12-1h0m14 0h0m-22 1h0m15 0h0m8 1h0m-32 1h0m5 0h0m8-1h0m4 0h0m1 0h0m10 1h0m-19 0h0m7 1h0m1 0h0m13 0h0m0 1h0m-31 1h0m18 0h0m-3 1h0m7 0h0m2 0h0m2 1h0m9 0h0m-27 1h0m23 0h0m-39 1h0m3-1h0m8 1h0m14-1h0m5 1h0m-11 1h0m24-1h0m-42 1h0m4 0h0m2 1h0m23-1h0m10 0h0m0 0h0m0 0h0m-27 2h0m13 0h0m12-1h0m7 1h0m-46 1h0m2 0h0m0-1h0m23 0h0m14 1h0m-24 0h0m0 0h0m2 1h0m4 1h0m10 0h0m11-1h0m2 0h0m1 0h0m-28 1h0m0 0h0m5 1h0m9 0h0m3 0h0m4-1h0m6 1h0m-48 0h0m26 1h0m20-1h0m2 1h0m-45 1h0m40-1h0m-44 2h0m39 1h0m-48 1h0m22-1h0m4 1h0m5-1h0m26 0h0m-42 1h0m1 1h0m6 0h0m10 0h0m4 2h0m5 0h0m7 0h0m4-1h0m-46 1h0m2 1h0m2 0h0m0 0h0m1 0h0m4 0h0m5-1h0m26 1h0m-47 1h0m46 0h0m8-1h0m-28 2h0m4 0h0m-31 1h0m3 0h0m2 0h0m24 0h0m5 0h0m-27 0h0m25 0h0m21 1h0m-11 1h0m19-1h0m-46 1h0m0 1h0m23-1h0m-32 2h0m4-1h0m10 1h0m31 0h0m-47 0h0m2 1h0m20 0h0m0 0h0m11-1h0m-22 2h0m-12 0h0m29 0h0m0 0h0m4 1h0m-13 1h0m13-1h0m2 1h0m1-1h0m15 0h0m-50 2h0m2-1h0m26 0h0m1 0h0m-9 1h0m5 0h0m4 0h0m10 1h0m-33 1h0m2 1h0m21 0h0m-31 0h0m13 1h0m3 0h0m2 0h0m-5 1h0m19 0h0m-31 1h0m20 1h0m3-1h0m10 1h0m-14 0h0m6 1h0m4 0h0m-22 1h0m13 0h0m0 1h0m-9 0h0m-4 6h0m-3 0h0m148 72h0m1-1h0m3 2h0m-8 1h0m0 0h0m5 0h0m4 0h0m2 0h0m-5 2h0m-3 1h0m-22 1h0m8-1h0m8 1h0m8 0h0m-5 0h0m9 1h0m-19 0h0m1 0h0m-12 2h0m1 0h0m5-1h0m13 1h0m-4 1h0m-17 0h0m12 1h0m15 1h0m10-1h0m2 1h0m-22 0h0m4 1h0m2 0h0m13 0h0m-24 0h0m18 0h0m7 0h0m-11 3h0m2-1h0m3 0h0m-10 2h0m5 0h0m-5 0h0m10 0h0m1 1h0m-2 0h0m10 1h0m1 0h0m-37 1h0m5-1h0m13 0h0m14 1h0m1-1h0m-34 1h0m35 1h0m-21 1h0m5-1h0m14 1h0m-28 1h0m23 0h0m0-1h0m2 1h0m-29 0h0m28 1h0m2-1h0m3 0h0m-29 2h0m-2 1h0m26 0h0m3 2h0m-29 1h0m19 0h0m-14 1h0m3-1h0m8 0h0m1 1h0m12 0h0m-6 2h0m1 0h0m0 1h0m-8 1h0m6 0h0m-1 1h0m1 2h0m-4 3h0"/>
<path stroke="#cfd8cf" stroke-width="6" stroke-linecap="square" transform="scale(.1)" d="M4732 269h0m1 1h0m1 8h0m3 1h0m-6 2h0m3 2h0m2-1h0"/>
<defs><linearGradient id="gm" x1="0" x2="0" y1="0" y2="1"><stop offset="0" stop-color="#2fc02f"/><stop offset="0.45" stop-color="#a8eaa8"/><stop offset="1" stop-color="#d4d4d4"/></linearGradient><linearGradient id="gs" x1="0" x2="1" y1="0" y2="0"><stop offset="0" stop-color="#10126e"/><stop offset="0.25" stop-color="#5a60a8"/><stop offset="0.5" stop-color="#f4f4f8"/><stop offset="0.75" stop-color="#f08090"/><stop offset="1" stop-color="#e8102a"/></linearGradient><linearGradient id="gn" x1="0" x2="1" y1="0" y2="0"><stop offset="0" stop-color="#ef7a84"/><stop offset="0.5" stop-color="#f4a8ae"/><stop offset="1" stop-color="#fde8ea"/></linearGradient><linearGradient id="gg" x1="0" x2="1" y1="0" y2="0"><stop offset="0" stop-color="#e0e0e0"/><stop offset="0.5" stop-color="#a8a8a8"/><stop offset="1" stop-color="#d8d8d8"/></linearGradient></defs>
<rect x="498.2" y="27.8" width="6.3" height="36" fill="url(#gm)" stroke="#ccc" stroke-width="0.3"/>
<text x="506.2" y="31.5" font-size="5.0" text-anchor="start" fill="#222" >high</text>
<text x="506.2" y="63.7" font-size="5.0" text-anchor="start" fill="#222" >low</text>
<path d="M411.8 42.5V49.5 M411.8 79.2V91.8H429 M459 92.2H462.5" stroke="#222" stroke-width="0.45" fill="none"/>
<circle cx="411.8" cy="41.6" r="0.8" fill="#111"/><path d="M464.5 92.2L462 91.1V93.3Z" fill="#111"/>
<text x="413.7" y="63.3" font-size="5.5" text-anchor="middle" fill="#222" transform="rotate(-90 413.7 63.3)">UMAP_2</text>
<text x="433.0" y="94.1" font-size="5.3" text-anchor="start" fill="#222" >UMAP_1</text>
<rect x="410.30" y="121.60" width="132.70" height="4.00" fill="#1E5E2A" />
<rect x="410.3" y="125.6" width="132.7" height="40.7" fill="#8a8a8a"/>
<rect x="410.55" y="125.90" width="2.38" height="5.21" fill="#EE2A2A" />
<rect x="413.43" y="125.90" width="2.38" height="5.21" fill="#EE2A2A" />
<rect x="416.32" y="125.90" width="2.38" height="5.21" fill="#EE2A2A" />
<rect x="419.20" y="125.90" width="2.38" height="5.21" fill="#EE2A2A" />
<rect x="422.09" y="125.90" width="2.38" height="5.21" fill="#EE2A2A" />
<rect x="424.97" y="125.90" width="2.38" height="5.21" fill="#EE2A2A" />
<rect x="427.86" y="125.90" width="2.38" height="5.21" fill="#EE2A2A" />
<rect x="430.74" y="125.90" width="2.38" height="5.21" fill="#EE2A2A" />
<rect x="433.63" y="125.90" width="2.38" height="5.21" fill="#EE2A2A" />
<rect x="436.51" y="125.90" width="2.38" height="5.21" fill="#EE2A2A" />
<rect x="439.40" y="125.90" width="2.38" height="5.21" fill="#EE2A2A" />
<rect x="442.28" y="125.90" width="2.38" height="5.21" fill="#EE2A2A" />
<rect x="445.17" y="125.90" width="2.38" height="5.21" fill="#EE2A2A" />
<rect x="448.05" y="125.90" width="2.38" height="5.21" fill="#EE2A2A" />
<rect x="450.94" y="125.90" width="2.38" height="5.21" fill="#EE2A2A" />
<rect x="453.82" y="125.90" width="2.38" height="5.21" fill="#EE2A2A" />
<rect x="456.71" y="125.90" width="2.38" height="5.21" fill="#EE2A2A" />
<rect x="459.59" y="125.90" width="2.38" height="5.21" fill="#EE2A2A" />
<rect x="462.48" y="125.90" width="2.38" height="5.21" fill="#EE2A2A" />
<rect x="465.36" y="125.90" width="2.38" height="5.21" fill="#EE2A2A" />
<rect x="468.25" y="125.90" width="2.38" height="5.21" fill="#EE2A2A" />
<rect x="471.13" y="125.90" width="2.38" height="5.21" fill="#EE2A2A" />
<rect x="474.02" y="125.90" width="2.38" height="5.21" fill="#EE2A2A" />
<rect x="476.90" y="125.90" width="2.38" height="5.21" fill="#EE2A2A" />
<rect x="479.78" y="125.90" width="2.38" height="5.21" fill="#EE2A2A" />
<rect x="482.67" y="125.90" width="2.38" height="5.21" fill="#EE2A2A" />
<rect x="485.55" y="125.90" width="2.38" height="5.21" fill="#BDBDBD" />
<rect x="488.44" y="125.90" width="2.38" height="5.21" fill="#2AA8E0" />
<rect x="491.32" y="125.90" width="2.38" height="5.21" fill="#101E4E" />
<rect x="494.21" y="125.90" width="2.38" height="5.21" fill="#101E4E" />
<rect x="497.09" y="125.90" width="2.38" height="5.21" fill="#101E4E" />
<rect x="499.98" y="125.90" width="2.38" height="5.21" fill="#101E4E" />
<rect x="502.86" y="125.90" width="2.38" height="5.21" fill="#101E4E" />
<rect x="505.75" y="125.90" width="2.38" height="5.21" fill="#101E4E" />
<rect x="508.63" y="125.90" width="2.38" height="5.21" fill="#101E4E" />
<rect x="511.52" y="125.90" width="2.38" height="5.21" fill="#101E4E" />
<rect x="514.40" y="125.90" width="2.38" height="5.21" fill="#101E4E" />
<rect x="517.29" y="125.90" width="2.38" height="5.21" fill="#101E4E" />
<rect x="520.17" y="125.90" width="2.38" height="5.21" fill="#101E4E" />
<rect x="523.06" y="125.90" width="2.38" height="5.21" fill="#101E4E" />
<rect x="525.94" y="125.90" width="2.38" height="5.21" fill="#101E4E" />
<rect x="528.83" y="125.90" width="2.38" height="5.21" fill="#101E4E" />
<rect x="531.71" y="125.90" width="2.38" height="5.21" fill="#101E4E" />
<rect x="534.60" y="125.90" width="2.38" height="5.21" fill="#101E4E" />
<rect x="537.48" y="125.90" width="2.38" height="5.21" fill="#101E4E" />
<rect x="540.37" y="125.90" width="2.38" height="5.21" fill="#101E4E" />
<rect x="410.55" y="131.71" width="2.38" height="5.21" fill="#EE2A2A" />
<rect x="413.43" y="131.71" width="2.38" height="5.21" fill="#EE2A2A" />
<rect x="416.32" y="131.71" width="2.38" height="5.21" fill="#EE2A2A" />
<rect x="419.20" y="131.71" width="2.38" height="5.21" fill="#EE2A2A" />
<rect x="422.09" y="131.71" width="2.38" height="5.21" fill="#EE2A2A" />
<rect x="424.97" y="131.71" width="2.38" height="5.21" fill="#EE2A2A" />
<rect x="427.86" y="131.71" width="2.38" height="5.21" fill="#EE2A2A" />
<rect x="430.74" y="131.71" width="2.38" height="5.21" fill="#BDBDBD" />
<rect x="433.63" y="131.71" width="2.38" height="5.21" fill="#BDBDBD" />
<rect x="436.51" y="131.71" width="2.38" height="5.21" fill="#BDBDBD" />
<rect x="439.40" y="131.71" width="2.38" height="5.21" fill="#BDBDBD" />
<rect x="442.28" y="131.71" width="2.38" height="5.21" fill="#BDBDBD" />
<rect x="445.17" y="131.71" width="2.38" height="5.21" fill="#BDBDBD" />
<rect x="448.05" y="131.71" width="2.38" height="5.21" fill="#BDBDBD" />
<rect x="450.94" y="131.71" width="2.38" height="5.21" fill="#BDBDBD" />
<rect x="453.82" y="131.71" width="2.38" height="5.21" fill="#BDBDBD" />
<rect x="456.71" y="131.71" width="2.38" height="5.21" fill="#BDBDBD" />
<rect x="459.59" y="131.71" width="2.38" height="5.21" fill="#BDBDBD" />
<rect x="462.48" y="131.71" width="2.38" height="5.21" fill="#BDBDBD" />
<rect x="465.36" y="131.71" width="2.38" height="5.21" fill="#BDBDBD" />
<rect x="468.25" y="131.71" width="2.38" height="5.21" fill="#BDBDBD" />
<rect x="471.13" y="131.71" width="2.38" height="5.21" fill="#2AA8E0" />
<rect x="474.02" y="131.71" width="2.38" height="5.21" fill="#101E4E" />
<rect x="476.90" y="131.71" width="2.38" height="5.21" fill="#101E4E" />
<rect x="479.78" y="131.71" width="2.38" height="5.21" fill="#101E4E" />
<rect x="482.67" y="131.71" width="2.38" height="5.21" fill="#101E4E" />
<rect x="485.55" y="131.71" width="2.38" height="5.21" fill="#EE2A2A" />
<rect x="488.44" y="131.71" width="2.38" height="5.21" fill="#BDBDBD" />
<rect x="491.32" y="131.71" width="2.38" height="5.21" fill="#EE2A2A" />
<rect x="494.21" y="131.71" width="2.38" height="5.21" fill="#EE2A2A" />
<rect x="497.09" y="131.71" width="2.38" height="5.21" fill="#EE2A2A" />
<rect x="499.98" y="131.71" width="2.38" height="5.21" fill="#EE2A2A" />
<rect x="502.86" y="131.71" width="2.38" height="5.21" fill="#EE2A2A" />
<rect x="505.75" y="131.71" width="2.38" height="5.21" fill="#EE2A2A" />
<rect x="508.63" y="131.71" width="2.38" height="5.21" fill="#BDBDBD" />
<rect x="511.52" y="131.71" width="2.38" height="5.21" fill="#BDBDBD" />
<rect x="514.40" y="131.71" width="2.38" height="5.21" fill="#BDBDBD" />
<rect x="517.29" y="131.71" width="2.38" height="5.21" fill="#BDBDBD" />
<rect x="520.17" y="131.71" width="2.38" height="5.21" fill="#BDBDBD" />
<rect x="523.06" y="131.71" width="2.38" height="5.21" fill="#BDBDBD" />
<rect x="525.94" y="131.71" width="2.38" height="5.21" fill="#BDBDBD" />
<rect x="528.83" y="131.71" width="2.38" height="5.21" fill="#BDBDBD" />
<rect x="531.71" y="131.71" width="2.38" height="5.21" fill="#2AA8E0" />
<rect x="534.60" y="131.71" width="2.38" height="5.21" fill="#101E4E" />
<rect x="537.48" y="131.71" width="2.38" height="5.21" fill="#101E4E" />
<rect x="540.37" y="131.71" width="2.38" height="5.21" fill="#101E4E" />
<rect x="410.55" y="137.53" width="2.38" height="5.21" fill="#EE2A2A" />
<rect x="413.43" y="137.53" width="2.38" height="5.21" fill="#EE2A2A" />
<rect x="416.32" y="137.53" width="2.38" height="5.21" fill="#EE2A2A" />
<rect x="419.20" y="137.53" width="2.38" height="5.21" fill="#BDBDBD" />
<rect x="422.09" y="137.53" width="2.38" height="5.21" fill="#BDBDBD" />
<rect x="424.97" y="137.53" width="2.38" height="5.21" fill="#BDBDBD" />
<rect x="427.86" y="137.53" width="2.38" height="5.21" fill="#BDBDBD" />
<rect x="430.74" y="137.53" width="2.38" height="5.21" fill="#EE2A2A" />
<rect x="433.63" y="137.53" width="2.38" height="5.21" fill="#EE2A2A" />
<rect x="436.51" y="137.53" width="2.38" height="5.21" fill="#EE2A2A" />
<rect x="439.40" y="137.53" width="2.38" height="5.21" fill="#EE2A2A" />
<rect x="442.28" y="137.53" width="2.38" height="5.21" fill="#EE2A2A" />
<rect x="445.17" y="137.53" width="2.38" height="5.21" fill="#EE2A2A" />
<rect x="448.05" y="137.53" width="2.38" height="5.21" fill="#EE2A2A" />
<rect x="450.94" y="137.53" width="2.38" height="5.21" fill="#BDBDBD" />
<rect x="453.82" y="137.53" width="2.38" height="5.21" fill="#BDBDBD" />
<rect x="456.71" y="137.53" width="2.38" height="5.21" fill="#BDBDBD" />
<rect x="459.59" y="137.53" width="2.38" height="5.21" fill="#2AA8E0" />
<rect x="462.48" y="137.53" width="2.38" height="5.21" fill="#101E4E" />
<rect x="465.36" y="137.53" width="2.38" height="5.21" fill="#101E4E" />
<rect x="468.25" y="137.53" width="2.38" height="5.21" fill="#101E4E" />
<rect x="471.13" y="137.53" width="2.38" height="5.21" fill="#BDBDBD" />
<rect x="474.02" y="137.53" width="2.38" height="5.21" fill="#EE2A2A" />
<rect x="476.90" y="137.53" width="2.38" height="5.21" fill="#EE2A2A" />
<rect x="479.78" y="137.53" width="2.38" height="5.21" fill="#101E4E" />
<rect x="482.67" y="137.53" width="2.38" height="5.21" fill="#101E4E" />
<rect x="485.55" y="137.53" width="2.38" height="5.21" fill="#BDBDBD" />
<rect x="488.44" y="137.53" width="2.38" height="5.21" fill="#BDBDBD" />
<rect x="491.32" y="137.53" width="2.38" height="5.21" fill="#EE2A2A" />
<rect x="494.21" y="137.53" width="2.38" height="5.21" fill="#EE2A2A" />
<rect x="497.09" y="137.53" width="2.38" height="5.21" fill="#BDBDBD" />
<rect x="499.98" y="137.53" width="2.38" height="5.21" fill="#BDBDBD" />
<rect x="502.86" y="137.53" width="2.38" height="5.21" fill="#BDBDBD" />
<rect x="505.75" y="137.53" width="2.38" height="5.21" fill="#101E4E" />
<rect x="508.63" y="137.53" width="2.38" height="5.21" fill="#EE2A2A" />
<rect x="511.52" y="137.53" width="2.38" height="5.21" fill="#BDBDBD" />
<rect x="514.40" y="137.53" width="2.38" height="5.21" fill="#BDBDBD" />
<rect x="517.29" y="137.53" width="2.38" height="5.21" fill="#BDBDBD" />
<rect x="520.17" y="137.53" width="2.38" height="5.21" fill="#BDBDBD" />
<rect x="523.06" y="137.53" width="2.38" height="5.21" fill="#BDBDBD" />
<rect x="525.94" y="137.53" width="2.38" height="5.21" fill="#BDBDBD" />
<rect x="528.83" y="137.53" width="2.38" height="5.21" fill="#BDBDBD" />
<rect x="531.71" y="137.53" width="2.38" height="5.21" fill="#BDBDBD" />
<rect x="534.60" y="137.53" width="2.38" height="5.21" fill="#2AA8E0" />
<rect x="537.48" y="137.53" width="2.38" height="5.21" fill="#101E4E" />
<rect x="540.37" y="137.53" width="2.38" height="5.21" fill="#101E4E" />
<rect x="410.55" y="143.34" width="2.38" height="5.21" fill="#BDBDBD" />
<rect x="413.43" y="143.34" width="2.38" height="5.21" fill="#BDBDBD" />
<rect x="416.32" y="143.34" width="2.38" height="5.21" fill="#2AA8E0" />
<rect x="419.20" y="143.34" width="2.38" height="5.21" fill="#BDBDBD" />
<rect x="422.09" y="143.34" width="2.38" height="5.21" fill="#BDBDBD" />
<rect x="424.97" y="143.34" width="2.38" height="5.21" fill="#BDBDBD" />
<rect x="427.86" y="143.34" width="2.38" height="5.21" fill="#2AA8E0" />
<rect x="430.74" y="143.34" width="2.38" height="5.21" fill="#EE2A2A" />
<rect x="433.63" y="143.34" width="2.38" height="5.21" fill="#EE2A2A" />
<rect x="436.51" y="143.34" width="2.38" height="5.21" fill="#BDBDBD" />
<rect x="439.40" y="143.34" width="2.38" height="5.21" fill="#BDBDBD" />
<rect x="442.28" y="143.34" width="2.38" height="5.21" fill="#BDBDBD" />
<rect x="445.17" y="143.34" width="2.38" height="5.21" fill="#BDBDBD" />
<rect x="448.05" y="143.34" width="2.38" height="5.21" fill="#BDBDBD" />
<rect x="450.94" y="143.34" width="2.38" height="5.21" fill="#EE2A2A" />
<rect x="453.82" y="143.34" width="2.38" height="5.21" fill="#BDBDBD" />
<rect x="456.71" y="143.34" width="2.38" height="5.21" fill="#BDBDBD" />
<rect x="459.59" y="143.34" width="2.38" height="5.21" fill="#BDBDBD" />
<rect x="462.48" y="143.34" width="2.38" height="5.21" fill="#BDBDBD" />
<rect x="465.36" y="143.34" width="2.38" height="5.21" fill="#BDBDBD" />
<rect x="468.25" y="143.34" width="2.38" height="5.21" fill="#BDBDBD" />
<rect x="471.13" y="143.34" width="2.38" height="5.21" fill="#BDBDBD" />
<rect x="474.02" y="143.34" width="2.38" height="5.21" fill="#EE2A2A" />
<rect x="476.90" y="143.34" width="2.38" height="5.21" fill="#2AA8E0" />
<rect x="479.78" y="143.34" width="2.38" height="5.21" fill="#EE2A2A" />
<rect x="482.67" y="143.34" width="2.38" height="5.21" fill="#EE2A2A" />
<rect x="485.55" y="143.34" width="2.38" height="5.21" fill="#BDBDBD" />
<rect x="488.44" y="143.34" width="2.38" height="5.21" fill="#BDBDBD" />
<rect x="491.32" y="143.34" width="2.38" height="5.21" fill="#EE2A2A" />
<rect x="494.21" y="143.34" width="2.38" height="5.21" fill="#EE2A2A" />
<rect x="497.09" y="143.34" width="2.38" height="5.21" fill="#EE2A2A" />
<rect x="499.98" y="143.34" width="2.38" height="5.21" fill="#EE2A2A" />
<rect x="502.86" y="143.34" width="2.38" height="5.21" fill="#BDBDBD" />
<rect x="505.75" y="143.34" width="2.38" height="5.21" fill="#2AA8E0" />
<rect x="508.63" y="143.34" width="2.38" height="5.21" fill="#BDBDBD" />
<rect x="511.52" y="143.34" width="2.38" height="5.21" fill="#EE2A2A" />
<rect x="514.40" y="143.34" width="2.38" height="5.21" fill="#BDBDBD" />
<rect x="517.29" y="143.34" width="2.38" height="5.21" fill="#BDBDBD" />
<rect x="520.17" y="143.34" width="2.38" height="5.21" fill="#BDBDBD" />
<rect x="523.06" y="143.34" width="2.38" height="5.21" fill="#BDBDBD" />
<rect x="525.94" y="143.34" width="2.38" height="5.21" fill="#BDBDBD" />
<rect x="528.83" y="143.34" width="2.38" height="5.21" fill="#BDBDBD" />
<rect x="531.71" y="143.34" width="2.38" height="5.21" fill="#BDBDBD" />
<rect x="534.60" y="143.34" width="2.38" height="5.21" fill="#EE2A2A" />
<rect x="537.48" y="143.34" width="2.38" height="5.21" fill="#EE2A2A" />
<rect x="540.37" y="143.34" width="2.38" height="5.21" fill="#EE2A2A" />
<rect x="410.55" y="149.16" width="2.38" height="5.21" fill="#101E4E" />
<rect x="413.43" y="149.16" width="2.38" height="5.21" fill="#101E4E" />
<rect x="416.32" y="149.16" width="2.38" height="5.21" fill="#101E4E" />
<rect x="419.20" y="149.16" width="2.38" height="5.21" fill="#EE2A2A" />
<rect x="422.09" y="149.16" width="2.38" height="5.21" fill="#101E4E" />
<rect x="424.97" y="149.16" width="2.38" height="5.21" fill="#101E4E" />
<rect x="427.86" y="149.16" width="2.38" height="5.21" fill="#EE2A2A" />
<rect x="430.74" y="149.16" width="2.38" height="5.21" fill="#EE2A2A" />
<rect x="433.63" y="149.16" width="2.38" height="5.21" fill="#101E4E" />
<rect x="436.51" y="149.16" width="2.38" height="5.21" fill="#101E4E" />
<rect x="439.40" y="149.16" width="2.38" height="5.21" fill="#101E4E" />
<rect x="442.28" y="149.16" width="2.38" height="5.21" fill="#101E4E" />
<rect x="445.17" y="149.16" width="2.38" height="5.21" fill="#101E4E" />
<rect x="448.05" y="149.16" width="2.38" height="5.21" fill="#101E4E" />
<rect x="450.94" y="149.16" width="2.38" height="5.21" fill="#101E4E" />
<rect x="453.82" y="149.16" width="2.38" height="5.21" fill="#101E4E" />
<rect x="456.71" y="149.16" width="2.38" height="5.21" fill="#101E4E" />
<rect x="459.59" y="149.16" width="2.38" height="5.21" fill="#101E4E" />
<rect x="462.48" y="149.16" width="2.38" height="5.21" fill="#EE2A2A" />
<rect x="465.36" y="149.16" width="2.38" height="5.21" fill="#101E4E" />
<rect x="468.25" y="149.16" width="2.38" height="5.21" fill="#101E4E" />
<rect x="471.13" y="149.16" width="2.38" height="5.21" fill="#EE2A2A" />
<rect x="474.02" y="149.16" width="2.38" height="5.21" fill="#101E4E" />
<rect x="476.90" y="149.16" width="2.38" height="5.21" fill="#EE2A2A" />
<rect x="479.78" y="149.16" width="2.38" height="5.21" fill="#EE2A2A" />
<rect x="482.67" y="149.16" width="2.38" height="5.21" fill="#101E4E" />
<rect x="485.55" y="149.16" width="2.38" height="5.21" fill="#BDBDBD" />
<rect x="488.44" y="149.16" width="2.38" height="5.21" fill="#101E4E" />
<rect x="491.32" y="149.16" width="2.38" height="5.21" fill="#101E4E" />
<rect x="494.21" y="149.16" width="2.38" height="5.21" fill="#101E4E" />
<rect x="497.09" y="149.16" width="2.38" height="5.21" fill="#101E4E" />
<rect x="499.98" y="149.16" width="2.38" height="5.21" fill="#101E4E" />
<rect x="502.86" y="149.16" width="2.38" height="5.21" fill="#EE2A2A" />
<rect x="505.75" y="149.16" width="2.38" height="5.21" fill="#EE2A2A" />
<rect x="508.63" y="149.16" width="2.38" height="5.21" fill="#BDBDBD" />
<rect x="511.52" y="149.16" width="2.38" height="5.21" fill="#101E4E" />
<rect x="514.40" y="149.16" width="2.38" height="5.21" fill="#BDBDBD" />
<rect x="517.29" y="149.16" width="2.38" height="5.21" fill="#BDBDBD" />
<rect x="520.17" y="149.16" width="2.38" height="5.21" fill="#101E4E" />
<rect x="523.06" y="149.16" width="2.38" height="5.21" fill="#101E4E" />
<rect x="525.94" y="149.16" width="2.38" height="5.21" fill="#101E4E" />
<rect x="528.83" y="149.16" width="2.38" height="5.21" fill="#101E4E" />
<rect x="531.71" y="149.16" width="2.38" height="5.21" fill="#101E4E" />
<rect x="534.60" y="149.16" width="2.38" height="5.21" fill="#101E4E" />
<rect x="537.48" y="149.16" width="2.38" height="5.21" fill="#101E4E" />
<rect x="540.37" y="149.16" width="2.38" height="5.21" fill="#101E4E" />
<rect x="410.55" y="154.97" width="2.38" height="5.21" fill="#BDBDBD" />
<rect x="413.43" y="154.97" width="2.38" height="5.21" fill="#BDBDBD" />
<rect x="416.32" y="154.97" width="2.38" height="5.21" fill="#EE2A2A" />
<rect x="419.20" y="154.97" width="2.38" height="5.21" fill="#BDBDBD" />
<rect x="422.09" y="154.97" width="2.38" height="5.21" fill="#BDBDBD" />
<rect x="424.97" y="154.97" width="2.38" height="5.21" fill="#101E4E" />
<rect x="427.86" y="154.97" width="2.38" height="5.21" fill="#2AA8E0" />
<rect x="430.74" y="154.97" width="2.38" height="5.21" fill="#EE2A2A" />
<rect x="433.63" y="154.97" width="2.38" height="5.21" fill="#BDBDBD" />
<rect x="436.51" y="154.97" width="2.38" height="5.21" fill="#EE2A2A" />
<rect x="439.40" y="154.97" width="2.38" height="5.21" fill="#2AA8E0" />
<rect x="442.28" y="154.97" width="2.38" height="5.21" fill="#2AA8E0" />
<rect x="445.17" y="154.97" width="2.38" height="5.21" fill="#2AA8E0" />
<rect x="448.05" y="154.97" width="2.38" height="5.21" fill="#101E4E" />
<rect x="450.94" y="154.97" width="2.38" height="5.21" fill="#BDBDBD" />
<rect x="453.82" y="154.97" width="2.38" height="5.21" fill="#BDBDBD" />
<rect x="456.71" y="154.97" width="2.38" height="5.21" fill="#BDBDBD" />
<rect x="459.59" y="154.97" width="2.38" height="5.21" fill="#2AA8E0" />
<rect x="462.48" y="154.97" width="2.38" height="5.21" fill="#BDBDBD" />
<rect x="465.36" y="154.97" width="2.38" height="5.21" fill="#BDBDBD" />
<rect x="468.25" y="154.97" width="2.38" height="5.21" fill="#2AA8E0" />
<rect x="471.13" y="154.97" width="2.38" height="5.21" fill="#101E4E" />
<rect x="474.02" y="154.97" width="2.38" height="5.21" fill="#BDBDBD" />
<rect x="476.90" y="154.97" width="2.38" height="5.21" fill="#2AA8E0" />
<rect x="479.78" y="154.97" width="2.38" height="5.21" fill="#BDBDBD" />
<rect x="482.67" y="154.97" width="2.38" height="5.21" fill="#101E4E" />
<rect x="485.55" y="154.97" width="2.38" height="5.21" fill="#BDBDBD" />
<rect x="488.44" y="154.97" width="2.38" height="5.21" fill="#BDBDBD" />
<rect x="491.32" y="154.97" width="2.38" height="5.21" fill="#BDBDBD" />
<rect x="494.21" y="154.97" width="2.38" height="5.21" fill="#2AA8E0" />
<rect x="497.09" y="154.97" width="2.38" height="5.21" fill="#BDBDBD" />
<rect x="499.98" y="154.97" width="2.38" height="5.21" fill="#BDBDBD" />
<rect x="502.86" y="154.97" width="2.38" height="5.21" fill="#101E4E" />
<rect x="505.75" y="154.97" width="2.38" height="5.21" fill="#101E4E" />
<rect x="508.63" y="154.97" width="2.38" height="5.21" fill="#101E4E" />
<rect x="511.52" y="154.97" width="2.38" height="5.21" fill="#BDBDBD" />
<rect x="514.40" y="154.97" width="2.38" height="5.21" fill="#BDBDBD" />
<rect x="517.29" y="154.97" width="2.38" height="5.21" fill="#101E4E" />
<rect x="520.17" y="154.97" width="2.38" height="5.21" fill="#BDBDBD" />
<rect x="523.06" y="154.97" width="2.38" height="5.21" fill="#BDBDBD" />
<rect x="525.94" y="154.97" width="2.38" height="5.21" fill="#101E4E" />
<rect x="528.83" y="154.97" width="2.38" height="5.21" fill="#101E4E" />
<rect x="531.71" y="154.97" width="2.38" height="5.21" fill="#BDBDBD" />
<rect x="534.60" y="154.97" width="2.38" height="5.21" fill="#BDBDBD" />
<rect x="537.48" y="154.97" width="2.38" height="5.21" fill="#BDBDBD" />
<rect x="540.37" y="154.97" width="2.38" height="5.21" fill="#BDBDBD" />
<rect x="410.55" y="160.79" width="2.38" height="5.21" fill="#BDBDBD" />
<rect x="413.43" y="160.79" width="2.38" height="5.21" fill="#BDBDBD" />
<rect x="416.32" y="160.79" width="2.38" height="5.21" fill="#BDBDBD" />
<rect x="419.20" y="160.79" width="2.38" height="5.21" fill="#BDBDBD" />
<rect x="422.09" y="160.79" width="2.38" height="5.21" fill="#BDBDBD" />
<rect x="424.97" y="160.79" width="2.38" height="5.21" fill="#BDBDBD" />
<rect x="427.86" y="160.79" width="2.38" height="5.21" fill="#BDBDBD" />
<rect x="430.74" y="160.79" width="2.38" height="5.21" fill="#EE2A2A" />
<rect x="433.63" y="160.79" width="2.38" height="5.21" fill="#101E4E" />
<rect x="436.51" y="160.79" width="2.38" height="5.21" fill="#EE2A2A" />
<rect x="439.40" y="160.79" width="2.38" height="5.21" fill="#BDBDBD" />
<rect x="442.28" y="160.79" width="2.38" height="5.21" fill="#BDBDBD" />
<rect x="445.17" y="160.79" width="2.38" height="5.21" fill="#BDBDBD" />
<rect x="448.05" y="160.79" width="2.38" height="5.21" fill="#BDBDBD" />
<rect x="450.94" y="160.79" width="2.38" height="5.21" fill="#BDBDBD" />
<rect x="453.82" y="160.79" width="2.38" height="5.21" fill="#BDBDBD" />
<rect x="456.71" y="160.79" width="2.38" height="5.21" fill="#101E4E" />
<rect x="459.59" y="160.79" width="2.38" height="5.21" fill="#BDBDBD" />
<rect x="462.48" y="160.79" width="2.38" height="5.21" fill="#BDBDBD" />
<rect x="465.36" y="160.79" width="2.38" height="5.21" fill="#101E4E" />
<rect x="468.25" y="160.79" width="2.38" height="5.21" fill="#2AA8E0" />
<rect x="471.13" y="160.79" width="2.38" height="5.21" fill="#BDBDBD" />
<rect x="474.02" y="160.79" width="2.38" height="5.21" fill="#2AA8E0" />
<rect x="476.90" y="160.79" width="2.38" height="5.21" fill="#BDBDBD" />
<rect x="479.78" y="160.79" width="2.38" height="5.21" fill="#BDBDBD" />
<rect x="482.67" y="160.79" width="2.38" height="5.21" fill="#BDBDBD" />
<rect x="485.55" y="160.79" width="2.38" height="5.21" fill="#101E4E" />
<rect x="488.44" y="160.79" width="2.38" height="5.21" fill="#BDBDBD" />
<rect x="491.32" y="160.79" width="2.38" height="5.21" fill="#BDBDBD" />
<rect x="494.21" y="160.79" width="2.38" height="5.21" fill="#101E4E" />
<rect x="497.09" y="160.79" width="2.38" height="5.21" fill="#EE2A2A" />
<rect x="499.98" y="160.79" width="2.38" height="5.21" fill="#BDBDBD" />
<rect x="502.86" y="160.79" width="2.38" height="5.21" fill="#BDBDBD" />
<rect x="505.75" y="160.79" width="2.38" height="5.21" fill="#101E4E" />
<rect x="508.63" y="160.79" width="2.38" height="5.21" fill="#BDBDBD" />
<rect x="511.52" y="160.79" width="2.38" height="5.21" fill="#BDBDBD" />
<rect x="514.40" y="160.79" width="2.38" height="5.21" fill="#BDBDBD" />
<rect x="517.29" y="160.79" width="2.38" height="5.21" fill="#BDBDBD" />
<rect x="520.17" y="160.79" width="2.38" height="5.21" fill="#BDBDBD" />
<rect x="523.06" y="160.79" width="2.38" height="5.21" fill="#BDBDBD" />
<rect x="525.94" y="160.79" width="2.38" height="5.21" fill="#BDBDBD" />
<rect x="528.83" y="160.79" width="2.38" height="5.21" fill="#101E4E" />
<rect x="531.71" y="160.79" width="2.38" height="5.21" fill="#BDBDBD" />
<rect x="534.60" y="160.79" width="2.38" height="5.21" fill="#101E4E" />
<rect x="537.48" y="160.79" width="2.38" height="5.21" fill="#BDBDBD" />
<rect x="540.37" y="160.79" width="2.38" height="5.21" fill="#BDBDBD" />
<text x="386.3" y="125.4" font-size="5.0" text-anchor="start" fill="#222" >Sample</text>
<text x="386.3" y="130.3" font-size="5.0" text-anchor="start" fill="#222" >Gene A</text>
<text x="386.3" y="136.1" font-size="5.0" text-anchor="start" fill="#222" >Gene B</text>
<text x="386.3" y="141.9" font-size="5.0" text-anchor="start" fill="#222" >Gene C</text>
<text x="386.3" y="147.8" font-size="5.0" text-anchor="start" fill="#222" >Gene D</text>
<text x="386.3" y="153.6" font-size="5.0" text-anchor="start" fill="#222" >Gene E</text>
<text x="386.3" y="159.4" font-size="5.0" text-anchor="start" fill="#222" >Gene F</text>
<text x="386.3" y="165.2" font-size="5.0" text-anchor="start" fill="#222" >Gene G</text>
<rect x="412.30" y="178.60" width="1.90" height="5.90" fill="#C01818" />
<rect x="415.60" y="178.60" width="1.90" height="5.90" fill="#EE2A2A" />
<text x="421.5" y="184.0" font-size="6.1" text-anchor="start" fill="#222"  stroke="#222" stroke-width="0.05">Wild type</text>
<rect x="452.70" y="178.60" width="1.90" height="5.90" fill="#101E4E" />
<rect x="456.40" y="178.60" width="1.90" height="5.90" fill="#2AA8E0" />
<text x="462.9" y="184.0" font-size="7.0" text-anchor="start" fill="#222"  stroke="#222" stroke-width="0.05">mutant</text>
<rect x="489.20" y="178.60" width="2.80" height="5.90" fill="#BDBDBD" />
<text x="496.9" y="184.0" font-size="7.0" text-anchor="start" fill="#222"  stroke="#222" stroke-width="0.05">undetermined</text>
<rect x="414.20" y="198.60" width="126.60" height="3.20" fill="#F08080" />
<rect x="422.20" y="198.60" width="1.80" height="3.20" fill="#C8102E" />
<rect x="447.10" y="198.60" width="18.60" height="3.20" fill="#C8102E" />
<rect x="474.00" y="198.60" width="4.80" height="3.20" fill="#C8102E" />
<rect x="489.10" y="198.60" width="6.90" height="3.20" fill="#C8102E" />
<rect x="499.00" y="198.60" width="4.70" height="3.20" fill="#C8102E" />
<rect x="511.30" y="198.60" width="16.70" height="3.20" fill="#C8102E" />
<rect x="535.70" y="198.60" width="5.10" height="3.20" fill="#C8102E" />
<rect x="414.20" y="201.60" width="126.60" height="0.50" fill="#600" />
<rect x="414.20" y="202.10" width="60.20" height="10.50" fill="#EE2A2A" />
<rect x="474.40" y="202.10" width="24.60" height="10.50" fill="#BDBDBD" />
<rect x="499.00" y="202.10" width="4.70" height="10.50" fill="#2AA8E0" />
<rect x="503.70" y="202.10" width="37.10" height="10.50" fill="#101E4E" />
<rect x="414.20" y="212.60" width="10.20" height="11.00" fill="#EE2A2A" />
<rect x="424.40" y="212.60" width="42.40" height="11.00" fill="#BDBDBD" />
<rect x="466.80" y="212.60" width="7.20" height="11.00" fill="#101E4E" />
<rect x="474.00" y="212.60" width="5.20" height="11.00" fill="#EE2A2A" />
<rect x="479.20" y="212.60" width="17.60" height="11.00" fill="#BDBDBD" />
<rect x="496.80" y="212.60" width="2.20" height="11.00" fill="#101E4E" />
<rect x="499.00" y="212.60" width="2.90" height="11.00" fill="#BDBDBD" />
<rect x="501.90" y="212.60" width="2.10" height="11.00" fill="#101E4E" />
<rect x="504.00" y="212.60" width="7.70" height="11.00" fill="#EE2A2A" />
<rect x="511.70" y="212.60" width="22.20" height="11.00" fill="#BDBDBD" />
<rect x="533.90" y="212.60" width="6.90" height="11.00" fill="#101E4E" />
<path stroke="#555" stroke-width="0.35" opacity="0.55" d="M416.7 202V223.6M419.3 202V223.6M421.8 202V223.6M424.3 202V223.6M426.8 202V223.6M429.4 202V223.6M431.9 202V223.6M434.4 202V223.6M437.0 202V223.6M439.5 202V223.6M442.0 202V223.6M444.6 202V223.6M447.1 202V223.6M449.6 202V223.6M452.1 202V223.6M454.7 202V223.6M457.2 202V223.6M459.7 202V223.6M462.3 202V223.6M464.8 202V223.6M467.3 202V223.6M469.9 202V223.6M472.4 202V223.6M474.9 202V223.6M477.4 202V223.6M480.0 202V223.6M482.5 202V223.6M485.0 202V223.6M487.6 202V223.6M490.1 202V223.6M492.6 202V223.6M495.2 202V223.6M497.7 202V223.6M500.2 202V223.6M502.8 202V223.6M505.3 202V223.6M507.8 202V223.6M510.3 202V223.6M512.9 202V223.6M515.4 202V223.6M517.9 202V223.6M520.5 202V223.6M523.0 202V223.6M525.5 202V223.6M528.0 202V223.6M530.6 202V223.6M533.1 202V223.6M535.6 202V223.6M538.2 202V223.6"/>
<line x1="414.2" y1="212.6" x2="540.8" y2="212.6" stroke="#444" stroke-width="0.4" />
<text x="393.0" y="202.4" font-size="5.0" text-anchor="start" fill="#222" >Sample</text>
<text x="393.0" y="211.2" font-size="5.0" text-anchor="start" fill="#222" >Gene H</text>
<text x="393.0" y="219.6" font-size="5.0" text-anchor="start" fill="#222" >Gene I</text>
<path fill="#0E1A4E" d="M414.2 226.00h2.54v2.57h-2.54zM414.2 228.57h2.54v2.57h-2.54zM414.2 231.15h2.54v2.57h-2.54zM414.2 233.72h2.54v2.57h-2.54zM414.2 238.88h2.54v2.57h-2.54zM414.2 241.45h2.54v2.57h-2.54zM414.2 246.60h2.54v2.57h-2.54zM414.2 259.48h2.54v2.57h-2.54zM414.2 264.62h2.54v2.57h-2.54zM416.7 226.00h2.54v2.57h-2.54zM416.7 231.15h2.54v2.57h-2.54zM416.7 238.88h2.54v2.57h-2.54zM416.7 244.03h2.54v2.57h-2.54zM416.7 249.17h2.54v2.57h-2.54zM416.7 254.32h2.54v2.57h-2.54zM416.7 256.90h2.54v2.57h-2.54zM416.7 259.48h2.54v2.57h-2.54zM419.3 226.00h2.54v2.57h-2.54zM419.3 236.30h2.54v2.57h-2.54zM419.3 238.88h2.54v2.57h-2.54zM419.3 244.03h2.54v2.57h-2.54zM419.3 259.48h2.54v2.57h-2.54zM419.3 262.05h2.54v2.57h-2.54zM421.8 226.00h2.54v2.57h-2.54zM424.3 231.15h2.54v2.57h-2.54zM424.3 236.30h2.54v2.57h-2.54zM424.3 238.88h2.54v2.57h-2.54zM424.3 241.45h2.54v2.57h-2.54zM424.3 246.60h2.54v2.57h-2.54zM424.3 249.17h2.54v2.57h-2.54zM424.3 262.05h2.54v2.57h-2.54zM424.3 264.62h2.54v2.57h-2.54zM426.9 233.72h2.54v2.57h-2.54zM426.9 236.30h2.54v2.57h-2.54zM426.9 238.88h2.54v2.57h-2.54zM426.9 246.60h2.54v2.57h-2.54zM426.9 254.32h2.54v2.57h-2.54zM426.9 262.05h2.54v2.57h-2.54zM426.9 264.62h2.54v2.57h-2.54zM429.4 228.57h2.54v2.57h-2.54zM429.4 231.15h2.54v2.57h-2.54zM429.4 236.30h2.54v2.57h-2.54zM429.4 238.88h2.54v2.57h-2.54zM429.4 249.17h2.54v2.57h-2.54zM429.4 254.32h2.54v2.57h-2.54zM432.0 254.32h2.54v2.57h-2.54zM432.0 259.48h2.54v2.57h-2.54zM432.0 264.62h2.54v2.57h-2.54zM434.5 226.00h2.54v2.57h-2.54zM434.5 228.57h2.54v2.57h-2.54zM434.5 231.15h2.54v2.57h-2.54zM434.5 238.88h2.54v2.57h-2.54zM434.5 244.03h2.54v2.57h-2.54zM434.5 246.60h2.54v2.57h-2.54zM437.0 228.57h2.54v2.57h-2.54zM437.0 231.15h2.54v2.57h-2.54zM437.0 233.72h2.54v2.57h-2.54zM437.0 236.30h2.54v2.57h-2.54zM437.0 244.03h2.54v2.57h-2.54zM437.0 246.60h2.54v2.57h-2.54zM437.0 256.90h2.54v2.57h-2.54zM439.6 226.00h2.54v2.57h-2.54zM439.6 228.57h2.54v2.57h-2.54zM439.6 231.15h2.54v2.57h-2.54zM439.6 233.72h2.54v2.57h-2.54zM439.6 236.30h2.54v2.57h-2.54zM439.6 241.45h2.54v2.57h-2.54zM439.6 244.03h2.54v2.57h-2.54zM439.6 264.62h2.54v2.57h-2.54zM442.1 226.00h2.54v2.57h-2.54zM442.1 228.57h2.54v2.57h-2.54zM442.1 231.15h2.54v2.57h-2.54zM442.1 233.72h2.54v2.57h-2.54zM442.1 236.30h2.54v2.57h-2.54zM442.1 238.88h2.54v2.57h-2.54zM442.1 241.45h2.54v2.57h-2.54zM442.1 249.17h2.54v2.57h-2.54zM442.1 259.48h2.54v2.57h-2.54zM442.1 264.62h2.54v2.57h-2.54zM444.6 226.00h2.54v2.57h-2.54zM444.6 228.57h2.54v2.57h-2.54zM444.6 231.15h2.54v2.57h-2.54zM444.6 236.30h2.54v2.57h-2.54zM444.6 238.88h2.54v2.57h-2.54zM444.6 244.03h2.54v2.57h-2.54zM444.6 249.17h2.54v2.57h-2.54zM444.6 251.75h2.54v2.57h-2.54zM444.6 254.32h2.54v2.57h-2.54zM444.6 256.90h2.54v2.57h-2.54zM444.6 262.05h2.54v2.57h-2.54zM447.2 233.72h2.54v2.57h-2.54zM447.2 244.03h2.54v2.57h-2.54zM447.2 246.60h2.54v2.57h-2.54zM447.2 254.32h2.54v2.57h-2.54zM449.7 228.57h2.54v2.57h-2.54zM449.7 231.15h2.54v2.57h-2.54zM449.7 233.72h2.54v2.57h-2.54zM449.7 238.88h2.54v2.57h-2.54zM449.7 241.45h2.54v2.57h-2.54zM449.7 244.03h2.54v2.57h-2.54zM449.7 246.60h2.54v2.57h-2.54zM449.7 254.32h2.54v2.57h-2.54zM449.7 256.90h2.54v2.57h-2.54zM449.7 262.05h2.54v2.57h-2.54zM452.2 226.00h2.54v2.57h-2.54zM452.2 228.57h2.54v2.57h-2.54zM452.2 236.30h2.54v2.57h-2.54zM452.2 249.17h2.54v2.57h-2.54zM452.2 251.75h2.54v2.57h-2.54zM452.2 254.32h2.54v2.57h-2.54zM452.2 259.48h2.54v2.57h-2.54zM452.2 262.05h2.54v2.57h-2.54zM454.8 249.17h2.54v2.57h-2.54zM454.8 254.32h2.54v2.57h-2.54zM457.3 228.57h2.54v2.57h-2.54zM457.3 249.17h2.54v2.57h-2.54zM459.8 226.00h2.54v2.57h-2.54zM459.8 233.72h2.54v2.57h-2.54zM459.8 238.88h2.54v2.57h-2.54zM459.8 241.45h2.54v2.57h-2.54zM459.8 244.03h2.54v2.57h-2.54zM459.8 249.17h2.54v2.57h-2.54zM459.8 254.32h2.54v2.57h-2.54zM459.8 256.90h2.54v2.57h-2.54zM459.8 262.05h2.54v2.57h-2.54zM459.8 264.62h2.54v2.57h-2.54zM462.4 236.30h2.54v2.57h-2.54zM464.9 226.00h2.54v2.57h-2.54zM464.9 233.72h2.54v2.57h-2.54zM464.9 236.30h2.54v2.57h-2.54zM464.9 238.88h2.54v2.57h-2.54zM464.9 241.45h2.54v2.57h-2.54zM464.9 249.17h2.54v2.57h-2.54zM464.9 262.05h2.54v2.57h-2.54zM467.5 228.57h2.54v2.57h-2.54zM467.5 231.15h2.54v2.57h-2.54zM467.5 236.30h2.54v2.57h-2.54zM467.5 238.88h2.54v2.57h-2.54zM467.5 241.45h2.54v2.57h-2.54zM467.5 249.17h2.54v2.57h-2.54zM467.5 256.90h2.54v2.57h-2.54zM467.5 262.05h2.54v2.57h-2.54zM470.0 228.57h2.54v2.57h-2.54zM470.0 238.88h2.54v2.57h-2.54zM470.0 244.03h2.54v2.57h-2.54zM470.0 256.90h2.54v2.57h-2.54zM470.0 259.48h2.54v2.57h-2.54zM470.0 264.62h2.54v2.57h-2.54zM472.5 228.57h2.54v2.57h-2.54zM472.5 231.15h2.54v2.57h-2.54zM472.5 236.30h2.54v2.57h-2.54zM472.5 238.88h2.54v2.57h-2.54zM472.5 249.17h2.54v2.57h-2.54zM472.5 259.48h2.54v2.57h-2.54zM472.5 264.62h2.54v2.57h-2.54zM475.1 231.15h2.54v2.57h-2.54zM475.1 256.90h2.54v2.57h-2.54zM477.6 226.00h2.54v2.57h-2.54zM477.6 228.57h2.54v2.57h-2.54zM477.6 231.15h2.54v2.57h-2.54zM477.6 236.30h2.54v2.57h-2.54zM477.6 238.88h2.54v2.57h-2.54zM477.6 241.45h2.54v2.57h-2.54zM477.6 244.03h2.54v2.57h-2.54zM477.6 246.60h2.54v2.57h-2.54zM477.6 254.32h2.54v2.57h-2.54zM477.6 264.62h2.54v2.57h-2.54zM480.1 228.57h2.54v2.57h-2.54zM480.1 233.72h2.54v2.57h-2.54zM480.1 236.30h2.54v2.57h-2.54zM480.1 238.88h2.54v2.57h-2.54zM480.1 241.45h2.54v2.57h-2.54zM480.1 244.03h2.54v2.57h-2.54zM480.1 251.75h2.54v2.57h-2.54zM480.1 254.32h2.54v2.57h-2.54zM480.1 262.05h2.54v2.57h-2.54zM482.7 228.57h2.54v2.57h-2.54zM482.7 231.15h2.54v2.57h-2.54zM482.7 233.72h2.54v2.57h-2.54zM482.7 238.88h2.54v2.57h-2.54zM482.7 241.45h2.54v2.57h-2.54zM482.7 244.03h2.54v2.57h-2.54zM482.7 249.17h2.54v2.57h-2.54zM482.7 254.32h2.54v2.57h-2.54zM482.7 256.90h2.54v2.57h-2.54zM482.7 259.48h2.54v2.57h-2.54zM482.7 262.05h2.54v2.57h-2.54zM485.2 259.48h2.54v2.57h-2.54zM485.2 264.62h2.54v2.57h-2.54zM487.7 226.00h2.54v2.57h-2.54zM487.7 228.57h2.54v2.57h-2.54zM487.7 231.15h2.54v2.57h-2.54zM487.7 241.45h2.54v2.57h-2.54zM487.7 244.03h2.54v2.57h-2.54zM487.7 254.32h2.54v2.57h-2.54zM487.7 259.48h2.54v2.57h-2.54zM487.7 262.05h2.54v2.57h-2.54zM487.7 264.62h2.54v2.57h-2.54zM490.3 226.00h2.54v2.57h-2.54zM490.3 228.57h2.54v2.57h-2.54zM490.3 231.15h2.54v2.57h-2.54zM490.3 236.30h2.54v2.57h-2.54zM490.3 238.88h2.54v2.57h-2.54zM490.3 246.60h2.54v2.57h-2.54zM490.3 254.32h2.54v2.57h-2.54zM490.3 256.90h2.54v2.57h-2.54zM490.3 264.62h2.54v2.57h-2.54zM492.8 238.88h2.54v2.57h-2.54zM492.8 249.17h2.54v2.57h-2.54zM492.8 254.32h2.54v2.57h-2.54zM492.8 262.05h2.54v2.57h-2.54zM495.4 249.17h2.54v2.57h-2.54zM495.4 264.62h2.54v2.57h-2.54zM497.9 226.00h2.54v2.57h-2.54zM497.9 231.15h2.54v2.57h-2.54zM497.9 233.72h2.54v2.57h-2.54zM497.9 244.03h2.54v2.57h-2.54zM497.9 251.75h2.54v2.57h-2.54zM497.9 262.05h2.54v2.57h-2.54zM497.9 264.62h2.54v2.57h-2.54zM500.4 241.45h2.54v2.57h-2.54zM500.4 249.17h2.54v2.57h-2.54zM505.5 246.60h2.54v2.57h-2.54zM505.5 259.48h2.54v2.57h-2.54zM510.6 259.48h2.54v2.57h-2.54zM513.1 241.45h2.54v2.57h-2.54zM515.6 228.57h2.54v2.57h-2.54zM515.6 241.45h2.54v2.57h-2.54zM523.2 233.72h2.54v2.57h-2.54zM535.9 246.60h2.54v2.57h-2.54zM538.5 256.90h2.54v2.57h-2.54z"/>
<path fill="#C5D2EA" d="M414.2 236.30h2.54v2.57h-2.54zM414.2 244.03h2.54v2.57h-2.54zM414.2 251.75h2.54v2.57h-2.54zM414.2 256.90h2.54v2.57h-2.54zM416.7 228.57h2.54v2.57h-2.54zM416.7 233.72h2.54v2.57h-2.54zM416.7 246.60h2.54v2.57h-2.54zM416.7 264.62h2.54v2.57h-2.54zM419.3 246.60h2.54v2.57h-2.54zM424.3 226.00h2.54v2.57h-2.54zM426.9 231.15h2.54v2.57h-2.54zM426.9 241.45h2.54v2.57h-2.54zM426.9 244.03h2.54v2.57h-2.54zM429.4 226.00h2.54v2.57h-2.54zM429.4 246.60h2.54v2.57h-2.54zM429.4 262.05h2.54v2.57h-2.54zM429.4 264.62h2.54v2.57h-2.54zM432.0 246.60h2.54v2.57h-2.54zM432.0 249.17h2.54v2.57h-2.54zM434.5 233.72h2.54v2.57h-2.54zM434.5 236.30h2.54v2.57h-2.54zM434.5 241.45h2.54v2.57h-2.54zM434.5 249.17h2.54v2.57h-2.54zM434.5 256.90h2.54v2.57h-2.54zM434.5 259.48h2.54v2.57h-2.54zM434.5 262.05h2.54v2.57h-2.54zM437.0 226.00h2.54v2.57h-2.54zM437.0 254.32h2.54v2.57h-2.54zM442.1 244.03h2.54v2.57h-2.54zM442.1 251.75h2.54v2.57h-2.54zM442.1 254.32h2.54v2.57h-2.54zM442.1 262.05h2.54v2.57h-2.54zM444.6 233.72h2.54v2.57h-2.54zM444.6 241.45h2.54v2.57h-2.54zM444.6 259.48h2.54v2.57h-2.54zM444.6 264.62h2.54v2.57h-2.54zM447.2 226.00h2.54v2.57h-2.54zM447.2 228.57h2.54v2.57h-2.54zM447.2 236.30h2.54v2.57h-2.54zM447.2 238.88h2.54v2.57h-2.54zM447.2 249.17h2.54v2.57h-2.54zM447.2 251.75h2.54v2.57h-2.54zM447.2 262.05h2.54v2.57h-2.54zM452.2 231.15h2.54v2.57h-2.54zM452.2 246.60h2.54v2.57h-2.54zM459.8 228.57h2.54v2.57h-2.54zM459.8 231.15h2.54v2.57h-2.54zM459.8 246.60h2.54v2.57h-2.54zM459.8 251.75h2.54v2.57h-2.54zM464.9 231.15h2.54v2.57h-2.54zM464.9 244.03h2.54v2.57h-2.54zM470.0 226.00h2.54v2.57h-2.54zM470.0 231.15h2.54v2.57h-2.54zM470.0 236.30h2.54v2.57h-2.54zM470.0 251.75h2.54v2.57h-2.54zM472.5 254.32h2.54v2.57h-2.54zM472.5 256.90h2.54v2.57h-2.54zM475.1 241.45h2.54v2.57h-2.54zM477.6 251.75h2.54v2.57h-2.54zM477.6 256.90h2.54v2.57h-2.54zM477.6 262.05h2.54v2.57h-2.54zM480.1 226.00h2.54v2.57h-2.54zM480.1 231.15h2.54v2.57h-2.54zM480.1 249.17h2.54v2.57h-2.54zM480.1 264.62h2.54v2.57h-2.54zM482.7 251.75h2.54v2.57h-2.54zM485.2 241.45h2.54v2.57h-2.54zM485.2 256.90h2.54v2.57h-2.54zM485.2 262.05h2.54v2.57h-2.54zM487.7 249.17h2.54v2.57h-2.54zM497.9 236.30h2.54v2.57h-2.54zM497.9 238.88h2.54v2.57h-2.54zM497.9 241.45h2.54v2.57h-2.54zM497.9 249.17h2.54v2.57h-2.54zM497.9 259.48h2.54v2.57h-2.54zM500.4 251.75h2.54v2.57h-2.54zM505.5 249.17h2.54v2.57h-2.54zM510.6 249.17h2.54v2.57h-2.54zM513.1 251.75h2.54v2.57h-2.54zM515.6 236.30h2.54v2.57h-2.54zM515.6 254.32h2.54v2.57h-2.54zM518.2 254.32h2.54v2.57h-2.54zM520.7 264.62h2.54v2.57h-2.54zM523.2 236.30h2.54v2.57h-2.54zM525.8 238.88h2.54v2.57h-2.54zM525.8 244.03h2.54v2.57h-2.54zM525.8 251.75h2.54v2.57h-2.54zM528.3 249.17h2.54v2.57h-2.54zM528.3 251.75h2.54v2.57h-2.54zM528.3 256.90h2.54v2.57h-2.54zM528.3 262.05h2.54v2.57h-2.54zM530.9 241.45h2.54v2.57h-2.54zM530.9 244.03h2.54v2.57h-2.54zM530.9 256.90h2.54v2.57h-2.54z"/>
<path fill="#FFFFFF" d="M414.2 249.17h2.54v2.57h-2.54zM416.7 236.30h2.54v2.57h-2.54zM419.3 228.57h2.54v2.57h-2.54zM419.3 241.45h2.54v2.57h-2.54zM419.3 256.90h2.54v2.57h-2.54zM421.8 246.60h2.54v2.57h-2.54zM424.3 228.57h2.54v2.57h-2.54zM424.3 233.72h2.54v2.57h-2.54zM424.3 254.32h2.54v2.57h-2.54zM426.9 226.00h2.54v2.57h-2.54zM426.9 228.57h2.54v2.57h-2.54zM426.9 249.17h2.54v2.57h-2.54zM426.9 251.75h2.54v2.57h-2.54zM426.9 256.90h2.54v2.57h-2.54zM426.9 259.48h2.54v2.57h-2.54zM429.4 241.45h2.54v2.57h-2.54zM429.4 244.03h2.54v2.57h-2.54zM432.0 228.57h2.54v2.57h-2.54zM432.0 238.88h2.54v2.57h-2.54zM434.5 251.75h2.54v2.57h-2.54zM434.5 264.62h2.54v2.57h-2.54zM437.0 259.48h2.54v2.57h-2.54zM437.0 264.62h2.54v2.57h-2.54zM444.6 246.60h2.54v2.57h-2.54zM447.2 231.15h2.54v2.57h-2.54zM447.2 241.45h2.54v2.57h-2.54zM447.2 259.48h2.54v2.57h-2.54zM447.2 264.62h2.54v2.57h-2.54zM449.7 251.75h2.54v2.57h-2.54zM449.7 259.48h2.54v2.57h-2.54zM449.7 264.62h2.54v2.57h-2.54zM452.2 233.72h2.54v2.57h-2.54zM452.2 238.88h2.54v2.57h-2.54zM452.2 241.45h2.54v2.57h-2.54zM452.2 244.03h2.54v2.57h-2.54zM454.8 226.00h2.54v2.57h-2.54zM454.8 256.90h2.54v2.57h-2.54zM457.3 231.15h2.54v2.57h-2.54zM459.8 236.30h2.54v2.57h-2.54zM459.8 259.48h2.54v2.57h-2.54zM462.4 249.17h2.54v2.57h-2.54zM464.9 256.90h2.54v2.57h-2.54zM464.9 264.62h2.54v2.57h-2.54zM467.5 226.00h2.54v2.57h-2.54zM467.5 233.72h2.54v2.57h-2.54zM467.5 244.03h2.54v2.57h-2.54zM467.5 259.48h2.54v2.57h-2.54zM470.0 233.72h2.54v2.57h-2.54zM470.0 241.45h2.54v2.57h-2.54zM470.0 262.05h2.54v2.57h-2.54zM472.5 226.00h2.54v2.57h-2.54zM472.5 246.60h2.54v2.57h-2.54zM472.5 262.05h2.54v2.57h-2.54zM475.1 226.00h2.54v2.57h-2.54zM475.1 233.72h2.54v2.57h-2.54zM475.1 236.30h2.54v2.57h-2.54zM475.1 249.17h2.54v2.57h-2.54zM475.1 264.62h2.54v2.57h-2.54zM477.6 259.48h2.54v2.57h-2.54zM480.1 246.60h2.54v2.57h-2.54zM480.1 256.90h2.54v2.57h-2.54zM480.1 259.48h2.54v2.57h-2.54zM482.7 236.30h2.54v2.57h-2.54zM485.2 228.57h2.54v2.57h-2.54zM485.2 231.15h2.54v2.57h-2.54zM485.2 233.72h2.54v2.57h-2.54zM485.2 251.75h2.54v2.57h-2.54zM487.7 238.88h2.54v2.57h-2.54zM487.7 251.75h2.54v2.57h-2.54zM487.7 256.90h2.54v2.57h-2.54zM490.3 233.72h2.54v2.57h-2.54zM490.3 244.03h2.54v2.57h-2.54zM490.3 249.17h2.54v2.57h-2.54zM490.3 259.48h2.54v2.57h-2.54zM492.8 259.48h2.54v2.57h-2.54zM495.4 244.03h2.54v2.57h-2.54zM495.4 262.05h2.54v2.57h-2.54zM497.9 228.57h2.54v2.57h-2.54zM497.9 246.60h2.54v2.57h-2.54zM497.9 254.32h2.54v2.57h-2.54zM497.9 256.90h2.54v2.57h-2.54zM500.4 226.00h2.54v2.57h-2.54zM500.4 231.15h2.54v2.57h-2.54zM500.4 262.05h2.54v2.57h-2.54zM500.4 264.62h2.54v2.57h-2.54zM503.0 241.45h2.54v2.57h-2.54zM503.0 244.03h2.54v2.57h-2.54zM503.0 254.32h2.54v2.57h-2.54zM503.0 262.05h2.54v2.57h-2.54zM505.5 231.15h2.54v2.57h-2.54zM505.5 238.88h2.54v2.57h-2.54zM505.5 262.05h2.54v2.57h-2.54zM508.0 231.15h2.54v2.57h-2.54zM508.0 264.62h2.54v2.57h-2.54zM510.6 228.57h2.54v2.57h-2.54zM510.6 236.30h2.54v2.57h-2.54zM510.6 244.03h2.54v2.57h-2.54zM510.6 256.90h2.54v2.57h-2.54zM510.6 262.05h2.54v2.57h-2.54zM513.1 259.48h2.54v2.57h-2.54zM515.6 238.88h2.54v2.57h-2.54zM515.6 264.62h2.54v2.57h-2.54zM518.2 236.30h2.54v2.57h-2.54zM518.2 249.17h2.54v2.57h-2.54zM520.7 251.75h2.54v2.57h-2.54zM523.2 226.00h2.54v2.57h-2.54zM523.2 238.88h2.54v2.57h-2.54zM523.2 262.05h2.54v2.57h-2.54zM525.8 241.45h2.54v2.57h-2.54zM525.8 256.90h2.54v2.57h-2.54zM525.8 264.62h2.54v2.57h-2.54zM528.3 231.15h2.54v2.57h-2.54zM528.3 233.72h2.54v2.57h-2.54zM528.3 254.32h2.54v2.57h-2.54zM528.3 259.48h2.54v2.57h-2.54zM530.9 238.88h2.54v2.57h-2.54zM533.4 226.00h2.54v2.57h-2.54zM533.4 228.57h2.54v2.57h-2.54zM533.4 244.03h2.54v2.57h-2.54zM533.4 249.17h2.54v2.57h-2.54zM533.4 254.32h2.54v2.57h-2.54zM535.9 226.00h2.54v2.57h-2.54zM538.5 236.30h2.54v2.57h-2.54zM538.5 244.03h2.54v2.57h-2.54zM538.5 259.48h2.54v2.57h-2.54z"/>
<path fill="#3A4E8C" d="M414.2 254.32h2.54v2.57h-2.54zM416.7 251.75h2.54v2.57h-2.54zM419.3 231.15h2.54v2.57h-2.54zM419.3 249.17h2.54v2.57h-2.54zM419.3 264.62h2.54v2.57h-2.54zM424.3 244.03h2.54v2.57h-2.54zM424.3 251.75h2.54v2.57h-2.54zM424.3 256.90h2.54v2.57h-2.54zM424.3 259.48h2.54v2.57h-2.54zM429.4 259.48h2.54v2.57h-2.54zM432.0 262.05h2.54v2.57h-2.54zM434.5 254.32h2.54v2.57h-2.54zM437.0 238.88h2.54v2.57h-2.54zM437.0 249.17h2.54v2.57h-2.54zM439.6 254.32h2.54v2.57h-2.54zM439.6 262.05h2.54v2.57h-2.54zM442.1 246.60h2.54v2.57h-2.54zM442.1 256.90h2.54v2.57h-2.54zM449.7 226.00h2.54v2.57h-2.54zM449.7 236.30h2.54v2.57h-2.54zM452.2 256.90h2.54v2.57h-2.54zM457.3 256.90h2.54v2.57h-2.54zM464.9 228.57h2.54v2.57h-2.54zM464.9 251.75h2.54v2.57h-2.54zM467.5 246.60h2.54v2.57h-2.54zM467.5 251.75h2.54v2.57h-2.54zM467.5 254.32h2.54v2.57h-2.54zM467.5 264.62h2.54v2.57h-2.54zM470.0 249.17h2.54v2.57h-2.54zM472.5 241.45h2.54v2.57h-2.54zM472.5 244.03h2.54v2.57h-2.54zM477.6 233.72h2.54v2.57h-2.54zM477.6 249.17h2.54v2.57h-2.54zM482.7 226.00h2.54v2.57h-2.54zM482.7 246.60h2.54v2.57h-2.54zM485.2 236.30h2.54v2.57h-2.54zM485.2 238.88h2.54v2.57h-2.54zM485.2 246.60h2.54v2.57h-2.54zM485.2 249.17h2.54v2.57h-2.54zM487.7 236.30h2.54v2.57h-2.54zM490.3 241.45h2.54v2.57h-2.54z"/>
<path fill="#EE1C25" d="M414.2 262.05h2.54v2.57h-2.54zM416.7 241.45h2.54v2.57h-2.54zM419.3 233.72h2.54v2.57h-2.54zM419.3 254.32h2.54v2.57h-2.54zM421.8 228.57h2.54v2.57h-2.54zM421.8 231.15h2.54v2.57h-2.54zM421.8 233.72h2.54v2.57h-2.54zM421.8 236.30h2.54v2.57h-2.54zM421.8 238.88h2.54v2.57h-2.54zM421.8 241.45h2.54v2.57h-2.54zM421.8 244.03h2.54v2.57h-2.54zM421.8 251.75h2.54v2.57h-2.54zM421.8 254.32h2.54v2.57h-2.54zM421.8 256.90h2.54v2.57h-2.54zM421.8 259.48h2.54v2.57h-2.54zM421.8 262.05h2.54v2.57h-2.54zM421.8 264.62h2.54v2.57h-2.54zM429.4 233.72h2.54v2.57h-2.54zM429.4 251.75h2.54v2.57h-2.54zM429.4 256.90h2.54v2.57h-2.54zM432.0 226.00h2.54v2.57h-2.54zM432.0 231.15h2.54v2.57h-2.54zM432.0 236.30h2.54v2.57h-2.54zM432.0 241.45h2.54v2.57h-2.54zM432.0 244.03h2.54v2.57h-2.54zM432.0 251.75h2.54v2.57h-2.54zM432.0 256.90h2.54v2.57h-2.54zM437.0 241.45h2.54v2.57h-2.54zM437.0 251.75h2.54v2.57h-2.54zM439.6 246.60h2.54v2.57h-2.54zM439.6 256.90h2.54v2.57h-2.54zM439.6 259.48h2.54v2.57h-2.54zM447.2 256.90h2.54v2.57h-2.54zM449.7 249.17h2.54v2.57h-2.54zM452.2 264.62h2.54v2.57h-2.54zM454.8 228.57h2.54v2.57h-2.54zM454.8 231.15h2.54v2.57h-2.54zM454.8 233.72h2.54v2.57h-2.54zM454.8 236.30h2.54v2.57h-2.54zM454.8 244.03h2.54v2.57h-2.54zM454.8 246.60h2.54v2.57h-2.54zM454.8 251.75h2.54v2.57h-2.54zM454.8 259.48h2.54v2.57h-2.54zM454.8 262.05h2.54v2.57h-2.54zM454.8 264.62h2.54v2.57h-2.54zM457.3 226.00h2.54v2.57h-2.54zM457.3 233.72h2.54v2.57h-2.54zM457.3 236.30h2.54v2.57h-2.54zM457.3 238.88h2.54v2.57h-2.54zM457.3 241.45h2.54v2.57h-2.54zM457.3 244.03h2.54v2.57h-2.54zM457.3 246.60h2.54v2.57h-2.54zM457.3 251.75h2.54v2.57h-2.54zM457.3 254.32h2.54v2.57h-2.54zM457.3 262.05h2.54v2.57h-2.54zM462.4 226.00h2.54v2.57h-2.54zM462.4 228.57h2.54v2.57h-2.54zM462.4 231.15h2.54v2.57h-2.54zM462.4 233.72h2.54v2.57h-2.54zM462.4 238.88h2.54v2.57h-2.54zM462.4 241.45h2.54v2.57h-2.54zM462.4 244.03h2.54v2.57h-2.54zM462.4 246.60h2.54v2.57h-2.54zM462.4 251.75h2.54v2.57h-2.54zM462.4 256.90h2.54v2.57h-2.54zM462.4 259.48h2.54v2.57h-2.54zM462.4 262.05h2.54v2.57h-2.54zM462.4 264.62h2.54v2.57h-2.54zM464.9 246.60h2.54v2.57h-2.54zM464.9 254.32h2.54v2.57h-2.54zM464.9 259.48h2.54v2.57h-2.54zM470.0 246.60h2.54v2.57h-2.54zM470.0 254.32h2.54v2.57h-2.54zM472.5 233.72h2.54v2.57h-2.54zM472.5 251.75h2.54v2.57h-2.54zM475.1 228.57h2.54v2.57h-2.54zM475.1 238.88h2.54v2.57h-2.54zM475.1 244.03h2.54v2.57h-2.54zM475.1 246.60h2.54v2.57h-2.54zM475.1 251.75h2.54v2.57h-2.54zM475.1 254.32h2.54v2.57h-2.54zM475.1 262.05h2.54v2.57h-2.54zM482.7 264.62h2.54v2.57h-2.54zM485.2 226.00h2.54v2.57h-2.54zM485.2 244.03h2.54v2.57h-2.54zM485.2 254.32h2.54v2.57h-2.54zM487.7 233.72h2.54v2.57h-2.54zM487.7 246.60h2.54v2.57h-2.54zM490.3 262.05h2.54v2.57h-2.54zM492.8 226.00h2.54v2.57h-2.54zM492.8 228.57h2.54v2.57h-2.54zM492.8 231.15h2.54v2.57h-2.54zM492.8 233.72h2.54v2.57h-2.54zM492.8 236.30h2.54v2.57h-2.54zM492.8 241.45h2.54v2.57h-2.54zM492.8 244.03h2.54v2.57h-2.54zM492.8 246.60h2.54v2.57h-2.54zM492.8 251.75h2.54v2.57h-2.54zM492.8 256.90h2.54v2.57h-2.54zM492.8 264.62h2.54v2.57h-2.54zM495.4 226.00h2.54v2.57h-2.54zM495.4 228.57h2.54v2.57h-2.54zM495.4 231.15h2.54v2.57h-2.54zM495.4 233.72h2.54v2.57h-2.54zM495.4 236.30h2.54v2.57h-2.54zM495.4 238.88h2.54v2.57h-2.54zM495.4 241.45h2.54v2.57h-2.54zM495.4 246.60h2.54v2.57h-2.54zM495.4 251.75h2.54v2.57h-2.54zM495.4 254.32h2.54v2.57h-2.54zM495.4 256.90h2.54v2.57h-2.54zM495.4 259.48h2.54v2.57h-2.54zM500.4 228.57h2.54v2.57h-2.54zM500.4 233.72h2.54v2.57h-2.54zM500.4 236.30h2.54v2.57h-2.54zM500.4 238.88h2.54v2.57h-2.54zM500.4 244.03h2.54v2.57h-2.54zM500.4 254.32h2.54v2.57h-2.54zM500.4 256.90h2.54v2.57h-2.54zM500.4 259.48h2.54v2.57h-2.54zM503.0 226.00h2.54v2.57h-2.54zM503.0 228.57h2.54v2.57h-2.54zM503.0 231.15h2.54v2.57h-2.54zM503.0 233.72h2.54v2.57h-2.54zM503.0 236.30h2.54v2.57h-2.54zM503.0 238.88h2.54v2.57h-2.54zM503.0 246.60h2.54v2.57h-2.54zM503.0 249.17h2.54v2.57h-2.54zM503.0 256.90h2.54v2.57h-2.54zM503.0 259.48h2.54v2.57h-2.54zM503.0 264.62h2.54v2.57h-2.54zM505.5 226.00h2.54v2.57h-2.54zM505.5 228.57h2.54v2.57h-2.54zM505.5 233.72h2.54v2.57h-2.54zM505.5 236.30h2.54v2.57h-2.54zM505.5 241.45h2.54v2.57h-2.54zM505.5 244.03h2.54v2.57h-2.54zM505.5 251.75h2.54v2.57h-2.54zM505.5 254.32h2.54v2.57h-2.54zM505.5 256.90h2.54v2.57h-2.54zM505.5 264.62h2.54v2.57h-2.54zM508.0 233.72h2.54v2.57h-2.54zM508.0 236.30h2.54v2.57h-2.54zM508.0 238.88h2.54v2.57h-2.54zM508.0 241.45h2.54v2.57h-2.54zM508.0 244.03h2.54v2.57h-2.54zM508.0 246.60h2.54v2.57h-2.54zM508.0 251.75h2.54v2.57h-2.54zM508.0 254.32h2.54v2.57h-2.54zM508.0 256.90h2.54v2.57h-2.54zM508.0 259.48h2.54v2.57h-2.54zM508.0 262.05h2.54v2.57h-2.54zM510.6 226.00h2.54v2.57h-2.54zM510.6 231.15h2.54v2.57h-2.54zM510.6 233.72h2.54v2.57h-2.54zM510.6 238.88h2.54v2.57h-2.54zM510.6 241.45h2.54v2.57h-2.54zM510.6 246.60h2.54v2.57h-2.54zM510.6 251.75h2.54v2.57h-2.54zM510.6 254.32h2.54v2.57h-2.54zM510.6 264.62h2.54v2.57h-2.54zM513.1 226.00h2.54v2.57h-2.54zM513.1 228.57h2.54v2.57h-2.54zM513.1 231.15h2.54v2.57h-2.54zM513.1 233.72h2.54v2.57h-2.54zM513.1 236.30h2.54v2.57h-2.54zM513.1 238.88h2.54v2.57h-2.54zM513.1 244.03h2.54v2.57h-2.54zM513.1 246.60h2.54v2.57h-2.54zM513.1 249.17h2.54v2.57h-2.54zM513.1 254.32h2.54v2.57h-2.54zM513.1 256.90h2.54v2.57h-2.54zM513.1 262.05h2.54v2.57h-2.54zM513.1 264.62h2.54v2.57h-2.54zM515.6 226.00h2.54v2.57h-2.54zM515.6 231.15h2.54v2.57h-2.54zM515.6 233.72h2.54v2.57h-2.54zM515.6 244.03h2.54v2.57h-2.54zM515.6 249.17h2.54v2.57h-2.54zM515.6 251.75h2.54v2.57h-2.54zM515.6 256.90h2.54v2.57h-2.54zM515.6 259.48h2.54v2.57h-2.54zM515.6 262.05h2.54v2.57h-2.54zM518.2 226.00h2.54v2.57h-2.54zM518.2 228.57h2.54v2.57h-2.54zM518.2 231.15h2.54v2.57h-2.54zM518.2 233.72h2.54v2.57h-2.54zM518.2 238.88h2.54v2.57h-2.54zM518.2 241.45h2.54v2.57h-2.54zM518.2 244.03h2.54v2.57h-2.54zM518.2 246.60h2.54v2.57h-2.54zM518.2 251.75h2.54v2.57h-2.54zM518.2 259.48h2.54v2.57h-2.54zM518.2 262.05h2.54v2.57h-2.54zM518.2 264.62h2.54v2.57h-2.54zM520.7 226.00h2.54v2.57h-2.54zM520.7 231.15h2.54v2.57h-2.54zM520.7 233.72h2.54v2.57h-2.54zM520.7 236.30h2.54v2.57h-2.54zM520.7 241.45h2.54v2.57h-2.54zM520.7 246.60h2.54v2.57h-2.54zM520.7 249.17h2.54v2.57h-2.54zM520.7 256.90h2.54v2.57h-2.54zM520.7 259.48h2.54v2.57h-2.54zM520.7 262.05h2.54v2.57h-2.54zM523.2 228.57h2.54v2.57h-2.54zM523.2 231.15h2.54v2.57h-2.54zM523.2 241.45h2.54v2.57h-2.54zM523.2 244.03h2.54v2.57h-2.54zM523.2 246.60h2.54v2.57h-2.54zM523.2 249.17h2.54v2.57h-2.54zM523.2 251.75h2.54v2.57h-2.54zM523.2 254.32h2.54v2.57h-2.54zM523.2 256.90h2.54v2.57h-2.54zM523.2 259.48h2.54v2.57h-2.54zM523.2 264.62h2.54v2.57h-2.54zM525.8 228.57h2.54v2.57h-2.54zM525.8 231.15h2.54v2.57h-2.54zM525.8 233.72h2.54v2.57h-2.54zM525.8 236.30h2.54v2.57h-2.54zM525.8 246.60h2.54v2.57h-2.54zM525.8 254.32h2.54v2.57h-2.54zM525.8 259.48h2.54v2.57h-2.54zM525.8 262.05h2.54v2.57h-2.54zM528.3 226.00h2.54v2.57h-2.54zM528.3 228.57h2.54v2.57h-2.54zM528.3 236.30h2.54v2.57h-2.54zM528.3 238.88h2.54v2.57h-2.54zM528.3 241.45h2.54v2.57h-2.54zM528.3 244.03h2.54v2.57h-2.54zM528.3 246.60h2.54v2.57h-2.54zM528.3 264.62h2.54v2.57h-2.54zM530.9 226.00h2.54v2.57h-2.54zM530.9 228.57h2.54v2.57h-2.54zM530.9 231.15h2.54v2.57h-2.54zM530.9 233.72h2.54v2.57h-2.54zM530.9 236.30h2.54v2.57h-2.54zM530.9 246.60h2.54v2.57h-2.54zM530.9 249.17h2.54v2.57h-2.54zM530.9 251.75h2.54v2.57h-2.54zM530.9 254.32h2.54v2.57h-2.54zM530.9 259.48h2.54v2.57h-2.54zM530.9 262.05h2.54v2.57h-2.54zM530.9 264.62h2.54v2.57h-2.54zM533.4 231.15h2.54v2.57h-2.54zM533.4 233.72h2.54v2.57h-2.54zM533.4 236.30h2.54v2.57h-2.54zM533.4 238.88h2.54v2.57h-2.54zM533.4 241.45h2.54v2.57h-2.54zM533.4 246.60h2.54v2.57h-2.54zM533.4 251.75h2.54v2.57h-2.54zM533.4 256.90h2.54v2.57h-2.54zM533.4 259.48h2.54v2.57h-2.54zM533.4 262.05h2.54v2.57h-2.54zM533.4 264.62h2.54v2.57h-2.54zM535.9 228.57h2.54v2.57h-2.54zM535.9 233.72h2.54v2.57h-2.54zM535.9 238.88h2.54v2.57h-2.54zM535.9 241.45h2.54v2.57h-2.54zM535.9 244.03h2.54v2.57h-2.54zM535.9 249.17h2.54v2.57h-2.54zM535.9 251.75h2.54v2.57h-2.54zM535.9 254.32h2.54v2.57h-2.54zM535.9 256.90h2.54v2.57h-2.54zM535.9 259.48h2.54v2.57h-2.54zM535.9 262.05h2.54v2.57h-2.54zM535.9 264.62h2.54v2.57h-2.54zM538.5 226.00h2.54v2.57h-2.54zM538.5 228.57h2.54v2.57h-2.54zM538.5 231.15h2.54v2.57h-2.54zM538.5 233.72h2.54v2.57h-2.54zM538.5 238.88h2.54v2.57h-2.54zM538.5 241.45h2.54v2.57h-2.54zM538.5 246.60h2.54v2.57h-2.54zM538.5 249.17h2.54v2.57h-2.54zM538.5 251.75h2.54v2.57h-2.54zM538.5 254.32h2.54v2.57h-2.54zM538.5 262.05h2.54v2.57h-2.54zM538.5 264.62h2.54v2.57h-2.54z"/>
<path fill="#F37A85" d="M416.7 262.05h2.54v2.57h-2.54zM419.3 251.75h2.54v2.57h-2.54zM421.8 249.17h2.54v2.57h-2.54zM432.0 233.72h2.54v2.57h-2.54zM437.0 262.05h2.54v2.57h-2.54zM439.6 238.88h2.54v2.57h-2.54zM439.6 249.17h2.54v2.57h-2.54zM439.6 251.75h2.54v2.57h-2.54zM454.8 238.88h2.54v2.57h-2.54zM454.8 241.45h2.54v2.57h-2.54zM457.3 259.48h2.54v2.57h-2.54zM457.3 264.62h2.54v2.57h-2.54zM462.4 254.32h2.54v2.57h-2.54zM475.1 259.48h2.54v2.57h-2.54zM490.3 251.75h2.54v2.57h-2.54zM500.4 246.60h2.54v2.57h-2.54zM503.0 251.75h2.54v2.57h-2.54zM508.0 226.00h2.54v2.57h-2.54zM508.0 228.57h2.54v2.57h-2.54zM508.0 249.17h2.54v2.57h-2.54zM515.6 246.60h2.54v2.57h-2.54zM518.2 256.90h2.54v2.57h-2.54zM520.7 228.57h2.54v2.57h-2.54zM520.7 238.88h2.54v2.57h-2.54zM520.7 244.03h2.54v2.57h-2.54zM520.7 254.32h2.54v2.57h-2.54zM525.8 226.00h2.54v2.57h-2.54zM525.8 249.17h2.54v2.57h-2.54zM535.9 231.15h2.54v2.57h-2.54zM535.9 236.30h2.54v2.57h-2.54z"/>
<rect x="414.2" y="226.0" width="126.8" height="41.2" fill="none" stroke="#ddd" stroke-width="0.4"/>
<rect x="403.2" y="226" width="5.4" height="40.8" fill="url(#gg)"/>
<path d="M402.7 266.8H413.7" stroke="#111" stroke-width="0.6"/>
<text x="403.4" y="271.6" font-size="3.4" text-anchor="middle" fill="#333" >-2</text>
<text x="406.6" y="271.6" font-size="3.4" text-anchor="middle" fill="#333" >0</text>
<text x="409.8" y="271.6" font-size="3.4" text-anchor="middle" fill="#333" >2</text>
<text x="407.6" y="275.6" font-size="3.5" text-anchor="middle" fill="#333" >NES</text>
<path d="M414.2 270.2H541L414.2 280.0Z" fill="url(#gn)" stroke="#e07080" stroke-width="0.3"/>
<text x="420.2" y="275.1" font-size="4.6" text-anchor="start" fill="#222" >Immune evasion</text>
<rect x="470.6" y="284.2" width="64.1" height="3.3" fill="url(#gs)"/>
<text x="470.3" y="291.3" font-size="3.5" text-anchor="middle" fill="#333" >-3.0</text>
<text x="502.8" y="291.3" font-size="3.8" text-anchor="middle" fill="#333" >GSVA enrichment score</text>
<text x="534.3" y="291.3" font-size="3.5" text-anchor="middle" fill="#333" >3.0</text>
<text x="6.2" y="331.9" font-size="10.2" text-anchor="start" fill="#111" stroke="#111" stroke-width="0.12">D</text>
<path d="M22.1 333.5V349.5 M22.1 375.5V402.3H53.6 M82.2 402.3H167" stroke="#222" stroke-width="0.55" fill="none"/>
<circle cx="22.1" cy="332.8" r="0.9" fill="#111"/><path d="M169 402.3L166 401V403.6Z" fill="#111"/>
<text x="23.9" y="362.2" font-size="5.2" text-anchor="middle" fill="#222" transform="rotate(-90 23.9 362.2)">UMAP_2</text>
<text x="56.8" y="405.0" font-size="5.2" text-anchor="start" fill="#222" >UMAP_1</text>
<path d="M44.0 330.5V384.3H107.5" stroke="#777" stroke-width="0.45" fill="none"/>
<line x1="44.0" y1="384.3" x2="44.0" y2="385.3" stroke="#888" stroke-width="0.35" />
<text x="44.0" y="390.4" font-size="4.6" text-anchor="middle" fill="#333" >-10</text>
<line x1="56.7" y1="384.3" x2="56.7" y2="385.3" stroke="#888" stroke-width="0.35" />
<text x="56.7" y="390.4" font-size="4.6" text-anchor="middle" fill="#333" >-5</text>
<line x1="69.4" y1="384.3" x2="69.4" y2="385.3" stroke="#888" stroke-width="0.35" />
<text x="69.4" y="390.4" font-size="4.6" text-anchor="middle" fill="#333" >0</text>
<line x1="82.1" y1="384.3" x2="82.1" y2="385.3" stroke="#888" stroke-width="0.35" />
<text x="82.1" y="390.4" font-size="4.6" text-anchor="middle" fill="#333" >5</text>
<line x1="94.8" y1="384.3" x2="94.8" y2="385.3" stroke="#888" stroke-width="0.35" />
<text x="94.8" y="390.4" font-size="4.6" text-anchor="middle" fill="#333" >10</text>
<line x1="107.5" y1="384.3" x2="107.5" y2="385.3" stroke="#888" stroke-width="0.35" />
<text x="107.5" y="390.4" font-size="4.6" text-anchor="middle" fill="#333" >15</text>
<line x1="43.0" y1="345.5" x2="44.0" y2="345.5" stroke="#888" stroke-width="0.35" />
<text x="42.2" y="347.1" font-size="4.6" text-anchor="end" fill="#333" >10</text>
<line x1="43.0" y1="361.5" x2="44.0" y2="361.5" stroke="#888" stroke-width="0.35" />
<text x="42.2" y="363.1" font-size="4.6" text-anchor="end" fill="#333" >0</text>
<line x1="43.0" y1="377.5" x2="44.0" y2="377.5" stroke="#888" stroke-width="0.35" />
<text x="42.2" y="379.1" font-size="4.6" text-anchor="end" fill="#333" >-10</text>
<text x="77.2" y="326.7" font-size="7.35" text-anchor="middle" fill="#222" stroke="#222" stroke-width="0.1">Color by Cluster</text>
<path d="M68.6 334.3L70.2 334.3L70.3 330.5L68.5 330.5Z" fill="#00B8E0" stroke="#00B8E0" stroke-width="0.5" stroke-linejoin="round"/>
<path d="M51.9 343.9L55.4 343.3L59.0 343.9L59.0 345.2L55.4 345.5L51.9 345.2Z" fill="#00BFC4" stroke="#00BFC4" stroke-width="0.5" stroke-linejoin="round"/>
<path d="M83.1 346.9L88.5 346.8L91.2 348.2L93.8 350.9L92.8 351.4L88.7 349.8L83.6 348.4Z" fill="#C9B030" stroke="#C9B030" stroke-width="0.5" stroke-linejoin="round"/>
<path d="M94.3 353.8L96.1 353.8L96.1 355.1L94.3 355.1Z" fill="#F4C0D8" stroke="#F4C0D8" stroke-width="0.5" stroke-linejoin="round"/>
<path d="M47.0 359.6L49.1 358.0L52.9 357.8L56.7 357.7L59.5 359.6L59.2 363.1L55.4 365.0L50.4 364.1L47.0 362.8Z" fill="#F08A80" stroke="#F08A80" stroke-width="0.5" stroke-linejoin="round"/>
<path d="M52.1 364.4L56.2 364.4L57.7 367.9L59.7 372.4L57.7 375.3L54.2 374.9L51.9 370.3Z" fill="#E0A040" stroke="#E0A040" stroke-width="0.5" stroke-linejoin="round"/>
<path d="M58.2 374.3L60.5 374.3L60.5 375.7L58.2 375.7Z" fill="#B080F0" stroke="#B080F0" stroke-width="0.5" stroke-linejoin="round"/>
<path d="M61.5 364.1L65.6 364.5L68.9 365.2L68.6 366.3L64.8 366.0L61.5 365.7Z" fill="#00C0C8" stroke="#00C0C8" stroke-width="0.5" stroke-linejoin="round"/>
<path d="M85.1 368.5L87.2 368.2L87.7 370.5L85.4 370.8Z" fill="#00B050" stroke="#00B050" stroke-width="0.5" stroke-linejoin="round"/>
<path d="M84.1 372.2L85.9 372.2L85.9 373.5L84.1 373.5Z" fill="#F080C0" stroke="#F080C0" stroke-width="0.5" stroke-linejoin="round"/>
<path d="M80.3 380.1L82.1 379.1L82.9 380.4L81.1 381.2Z" fill="#60A0F0" stroke="#60A0F0" stroke-width="0.5" stroke-linejoin="round"/>
<path d="M95.3 372.2L97.3 371.1L100.4 370.8L103.4 371.6L102.7 373.8L98.6 374.5L95.8 373.7Z" fill="#A8C030" stroke="#A8C030" stroke-width="0.5" stroke-linejoin="round"/>
<path d="M99.6 367.3L101.2 367.3L101.2 369.2L99.6 369.2Z" fill="#40C060" stroke="#40C060" stroke-width="0.5" stroke-linejoin="round"/>
<path stroke="#00B8E0" stroke-width="6" stroke-linecap="square" transform="scale(.1)" d="M690 3296h0m13 1h0m-5 0h0m9 9h0m-20 9h0m2 0h0m-2 7h0m19 0h0m-28 6h0m9 3h0m16 1h0m-3 3h0m4 2h0m-12 1h0m6 2h0"/>
<path stroke="#00BFC4" stroke-width="6" stroke-linecap="square" transform="scale(.1)" d="M517 3428h0m33 0h0m4 0h0m-42 4h0m66 0h0m5 3h0m-55 2h0m43-1h0m20 0h0m-1 2h0m-12 4h0m-60 0h0m18 1h0m-17 3h0m38 0h0m-42 0h0m-2 3h0m9 2h0m9-1h0m1 2h0m56 0h0m-28 5h0m4 1h0m-4 0h0"/>
<path stroke="#C9B030" stroke-width="6" stroke-linecap="square" transform="scale(.1)" d="M876 3459h0m-31 2h0m47 1h0m-29 1h0m22 1h0m-57 2h0m1 0h0m3 5h0m34 0h0m-28 0h0m51 1h0m-32 1h0m53 2h0m-2 3h0m-58 4h0m65-1h0m-68 1h0m-14 1h0m13 8h0m66 0h0m-56 2h0m46 1h0m-41 3h0m17 0h0m25 1h0m-6 1h0m8 1h0m19 2h0m13 0h0m-49 0h0m43 2h0m-4 2h0m1 9h0m-9 0h0"/>
<path stroke="#F4C0D8" stroke-width="6" stroke-linecap="square" transform="scale(.1)" d="M947 3532h0m9 3h0m-23 8h0m20-1h0m3 1h0m-24 2h0m11 2h0m20 1h0m-12 4h0m1 2h0"/>
<path stroke="#F08A80" stroke-width="6" stroke-linecap="square" transform="scale(.1)" d="M568 3566h0m-49 4h0m5 0h0m-8 1h0m21 2h0m-29 1h0m44 3h0m-30 1h0m-13 3h0m-43 1h0m82-1h0m39 1h0m-111 1h0m22 1h0m81 0h0m14 1h0m-116 1h0m1 2h0m101 0h0m11 5h0m-121 3h0m129 5h0m-133 2h0m125 0h0m-3 1h0m-115 6h0m118 3h0m-122 5h0m112 6h0m-101 1h0m-16 2h0m33 4h0m7 1h0m9-1h0m-28 1h0m7 1h0m-20 1h0m51 2h0m33 0h0m-47 4h0m26 0h0m46 1h0m-26 2h0m8 0h0m-60 2h0m19 0h0m36 6h0"/>
<path stroke="#E0A040" stroke-width="6" stroke-linecap="square" transform="scale(.1)" d="M534 3634h0m5 1h0m7 1h0m-27 4h0m40 3h0m-43 3h0m22 2h0m-14 2h0m49 3h0m-56 1h0m46 1h0m6 0h0m-8 5h0m22 13h0m-8 3h0m-9 1h0m17 0h0m-60 5h0m51 0h0m-56 2h0m-9 6h0m3 3h0m9 2h0m55 1h0m-59 8h0m71 4h0m0 13h0m-53 8h0m-9 2h0m61 1h0m-59 1h0m11 3h0m35 3h0m-40 1h0m7-1h0m30 2h0m3-1h0m-5 5h0m-30 3h0m12 2h0m8 4h0m8 0h0m-3 1h0"/>
<path stroke="#B080F0" stroke-width="6" stroke-linecap="square" transform="scale(.1)" d="M591 3735h0m-5 5h0m-10 1h0m6 4h0m3 5h0m9 1h0m-9 5h0m14 0h0m-12 5h0m13 1h0"/>
<path stroke="#00C0C8" stroke-width="6" stroke-linecap="square" transform="scale(.1)" d="M622 3633h0m12-1h0m-19 2h0m18-1h0m3 5h0m46 4h0m-64 0h0m56 0h0m-56 3h0m23 1h0m2 1h0m26 0h0m23 0h0m-67 2h0m33 0h0m22 1h0m-64 2h0m24 0h0m43 0h0m-43 2h0m18-1h0m6 0h0m-9 1h0m-1 6h0m-33 2h0m-1 0h0"/>
<path stroke="#00B050" stroke-width="6" stroke-linecap="square" transform="scale(.1)" d="M861 3676h0m-10 3h0m-3 4h0m24 2h0m-30 3h0m17 1h0m7 3h0m7 4h0m-15 4h0m9-1h0m-11 3h0m19 1h0m-16 5h0"/>
<path stroke="#F080C0" stroke-width="6" stroke-linecap="square" transform="scale(.1)" d="M850 3712h0m0 9h0m-10 0h0m9 3h0m-4 0h0m16 4h0m3 2h0m-30 2h0m25 0h0m-6 7h0"/>
<path stroke="#60A0F0" stroke-width="6" stroke-linecap="square" transform="scale(.1)" d="M812 3790h0m15 7h0m-11 3h0m-16 1h0m17 0h0m-1 1h0m11 1h0m-20 2h0m-5 1h0m-3 2h0"/>
<path stroke="#A8C030" stroke-width="6" stroke-linecap="square" transform="scale(.1)" d="M977 3699h0m19 3h0m14-1h0m-25 2h0m-2 0h0m46 1h0m-65 4h0m73 1h0m-13 5h0m0 0h0m-6 0h0m-59 1h0m77 3h0m-88 2h0m7 0h0m75 5h0m-72 6h0m40 0h0m25 2h0m-1 0h0m-66 1h0m15 2h0m-10 2h0m26-1h0m-26 1h0m27 2h0m8 3h0m-1 2h0m8 1h0"/>
<path stroke="#40C060" stroke-width="6" stroke-linecap="square" transform="scale(.1)" d="M996 3666h0m18 6h0m-12 4h0m-10 1h0m2 0h0m13 0h0m1 5h0m-11 3h0m4 0h0m9 3h0"/>
<circle cx="110.4" cy="343.4" r="0.65" fill="#F08A80"/>
<text x="113.0" y="344.2" font-size="2.2" text-anchor="start" fill="#777" >0</text>
<circle cx="110.4" cy="345.9" r="0.65" fill="#E0A040"/>
<text x="113.0" y="346.8" font-size="2.2" text-anchor="start" fill="#777" >1</text>
<circle cx="110.4" cy="348.5" r="0.65" fill="#C8B040"/>
<text x="113.0" y="349.3" font-size="2.2" text-anchor="start" fill="#777" >2</text>
<circle cx="110.4" cy="351.0" r="0.65" fill="#A8C040"/>
<text x="113.0" y="351.8" font-size="2.2" text-anchor="start" fill="#777" >3</text>
<circle cx="110.4" cy="353.6" r="0.65" fill="#40B860"/>
<text x="113.0" y="354.4" font-size="2.2" text-anchor="start" fill="#777" >4</text>
<circle cx="110.4" cy="356.1" r="0.65" fill="#40C0A0"/>
<text x="113.0" y="356.9" font-size="2.2" text-anchor="start" fill="#777" >5</text>
<circle cx="110.4" cy="358.7" r="0.65" fill="#40C8C8"/>
<text x="113.0" y="359.5" font-size="2.2" text-anchor="start" fill="#777" >6</text>
<circle cx="110.4" cy="361.2" r="0.65" fill="#40B8E8"/>
<text x="113.0" y="362.1" font-size="2.2" text-anchor="start" fill="#777" >7</text>
<circle cx="110.4" cy="363.8" r="0.65" fill="#80A8F0"/>
<text x="113.0" y="364.6" font-size="2.2" text-anchor="start" fill="#777" >8</text>
<circle cx="110.4" cy="366.3" r="0.65" fill="#C090F0"/>
<text x="113.0" y="367.1" font-size="2.2" text-anchor="start" fill="#777" >9</text>
<circle cx="110.4" cy="368.9" r="0.65" fill="#F090E0"/>
<text x="113.0" y="369.7" font-size="2.2" text-anchor="start" fill="#777" >10</text>
<circle cx="110.4" cy="371.4" r="0.65" fill="#E8A8C8"/>
<text x="113.0" y="372.2" font-size="2.2" text-anchor="start" fill="#777" >11</text>
<path d="M139.2 330.5V384.3H202.7" stroke="#777" stroke-width="0.45" fill="none"/>
<line x1="139.2" y1="384.3" x2="139.2" y2="385.3" stroke="#888" stroke-width="0.35" />
<text x="139.2" y="390.4" font-size="4.6" text-anchor="middle" fill="#333" >-10</text>
<line x1="151.9" y1="384.3" x2="151.9" y2="385.3" stroke="#888" stroke-width="0.35" />
<text x="151.9" y="390.4" font-size="4.6" text-anchor="middle" fill="#333" >-5</text>
<line x1="164.6" y1="384.3" x2="164.6" y2="385.3" stroke="#888" stroke-width="0.35" />
<text x="164.6" y="390.4" font-size="4.6" text-anchor="middle" fill="#333" >0</text>
<line x1="177.3" y1="384.3" x2="177.3" y2="385.3" stroke="#888" stroke-width="0.35" />
<text x="177.3" y="390.4" font-size="4.6" text-anchor="middle" fill="#333" >5</text>
<line x1="190.0" y1="384.3" x2="190.0" y2="385.3" stroke="#888" stroke-width="0.35" />
<text x="190.0" y="390.4" font-size="4.6" text-anchor="middle" fill="#333" >10</text>
<line x1="202.7" y1="384.3" x2="202.7" y2="385.3" stroke="#888" stroke-width="0.35" />
<text x="202.7" y="390.4" font-size="4.6" text-anchor="middle" fill="#333" >15</text>
<line x1="138.2" y1="345.5" x2="139.2" y2="345.5" stroke="#888" stroke-width="0.35" />
<text x="137.4" y="347.1" font-size="4.6" text-anchor="end" fill="#333" >10</text>
<line x1="138.2" y1="361.5" x2="139.2" y2="361.5" stroke="#888" stroke-width="0.35" />
<text x="137.4" y="363.1" font-size="4.6" text-anchor="end" fill="#333" >0</text>
<line x1="138.2" y1="377.5" x2="139.2" y2="377.5" stroke="#888" stroke-width="0.35" />
<text x="137.4" y="379.1" font-size="4.6" text-anchor="end" fill="#333" >-10</text>
<text x="169.6" y="326.7" font-size="7.35" text-anchor="middle" fill="#222" stroke="#222" stroke-width="0.1">Tumor cells:  <tspan font-style="italic">CLDN4</tspan></text>
<path d="M163.8 334.3L165.4 334.3L165.5 330.5L163.7 330.5Z" fill="#C2C2C2" stroke="#C2C2C2" stroke-width="0.5" stroke-linejoin="round"/>
<path d="M147.1 343.9L150.6 343.3L154.2 343.9L154.2 345.2L150.6 345.5L147.1 345.2Z" fill="#C2C2C2" stroke="#C2C2C2" stroke-width="0.5" stroke-linejoin="round"/>
<path d="M178.3 346.9L183.6 346.8L186.4 348.2L189.0 350.9L188.0 351.4L183.9 349.8L178.8 348.4Z" fill="#E8553A" stroke="#E8553A" stroke-width="0.5" stroke-linejoin="round"/>
<path d="M189.5 353.8L191.3 353.8L191.3 355.1L189.5 355.1Z" fill="#E8553A" stroke="#E8553A" stroke-width="0.5" stroke-linejoin="round"/>
<path d="M142.2 359.6L144.3 358.0L148.1 357.8L151.9 357.7L154.7 359.6L154.4 363.1L150.6 365.0L145.5 364.1L142.2 362.8Z" fill="#C2C2C2" stroke="#C2C2C2" stroke-width="0.5" stroke-linejoin="round"/>
<path d="M147.3 364.4L151.4 364.4L152.9 367.9L154.9 372.4L152.9 375.3L149.4 374.9L147.1 370.3Z" fill="#C2C2C2" stroke="#C2C2C2" stroke-width="0.5" stroke-linejoin="round"/>
<path d="M153.4 374.3L155.7 374.3L155.7 375.7L153.4 375.7Z" fill="#C2C2C2" stroke="#C2C2C2" stroke-width="0.5" stroke-linejoin="round"/>
<path d="M156.7 364.1L160.8 364.5L164.1 365.2L163.8 366.3L160.0 366.0L156.7 365.7Z" fill="#C2C2C2" stroke="#C2C2C2" stroke-width="0.5" stroke-linejoin="round"/>
<path d="M180.3 368.5L182.4 368.2L182.9 370.5L180.6 370.8Z" fill="#C2C2C2" stroke="#C2C2C2" stroke-width="0.5" stroke-linejoin="round"/>
<path d="M179.3 372.2L181.1 372.2L181.1 373.5L179.3 373.5Z" fill="#C2C2C2" stroke="#C2C2C2" stroke-width="0.5" stroke-linejoin="round"/>
<path d="M175.5 380.1L177.3 379.1L178.1 380.4L176.3 381.2Z" fill="#C2C2C2" stroke="#C2C2C2" stroke-width="0.5" stroke-linejoin="round"/>
<path d="M190.5 372.2L192.5 371.1L195.6 370.8L198.6 371.6L197.9 373.8L193.8 374.5L191.0 373.7Z" fill="#C2C2C2" stroke="#C2C2C2" stroke-width="0.5" stroke-linejoin="round"/>
<path d="M194.8 367.3L196.3 367.3L196.3 369.2L194.8 369.2Z" fill="#C2C2C2" stroke="#C2C2C2" stroke-width="0.5" stroke-linejoin="round"/>
<path stroke="#C2C2C2" stroke-width="6" stroke-linecap="square" transform="scale(.1)" d="M1645 3296h0m-6 5h0m7 5h0m-14 2h0m23-1h0m-22 1h0m-5 4h0m21 0h0m-1 0h0m-8 9h0m-10 5h0m7 1h0m10 9h0m11 4h0m0 2h0m-168 87h0m-3 3h0m25 4h0m-38 2h0m18 1h0m27 0h0m20-1h0m3 0h0m-63 3h0m-9 2h0m60 0h0m-68 0h0m55 1h0m28-1h0m-23 2h0m-4 0h0m13 0h0m-46 1h0m47 1h0m-3 1h0m-34 3h0m-16 1h0m-4 2h0m19 3h0m13 111h0m0 0h0m22 2h0m-19 1h0m-67 4h0m-9 1h0m53 0h0m-57 2h0m22 0h0m24 0h0m13 0h0m-54 2h0m6 1h0m16 1h0m15 1h0m63 3h0m-4 7h0m1-1h0m14 2h0m-4 9h0m-128 3h0m11 1h0m-1 4h0m111 0h0m1 2h0m-121 2h0m9 2h0m120 9h0m-117 4h0m2 0h0m8 1h0m93 0h0m-99 0h0m103 0h0m1 1h0m-83 1h0m-4 0h0m33 4h0m13 0h0m64-1h0m-63 1h0m62 1h0m47-1h0m-81 3h0m48-1h0m-106 2h0m52-1h0m65 0h0m16 0h0m-26 2h0m28 0h0m-121 0h0m18 2h0m19-1h0m-32 1h0m1 1h0m2-1h0m18 1h0m13 0h0m101 0h0m-129 1h0m22 0h0m52 0h0m44 0h0m-143 2h0m0 1h0m34-1h0m60 1h0m30 0h0m25 1h0m-142 0h0m121 1h0m-15 1h0m-56 1h0m117 2h0m2 1h0m-46 1h0m37 0h0m13 0h0m-171 1h0m-6 1h0m105 1h0m35 1h0m-132 3h0m51 1h0m101-1h0m1 0h0m1 2h0m322 2h0m-431 3h0m432 4h0m-491 0h0m476 3h0m-131 1h0m131 0h0m-132 2h0m149 1h0m2-1h0m1 1h0m-146 0h0m137 1h0m-487 1h0m62-1h0m304 3h0m-29 2h0m29 0h0m-28 3h0m23 1h0m-355 1h0m485 0h0m-421 1h0m428 2h0m-134 1h0m-297 2h0m281 0h0m153 0h0m-25 1h0m17 0h0m-20 2h0m-102 0h0m114 1h0m-472 1h0m478 0h0m-415 1h0m-61 0h0m320 0h0m19 0h0m96 3h0m44 0h0m7 0h0m3 1h0m-491 1h0m65 1h0m5 4h0m253-1h0m104 0h0m20 2h0m-126 2h0m-252 1h0m251 0h0m-247 1h0m352 1h0m74-1h0m-65 2h0m-112 2h0m181 0h0m-438 0h0m8 0h0m429 1h0m-490 1h0m314 0h0m-9 1h0m180 1h0m-175 1h0m114-1h0m-4 2h0m9 1h0m-100 2h0m-288 0h0m374 0h0m46 1h0m14 0h0m10-1h0m-423 2h0m251 1h0m-267 1h0m6-1h0m255 1h0m-303 3h0m2-1h0m55 0h0m-17 2h0m387 0h0m23 0h0m2 1h0m-384 2h0m-76 1h0m451 0h0m-381 2h0m-38 4h0m3 0h0m25 0h0m-49 1h0m56 2h0m-37 1h0m-1 2h0m38 1h0m-3 1h0m208 26h0m-3 2h0m2 2h0m20 1h0m-1 8h0m-8 0h0m6 0h0m-8 6h0m4 3h0m-16 4h0"/>
<path stroke="#E8553A" stroke-width="6" stroke-linecap="square" transform="scale(.1)" d="M1808 3464h0m-22 1h0m12 1h0m47-1h0m-56 3h0m3 1h0m45 0h0m17 0h0m-64 2h0m-3 1h0m54 0h0m15 1h0m-71 2h0m79 1h0m-82 3h0m4 1h0m7 1h0m63-1h0m16 2h0m-76 1h0m20 2h0m-21 2h0m78 4h0m-58 4h0m38 0h0m6 3h0m-4 1h0m33 1h0m-50 0h0m9 2h0m36 2h0m-12 1h0m13 1h0m-8 3h0m21 20h0m-1 4h0m1 4h0m6 2h0m-13 1h0m12 1h0m-7 3h0m20 2h0m-30 4h0m3 5h0"/>
<path d="M219.6 330.5V384.3H283.1" stroke="#777" stroke-width="0.45" fill="none"/>
<line x1="219.6" y1="384.3" x2="219.6" y2="385.3" stroke="#888" stroke-width="0.35" />
<text x="219.6" y="390.4" font-size="4.6" text-anchor="middle" fill="#333" >-10</text>
<line x1="232.3" y1="384.3" x2="232.3" y2="385.3" stroke="#888" stroke-width="0.35" />
<text x="232.3" y="390.4" font-size="4.6" text-anchor="middle" fill="#333" >-5</text>
<line x1="245.0" y1="384.3" x2="245.0" y2="385.3" stroke="#888" stroke-width="0.35" />
<text x="245.0" y="390.4" font-size="4.6" text-anchor="middle" fill="#333" >0</text>
<line x1="257.7" y1="384.3" x2="257.7" y2="385.3" stroke="#888" stroke-width="0.35" />
<text x="257.7" y="390.4" font-size="4.6" text-anchor="middle" fill="#333" >5</text>
<line x1="270.4" y1="384.3" x2="270.4" y2="385.3" stroke="#888" stroke-width="0.35" />
<text x="270.4" y="390.4" font-size="4.6" text-anchor="middle" fill="#333" >10</text>
<line x1="283.1" y1="384.3" x2="283.1" y2="385.3" stroke="#888" stroke-width="0.35" />
<text x="283.1" y="390.4" font-size="4.6" text-anchor="middle" fill="#333" >15</text>
<line x1="218.6" y1="345.5" x2="219.6" y2="345.5" stroke="#888" stroke-width="0.35" />
<text x="217.8" y="347.1" font-size="4.6" text-anchor="end" fill="#333" >10</text>
<line x1="218.6" y1="361.5" x2="219.6" y2="361.5" stroke="#888" stroke-width="0.35" />
<text x="217.8" y="363.1" font-size="4.6" text-anchor="end" fill="#333" >0</text>
<line x1="218.6" y1="377.5" x2="219.6" y2="377.5" stroke="#888" stroke-width="0.35" />
<text x="217.8" y="379.1" font-size="4.6" text-anchor="end" fill="#333" >-10</text>
<text x="252.2" y="326.7" font-size="7.35" text-anchor="middle" fill="#222" stroke="#222" stroke-width="0.1">Fibroblasts:  <tspan font-style="italic">DCN</tspan></text>
<path d="M244.2 334.3L245.8 334.3L245.9 330.5L244.1 330.5Z" fill="#C2C2C2" stroke="#C2C2C2" stroke-width="0.5" stroke-linejoin="round"/>
<path d="M227.5 343.9L231.0 343.3L234.6 343.9L234.6 345.2L231.0 345.5L227.5 345.2Z" fill="#C2C2C2" stroke="#C2C2C2" stroke-width="0.5" stroke-linejoin="round"/>
<path d="M258.7 346.9L264.1 346.8L266.8 348.2L269.4 350.9L268.4 351.4L264.3 349.8L259.2 348.4Z" fill="#C2C2C2" stroke="#C2C2C2" stroke-width="0.5" stroke-linejoin="round"/>
<path d="M269.9 353.8L271.7 353.8L271.7 355.1L269.9 355.1Z" fill="#C2C2C2" stroke="#C2C2C2" stroke-width="0.5" stroke-linejoin="round"/>
<path d="M222.6 359.6L224.7 358.0L228.5 357.8L232.3 357.7L235.1 359.6L234.8 363.1L231.0 365.0L225.9 364.1L222.6 362.8Z" fill="#C2C2C2" stroke="#C2C2C2" stroke-width="0.5" stroke-linejoin="round"/>
<path d="M227.7 364.4L231.8 364.4L233.3 367.9L235.3 372.4L233.3 375.3L229.8 374.9L227.5 370.3Z" fill="#C2C2C2" stroke="#C2C2C2" stroke-width="0.5" stroke-linejoin="round"/>
<path d="M233.8 374.3L236.1 374.3L236.1 375.7L233.8 375.7Z" fill="#C2C2C2" stroke="#C2C2C2" stroke-width="0.5" stroke-linejoin="round"/>
<path d="M237.1 364.1L241.2 364.5L244.5 365.2L244.2 366.3L240.4 366.0L237.1 365.7Z" fill="#C2C2C2" stroke="#C2C2C2" stroke-width="0.5" stroke-linejoin="round"/>
<path d="M260.7 368.5L262.8 368.2L263.3 370.5L261.0 370.8Z" fill="#C2C2C2" stroke="#C2C2C2" stroke-width="0.5" stroke-linejoin="round"/>
<path d="M259.7 372.2L261.5 372.2L261.5 373.5L259.7 373.5Z" fill="#C2C2C2" stroke="#C2C2C2" stroke-width="0.5" stroke-linejoin="round"/>
<path d="M255.9 380.1L257.7 379.1L258.5 380.4L256.7 381.2Z" fill="#C2C2C2" stroke="#C2C2C2" stroke-width="0.5" stroke-linejoin="round"/>
<path d="M270.9 372.2L272.9 371.1L276.0 370.8L279.0 371.6L278.3 373.8L274.2 374.5L271.4 373.7Z" fill="#E8553A" stroke="#E8553A" stroke-width="0.5" stroke-linejoin="round"/>
<path d="M275.2 367.3L276.8 367.3L276.8 369.2L275.2 369.2Z" fill="#E8553A" stroke="#E8553A" stroke-width="0.5" stroke-linejoin="round"/>
<path stroke="#C2C2C2" stroke-width="6" stroke-linecap="square" transform="scale(.1)" d="M2449 3295h0m-12 7h0m20 2h0m-18 3h0m6 3h0m-6 1h0m4 4h0m5 4h0m-8 2h0m22 1h0m-10 7h0m-3 3h0m-13 2h0m4 0h0m16 3h0m-154 87h0m1 1h0m7 1h0m-11 2h0m20-1h0m11 3h0m13 0h0m-4 2h0m-62 5h0m13 1h0m-13 1h0m72 0h0m-10 0h0m-65 4h0m18 1h0m54 1h0m-26 2h0m-22 4h0m-5 3h0m-9 2h0m-4 0h0m34 1h0m7 0h0m-13 2h0m319-1h0m-19 7h0m49 2h0m-20 1h0m13 0h0m-56 2h0m9 0h0m27 1h0m6-1h0m23 2h0m-68 0h0m0 0h0m-11 2h0m67 3h0m-50 2h0m74 0h0m-60 4h0m-15 0h0m22 2h0m51 2h0m-81 1h0m9 1h0m79 2h0m-63 2h0m34 2h0m5 1h0m-5 3h0m0 2h0m43 2h0m-11 4h0m10 1h0m0 1h0m7 1h0m-27 6h0m45 15h0m-14 7h0m0 1h0m9 0h0m-14 1h0m11 1h0m-3 1h0m9 1h0m5 4h0m-2 2h0m-407 19h0m-5 1h0m-44 2h0m-7 3h0m71-1h0m-32 2h0m-25 1h0m41 0h0m6 0h0m-66 2h0m21 1h0m63 0h0m6 0h0m-114 6h0m20-1h0m91 2h0m-105 2h0m1 1h0m110 0h0m-121 3h0m124 0h0m-126 7h0m3 4h0m8 1h0m124 2h0m-5 2h0m-6 1h0m-115 6h0m117 1h0m-125 6h0m15 2h0m106 4h0m-98 1h0m8 1h0m142 2h0m-80 1h0m-9 0h0m35 0h0m-79 4h0m7-1h0m111 0h0m31 0h0m-82 2h0m97 0h0m5 0h0m-173 0h0m32 0h0m112 1h0m-133 1h0m76-1h0m48 0h0m39 1h0m-124 0h0m-21 1h0m30 1h0m71 0h0m-111 1h0m6-1h0m18 2h0m65 0h0m49-1h0m-93 4h0m-35 1h0m14 0h0m137 0h0m-62 0h0m-5 1h0m-90 1h0m19 1h0m149 0h0m-167 1h0m97 0h0m14 0h0m-3 1h0m35-1h0m5 0h0m-148 3h0m128 0h0m1-1h0m28 0h0m1 2h0m-160 1h0m52 2h0m111 1h0m-50 1h0m-109 3h0m43 4h0m3 2h0m1 0h0m4 1h0m-13 2h0m-38 0h0m59 4h0m269 0h0m-339 1h0m346 6h0m-4 4h0m21-1h0m-7 6h0m-289 1h0m4 0h0m7 1h0m282 1h0m-19 2h0m0 0h0m26 0h0m-5 1h0m-354 4h0m333-1h0m4 2h0m-13 3h0m-5 5h0m-258 1h0m-53 3h0m303 0h0m-236 4h0m-75 3h0m322 0h0m-321 1h0m16 0h0m314 2h0m-271 4h0m277 1h0m2 0h0m-274 1h0m13 0h0m248 0h0m-263 1h0m252 1h0m16 3h0m-270 2h0m-34 1h0m301 0h0m-270 0h0m17 3h0m-34 0h0m22 3h0m-48 1h0m-5 0h0m41 1h0m34 0h0m-47 1h0m36 1h0m-29 1h0m37-1h0m-19 2h0m-2 0h0m-20 2h0m38-1h0m214 29h0m-9 2h0m1 4h0m-4 3h0m16 6h0m-9 1h0m4 1h0m16 1h0m-7 5h0m-12 9h0"/>
<path stroke="#E8553A" stroke-width="6" stroke-linecap="square" transform="scale(.1)" d="M2748 3668h0m9 2h0m0 4h0m-6 2h0m-2 2h0m13 7h0m-5 6h0m0 0h0m4 0h0m9 4h0m-9 5h0m3 1h0m-37 2h0m21 2h0m18-1h0m-33 2h0m-12 2h0m63 0h0m-73 2h0m-4 2h0m13 4h0m69-1h0m-77 3h0m-4 3h0m72 2h0m8 2h0m-82 2h0m52 5h0m1 2h0m-35 2h0m27-1h0m-16 3h0m5 0h0m-2 1h0m40-1h0m-61 1h0m64 2h0m-28 1h0m10 2h0"/>
<path d="M303.1 330.5V384.3H366.6" stroke="#777" stroke-width="0.45" fill="none"/>
<line x1="303.1" y1="384.3" x2="303.1" y2="385.3" stroke="#888" stroke-width="0.35" />
<text x="303.1" y="390.4" font-size="4.6" text-anchor="middle" fill="#333" >-10</text>
<line x1="315.8" y1="384.3" x2="315.8" y2="385.3" stroke="#888" stroke-width="0.35" />
<text x="315.8" y="390.4" font-size="4.6" text-anchor="middle" fill="#333" >-5</text>
<line x1="328.5" y1="384.3" x2="328.5" y2="385.3" stroke="#888" stroke-width="0.35" />
<text x="328.5" y="390.4" font-size="4.6" text-anchor="middle" fill="#333" >0</text>
<line x1="341.2" y1="384.3" x2="341.2" y2="385.3" stroke="#888" stroke-width="0.35" />
<text x="341.2" y="390.4" font-size="4.6" text-anchor="middle" fill="#333" >5</text>
<line x1="353.9" y1="384.3" x2="353.9" y2="385.3" stroke="#888" stroke-width="0.35" />
<text x="353.9" y="390.4" font-size="4.6" text-anchor="middle" fill="#333" >10</text>
<line x1="366.6" y1="384.3" x2="366.6" y2="385.3" stroke="#888" stroke-width="0.35" />
<text x="366.6" y="390.4" font-size="4.6" text-anchor="middle" fill="#333" >15</text>
<line x1="302.1" y1="345.5" x2="303.1" y2="345.5" stroke="#888" stroke-width="0.35" />
<text x="301.3" y="347.1" font-size="4.6" text-anchor="end" fill="#333" >10</text>
<line x1="302.1" y1="361.5" x2="303.1" y2="361.5" stroke="#888" stroke-width="0.35" />
<text x="301.3" y="363.1" font-size="4.6" text-anchor="end" fill="#333" >0</text>
<line x1="302.1" y1="377.5" x2="303.1" y2="377.5" stroke="#888" stroke-width="0.35" />
<text x="301.3" y="379.1" font-size="4.6" text-anchor="end" fill="#333" >-10</text>
<text x="334.0" y="326.7" font-size="7.35" text-anchor="middle" fill="#222" stroke="#222" stroke-width="0.1">T cells : <tspan font-style="italic">CD3E</tspan></text>
<path d="M327.7 334.3L329.3 334.3L329.4 330.5L327.6 330.5Z" fill="#C2C2C2" stroke="#C2C2C2" stroke-width="0.5" stroke-linejoin="round"/>
<path d="M311.0 343.9L314.5 343.3L318.1 343.9L318.1 345.2L314.5 345.5L311.0 345.2Z" fill="#C2C2C2" stroke="#C2C2C2" stroke-width="0.5" stroke-linejoin="round"/>
<path d="M342.2 346.9L347.6 346.8L350.3 348.2L352.9 350.9L351.9 351.4L347.8 349.8L342.7 348.4Z" fill="#C2C2C2" stroke="#C2C2C2" stroke-width="0.5" stroke-linejoin="round"/>
<path d="M353.4 353.8L355.2 353.8L355.2 355.1L353.4 355.1Z" fill="#C2C2C2" stroke="#C2C2C2" stroke-width="0.5" stroke-linejoin="round"/>
<path d="M306.1 359.6L308.2 358.0L312.0 357.8L315.8 357.7L318.6 359.6L318.3 363.1L314.5 365.0L309.5 364.1L306.1 362.8Z" fill="#E8553A" stroke="#E8553A" stroke-width="0.5" stroke-linejoin="round"/>
<path d="M311.2 364.4L315.3 364.4L316.8 367.9L318.8 372.4L316.8 375.3L313.3 374.9L311.0 370.3Z" fill="#E8553A" stroke="#E8553A" stroke-width="0.5" stroke-linejoin="round"/>
<path d="M317.3 374.3L319.6 374.3L319.6 375.7L317.3 375.7Z" fill="#E07060" stroke="#E07060" stroke-width="0.5" stroke-linejoin="round"/>
<path d="M320.6 364.1L324.7 364.5L328.0 365.2L327.7 366.3L323.9 366.0L320.6 365.7Z" fill="#E8553A" stroke="#E8553A" stroke-width="0.5" stroke-linejoin="round"/>
<path d="M344.2 368.5L346.3 368.2L346.8 370.5L344.5 370.8Z" fill="#C2C2C2" stroke="#C2C2C2" stroke-width="0.5" stroke-linejoin="round"/>
<path d="M343.2 372.2L345.0 372.2L345.0 373.5L343.2 373.5Z" fill="#C2C2C2" stroke="#C2C2C2" stroke-width="0.5" stroke-linejoin="round"/>
<path d="M339.4 380.1L341.2 379.1L342.0 380.4L340.2 381.2Z" fill="#C2C2C2" stroke="#C2C2C2" stroke-width="0.5" stroke-linejoin="round"/>
<path d="M354.4 372.2L356.4 371.1L359.5 370.8L362.5 371.6L361.8 373.8L357.7 374.5L354.9 373.7Z" fill="#C2C2C2" stroke="#C2C2C2" stroke-width="0.5" stroke-linejoin="round"/>
<path d="M358.7 367.3L360.2 367.3L360.2 369.2L358.7 369.2Z" fill="#C2C2C2" stroke="#C2C2C2" stroke-width="0.5" stroke-linejoin="round"/>
<path stroke="#C2C2C2" stroke-width="6" stroke-linecap="square" transform="scale(.1)" d="M3267 3300h0m24 1h0m-19 0h0m24 6h0m-29 2h0m-1 2h0m-1 3h0m29 2h0m-17 6h0m-2 5h0m14 7h0m-8 4h0m16 1h0m-30 2h0m4 3h0m-147 81h0m24 0h0m-19 7h0m-15 1h0m-2 1h0m56 0h0m14 1h0m-27 1h0m22 0h0m-57 2h0m12 0h0m35 1h0m-3 3h0m-52 1h0m47 0h0m-32 1h0m-20 1h0m31 0h0m3 3h0m17 4h0m14 1h0m-69 1h0m14 1h0m31 2h0m306 5h0m14 1h0m14 2h0m-29 2h0m20 1h0m-27 1h0m20 1h0m1-1h0m-39 1h0m0 2h0m10-1h0m14 0h0m38 6h0m-36 2h0m-18 3h0m60 1h0m1-1h0m-52 9h0m11 0h0m24 1h0m34 1h0m-40 2h0m13 2h0m-11 0h0m14 2h0m34 1h0m-26 0h0m-26 3h0m52-1h0m0 1h0m7 1h0m-38 2h0m34 7h0m-24 2h0m47 13h0m-6 1h0m-1 5h0m-10 2h0m16 5h0m-7 1h0m14 2h0m-22 2h0m-8 5h0m6 2h0m58 109h0m3 7h0m-4 5h0m-136 1h0m-7 0h0m14 0h0m133 4h0m0 2h0m-133 1h0m130 0h0m15 5h0m-173 1h0m157 1h0m9 1h0m-9 1h0m-129 2h0m133 5h0m-143 0h0m136 2h0m-29 2h0m2 0h0m24 0h0m6-1h0m-129 2h0m4-1h0m-18 1h0m159 0h0m18 2h0m-70 1h0m-3 0h0m40 1h0m14 0h0m-162 2h0m158-1h0m-138 1h0m-2 2h0m-7 7h0m174-1h0m-186 3h0m3 1h0m1 1h0m-20 4h0m10 1h0m10 0h0m174 1h0m-80 1h0m9 0h0m-99 1h0m91 1h0m60 0h0m-160 0h0m172 1h0m3 0h0m-177 0h0m177 3h0m-44 2h0m37 0h0m14 2h0m-44 0h0m-20 2h0m20-1h0m-34 1h0m-138 45h0m1 8h0m8 1h0m-18 3h0m17 0h0m0 3h0m-4 1h0m-14 3h0m8 4h0m-11 0h0"/>
<path stroke="#E8553A" stroke-width="6" stroke-linecap="square" transform="scale(.1)" d="M3151 3567h0m-29 1h0m0 1h0m15 1h0m-60 1h0m6 0h0m87 1h0m-94 2h0m31 0h0m29 0h0m31-1h0m-38 2h0m-59 2h0m40 0h0m55 1h0m-78 1h0m-9 5h0m84 0h0m14 9h0m-8 1h0m8 0h0m-121 15h0m128 1h0m-120 4h0m-8 3h0m122-1h0m-122 3h0m2 0h0m117 6h0m3 3h0m-120 0h0m127 5h0m-63 0h0m6 1h0m-58 0h0m2 0h0m166 1h0m-152 0h0m6 1h0m8-1h0m66 0h0m-64 2h0m12-1h0m54 0h0m74 1h0m-152 0h0m86 2h0m40 1h0m6 0h0m17 0h0m-130 0h0m23 1h0m106 1h0m-90 2h0m63 0h0m-4 1h0m48 0h0m-109 0h0m3 1h0m5-1h0m97 0h0m-120 1h0m22 1h0m78 0h0m41-1h0m-152 1h0m88 0h0m-7 1h0m38 0h0m-100 1h0m118 0h0m-119 2h0m26-1h0m56 3h0m8 0h0m22 0h0m15 2h0m7 1h0m-44 0h0m56 2h0m-27 1h0m-13 3h0m7 2h0m-146 3h0m63 1h0m-6 6h0m-52 2h0m55 2h0m-51 6h0m50 2h0m18 3h0m-80 1h0m2-1h0m68 0h0m-61 8h0m-2 0h0m70 0h0m-64 1h0m59 2h0m-59 2h0m59 0h0m-56 7h0m70 14h0m-70 7h0m61 3h0m-52 1h0m44 1h0m-43 6h0m17 3h0m31-1h0m-12 1h0m2 2h0m2 1h0m-40 0h0m18 1h0m10 5h0"/>
<path stroke="#E07060" stroke-width="6" stroke-linecap="square" transform="scale(.1)" d="M3186 3736h0m-10 3h0m10 2h0m-2 3h0m10 4h0m-23 0h0m29 5h0m-13 1h0m-15 2h0m3 0h0"/>
<path d="M383.6 330.5V384.3H447.1" stroke="#777" stroke-width="0.45" fill="none"/>
<line x1="383.6" y1="384.3" x2="383.6" y2="385.3" stroke="#888" stroke-width="0.35" />
<text x="383.6" y="390.4" font-size="4.6" text-anchor="middle" fill="#333" >-10</text>
<line x1="396.3" y1="384.3" x2="396.3" y2="385.3" stroke="#888" stroke-width="0.35" />
<text x="396.3" y="390.4" font-size="4.6" text-anchor="middle" fill="#333" >-5</text>
<line x1="409.0" y1="384.3" x2="409.0" y2="385.3" stroke="#888" stroke-width="0.35" />
<text x="409.0" y="390.4" font-size="4.6" text-anchor="middle" fill="#333" >0</text>
<line x1="421.7" y1="384.3" x2="421.7" y2="385.3" stroke="#888" stroke-width="0.35" />
<text x="421.7" y="390.4" font-size="4.6" text-anchor="middle" fill="#333" >5</text>
<line x1="434.4" y1="384.3" x2="434.4" y2="385.3" stroke="#888" stroke-width="0.35" />
<text x="434.4" y="390.4" font-size="4.6" text-anchor="middle" fill="#333" >10</text>
<line x1="447.1" y1="384.3" x2="447.1" y2="385.3" stroke="#888" stroke-width="0.35" />
<text x="447.1" y="390.4" font-size="4.6" text-anchor="middle" fill="#333" >15</text>
<line x1="382.6" y1="345.5" x2="383.6" y2="345.5" stroke="#888" stroke-width="0.35" />
<text x="381.8" y="347.1" font-size="4.6" text-anchor="end" fill="#333" >10</text>
<line x1="382.6" y1="361.5" x2="383.6" y2="361.5" stroke="#888" stroke-width="0.35" />
<text x="381.8" y="363.1" font-size="4.6" text-anchor="end" fill="#333" >0</text>
<line x1="382.6" y1="377.5" x2="383.6" y2="377.5" stroke="#888" stroke-width="0.35" />
<text x="381.8" y="379.1" font-size="4.6" text-anchor="end" fill="#333" >-10</text>
<text x="417.0" y="326.7" font-size="7.35" text-anchor="middle" fill="#222" stroke="#222" stroke-width="0.1">Macrophages:  <tspan font-style="italic">CD68</tspan></text>
<path d="M408.2 334.3L409.8 334.3L409.9 330.5L408.1 330.5Z" fill="#C2C2C2" stroke="#C2C2C2" stroke-width="0.5" stroke-linejoin="round"/>
<path d="M391.5 343.9L395.0 343.3L398.6 343.9L398.6 345.2L395.0 345.5L391.5 345.2Z" fill="#E8553A" stroke="#E8553A" stroke-width="0.5" stroke-linejoin="round"/>
<path d="M422.7 346.9L428.1 346.8L430.8 348.2L433.4 350.9L432.4 351.4L428.3 349.8L423.2 348.4Z" fill="#C2C2C2" stroke="#C2C2C2" stroke-width="0.5" stroke-linejoin="round"/>
<path d="M433.9 353.8L435.7 353.8L435.7 355.1L433.9 355.1Z" fill="#C2C2C2" stroke="#C2C2C2" stroke-width="0.5" stroke-linejoin="round"/>
<path d="M386.6 359.6L388.7 358.0L392.5 357.8L396.3 357.7L399.1 359.6L398.8 363.1L395.0 365.0L390.0 364.1L386.6 362.8Z" fill="#C2C2C2" stroke="#C2C2C2" stroke-width="0.5" stroke-linejoin="round"/>
<path d="M391.7 364.4L395.8 364.4L397.3 367.9L399.3 372.4L397.3 375.3L393.8 374.9L391.5 370.3Z" fill="#C2C2C2" stroke="#C2C2C2" stroke-width="0.5" stroke-linejoin="round"/>
<path d="M397.8 374.3L400.1 374.3L400.1 375.7L397.8 375.7Z" fill="#C2C2C2" stroke="#C2C2C2" stroke-width="0.5" stroke-linejoin="round"/>
<path d="M401.1 364.1L405.2 364.5L408.5 365.2L408.2 366.3L404.4 366.0L401.1 365.7Z" fill="#C2C2C2" stroke="#C2C2C2" stroke-width="0.5" stroke-linejoin="round"/>
<path d="M424.7 368.5L426.8 368.2L427.3 370.5L425.0 370.8Z" fill="#C2C2C2" stroke="#C2C2C2" stroke-width="0.5" stroke-linejoin="round"/>
<path d="M423.7 372.2L425.5 372.2L425.5 373.5L423.7 373.5Z" fill="#C2C2C2" stroke="#C2C2C2" stroke-width="0.5" stroke-linejoin="round"/>
<path d="M419.9 380.1L421.7 379.1L422.5 380.4L420.7 381.2Z" fill="#C2C2C2" stroke="#C2C2C2" stroke-width="0.5" stroke-linejoin="round"/>
<path d="M434.9 372.2L436.9 371.1L440.0 370.8L443.0 371.6L442.3 373.8L438.2 374.5L435.4 373.7Z" fill="#C2C2C2" stroke="#C2C2C2" stroke-width="0.5" stroke-linejoin="round"/>
<path d="M439.2 367.3L440.8 367.3L440.8 369.2L439.2 369.2Z" fill="#C2C2C2" stroke="#C2C2C2" stroke-width="0.5" stroke-linejoin="round"/>
<path stroke="#C2C2C2" stroke-width="6" stroke-linecap="square" transform="scale(.1)" d="M4082 3303h0m15 2h0m-4 2h0m-5 3h0m11 4h0m2 1h0m-26 4h0m2 3h0m5 5h0m0 1h0m5 6h0m11 2h0m-9 3h0m-5 4h0m15 3h0m151 112h0m22 1h0m6 0h0m-35 1h0m-16 4h0m47 3h0m2-1h0m-9 1h0m10 1h0m14 1h0m-6 3h0m9 4h0m-68 1h0m7 1h0m7 0h0m69 0h0m-78 4h0m-7 0h0m88 2h0m-74 2h0m69-1h0m-37 4h0m0 4h0m12 0h0m45 1h0m-53 3h0m11 0h0m42 2h0m-45 1h0m12 3h0m33 1h0m-11 3h0m2 0h0m-11 3h0m37 22h0m13 0h0m-9 0h0m13 1h0m-22 9h0m3 0h0m-5 1h0m3 4h0m13 3h0m-18 3h0m-437 17h0m6 0h0m-13 1h0m67 2h0m-11 1h0m0-1h0m7 1h0m-10 3h0m19 0h0m-49 1h0m1 0h0m56-1h0m-94 2h0m100 2h0m-101 2h0m-14 2h0m120 6h0m-118 1h0m110 0h0m18 2h0m-128 2h0m125 0h0m0 12h0m-130 1h0m134 1h0m-135 3h0m4 3h0m-5 7h0m23 0h0m106 0h0m-112 1h0m103 4h0m2 0h0m36 5h0m-143 2h0m50 1h0m-9 1h0m10-1h0m42 1h0m-80 0h0m51 1h0m17 1h0m66-1h0m-19 2h0m-119 1h0m81-1h0m55 0h0m-97 2h0m134 0h0m-157 0h0m178 1h0m-158 0h0m16 0h0m18 0h0m70 1h0m42-1h0m-135 1h0m18 1h0m71-1h0m-102 2h0m34 2h0m112 0h0m-134 0h0m19 0h0m106 1h0m-111 0h0m78 0h0m23 1h0m-31 0h0m21 0h0m-97 1h0m78 1h0m75-1h0m-133 1h0m60 1h0m7 2h0m-102 1h0m123 0h0m0 2h0m16 0h0m-35 1h0m28 1h0m34 1h0m-29 1h0m333 2h0m-422 3h0m0 0h0m416 3h0m18 0h0m-482 1h0m-5 2h0m44 0h0m304 4h0m139 0h0m-483 2h0m492 1h0m-495 1h0m335 1h0m-272 0h0m268 1h0m150 1h0m0-1h0m-143 1h0m150 1h0m-141 2h0m-292 2h0m423 0h0m-148 4h0m23 1h0m123 0h0m-120 1h0m-289 2h0m265 4h0m137 0h0m-134 0h0m-346 1h0m363 0h0m146 1h0m-440 2h0m296 1h0m138 0h0m-40 2h0m-377 1h0m358 1h0m83-1h0m-49 1h0m51 0h0m-175 1h0m95 1h0m53 0h0m-421 0h0m404 1h0m36 0h0m-1 2h0m-165 0h0m96 1h0m17 0h0m54 1h0m-440 2h0m-63 1h0m324 1h0m-333 0h0m323 0h0m-247 2h0m258 1h0m95-1h0m-352 2h0m246 0h0m-307 1h0m298 0h0m17 2h0m-325 3h0m10 1h0m426 0h0m50-1h0m-413 1h0m254 1h0m139-1h0m-459 2h0m459 0h0m-21 2h0m-384 1h0m-8 1h0m260 0h0m119 0h0m-114 2h0m125 0h0m14 1h0m8-1h0m26 0h0m-443 2h0m19 0h0m-9 1h0m433 0h0m-416 2h0m5-1h0m-61 2h0m35 0h0m-23 2h0m19-1h0m25 0h0m394 1h0m-407 5h0m-35 2h0m49-1h0m-40 1h0m16 0h0m23 4h0m201 29h0m28 3h0m-31 2h0m28-1h0m-9 5h0m-13 1h0m6 2h0m-11 1h0m17 5h0m-3 2h0"/>
<path stroke="#E8553A" stroke-width="6" stroke-linecap="square" transform="scale(.1)" d="M3968 3427h0m-14 2h0m-17 2h0m28 1h0m-38 3h0m6-1h0m-8 2h0m28-1h0m22 0h0m-67 2h0m36-1h0m26 7h0m-20 1h0m-1 1h0m15 2h0m22 0h0m-61 2h0m-5 1h0m26 0h0m-6 1h0m43 2h0m-52 0h0m5 1h0m28 5h0"/>
<path d="M460.3 330.5V384.3H523.8" stroke="#777" stroke-width="0.45" fill="none"/>
<line x1="460.3" y1="384.3" x2="460.3" y2="385.3" stroke="#888" stroke-width="0.35" />
<text x="460.3" y="390.4" font-size="4.6" text-anchor="middle" fill="#333" >-10</text>
<line x1="473.0" y1="384.3" x2="473.0" y2="385.3" stroke="#888" stroke-width="0.35" />
<text x="473.0" y="390.4" font-size="4.6" text-anchor="middle" fill="#333" >-5</text>
<line x1="485.7" y1="384.3" x2="485.7" y2="385.3" stroke="#888" stroke-width="0.35" />
<text x="485.7" y="390.4" font-size="4.6" text-anchor="middle" fill="#333" >0</text>
<line x1="498.4" y1="384.3" x2="498.4" y2="385.3" stroke="#888" stroke-width="0.35" />
<text x="498.4" y="390.4" font-size="4.6" text-anchor="middle" fill="#333" >5</text>
<line x1="511.1" y1="384.3" x2="511.1" y2="385.3" stroke="#888" stroke-width="0.35" />
<text x="511.1" y="390.4" font-size="4.6" text-anchor="middle" fill="#333" >10</text>
<line x1="523.8" y1="384.3" x2="523.8" y2="385.3" stroke="#888" stroke-width="0.35" />
<text x="523.8" y="390.4" font-size="4.6" text-anchor="middle" fill="#333" >15</text>
<line x1="459.3" y1="345.5" x2="460.3" y2="345.5" stroke="#888" stroke-width="0.35" />
<text x="458.5" y="347.1" font-size="4.6" text-anchor="end" fill="#333" >10</text>
<line x1="459.3" y1="361.5" x2="460.3" y2="361.5" stroke="#888" stroke-width="0.35" />
<text x="458.5" y="363.1" font-size="4.6" text-anchor="end" fill="#333" >0</text>
<line x1="459.3" y1="377.5" x2="460.3" y2="377.5" stroke="#888" stroke-width="0.35" />
<text x="458.5" y="379.1" font-size="4.6" text-anchor="end" fill="#333" >-10</text>
<text x="493.8" y="326.7" font-size="7.35" text-anchor="middle" fill="#222" stroke="#222" stroke-width="0.1">B cells: <tspan font-style="italic">CD79A</tspan></text>
<path d="M484.9 334.3L486.5 334.3L486.6 330.5L484.8 330.5Z" fill="#E83020" stroke="#E83020" stroke-width="0.5" stroke-linejoin="round"/>
<path d="M468.2 343.9L471.7 343.3L475.3 343.9L475.3 345.2L471.7 345.5L468.2 345.2Z" fill="#C2C2C2" stroke="#C2C2C2" stroke-width="0.5" stroke-linejoin="round"/>
<path d="M499.4 346.9L504.8 346.8L507.5 348.2L510.1 350.9L509.1 351.4L505.0 349.8L499.9 348.4Z" fill="#C2C2C2" stroke="#C2C2C2" stroke-width="0.5" stroke-linejoin="round"/>
<path d="M510.6 353.8L512.4 353.8L512.4 355.1L510.6 355.1Z" fill="#C2C2C2" stroke="#C2C2C2" stroke-width="0.5" stroke-linejoin="round"/>
<path d="M463.3 359.6L465.4 358.0L469.2 357.8L473.0 357.7L475.8 359.6L475.5 363.1L471.7 365.0L466.7 364.1L463.3 362.8Z" fill="#C2C2C2" stroke="#C2C2C2" stroke-width="0.5" stroke-linejoin="round"/>
<path d="M468.4 364.4L472.5 364.4L474.0 367.9L476.0 372.4L474.0 375.3L470.5 374.9L468.2 370.3Z" fill="#B8B0B0" stroke="#B8B0B0" stroke-width="0.5" stroke-linejoin="round"/>
<path d="M474.5 374.3L476.8 374.3L476.8 375.7L474.5 375.7Z" fill="#C2C2C2" stroke="#C2C2C2" stroke-width="0.5" stroke-linejoin="round"/>
<path d="M477.8 364.1L481.9 364.5L485.2 365.2L484.9 366.3L481.1 366.0L477.8 365.7Z" fill="#C8A8A0" stroke="#C8A8A0" stroke-width="0.5" stroke-linejoin="round"/>
<path d="M501.4 368.5L503.5 368.2L504.0 370.5L501.7 370.8Z" fill="#C2C2C2" stroke="#C2C2C2" stroke-width="0.5" stroke-linejoin="round"/>
<path d="M500.4 372.2L502.2 372.2L502.2 373.5L500.4 373.5Z" fill="#C2C2C2" stroke="#C2C2C2" stroke-width="0.5" stroke-linejoin="round"/>
<path d="M496.6 380.1L498.4 379.1L499.2 380.4L497.4 381.2Z" fill="#C2C2C2" stroke="#C2C2C2" stroke-width="0.5" stroke-linejoin="round"/>
<path d="M511.6 372.2L513.6 371.1L516.7 370.8L519.7 371.6L519.0 373.8L514.9 374.5L512.1 373.7Z" fill="#C2C2C2" stroke="#C2C2C2" stroke-width="0.5" stroke-linejoin="round"/>
<path d="M515.9 367.3L517.5 367.3L517.5 369.2L515.9 369.2Z" fill="#C2C2C2" stroke="#C2C2C2" stroke-width="0.5" stroke-linejoin="round"/>
<path stroke="#E83020" stroke-width="6" stroke-linecap="square" transform="scale(.1)" d="M4841 3296h0m4 2h0m3 6h0m10 0h0m9 1h0m-5 5h0m-11 1h0m-12 3h0m28 9h0m-10 2h0m4 1h0m-12 6h0m13 6h0m-6 6h0m-10 4h0"/>
<path stroke="#C2C2C2" stroke-width="6" stroke-linecap="square" transform="scale(.1)" d="M4691 3426h0m34-1h0m-28 1h0m28 3h0m-53 2h0m61 0h0m-58 2h0m77 1h0m-35 1h0m-41 2h0m17 1h0m44 0h0m-43 6h0m63 0h0m-54 4h0m26 0h0m-5 2h0m-34 1h0m55 3h0m-59 2h0m70-1h0m-13 1h0m294 2h0m-322 0h0m-10 1h0m343 4h0m-58 1h0m22-1h0m24 1h0m22 1h0m-1 3h0m-16 1h0m14 0h0m-18 1h0m-23 2h0m-16 4h0m4-1h0m66 5h0m-42 5h0m-25 2h0m1 1h0m66 0h0m-15 1h0m-31 2h0m4-1h0m59 2h0m-72 0h0m77 0h0m3 3h0m2 2h0m-44 0h0m15 1h0m-4 7h0m32 1h0m-28 0h0m11 2h0m-6 3h0m16 7h0m32 15h0m-2 1h0m-19 3h0m5 2h0m0-1h0m12 1h0m-2 1h0m2 6h0m-10 8h0m10 2h0m-406 15h0m21 0h0m-74 3h0m74 1h0m-14 3h0m-59 1h0m76 2h0m-63 1h0m2 1h0m11-1h0m12 0h0m-57 2h0m8 1h0m109 1h0m-19 4h0m4 2h0m-101 4h0m3 1h0m-14 1h0m126 0h0m-3 2h0m11 4h0m-137 2h0m8 2h0m-8 3h0m3 0h0m122 2h0m-119 5h0m119 3h0m9 2h0m-12 4h0m-88 1h0m2-1h0m-8 6h0m42 2h0m-26 0h0m60 0h0m-82 3h0m20 0h0m19 0h0m33 1h0m9 2h0m-47 2h0m21 0h0m18 0h0m7 0h0m-63 1h0m501 20h0m-1 1h0m-6 6h0m-141 2h0m144 0h0m8 4h0m-7 3h0m-132 1h0m6 1h0m124-1h0m-7 3h0m-126 3h0m16 0h0m117 2h0m12 0h0m-157 2h0m0 2h0m19 2h0m1 0h0m95 6h0m-119 1h0m176-1h0m-35 1h0m-141 1h0m181 0h0m-182 1h0m140 3h0m31 1h0m-159 1h0m105 5h0m58 0h0m-60 1h0m-112 1h0m114 0h0m68 0h0m-76 1h0m-118 2h0m109 0h0m80 2h0m-184 3h0m-6 0h0m192 1h0m-172 0h0m89 2h0m9 0h0m-109 1h0m4 1h0m172 1h0m-175 0h0m171 1h0m-167 1h0m5 1h0m101 1h0m-349 0h0m371 1h0m6 3h0m31 1h0m8-1h0m-22 4h0m-414 1h0m432 0h0m-416 1h0m379 0h0m-10 1h0m-372 2h0m-6 1h0m396 0h0m-408 2h0m4 3h0m16 1h0m-32 3h0m13 3h0m232 26h0m-6 9h0m-3 0h0m11 1h0m-1 2h0m-23 2h0m31 1h0m-15 7h0m13 1h0m-8 6h0"/>
<path stroke="#B8B0B0" stroke-width="6" stroke-linecap="square" transform="scale(.1)" d="M4699 3634h0m-16 1h0m22 2h0m22 3h0m-41 1h0m26 3h0m16 0h0m-44 2h0m-2 1h0m32 2h0m22 5h0m-63 2h0m1 1h0m12 4h0m52 0h0m-5 3h0m-59 3h0m67 9h0m-58 10h0m65 3h0m-4 3h0m10 9h0m-72 1h0m62 2h0m6 5h0m-60 7h0m2 4h0m63 1h0m3-1h0m-68 4h0m65 2h0m-68 2h0m8 2h0m-7 1h0m55 7h0m-34 6h0m12-1h0m25 1h0m-29 2h0m2 2h0m8 0h0m4 0h0m15 5h0"/>
<path stroke="#C8A8A0" stroke-width="6" stroke-linecap="square" transform="scale(.1)" d="M4772 3635h0m-1 2h0m64 0h0m-63 1h0m16 3h0m21-1h0m22 1h0m4 2h0m0 1h0m-48 2h0m-7 0h0m-9 1h0m84 1h0m-36 0h0m-9 1h0m1 0h0m-6 1h0m8 2h0m13 2h0m18 0h0m-31 3h0m12 1h0m-35 4h0m22 3h0m19 0h0m18 1h0"/>
<defs><linearGradient id="ge" x1="0" x2="0" y1="0" y2="1"><stop offset="0" stop-color="#EE2A10"/><stop offset="1" stop-color="#C8C8C8"/></linearGradient></defs>
<rect x="528.8" y="345.5" width="5.3" height="27.6" fill="url(#ge)"/>
<text x="536.8" y="349.2" font-size="4.4" text-anchor="start" fill="#333" >4</text>
<text x="536.8" y="355.6" font-size="4.4" text-anchor="start" fill="#333" >3</text>
<text x="536.8" y="362.1" font-size="4.4" text-anchor="start" fill="#333" >2</text>
<text x="536.8" y="368.6" font-size="4.4" text-anchor="start" fill="#333" >1</text>
<text x="536.8" y="375.0" font-size="4.4" text-anchor="start" fill="#333" >0</text>
</svg></body></html>
